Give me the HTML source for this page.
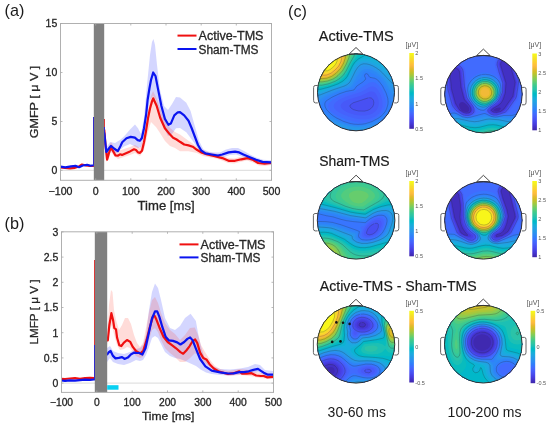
<!DOCTYPE html>
<html><head><meta charset="utf-8"><style>html,body{margin:0;padding:0;background:#fff;overflow:hidden;}svg{display:block;filter:blur(0.4px);}</style></head><body>
<svg width="550" height="426" viewBox="0 0 550 426" font-family="'Liberation Sans', sans-serif">
<rect width="550" height="426" fill="#ffffff"/>
<text x="4.5" y="15.7" font-size="16.2" text-anchor="start" fill="#1a1a1a" >(a)</text>
<polygon points="104.3,128.0 106.0,148.0 110.0,142.0 115.0,143.0 120.0,140.0 124.0,136.6 130.0,129.6 135.0,124.6 138.0,128.2 141.0,134.0 144.0,118.0 147.0,85.0 150.0,55.0 152.0,42.0 153.5,39.0 155.0,45.0 157.0,65.0 160.0,90.0 164.0,106.0 168.0,110.0 172.0,104.0 176.0,97.0 180.0,97.4 186.3,102.7 190.6,111.1 194.8,126.0 199.0,140.7 203.3,149.2 208.0,151.5 214.0,152.5 220.0,152.5 226.0,149.5 232.0,148.0 238.0,148.0 244.0,151.0 250.0,154.5 256.0,157.5 263.0,159.8 271.0,160.3 271.0,164.5 262.0,164.0 255.0,162.0 248.0,159.5 242.0,156.5 236.0,154.5 230.0,155.0 224.0,157.0 218.0,157.8 212.0,156.8 205.0,155.5 201.1,152.4 196.9,147.0 192.7,140.7 186.3,132.3 180.0,128.0 176.0,128.3 172.0,134.0 168.0,136.0 164.0,128.0 160.0,116.0 156.0,100.0 153.0,96.0 150.0,100.0 147.0,113.0 144.0,136.0 141.0,147.0 138.0,148.0 135.0,146.5 130.0,144.0 124.0,146.5 120.0,150.0 115.0,154.0 110.0,150.0 106.0,156.0 104.3,138.0" fill="#3c46ff" fill-opacity="0.22"/>
<polygon points="104.3,126.0 106.0,152.0 109.0,146.0 111.0,142.0 114.0,147.0 118.0,151.0 124.0,149.0 130.0,147.0 135.0,145.0 140.0,148.0 144.0,136.0 148.0,110.0 151.0,96.0 153.0,91.0 156.0,97.0 160.0,108.0 165.0,120.0 170.0,128.0 175.0,132.0 180.0,134.4 188.5,140.7 196.9,146.5 203.0,150.5 210.0,152.5 216.0,153.8 222.0,155.5 228.0,158.0 234.0,158.5 240.0,157.0 247.0,156.0 253.0,157.5 259.0,161.0 265.0,161.5 271.0,161.0 271.0,165.0 265.0,166.0 259.0,165.5 253.0,162.5 247.0,160.5 240.0,162.0 234.0,163.5 228.0,163.0 222.0,160.5 216.0,158.5 210.0,157.5 203.0,156.0 196.9,153.0 188.5,151.3 180.0,151.3 175.0,148.0 170.0,146.0 165.0,141.0 160.0,133.0 156.0,127.0 153.0,124.0 151.0,122.0 148.0,132.0 144.0,150.0 140.0,156.0 135.0,153.0 130.0,155.0 124.0,157.0 118.0,159.0 114.0,156.0 111.0,152.0 109.0,158.0 106.0,162.0 104.3,134.0" fill="#ff3020" fill-opacity="0.17"/>
<line x1="60.5" y1="170.3" x2="271.5" y2="170.3" stroke="#dadada" stroke-width="1"/>
<polyline points="60.5,167.5 65.0,168.0 70.0,168.3 75.0,167.8 79.0,166.5 82.0,164.5 86.0,165.5 90.0,166.0 93.4,166.0 94.2,166.0 94.2,117.0" fill="none" stroke="#f01010" stroke-width="2.2" stroke-linejoin="round"/>
<polyline points="103.8,119.0 103.8,130.0 104.3,130.0 105.5,145.0 107.1,159.6 109.0,153.0 110.9,147.4 113.0,151.0 115.5,155.5 118.0,155.6 120.0,154.3 122.0,154.9 126.0,153.2 130.0,151.4 134.0,149.3 136.0,150.0 138.0,152.4 140.0,152.8 142.0,150.7 144.0,142.3 146.0,131.0 148.0,118.3 150.0,108.5 152.0,101.4 153.2,98.3 156.7,106.0 160.2,117.7 164.9,128.3 169.6,134.1 173.1,137.7 176.6,139.5 180.0,141.8 184.2,144.5 188.5,145.4 192.7,146.7 196.9,149.8 201.1,152.4 207.5,154.5 213.8,156.0 222.3,158.1 228.6,160.8 235.0,160.8 241.3,159.3 247.7,158.1 252.9,159.8 258.2,163.0 264.6,163.6 271.0,162.9" fill="none" stroke="#f01010" stroke-width="2.2" stroke-linejoin="round"/>
<polyline points="60.5,166.6 65.3,167.4 71.1,166.3 75.5,165.9 79.1,167.2 82.7,165.5 87.1,164.8 90.7,165.8 93.4,165.2 94.2,165.2 94.2,117.0" fill="none" stroke="#0a14f0" stroke-width="2.2" stroke-linejoin="round"/>
<polyline points="103.8,127.0 103.8,133.0 104.3,133.0 106.3,152.0 108.5,149.0 110.9,145.9 114.0,148.5 117.8,151.2 120.5,146.0 122.2,142.3 126.5,138.3 130.7,136.9 134.9,137.7 137.7,140.1 139.8,140.8 141.9,138.0 144.0,128.2 146.2,114.1 147.6,100.0 149.5,88.0 151.0,80.0 153.2,72.5 155.5,76.0 157.9,88.4 161.4,106.0 164.9,118.9 168.4,124.8 170.8,123.6 174.3,115.4 177.8,112.3 180.0,112.2 184.2,115.4 188.5,120.7 191.6,128.0 194.8,136.5 198.0,145.0 201.1,150.3 205.4,153.4 211.7,154.5 218.0,155.5 222.3,154.5 228.6,152.4 235.0,151.7 239.2,152.4 243.4,154.5 249.8,157.2 256.1,159.8 262.5,161.9 271.0,162.3" fill="none" stroke="#0a14f0" stroke-width="2.2" stroke-linejoin="round"/>
<rect x="93.8" y="23.5" width="10.4" height="156.8" fill="#808080"/>

<rect x="60.5" y="23.5" width="211.0" height="156.8" fill="none" stroke="#b0b0b0" stroke-width="1"/>
<line x1="60.5" y1="180.3" x2="60.5" y2="178.3" stroke="#a8a8a8" stroke-width="0.8"/>
<line x1="60.5" y1="23.5" x2="60.5" y2="25.5" stroke="#a8a8a8" stroke-width="0.8"/>
<text x="60.5" y="195.0" font-size="10.6" text-anchor="middle" fill="#262626" stroke="#262626" stroke-width="0.30" >&#8722;100</text>
<line x1="95.7" y1="180.3" x2="95.7" y2="178.3" stroke="#a8a8a8" stroke-width="0.8"/>
<line x1="95.7" y1="23.5" x2="95.7" y2="25.5" stroke="#a8a8a8" stroke-width="0.8"/>
<text x="95.7" y="195.0" font-size="10.6" text-anchor="middle" fill="#262626" stroke="#262626" stroke-width="0.30" >0</text>
<line x1="130.8" y1="180.3" x2="130.8" y2="178.3" stroke="#a8a8a8" stroke-width="0.8"/>
<line x1="130.8" y1="23.5" x2="130.8" y2="25.5" stroke="#a8a8a8" stroke-width="0.8"/>
<text x="130.8" y="195.0" font-size="10.6" text-anchor="middle" fill="#262626" stroke="#262626" stroke-width="0.30" >100</text>
<line x1="166.0" y1="180.3" x2="166.0" y2="178.3" stroke="#a8a8a8" stroke-width="0.8"/>
<line x1="166.0" y1="23.5" x2="166.0" y2="25.5" stroke="#a8a8a8" stroke-width="0.8"/>
<text x="166.0" y="195.0" font-size="10.6" text-anchor="middle" fill="#262626" stroke="#262626" stroke-width="0.30" >200</text>
<line x1="201.2" y1="180.3" x2="201.2" y2="178.3" stroke="#a8a8a8" stroke-width="0.8"/>
<line x1="201.2" y1="23.5" x2="201.2" y2="25.5" stroke="#a8a8a8" stroke-width="0.8"/>
<text x="201.2" y="195.0" font-size="10.6" text-anchor="middle" fill="#262626" stroke="#262626" stroke-width="0.30" >300</text>
<line x1="236.3" y1="180.3" x2="236.3" y2="178.3" stroke="#a8a8a8" stroke-width="0.8"/>
<line x1="236.3" y1="23.5" x2="236.3" y2="25.5" stroke="#a8a8a8" stroke-width="0.8"/>
<text x="236.3" y="195.0" font-size="10.6" text-anchor="middle" fill="#262626" stroke="#262626" stroke-width="0.30" >400</text>
<line x1="271.5" y1="180.3" x2="271.5" y2="178.3" stroke="#a8a8a8" stroke-width="0.8"/>
<line x1="271.5" y1="23.5" x2="271.5" y2="25.5" stroke="#a8a8a8" stroke-width="0.8"/>
<text x="271.5" y="195.0" font-size="10.6" text-anchor="middle" fill="#262626" stroke="#262626" stroke-width="0.30" >500</text>
<line x1="60.5" y1="170.3" x2="62.5" y2="170.3" stroke="#a8a8a8" stroke-width="0.8"/>
<line x1="271.5" y1="170.3" x2="269.5" y2="170.3" stroke="#a8a8a8" stroke-width="0.8"/>
<text x="57.3" y="174.1" font-size="10.5" text-anchor="end" fill="#262626" stroke="#262626" stroke-width="0.30" >0</text>
<line x1="60.5" y1="121.5" x2="62.5" y2="121.5" stroke="#a8a8a8" stroke-width="0.8"/>
<line x1="271.5" y1="121.5" x2="269.5" y2="121.5" stroke="#a8a8a8" stroke-width="0.8"/>
<text x="57.3" y="125.3" font-size="10.5" text-anchor="end" fill="#262626" stroke="#262626" stroke-width="0.30" >5</text>
<line x1="60.5" y1="72.5" x2="62.5" y2="72.5" stroke="#a8a8a8" stroke-width="0.8"/>
<line x1="271.5" y1="72.5" x2="269.5" y2="72.5" stroke="#a8a8a8" stroke-width="0.8"/>
<text x="57.3" y="76.3" font-size="10.5" text-anchor="end" fill="#262626" stroke="#262626" stroke-width="0.30" >10</text>
<line x1="60.5" y1="23.5" x2="62.5" y2="23.5" stroke="#a8a8a8" stroke-width="0.8"/>
<line x1="271.5" y1="23.5" x2="269.5" y2="23.5" stroke="#a8a8a8" stroke-width="0.8"/>
<text x="57.3" y="27.3" font-size="10.5" text-anchor="end" fill="#262626" stroke="#262626" stroke-width="0.30" >15</text>
<text transform="translate(37.8,102.0) rotate(-90)" font-size="11.6" text-anchor="middle" fill="#262626" stroke="#262626" stroke-width="0.3" textLength="72.7" lengthAdjust="spacingAndGlyphs">GMFP [ &#956; V ]</text>
<text x="166.1" y="210.0" font-size="12.5" text-anchor="middle" fill="#262626" stroke="#262626" stroke-width="0.30" textLength="57.0" lengthAdjust="spacingAndGlyphs" >Time [ms]</text>
<line x1="177.5" y1="35.6" x2="196.5" y2="35.6" stroke="#f01010" stroke-width="2"/>
<line x1="177.5" y1="49.0" x2="196.5" y2="49.0" stroke="#0a14f0" stroke-width="2"/>
<text x="198.5" y="40.2" font-size="12.5" text-anchor="start" fill="#262626" stroke="#262626" stroke-width="0.30" textLength="65.0" lengthAdjust="spacingAndGlyphs" >Active-TMS</text>
<text x="198.5" y="53.6" font-size="12.5" text-anchor="start" fill="#262626" stroke="#262626" stroke-width="0.30" textLength="60.0" lengthAdjust="spacingAndGlyphs" >Sham-TMS</text>
<text x="4.5" y="228.6" font-size="16.2" text-anchor="start" fill="#1a1a1a" >(b)</text>
<polygon points="107.0,348.0 110.0,346.0 113.0,351.0 118.0,353.0 124.0,354.0 130.0,352.0 136.0,349.0 140.0,348.0 143.0,345.0 146.0,335.0 149.0,310.0 152.0,292.0 155.0,283.5 158.0,288.0 161.0,300.0 165.0,318.0 170.0,328.0 175.0,330.0 180.0,326.0 185.0,318.0 190.6,313.7 195.9,321.0 198.0,333.0 201.0,346.5 204.0,356.0 207.5,362.0 212.0,366.0 220.0,369.0 230.0,369.5 240.0,368.5 248.0,367.0 255.0,364.0 260.0,365.0 265.0,370.0 273.0,371.0 273.0,377.0 267.0,377.0 262.0,374.0 258.0,372.0 250.0,373.5 240.0,374.5 230.0,375.5 220.0,375.0 211.7,374.0 206.0,372.5 201.0,369.8 196.0,366.0 190.6,363.4 185.0,361.0 180.0,359.0 175.0,358.0 170.0,356.0 165.0,352.0 161.0,344.0 158.0,338.0 155.0,336.0 152.0,338.0 149.0,347.0 146.0,355.0 143.0,360.0 140.0,361.0 136.0,360.0 130.0,363.0 124.0,365.0 118.0,364.0 113.0,362.0 110.0,358.0 107.0,362.0" fill="#3c46ff" fill-opacity="0.22"/>
<polygon points="107.5,330.0 109.0,305.0 111.0,290.0 112.5,292.0 114.0,310.0 116.0,320.0 119.0,330.0 122.0,325.0 125.0,318.0 128.0,318.0 131.0,324.0 134.0,335.0 137.0,343.0 140.0,347.0 143.0,343.0 146.0,328.0 149.0,312.0 152.0,300.0 155.0,297.0 158.0,303.0 161.0,313.0 165.0,323.0 170.0,330.0 175.0,334.0 180.0,340.0 185.0,335.0 190.0,328.0 194.8,327.5 198.0,335.0 201.0,345.0 205.0,352.0 210.0,360.0 215.0,366.0 220.0,369.0 228.0,371.0 240.0,369.0 250.0,370.0 260.0,373.0 273.0,374.0 273.0,379.0 260.0,378.0 250.0,376.0 240.0,375.0 228.0,376.0 220.0,373.0 215.0,371.0 210.0,367.0 205.0,363.0 201.0,360.0 198.0,356.0 195.0,353.0 190.0,358.0 185.0,362.0 180.0,362.0 175.0,357.0 170.0,353.0 165.0,348.0 161.0,340.0 158.0,332.0 155.0,328.0 152.0,330.0 149.0,340.0 146.0,350.0 143.0,357.0 140.0,358.0 136.0,356.0 133.0,352.0 130.0,348.0 127.0,347.0 124.0,349.0 120.0,350.0 117.0,345.0 115.0,338.0 113.0,330.0 111.0,325.0 109.0,335.0 107.5,345.0" fill="#ff3020" fill-opacity="0.17"/>
<line x1="61.5" y1="383.1" x2="273.5" y2="383.1" stroke="#dadada" stroke-width="1"/>
<polyline points="61.5,378.9 65.0,379.0 70.0,378.5 75.0,378.2 80.0,378.8 85.0,378.0 90.0,377.8 93.9,378.2 95.2,378.2 95.2,260.0" fill="none" stroke="#f01010" stroke-width="2.2" stroke-linejoin="round"/>
<polyline points="106.8,340.0 106.8,340.3 107.8,340.3 109.4,324.7 111.4,313.2 113.0,319.7 114.3,328.0 116.0,329.3 117.1,337.8 119.3,345.2 121.3,346.1 123.7,342.8 127.0,340.0 130.3,341.9 132.8,346.9 136.0,351.0 140.3,353.6 143.4,350.4 146.6,339.9 149.8,327.2 152.9,316.6 154.4,315.6 156.1,318.8 159.3,327.2 163.5,336.7 167.7,342.0 171.9,345.1 176.1,348.3 180.4,352.1 183.2,353.7 186.3,350.5 189.5,346.3 192.7,341.0 195.2,339.5 197.3,343.1 200.1,352.6 203.2,357.9 206.4,359.4 209.6,364.2 213.8,368.5 219.1,371.6 228.0,374.0 233.6,373.2 239.3,371.3 242.1,373.6 246.8,373.6 251.5,373.2 256.2,375.5 260.9,376.0 263.7,376.0 267.4,377.4 273.1,376.9" fill="none" stroke="#f01010" stroke-width="2.2" stroke-linejoin="round"/>
<polyline points="61.5,380.5 65.0,380.8 70.0,380.3 75.0,380.7 80.0,380.2 85.0,379.6 90.0,379.8 93.9,379.5 95.2,379.5 95.2,345.0" fill="none" stroke="#0a14f0" stroke-width="2.2" stroke-linejoin="round"/>
<polyline points="106.8,354.0 106.8,354.3 107.3,354.3 108.5,352.5 110.6,351.0 113.0,355.9 115.5,358.4 118.8,357.9 122.1,357.2 124.5,358.9 127.8,357.6 131.1,354.3 134.4,352.6 137.0,353.0 139.2,352.9 142.4,354.6 145.5,348.3 148.7,333.5 151.9,318.8 155.0,311.4 157.2,311.4 159.3,316.6 162.4,327.2 165.6,336.7 168.8,340.3 173.0,340.9 177.2,342.4 180.4,344.5 184.2,342.0 187.4,338.9 190.1,337.4 192.7,340.4 195.8,348.4 200.1,359.0 205.4,366.3 211.7,370.6 220.1,372.3 228.0,373.5 233.6,373.4 239.3,372.2 244.0,372.2 248.7,371.3 253.4,369.9 258.0,368.9 260.9,370.8 263.7,372.7 267.4,374.6 273.1,374.6" fill="none" stroke="#0a14f0" stroke-width="2.2" stroke-linejoin="round"/>
<rect x="94.8" y="231.8" width="12.4" height="160.6" fill="#808080"/>
<rect x="107.2" y="385.2" width="11.3" height="4.5" fill="#08d0f2"/>
<rect x="61.5" y="231.8" width="212.0" height="160.6" fill="none" stroke="#b0b0b0" stroke-width="1"/>
<line x1="61.5" y1="392.4" x2="61.5" y2="390.4" stroke="#a8a8a8" stroke-width="0.8"/>
<line x1="61.5" y1="231.8" x2="61.5" y2="233.8" stroke="#a8a8a8" stroke-width="0.8"/>
<text x="61.5" y="406.3" font-size="10.3" text-anchor="middle" fill="#262626" stroke="#262626" stroke-width="0.30" >&#8722;100</text>
<line x1="96.8" y1="392.4" x2="96.8" y2="390.4" stroke="#a8a8a8" stroke-width="0.8"/>
<line x1="96.8" y1="231.8" x2="96.8" y2="233.8" stroke="#a8a8a8" stroke-width="0.8"/>
<text x="96.8" y="406.3" font-size="10.3" text-anchor="middle" fill="#262626" stroke="#262626" stroke-width="0.30" >0</text>
<line x1="132.2" y1="392.4" x2="132.2" y2="390.4" stroke="#a8a8a8" stroke-width="0.8"/>
<line x1="132.2" y1="231.8" x2="132.2" y2="233.8" stroke="#a8a8a8" stroke-width="0.8"/>
<text x="132.2" y="406.3" font-size="10.3" text-anchor="middle" fill="#262626" stroke="#262626" stroke-width="0.30" >100</text>
<line x1="167.5" y1="392.4" x2="167.5" y2="390.4" stroke="#a8a8a8" stroke-width="0.8"/>
<line x1="167.5" y1="231.8" x2="167.5" y2="233.8" stroke="#a8a8a8" stroke-width="0.8"/>
<text x="167.5" y="406.3" font-size="10.3" text-anchor="middle" fill="#262626" stroke="#262626" stroke-width="0.30" >200</text>
<line x1="202.8" y1="392.4" x2="202.8" y2="390.4" stroke="#a8a8a8" stroke-width="0.8"/>
<line x1="202.8" y1="231.8" x2="202.8" y2="233.8" stroke="#a8a8a8" stroke-width="0.8"/>
<text x="202.8" y="406.3" font-size="10.3" text-anchor="middle" fill="#262626" stroke="#262626" stroke-width="0.30" >300</text>
<line x1="238.2" y1="392.4" x2="238.2" y2="390.4" stroke="#a8a8a8" stroke-width="0.8"/>
<line x1="238.2" y1="231.8" x2="238.2" y2="233.8" stroke="#a8a8a8" stroke-width="0.8"/>
<text x="238.2" y="406.3" font-size="10.3" text-anchor="middle" fill="#262626" stroke="#262626" stroke-width="0.30" >400</text>
<line x1="273.5" y1="392.4" x2="273.5" y2="390.4" stroke="#a8a8a8" stroke-width="0.8"/>
<line x1="273.5" y1="231.8" x2="273.5" y2="233.8" stroke="#a8a8a8" stroke-width="0.8"/>
<text x="273.5" y="406.3" font-size="10.3" text-anchor="middle" fill="#262626" stroke="#262626" stroke-width="0.30" >500</text>
<line x1="61.5" y1="383.1" x2="63.5" y2="383.1" stroke="#a8a8a8" stroke-width="0.8"/>
<line x1="273.5" y1="383.1" x2="271.5" y2="383.1" stroke="#a8a8a8" stroke-width="0.8"/>
<text x="58.3" y="386.9" font-size="10.5" text-anchor="end" fill="#262626" stroke="#262626" stroke-width="0.30" >0</text>
<line x1="61.5" y1="357.9" x2="63.5" y2="357.9" stroke="#a8a8a8" stroke-width="0.8"/>
<line x1="273.5" y1="357.9" x2="271.5" y2="357.9" stroke="#a8a8a8" stroke-width="0.8"/>
<text x="58.3" y="361.7" font-size="10.5" text-anchor="end" fill="#262626" stroke="#262626" stroke-width="0.30" >0.5</text>
<line x1="61.5" y1="332.7" x2="63.5" y2="332.7" stroke="#a8a8a8" stroke-width="0.8"/>
<line x1="273.5" y1="332.7" x2="271.5" y2="332.7" stroke="#a8a8a8" stroke-width="0.8"/>
<text x="58.3" y="336.5" font-size="10.5" text-anchor="end" fill="#262626" stroke="#262626" stroke-width="0.30" >1</text>
<line x1="61.5" y1="307.5" x2="63.5" y2="307.5" stroke="#a8a8a8" stroke-width="0.8"/>
<line x1="273.5" y1="307.5" x2="271.5" y2="307.5" stroke="#a8a8a8" stroke-width="0.8"/>
<text x="58.3" y="311.3" font-size="10.5" text-anchor="end" fill="#262626" stroke="#262626" stroke-width="0.30" >1.5</text>
<line x1="61.5" y1="282.3" x2="63.5" y2="282.3" stroke="#a8a8a8" stroke-width="0.8"/>
<line x1="273.5" y1="282.3" x2="271.5" y2="282.3" stroke="#a8a8a8" stroke-width="0.8"/>
<text x="58.3" y="286.1" font-size="10.5" text-anchor="end" fill="#262626" stroke="#262626" stroke-width="0.30" >2</text>
<line x1="61.5" y1="257.1" x2="63.5" y2="257.1" stroke="#a8a8a8" stroke-width="0.8"/>
<line x1="273.5" y1="257.1" x2="271.5" y2="257.1" stroke="#a8a8a8" stroke-width="0.8"/>
<text x="58.3" y="260.9" font-size="10.5" text-anchor="end" fill="#262626" stroke="#262626" stroke-width="0.30" >2.5</text>
<line x1="61.5" y1="231.9" x2="63.5" y2="231.9" stroke="#a8a8a8" stroke-width="0.8"/>
<line x1="273.5" y1="231.9" x2="271.5" y2="231.9" stroke="#a8a8a8" stroke-width="0.8"/>
<text x="58.3" y="235.7" font-size="10.5" text-anchor="end" fill="#262626" stroke="#262626" stroke-width="0.30" >3</text>
<text transform="translate(38.3,312.0) rotate(-90)" font-size="11.6" text-anchor="middle" fill="#262626" stroke="#262626" stroke-width="0.3" textLength="65.2" lengthAdjust="spacingAndGlyphs">LMFP [ &#956; V ]</text>
<text x="168.2" y="420.4" font-size="11.8" text-anchor="middle" fill="#262626" stroke="#262626" stroke-width="0.30" textLength="52.5" lengthAdjust="spacingAndGlyphs" >Time [ms]</text>
<line x1="179.5" y1="244.4" x2="198.5" y2="244.4" stroke="#f01010" stroke-width="2"/>
<line x1="179.5" y1="257.4" x2="198.5" y2="257.4" stroke="#0a14f0" stroke-width="2"/>
<text x="200.5" y="249.0" font-size="12.5" text-anchor="start" fill="#262626" stroke="#262626" stroke-width="0.30" textLength="65.0" lengthAdjust="spacingAndGlyphs" >Active-TMS</text>
<text x="200.5" y="262.0" font-size="12.5" text-anchor="start" fill="#262626" stroke="#262626" stroke-width="0.30" textLength="60.0" lengthAdjust="spacingAndGlyphs" >Sham-TMS</text>
<text x="288.0" y="17.3" font-size="16.2" text-anchor="start" fill="#1a1a1a" >(c)</text>
<text x="318.8" y="41.0" font-size="15.5" text-anchor="start" fill="#1a1a1a" stroke="#1a1a1a" stroke-width="0.20" textLength="75.0" lengthAdjust="spacingAndGlyphs" >Active-TMS</text>
<text x="319.2" y="166.1" font-size="15.5" text-anchor="start" fill="#1a1a1a" stroke="#1a1a1a" stroke-width="0.20" textLength="70.4" lengthAdjust="spacingAndGlyphs" >Sham-TMS</text>
<text x="319.8" y="291.3" font-size="15.5" text-anchor="start" fill="#1a1a1a" stroke="#1a1a1a" stroke-width="0.20" textLength="157.0" lengthAdjust="spacingAndGlyphs" >Active-TMS - Sham-TMS</text>
<text x="327.6" y="416.8" font-size="14.0" text-anchor="start" fill="#1a1a1a" >30-60 ms</text>
<text x="447.6" y="416.8" font-size="14.0" text-anchor="start" fill="#1a1a1a" >100-200 ms</text>
<clipPath id="clip_m1"><circle cx="356.00" cy="92.30" r="38.50"/></clipPath>
<g clip-path="url(#clip_m1)">
<rect x="316.5" y="52.8" width="79.0" height="79.0" fill="#4850f3"/>
<path d="M349.1 52.1 362.9 52.1 363.6 52.8 365.7 52.8 366.4 53.5 368.5 53.5 369.2 54.2 370.6 54.2 371.2 54.9 371.9 54.9 372.6 55.6 373.3 55.6 375.4 57 376.1 57 376.8 57.6 377.5 57.6 378.9 59 379.6 59 382.3 61.8 383 61.8 386.5 65.3 386.5 66 389.3 68.7 389.3 69.4 390.6 70.8 390.6 71.5 391.3 72.2 391.3 72.9 392.7 75 392.7 75.7 394.1 77.7 394.1 79.1 394.8 79.8 394.8 81.9 395.5 82.6 395.5 84.7 396.2 85.4 396.2 99.2 395.5 99.9 395.5 102 394.8 102.7 394.8 104.8 394.1 105.5 394.1 106.9 392.7 108.9 392.7 109.6 391.3 111.7 391.3 112.4 390.6 113.1 390.6 113.8 389.3 115.2 389.3 115.9 386.5 118.6 386.5 119.3 383 122.8 382.3 122.8 379.6 125.6 378.9 125.6 377.5 127 376.8 127 376.1 127.6 375.4 127.6 374.7 128.3 374 128.3 373.3 129 372.6 129 371.9 129.7 371.2 129.7 370.6 130.4 369.2 130.4 368.5 131.1 366.4 131.1 365.7 131.8 363.6 131.8 362.9 132.5 349.1 132.5 348.4 131.8 346.3 131.8 345.6 131.1 343.5 131.1 342.8 130.4 341.4 130.4 340.8 129.7 340.1 129.7 339.4 129 338.7 129 338 128.3 337.3 128.3 336.6 127.6 335.9 127.6 335.2 127 334.5 127 333.1 125.6 332.4 125.6 329.7 122.8 329 122.8 325.5 119.3 325.5 118.6 322.7 115.9 322.7 115.2 321.4 113.8 321.4 113.1 320.7 112.4 320.7 111.7 319.3 109.6 319.3 108.9 317.9 106.9 317.9 105.5 317.2 104.8 317.2 102.7 316.5 102 316.5 99.9 315.8 99.2 315.8 85.4 316.5 84.7 316.5 82.6 317.2 81.9 317.2 79.8 317.9 79.1 317.9 77.7 319.3 75.7 319.3 75 320.7 72.9 320.7 72.2 321.4 71.5 321.4 70.8 322.7 69.4 322.7 68.7 325.5 66 325.5 65.3 329 61.8 329.7 61.8 332.4 59 333.1 59 334.5 57.6 335.2 57.6 337.3 56.3 338 56.3 338.7 55.6 339.4 55.6 340.1 54.9 340.8 54.9 341.4 54.2 342.8 54.2 343.5 53.5 345.6 53.5 346.3 52.8 348.4 52.8ZM368.3 97.8 353.2 102.8 350.4 104.8 350 105.5 350.1 106.9 351.2 108.2 353.2 109.5 355.6 110.3 358.8 111 364.3 111.1 367.1 110.5 369.2 109.7 371.2 108.3 372.6 106.7 373.5 104.8 373.8 102 373.2 99.9 371.9 98.4 370.6 97.8 368.5 97.8Z" fill="#4759f8"/>
<path d="M349.1 52.1 362.9 52.1 363.6 52.8 365.7 52.8 366.4 53.5 368.5 53.5 369.2 54.2 370.6 54.2 371.2 54.9 371.9 54.9 372.6 55.6 373.3 55.6 375.4 57 376.1 57 376.8 57.6 377.5 57.6 378.9 59 379.6 59 382.3 61.8 383 61.8 386.5 65.3 386.5 66 389.3 68.7 389.3 69.4 390.6 70.8 390.6 71.5 391.3 72.2 391.3 72.9 392.7 75 392.7 75.7 394.1 77.7 394.1 79.1 394.8 79.8 394.8 81.9 395.5 82.6 395.5 84.7 396.2 85.4 396.2 99.2 395.5 99.9 395.5 102 394.8 102.7 394.8 104.8 394.1 105.5 394.1 106.9 392.7 108.9 392.7 109.6 391.3 111.7 391.3 112.4 390.6 113.1 390.6 113.8 389.3 115.2 389.3 115.9 386.5 118.6 386.5 119.3 383 122.8 382.3 122.8 379.6 125.6 378.9 125.6 377.5 127 376.8 127 376.1 127.6 375.4 127.6 374.7 128.3 374 128.3 373.3 129 372.6 129 371.9 129.7 371.2 129.7 370.6 130.4 369.2 130.4 368.5 131.1 366.4 131.1 365.7 131.8 363.6 131.8 362.9 132.5 349.1 132.5 348.4 131.8 346.3 131.8 345.6 131.1 343.5 131.1 342.8 130.4 341.4 130.4 340.8 129.7 340.1 129.7 339.4 129 338.7 129 338 128.3 337.3 128.3 336.6 127.6 335.9 127.6 335.2 127 334.5 127 333.1 125.6 332.4 125.6 329.7 122.8 329 122.8 325.5 119.3 325.5 118.6 322.7 115.9 322.7 115.2 321.4 113.8 321.4 113.1 320.7 112.4 320.7 111.7 319.3 109.6 319.3 108.9 317.9 106.9 317.9 105.5 317.2 104.8 317.2 102.7 316.5 102 316.5 99.9 315.8 99.2 315.8 85.4 316.5 84.7 316.5 82.6 317.2 81.9 317.2 79.8 317.9 79.1 317.9 77.7 319.3 75.7 319.3 75 320.7 72.9 320.7 72.2 321.4 71.5 321.4 70.8 322.7 69.4 322.7 68.7 325.5 66 325.5 65.3 329 61.8 329.7 61.8 332.4 59 333.1 59 334.5 57.6 335.2 57.6 337.3 56.3 338 56.3 338.7 55.6 339.4 55.6 340.1 54.9 340.8 54.9 341.4 54.2 342.8 54.2 343.5 53.5 345.6 53.5 346.3 52.8 348.4 52.8ZM370.1 91.6 360.9 95.8 349.2 99.2 344.4 101.3 342.5 102.7 341.2 104.1 340.7 105.5 341 107.5 342.8 109.6 346.1 111.7 351.1 113.7 356 114.9 360.9 115.5 365 115.5 369.2 114.8 372.6 113.4 375.8 111 377.7 108.2 378.7 104.8 378.7 101.3 377.7 97.2 375.8 93.7 374.7 92.6 373.3 91.7 370.6 91.5Z" fill="#4562fc"/>
<path d="M349.1 52.1 362.9 52.1 363.6 52.8 365.7 52.8 366.4 53.5 368.5 53.5 369.2 54.2 370.6 54.2 371.2 54.9 371.9 54.9 372.6 55.6 373.3 55.6 375.4 57 376.1 57 376.8 57.6 377.5 57.6 378.9 59 379.6 59 382.3 61.8 383 61.8 386.5 65.3 386.5 66 389.3 68.7 389.3 69.4 390.6 70.8 390.6 71.5 391.3 72.2 391.3 72.9 392.7 75 392.7 75.7 394.1 77.7 394.1 79.1 394.8 79.8 394.8 81.9 395.5 82.6 395.5 84.7 396.2 85.4 396.2 99.2 395.5 99.9 395.5 102 394.8 102.7 394.8 104.8 394.1 105.5 394.1 106.9 392.7 108.9 392.7 109.6 391.3 111.7 391.3 112.4 390.6 113.1 390.6 113.8 389.3 115.2 389.3 115.9 386.5 118.6 386.5 119.3 383 122.8 382.3 122.8 379.6 125.6 378.9 125.6 377.5 127 376.8 127 376.1 127.6 375.4 127.6 374.7 128.3 374 128.3 373.3 129 372.6 129 371.9 129.7 371.2 129.7 370.6 130.4 369.2 130.4 368.5 131.1 366.4 131.1 365.7 131.8 363.6 131.8 362.9 132.5 349.1 132.5 348.4 131.8 346.3 131.8 345.6 131.1 343.5 131.1 342.8 130.4 341.4 130.4 340.8 129.7 340.1 129.7 339.4 129 338.7 129 338 128.3 337.3 128.3 336.6 127.6 335.9 127.6 335.2 127 334.5 127 333.1 125.6 332.4 125.6 329.7 122.8 329 122.8 325.5 119.3 325.5 118.6 322.7 115.9 322.7 115.2 321.4 113.8 321.4 113.1 320.7 112.4 320.7 111.7 319.3 109.6 319.3 108.9 317.9 106.9 317.9 105.5 317.2 104.8 317.2 102.7 316.5 102 316.5 99.9 315.8 99.2 315.8 85.4 316.5 84.7 316.5 82.6 317.2 81.9 317.2 79.8 317.9 79.1 317.9 77.7 319.3 75.7 319.3 75 320.7 72.9 320.7 72.2 321.4 71.5 321.4 70.8 322.7 69.4 322.7 68.7 325.5 66 325.5 65.3 329 61.8 329.7 61.8 332.4 59 333.1 59 334.5 57.6 335.2 57.6 337.3 56.3 338 56.3 338.7 55.6 339.4 55.6 340.1 54.9 340.8 54.9 341.4 54.2 342.8 54.2 343.5 53.5 345.6 53.5 346.3 52.8 348.4 52.8ZM370.6 86.8 368.5 87.6 362.9 90.9 359.5 92.6 345.6 96.8 338.8 99.9 336 102 334.3 104.1 333.8 106.2 334.3 108.2 336.8 111 341.5 113.8 348.4 116.5 355.3 118.4 360.9 119.2 366.4 119.2 371.2 118.3 375.1 116.6 378.9 113.5 381.5 109.6 382.5 106.2 382.4 101.3 380.9 95.6 378.2 90.2 376.8 88.6 374.7 87.1 373.3 86.6 371.2 86.6Z" fill="#416bfe"/>
<path d="M349.1 52.1 362.9 52.1 363.6 52.8 365.7 52.8 366.4 53.5 368.5 53.5 369.2 54.2 370.6 54.2 371.2 54.9 371.9 54.9 372.6 55.6 373.3 55.6 375.4 57 376.1 57 376.8 57.6 377.5 57.6 378.9 59 379.6 59 382.3 61.8 383 61.8 386.5 65.3 386.5 66 389.3 68.7 389.3 69.4 390.6 70.8 390.6 71.5 391.3 72.2 391.3 72.9 392.7 75 392.7 75.7 394.1 77.7 394.1 79.1 394.8 79.8 394.8 81.9 395.5 82.6 395.5 84.7 396.2 85.4 396.2 99.2 395.5 99.9 395.5 102 394.8 102.7 394.8 104.8 394.1 105.5 394.1 106.9 392.7 108.9 392.7 109.6 391.3 111.7 391.3 112.4 390.6 113.1 390.6 113.8 389.3 115.2 389.3 115.9 386.5 118.6 386.5 119.3 383 122.8 382.3 122.8 379.6 125.6 378.9 125.6 377.5 127 376.8 127 376.1 127.6 375.4 127.6 374.7 128.3 374 128.3 373.3 129 372.6 129 371.9 129.7 371.2 129.7 370.6 130.4 369.2 130.4 368.5 131.1 366.4 131.1 365.7 131.8 363.6 131.8 362.9 132.5 349.1 132.5 348.4 131.8 346.3 131.8 345.6 131.1 343.5 131.1 342.8 130.4 341.4 130.4 340.8 129.7 340.1 129.7 339.4 129 338.7 129 338 128.3 337.3 128.3 336.6 127.6 335.9 127.6 335.2 127 334.5 127 333.1 125.6 332.4 125.6 329.7 122.8 329 122.8 325.5 119.3 325.5 118.6 322.7 115.9 322.7 115.2 321.4 113.8 321.4 113.1 320.7 112.4 320.7 111.7 319.3 109.6 319.3 108.9 317.9 106.9 317.9 105.5 317.2 104.8 317.2 102.7 316.5 102 316.5 99.9 315.8 99.2 315.8 85.4 316.5 84.7 316.5 82.6 317.2 81.9 317.2 79.8 317.9 79.1 317.9 77.7 319.3 75.7 319.3 75 320.7 72.9 320.7 72.2 321.4 71.5 321.4 70.8 322.7 69.4 322.7 68.7 325.5 66 325.5 65.3 329 61.8 329.7 61.8 332.4 59 333.1 59 334.5 57.6 335.2 57.6 337.3 56.3 338 56.3 338.7 55.6 339.4 55.6 340.1 54.9 340.8 54.9 341.4 54.2 342.8 54.2 343.5 53.5 345.6 53.5 346.3 52.8 348.4 52.8ZM369.7 82.6 367.1 83.9 360.9 88 356.7 90 355.3 91.8 351 92.3 344.2 94.3 338.7 96.5 333.6 99.2 330.1 102 328.5 104.1 328 106.2 329 109 330.5 111 332.4 112.8 337.3 115.8 347 119.7 355.7 122.1 360.9 122.7 366.4 122.2 371.1 120.7 376.1 118.1 380.6 114.5 383.7 110.3 385 107.5 385.5 105.5 385.8 103.4 385.5 100.6 384.5 96.5 382.8 92.3 380.9 88.6 378.9 85.7 376.8 83.7 374.7 82.5 372.6 82.1 369.9 82.6Z" fill="#3875fe"/>
<path d="M349.1 52.1 362.9 52.1 363.6 52.8 365.7 52.8 366.4 53.5 368.5 53.5 369.2 54.2 370.6 54.2 371.2 54.9 371.9 54.9 372.6 55.6 373.3 55.6 375.4 57 376.1 57 376.8 57.6 377.5 57.6 378.9 59 379.6 59 382.3 61.8 383 61.8 386.5 65.3 386.5 66 389.3 68.7 389.3 69.4 390.6 70.8 390.6 71.5 391.3 72.2 391.3 72.9 392.7 75 392.7 75.7 394.1 77.7 394.1 79.1 394.8 79.8 394.8 81.9 395.5 82.6 395.5 84.7 396.2 85.4 396.2 99.2 395.5 99.9 395.5 102 394.8 102.7 394.8 104.8 394.1 105.5 394.1 106.9 392.7 108.9 392.7 109.6 391.3 111.7 391.3 112.4 390.6 113.1 390.6 113.8 389.3 115.2 389.3 115.9 386.5 118.6 386.5 119.3 383 122.8 382.3 122.8 379.6 125.6 378.9 125.6 377.5 127 376.8 127 376.1 127.6 375.4 127.6 374.7 128.3 374 128.3 373.3 129 372.6 129 371.9 129.7 371.2 129.7 370.6 130.4 369.2 130.4 368.5 131.1 366.4 131.1 365.7 131.8 363.6 131.8 362.9 132.5 349.1 132.5 348.4 131.8 346.3 131.8 345.6 131.1 343.5 131.1 342.8 130.4 341.4 130.4 340.8 129.7 340.1 129.7 339.4 129 338.7 129 338 128.3 337.3 128.3 336.6 127.6 335.9 127.6 335.2 127 334.5 127 333.1 125.6 332.4 125.6 329.7 122.8 329 122.8 325.5 119.3 325.5 118.6 322.7 115.9 322.7 115.2 321.4 113.8 321.4 113.1 320.7 112.4 320.7 111.7 319.3 109.6 319.3 108.9 317.9 106.9 317.9 105.5 317.2 104.8 317.2 102.7 316.5 102 316.5 99.9 315.8 99.2 315.8 85.4 316.5 84.7 316.5 82.6 317.2 81.9 317.2 79.8 317.9 79.1 317.9 77.7 319.3 75.7 319.3 75 320.7 72.9 320.7 72.2 321.4 71.5 321.4 70.8 322.7 69.4 322.7 68.7 325.5 66 325.5 65.3 329 61.8 329.7 61.8 332.4 59 333.1 59 334.5 57.6 335.2 57.6 337.3 56.3 338 56.3 338.7 55.6 339.4 55.6 340.1 54.9 340.8 54.9 341.4 54.2 342.8 54.2 343.5 53.5 345.6 53.5 346.3 52.8 348.4 52.8ZM366.2 73.6 365 74.2 364.6 75 364.7 76.4 365.6 78.4 365.2 79.8 362.9 81.9 356.7 86.2 353.9 90 346.3 91.4 339.5 93.7 332 97.2 326.2 100.9 325.4 102 324.9 103.4 324.8 104.8 325.2 106.9 326.6 109.6 329.8 113.1 333.1 115.8 336.4 117.9 343.5 121.4 350.1 123.5 354.2 124.2 358.1 124.4 362.2 124.2 365.7 123.6 371.9 121.6 378.2 118.3 381.4 115.9 383.5 113.8 385.6 111 386.6 108.9 388 104.1 388.1 101.3 387.8 98.5 386.1 93 382.6 86.1 378.9 81.2 376.8 79.4 374.7 78.3 369.9 77.3 369.2 76.6 367.9 74.3 366.4 73.6Z" fill="#307ffb"/>
<path d="M349.1 52.1 362.9 52.1 363.6 52.8 365.7 52.8 366.4 53.5 368.5 53.5 369.2 54.2 370.6 54.2 371.2 54.9 371.9 54.9 372.6 55.6 373.3 55.6 375.4 57 376.1 57 376.8 57.6 377.5 57.6 378.9 59 379.6 59 382.3 61.8 383 61.8 386.5 65.3 386.5 66 389.3 68.7 389.3 69.4 390.6 70.8 390.6 71.5 391.3 72.2 391.3 72.9 392.7 75 392.7 75.7 394.1 77.7 394.1 79.1 394.8 79.8 394.8 81.9 395.5 82.6 395.5 84.7 396.2 85.4 396.2 99.2 395.5 99.9 395.5 102 394.8 102.7 394.8 104.8 394.1 105.5 394.1 106.9 392.7 108.9 392.7 109.6 391.3 111.7 391.3 112.4 390.6 113.1 390.6 113.8 389.3 115.2 389.3 115.9 386.5 118.6 386.5 119.3 383 122.8 382.3 122.8 379.6 125.6 378.9 125.6 377.5 127 376.8 127 376.1 127.6 375.4 127.6 374.7 128.3 374 128.3 373.3 129 372.6 129 371.9 129.7 371.2 129.7 370.6 130.4 369.2 130.4 368.5 131.1 366.4 131.1 365.7 131.8 363.6 131.8 362.9 132.5 349.1 132.5 348.4 131.8 346.3 131.8 345.6 131.1 343.5 131.1 342.8 130.4 341.4 130.4 340.8 129.7 340.1 129.7 339.4 129 338.7 129 338 128.3 337.3 128.3 336.6 127.6 335.9 127.6 335.2 127 334.5 127 333.1 125.6 332.4 125.6 329.7 122.8 329 122.8 325.5 119.3 325.5 118.6 322.7 115.9 322.7 115.2 321.4 113.8 321.4 113.1 320.7 112.4 320.7 111.7 319.3 109.6 319.3 108.9 317.9 106.9 317.9 105.5 317.2 104.8 317.2 102.7 316.5 102 316.5 99.9 315.8 99.2 315.8 85.4 316.5 84.7 316.5 82.6 317.2 81.9 317.2 79.8 317.9 79.1 317.9 77.7 319.3 75.7 319.3 75 320.7 72.9 320.7 72.2 321.4 71.5 321.4 70.8 322.7 69.4 322.7 68.7 325.5 66 325.5 65.3 329 61.8 329.7 61.8 332.4 59 333.1 59 334.5 57.6 335.2 57.6 337.3 56.3 338 56.3 338.7 55.6 339.4 55.6 340.1 54.9 340.8 54.9 341.4 54.2 342.8 54.2 343.5 53.5 345.6 53.5 346.3 52.8 348.4 52.8ZM365.7 71.5 364.3 72 363.3 72.9 360.9 77.5 356.7 81.9 353.2 87.3 352.4 88.1 350.8 88.8 343.5 90.5 338.1 92.3 330.1 95.8 324.8 98.7 323.1 100.6 320.4 105.5 320.3 107.5 321.3 109.6 323.7 111.7 335 118.6 339.4 121 346.3 123.7 353.9 125.2 361.5 125.2 369.2 123.8 374.7 121.9 381.6 118.9 386.6 115.9 388.6 113.8 390 111.7 390.8 109.6 391.2 106.9 391.1 103.4 390.1 97.8 389 93.7 387.5 90.2 383 82.4 380.5 79.1 378.2 76.8 374.7 74.5 369.2 72.1 367.1 71.5 365.7 71.5Z" fill="#2d87f6"/>
<path d="M349.1 52.1 362.9 52.1 363.6 52.8 365.7 52.8 366.4 53.5 368.5 53.5 369.2 54.2 370.6 54.2 371.2 54.9 371.9 54.9 372.6 55.6 373.3 55.6 375.4 57 376.1 57 376.8 57.6 377.5 57.6 378.9 59 379.6 59 382.3 61.8 383 61.8 385.8 64.6 386.5 65.3 386.5 66 389.3 68.7 389.3 69.4 390.6 70.8 390.6 71.5 391.3 72.2 391.3 72.9 392.7 75 392.7 75.7 394.1 77.7 394.1 79.1 394.8 79.8 394.8 81.9 395.5 82.6 395.5 84.7 396.2 85.4 396.2 99.2 395.7 99.7 393.4 96.6 386.2 83.3 383.3 79.1 380.3 75.7 376.8 72.7 373.3 70.7 369.9 69.3 366.4 68.9 363.6 69.5 360.9 71.5 356.7 77.1 352 85.4 350.5 86.8 348.4 87.7 337.5 90.9 327.3 95.1 324.1 96.7 320.7 99.3 316.5 101.9 316.5 99.9 315.8 99.2 315.8 85.4 316.5 84.7 316.5 82.6 317.2 81.9 317.2 79.8 317.9 79.1 317.9 77.7 319.3 75.7 319.3 75 320.7 72.9 320.7 72.2 321.4 71.5 321.4 70.8 322.7 69.4 322.7 68.7 325.5 66 325.5 65.3 329 61.8 329.7 61.8 332.4 59 333.1 59 334.5 57.6 335.2 57.6 337.3 56.3 338 56.3 338.7 55.6 339.4 55.6 340.1 54.9 340.8 54.9 341.4 54.2 342.8 54.2 343.5 53.5 345.6 53.5 346.3 52.8 348.4 52.8ZM324.1 117.2 331.7 119 344.9 124.4 349.1 125.4 353.2 126.1 357.4 126.4 362.2 126.2 371.9 124.7 381.3 123.8 379.6 125.6 378.9 125.6 377.5 127 376.8 127 376.1 127.6 375.4 127.6 374.7 128.3 374 128.3 373.3 129 372.6 129 371.9 129.7 371.2 129.7 370.6 130.4 369.2 130.4 368.5 131.1 366.4 131.1 365.7 131.8 363.6 131.8 362.9 132.5 349.1 132.5 348.4 131.8 346.3 131.8 345.6 131.1 343.5 131.1 342.8 130.4 341.4 130.4 340.8 129.7 340.1 129.7 339.4 129 338.7 129 338 128.3 337.3 128.3 336.6 127.6 335.9 127.6 335.2 127 334.5 127 333.1 125.6 332.4 125.6 329.7 122.8 329 122.8 325.5 119.3 325.5 118.6 324.1 117.2Z" fill="#2c90f0"/>
<path d="M349.1 52.1 362.9 52.1 363.6 52.8 365.7 52.8 366.4 53.5 368.5 53.5 369.2 54.2 370.6 54.2 371.2 54.9 371.9 54.9 372.6 55.6 373.3 55.6 375.4 57 376.1 57 376.8 57.6 377.5 57.6 378.9 59 379.6 59 382.3 61.8 383 61.8 386.5 65.3 386.5 66 389.3 68.7 389.3 69.4 390.6 70.8 390.6 71.5 391.3 72.2 391.3 72.9 392.7 75 392.7 75.7 394.1 77.7 394.1 79.1 394.8 79.8 394.8 81.9 395.5 82.6 395.5 84.7 396.2 85.4 396.2 91.5 392.7 89 384.6 77.7 381.6 74.5 378.9 71.9 375.4 69.4 371.5 67.4 367.8 66.2 365 66 362.9 66.4 361.5 67 358.8 69.4 356 73.7 351.1 83.3 349 85.4 346.3 86.7 337.5 89.5 330.1 92.3 324.8 94.4 320 97 315.8 98.5 315.8 85.4 316.5 84.7 316.5 82.6 317.2 81.9 317.2 79.8 317.9 79.1 317.9 77.7 319.3 75.7 319.3 75 320.7 72.9 320.7 72.2 321.4 71.5 321.4 70.8 322.7 69.4 322.7 68.7 325.5 66 325.5 65.3 329 61.8 329.7 61.8 332.4 59 333.1 59 334.5 57.6 335.2 57.6 337.3 56.3 338 56.3 338.7 55.6 339.4 55.6 340.1 54.9 340.8 54.9 341.4 54.2 342.8 54.2 343.5 53.5 345.6 53.5 346.3 52.8 348.4 52.8ZM330.4 123.2 336.6 123.5 346.3 126 352.5 127.2 365 127.9 372.6 129.1 370.6 130.4 369.2 130.4 368.5 131.1 366.4 131.1 365.7 131.8 363.6 131.8 362.9 132.5 349.1 132.5 348.4 131.8 346.3 131.8 345.6 131.1 343.5 131.1 342.8 130.4 341.4 130.4 340.8 129.7 340.1 129.7 339.4 129 338.7 129 338 128.3 337.3 128.3 336.6 127.6 335.9 127.6 335.2 127 334.5 127 333.1 125.6 332.4 125.6 330.1 123.2Z" fill="#2798ea"/>
<path d="M349.1 52.1 362.9 52.1 363.6 52.8 365.7 52.8 366.4 53.5 368.5 53.5 369.2 54.2 370.6 54.2 371.2 54.9 371.9 54.9 372.6 55.6 373.3 55.6 375.4 57 376.1 57 376.8 57.6 377.5 57.6 378.9 59 379.6 59 382.3 61.8 383 61.8 386.5 65.3 386.5 66 389.3 68.7 389.3 69.4 390.6 70.8 390.6 71.5 391.3 72.2 391.3 72.9 392.7 75 392.7 75.7 394.1 77.7 394.1 79.1 394.8 79.8 394.8 81.9 395.5 82.6 395.5 84.4 392.7 83.6 391.3 82.5 382.5 72.9 379.4 70.1 376.1 67.8 372.6 65.8 369.2 64.5 366.4 63.9 363.6 63.8 361.5 64.4 360.2 65.1 357.7 67.4 355.3 71.2 350.4 81.2 349.1 83 347 84.7 344.1 86.1 332 90.2 320.7 94.7 315.8 96 315.8 85.4 316.5 84.7 316.5 82.6 317.2 81.9 317.2 79.8 317.9 79.1 317.9 77.7 318.6 77.1 318.6 76.4 319.3 75.7 319.3 75 320.7 72.9 320.7 72.2 321.4 71.5 321.4 70.8 322.7 69.4 322.7 68.7 325.5 66 325.5 65.3 329 61.8 329.7 61.8 332.4 59 333.1 59 334.5 57.6 335.2 57.6 337.3 56.3 338 56.3 338.7 55.6 339.4 55.6 340.1 54.9 340.8 54.9 341.4 54.2 342.8 54.2 343.5 53.5 345.6 53.5 346.3 52.8 348.4 52.8ZM341.4 129.8 345.6 129.8 350.5 130.3 360.4 132.5 349.1 132.5 348.4 131.8 346.3 131.8 345.6 131.1 343.5 131.1 342.8 130.4 341.4 130.4 340.8 129.8Z" fill="#249fe5"/>
<path d="M349.1 52.1 362.9 52.1 363.6 52.8 365.7 52.8 366.4 53.5 368.5 53.5 369.2 54.2 370.6 54.2 371.2 54.9 371.9 54.9 372.6 55.6 373.3 55.6 375.4 57 376.1 57 376.8 57.6 377.5 57.6 378.9 59 379.6 59 382.3 61.8 383 61.8 386.5 65.3 386.5 66 389.3 68.7 389.3 69.4 390.6 70.8 390.6 71.5 391.3 72.2 391.3 72.9 392 73.6 392 74.3 392.7 75 392.7 75.7 393.4 76.4 393.4 77.1 393.8 77.4 391.3 77.4 390 76.9 379.6 68.2 373.3 64.3 369.9 62.9 367.1 62.1 364.3 61.9 362.2 62.2 359.5 63.4 356.7 65.9 354.6 69.2 349.5 79.8 347.9 81.9 345.6 83.8 341.4 85.8 321.4 92.8 315.8 94 315.8 85.4 316.5 84.7 316.5 82.6 317.2 81.9 317.2 79.8 317.9 79.1 317.9 77.7 318.6 77.1 318.6 76.4 319.3 75.7 319.3 75 320.7 72.9 320.7 72.2 321.4 71.5 321.4 70.8 322.7 69.4 322.7 68.7 325.5 66 325.5 65.3 329 61.8 329.7 61.8 332.4 59 333.1 59 334.5 57.6 335.2 57.6 337.3 56.3 338 56.3 338.7 55.6 339.4 55.6 340.1 54.9 340.8 54.9 341.4 54.2 342.8 54.2 343.5 53.5 345.6 53.5 346.3 52.8 348.4 52.8Z" fill="#1ea7e1"/>
<path d="M349.1 52.1 362.9 52.1 363.6 52.8 365.7 52.8 366.4 53.5 368.5 53.5 369.2 54.2 370.6 54.2 371.2 54.9 371.9 54.9 372.6 55.6 373.3 55.6 375.4 57 376.1 57 376.8 57.6 377.5 57.6 378.9 59 379.6 59 382.3 61.8 383 61.8 386.5 65.3 386.5 66 389.3 68.7 389.3 69.4 389.8 70 387.9 70.4 386.5 70.3 376.8 64.2 370.6 61.3 365.7 60.2 361.5 60.7 358.8 62 356 64.6 353.8 68 348.8 78.4 347 80.8 344.2 83.1 340.1 85.1 328.3 89.3 320.7 91.7 315.8 92.3 315.8 85.4 316.5 84.7 316.5 82.6 317.2 81.9 317.2 79.8 317.9 79.1 317.9 77.7 319.3 75.7 319.3 75 320.7 72.9 320.7 72.2 321.4 71.5 321.4 70.8 322.7 69.4 322.7 68.7 325.5 66 325.5 65.3 329 61.8 329.7 61.8 332.4 59 333.1 59 334.5 57.6 335.2 57.6 337.3 56.3 338 56.3 338.7 55.6 339.4 55.6 340.1 54.9 340.8 54.9 341.4 54.2 342.8 54.2 343.5 53.5 345.6 53.5 346.3 52.8 348.4 52.8Z" fill="#18addb"/>
<path d="M349.1 52.1 362.9 52.1 363.6 52.8 365.7 52.8 366.4 53.5 368.5 53.5 369.2 54.2 370.6 54.2 371.2 54.9 371.9 54.9 372.6 55.6 373.3 55.6 375.4 57 376.1 57 376.8 57.6 377.5 57.6 378.9 59 379.6 59 381.2 60.7 379.6 61.5 378.2 61.5 371.9 59.3 367.1 58.4 363.6 58.5 360.2 59.6 357.4 61.3 355 63.9 353.2 66.7 347.8 77.7 346.1 79.8 343.5 82.1 338.7 84.6 329 88 320.7 90.4 315.8 90.8 315.8 85.4 316.5 84.7 316.5 82.6 317.2 81.9 317.2 79.8 317.9 79.1 317.9 77.7 319.3 75.7 319.3 75 320.7 72.9 320.7 72.2 321.4 71.5 321.4 70.8 322.7 69.4 322.7 68.7 325.5 66 325.5 65.3 329 61.8 329.7 61.8 332.4 59 333.1 59 334.5 57.6 335.2 57.6 337.3 56.3 338 56.3 338.7 55.6 339.4 55.6 340.1 54.9 340.8 54.9 341.4 54.2 342.8 54.2 343.5 53.5 345.6 53.5 346.3 52.8 348.4 52.8Z" fill="#0cb3d3"/>
<path d="M349.1 52.1 362.9 52.1 363.6 52.8 365.5 52.8 364.9 54.9 364.4 55.6 358.1 59.2 354.6 62.5 352.4 66 347.3 76.4 345.6 78.6 342.7 81.2 338 83.9 329 87.1 320.7 89.3 315.8 89.5 315.8 85.4 316.5 84.7 316.5 82.6 317.2 81.9 317.2 79.8 317.9 79.1 317.9 77.7 319.3 75.7 319.3 75 320.7 72.9 320.7 72.2 321.4 71.5 321.4 70.8 322.7 69.4 322.7 68.7 325.5 66 325.5 65.3 329 61.8 329.7 61.8 332.4 59 333.1 59 334.5 57.6 335.2 57.6 337.3 56.3 338 56.3 338.7 55.6 339.4 55.6 340.1 54.9 340.8 54.9 341.4 54.2 342.8 54.2 343.5 53.5 345.6 53.5 346.3 52.8 348.4 52.8Z" fill="#01b8c9"/>
<path d="M349.1 52.1 361 52.1 360.5 54.9 355.3 60.1 353.2 62.7 347.4 74.3 344.9 77.7 342.1 80.3 340.1 81.8 333.8 84.5 328.3 86.4 322 88 319.3 88.3 315.8 88.2 315.8 85.4 316.5 84.7 316.5 82.6 317.2 81.9 317.2 79.8 317.9 79.1 317.9 77.7 319.3 75.7 319.3 75 320.7 72.9 320.7 72.2 321.4 71.5 321.4 70.8 322.7 69.4 322.7 68.7 325.5 66 325.5 65.3 329 61.8 329.7 61.8 332.4 59 333.1 59 334.5 57.6 335.2 57.6 337.3 56.3 338 56.3 338.7 55.6 339.4 55.6 340.1 54.9 340.8 54.9 341.4 54.2 342.8 54.2 343.5 53.5 345.6 53.5 346.3 52.8 348.4 52.8Z" fill="#08bcbe"/>
<path d="M349.1 52.1 358.2 52.1 358.1 54.2 357 56.3 352.3 62.5 347 73 344.1 77.1 341.4 79.5 339.1 81.2 332.4 84.2 322 87 319.3 87.3 315.8 87.1 315.8 85.4 316.5 84.7 316.5 82.6 317.2 81.9 317.2 79.8 317.9 79.1 317.9 77.7 319.3 75.7 319.3 75 320.7 72.9 320.7 72.2 321.4 71.5 321.4 70.8 322.7 69.4 322.7 68.7 325.5 66 325.5 65.3 329 61.8 329.7 61.8 332.4 59 333.1 59 334.5 57.6 335.2 57.6 337.3 56.3 338 56.3 338.7 55.6 339.4 55.6 340.1 54.9 340.8 54.9 341.4 54.2 342.8 54.2 343.5 53.5 345.6 53.5 346.3 52.8 348.4 52.8Z" fill="#1cc0b4"/>
<path d="M349.1 52.1 356.1 52.1 355.9 54.9 351.1 62.7 346.3 72.5 343.4 76.4 338.5 80.5 331.7 83.6 326.9 85.1 322 86.1 319.3 86.3 315.8 85.9 315.8 85.4 316.5 84.7 316.5 82.6 317.2 81.9 317.2 79.8 317.9 79.1 317.9 77.7 319.3 75.7 319.3 75 320.7 72.9 320.7 72.2 321.4 71.5 321.4 70.8 322.7 69.4 322.7 68.7 325.5 66 325.5 65.3 329 61.8 329.7 61.8 332.4 59 333.1 59 334.5 57.6 335.2 57.6 337.3 56.3 338 56.3 338.7 55.6 339.4 55.6 340.1 54.9 340.8 54.9 341.4 54.2 342.8 54.2 343.5 53.5 345.6 53.5 346.3 52.8 348.4 52.8Z" fill="#2bc3a8"/>
<path d="M349.1 52.1 354.4 52.1 354.4 54.9 353.5 57 350.3 62.5 345.9 71.5 344.2 74 342.1 76.3 337.3 80.2 334 81.9 330.4 83.2 322 85.2 319.3 85.3 316.2 84.9 316.5 84.7 316.5 82.6 317.2 81.9 317.2 79.8 317.9 79.1 317.9 77.7 319.3 75.7 319.3 75 320.7 72.9 320.7 72.2 321.4 71.5 321.4 70.8 322.7 69.4 322.7 68.7 325.5 66 325.5 65.3 328.3 62.5 329 61.8 329.7 61.8 332.4 59 333.1 59 334.5 57.6 335.2 57.6 337.3 56.3 338 56.3 338.7 55.6 339.4 55.6 340.1 54.9 340.8 54.9 341.4 54.2 342.8 54.2 343.5 53.5 345.6 53.5 346.3 52.8 348.4 52.8Z" fill="#34c79c"/>
<path d="M349.1 52.1 352.9 52.1 352.8 55.6 345.6 70.3 343.5 73.5 341.6 75.7 336.6 79.7 330.4 82.5 326.2 83.6 322 84.4 319.3 84.4 316.5 83.9 316.5 82.6 317.2 81.9 317.2 79.8 317.9 79.1 317.9 77.7 319.3 75.7 319.3 75 320.7 72.9 320.7 72.2 321.4 71.5 321.4 70.8 322.7 69.4 322.7 68.7 325.5 66 325.5 65.3 329 61.8 329.7 61.8 332.4 59 333.1 59 334.5 57.6 335.2 57.6 337.3 56.3 338 56.3 338.7 55.6 339.4 55.6 340.1 54.9 340.8 54.9 341.4 54.2 342.8 54.2 343.5 53.5 345.6 53.5 346.3 52.8 348.4 52.8Z" fill="#3fca8e"/>
<path d="M349.1 52.1 351.5 52.1 351.7 54.9 351.2 57 344.9 69.9 342.9 72.9 340.8 75.3 335.9 79.2 329.7 81.9 325.5 83 322 83.5 319.3 83.5 316.5 82.9 317.2 81.9 317.2 79.8 317.9 79.1 317.9 77.7 319.3 75.7 319.3 75 320.7 72.9 320.7 72.2 321.4 71.5 321.4 70.8 322.7 69.4 322.7 68.7 325.5 66 325.5 65.3 329 61.8 329.7 61.8 332.4 59 333.1 59 334.5 57.6 335.2 57.6 337.3 56.3 338 56.3 338.7 55.6 339.4 55.6 340.1 54.9 340.8 54.9 341.4 54.2 342.8 54.2 343.5 53.5 345.6 53.5 346.3 52.8 348.4 52.8Z" fill="#52cc7e"/>
<path d="M349.1 52.1 350.2 52.1 350.6 54.9 350.2 57 349.4 59 343.9 70.1 341.9 72.9 339.1 75.7 334.5 79.1 328.3 81.6 322 82.7 320 82.7 317 82.1 317.2 79.8 317.9 79.1 317.9 77.7 319.3 75.7 319.3 75 320.7 72.9 320.7 72.2 321.4 71.5 321.4 70.8 322.7 69.4 322.7 68.7 325.5 66 325.5 65.3 329 61.8 329.7 61.8 332.4 59 333.1 59 334.5 57.6 335.2 57.6 337.3 56.3 338 56.3 338.7 55.6 339.4 55.6 340.1 54.9 340.8 54.9 341.4 54.2 342.8 54.2 343.5 53.5 345.6 53.5 346.3 52.8 348.4 52.8Z" fill="#66cd6d"/>
<path d="M349.1 52.5 349.4 54.9 349.2 57 345.7 65.3 342.1 71.3 338 75.6 335.9 77.3 333.1 79 327.6 81 322 81.9 320 81.8 317.2 81.1 317.2 79.8 317.9 79.1 317.9 77.7 319.3 75.7 319.3 75 320.7 72.9 320.7 72.2 321.4 71.5 321.4 70.8 322.7 69.4 322.7 68.7 325.5 66 325.5 65.3 329 61.8 329.7 61.8 332.4 59 333.1 59 334.5 57.6 335.2 57.6 337.3 56.3 338 56.3 338.7 55.6 339.4 55.6 340.1 54.9 340.8 54.9 341.4 54.2 342.8 54.2 343.5 53.5 345.6 53.5 346.3 52.8 348.4 52.8 349 52.2Z" fill="#7dcc5c"/>
<path d="M346.3 52.8 348 52.8 348.4 55.6 347.6 59 345.2 64.6 343 68.7 341 71.5 338.3 74.3 333.8 77.7 331.1 79.1 327.6 80.3 322 81.1 320 80.9 317.2 80.1 317.9 79.1 317.9 77.7 319.3 75.7 319.3 75 320.7 72.9 320.7 72.2 321.4 71.5 321.4 70.8 322.7 69.4 322.7 68.7 325.5 66 325.5 65.3 329 61.8 329.7 61.8 332.4 59 333.1 59 334.5 57.6 335.2 57.6 337.3 56.3 338 56.3 338.7 55.6 339.4 55.6 340.1 54.9 340.8 54.9 341.4 54.2 342.8 54.2 343.5 53.5 345.6 53.5Z" fill="#94ca4a"/>
<path d="M346.3 52.8 346.8 52.8 347.4 56.3 347 58.3 345.7 61.8 342.1 68.8 340.1 71.4 337.3 74.2 333.1 77.3 327.6 79.5 322 80.3 320 80 317.7 79.3 317.9 77.7 319.3 75.7 319.3 75 320.7 72.9 320.7 72.2 321.4 71.5 321.4 70.8 322.7 69.4 322.7 68.7 325.5 66 325.5 65.3 329 61.8 329.7 61.8 332.4 59 333.1 59 334.5 57.6 335.2 57.6 337.3 56.3 338 56.3 338.7 55.6 339.4 55.6 340.1 54.9 340.8 54.9 341.4 54.2 342.8 54.2 343.5 53.5 345.6 53.5Z" fill="#aac73a"/>
<path d="M345.9 53.5 346.4 55.6 346.3 57.6 344 63.9 340.8 69.4 336 74.3 331.7 77.2 326.9 79 322 79.5 317.9 78.4 317.9 77.7 318.6 77.1 318.6 76.4 319.3 75.7 319.3 75 320 74.3 320 73.6 320.7 72.9 320.7 72.2 321.4 71.5 321.4 70.8 322.7 69.4 322.7 68.7 325.5 66 325.5 65.3 329 61.8 329.7 61.8 332.4 59 333.1 59 334.5 57.6 335.2 57.6 337.3 56.3 338 56.3 338.7 55.6 339.4 55.6 340.1 54.9 340.8 54.9 341.4 54.2 342.8 54.2 343.5 53.5 345.6 53.5 345.8 53.3Z" fill="#bfc32e"/>
<path d="M343.5 53.5 344.8 53.5 345.4 55.6 345.4 57.6 344.7 60.4 341.4 67.2 339.4 70 337.3 72.1 332.4 76 327.6 78 322.7 78.7 320.7 78.4 318.1 77.5 318.6 77.1 318.6 76.4 319.3 75.7 319.3 75 320 74.3 320 73.6 320.7 72.9 320.7 72.2 321.4 71.5 321.4 70.8 322.7 69.4 322.7 68.7 325.5 66 325.5 65.3 329 61.8 329.7 61.8 332.4 59 333.1 59 334.5 57.6 335.2 57.6 337.3 56.3 338 56.3 338.7 55.6 339.4 55.6 340.1 54.9 340.8 54.9 341.4 54.2 342.8 54.2Z" fill="#d2bf27"/>
<path d="M343.5 53.5 344.5 57 344.3 59 343.4 61.8 341.7 65.3 340.1 67.9 335.9 72.4 331.7 75.5 326.9 77.4 322.7 77.9 320.7 77.5 318.6 76.6 319.3 75.7 319.3 75 320 74.3 320 73.6 320.7 72.9 320.7 72.2 321.4 71.5 321.4 70.8 322.7 69.4 322.7 68.7 325.5 66 325.5 65.3 329 61.8 329.7 61.8 332.4 59 333.1 59 334.5 57.6 335.2 57.6 337.3 56.3 338 56.3 338.7 55.6 339.4 55.6 340.1 54.9 340.8 54.9 341.4 54.2 342.8 54.2Z" fill="#e2bc2b"/>
<path d="M341.4 54.2 342.8 54.2 343.5 56.3 343.5 58.3 343.1 60.4 340.5 66 338.7 68.5 336.6 70.7 332.3 74.3 327.6 76.5 324.8 77 322.7 77 319.1 75.8 319.3 75 320 74.3 320 73.6 320.7 72.9 320.7 72.2 321.4 71.5 321.4 70.8 322.7 69.4 322.7 68.7 325.5 66 325.5 65.3 329 61.8 329.7 61.8 332.4 59 333.1 59 334.5 57.6 335.2 57.6 337.3 56.3 338 56.3 338.7 55.6 339.4 55.6 340.1 54.9 340.8 54.9Z" fill="#f1ba37"/>
<path d="M341.4 54.2 342.4 56.3 342.7 57.6 342 61.1 339.6 66 335.9 70.3 331.7 73.7 327.5 75.7 323.4 76.2 321.4 75.7 319.4 74.8 320 74.3 320 73.6 320.7 72.9 320.7 72.2 321.4 71.5 321.4 70.8 322.7 69.4 322.7 68.7 325.5 66 325.5 65.3 329 61.8 329.7 61.8 332.4 59 333.1 59 334.5 57.6 335.2 57.6 337.3 56.3 338 56.3 338.7 55.6 339.4 55.6 340.1 54.9 340.8 54.9Z" fill="#fcbd3d"/>
<path d="M340.1 54.9 340.7 54.9 341.5 57 341.7 58.3 341.4 60.4 339.2 65.3 335.7 69.4 331.6 72.9 327.6 74.8 325.5 75.3 323.4 75.3 322 75 320 73.9 320.7 72.9 320.7 72.2 321.4 71.5 321.4 70.8 322.7 69.4 322.7 68.7 325.5 66 325.5 65.3 329 61.8 329.7 61.8 332.4 59 333.1 59 334.5 57.6 335.2 57.6 337.3 56.3 338 56.3 338.7 55.6 339.4 55.6Z" fill="#fec537"/>
<path d="M339.7 55.6 340.7 58.3 340.1 61.8 337.8 66 334.5 69.5 330.4 72.7 326.9 74.1 323.4 74.3 320.6 73 320.7 72.2 321.4 71.5 321.4 70.8 322.7 69.4 322.7 68.7 325.5 66 325.5 65.3 329 61.8 329.7 61.8 332.4 59 333.1 59 334.5 57.6 335.2 57.6 335.9 57 336.6 57 337.3 56.3 338 56.3 338.7 55.6 339.6 55.3Z" fill="#fccf30"/>
<path d="M338.7 56.1 339.6 59 338.8 62.5 336.7 66 333.3 69.4 330.4 71.7 326.9 73.2 324.1 73.3 321 71.9 321.4 71.5 321.4 70.8 322.7 69.4 322.7 68.7 325.5 66 325.5 65.3 329 61.8 329.7 61.8 332.4 59 333.1 59 334.5 57.6 335.2 57.6 335.9 57 336.6 57 337.3 56.3 338 56.3 338.5 55.8Z" fill="#f8d92c"/>
<path d="M337.3 56.4 338.5 59 338.1 61.8 336.6 64.7 333.6 68 330 70.8 326.9 72.1 324.1 72.1 321.5 70.6 322.7 69.4 322.7 68.7 325.5 66 325.5 65.3 329 61.8 329.7 61.8 332.4 59 333.1 59 334.5 57.6 335.2 57.6 337.3 56.3Z" fill="#f5e327"/>
<path d="M335.9 57 337 59 337.1 61.1 335.9 63.9 333.7 66.7 330.4 69.4 327.6 70.8 324.8 70.9 322.6 69.6 322.7 68.7 325.5 66 325.5 65.3 329 61.8 329.7 61.8 332.4 59 333.1 59 334.5 57.6 335.2 57.6 335.9 57Z" fill="#f5ed22"/>
<path d="M334.5 58.2 335.7 60.4 335.6 61.8 334.6 63.9 332.4 66.3 329.7 68.4 327.2 69.4 325.5 69.3 323.6 67.9 325.5 66 325.5 65.3 329 61.8 329.7 61.8 332.4 59 333.1 59 334.3 57.9Z" fill="#f8f61a"/>
<path d="M368.5 97.8 353.2 102.8 350.4 104.8 350 105.5 350.1 106.9 351.2 108.2 353.2 109.5 355.6 110.3 358.8 111 364.3 111.1 367.1 110.5 369.2 109.7 371.2 108.3 372.5 106.9 373.5 104.8 373.8 102.7 373.5 100.6 372.6 99 371.2 98 369.2 97.7M366.4 73.6 365 74.2 364.6 75 364.7 76.4 365.6 78.4 365.2 79.8 362.9 81.9 356.7 86.2 353.9 90 346.3 91.4 339.5 93.7 332 97.2 326.2 100.9 325.4 102 324.9 103.4 324.8 104.8 325.2 106.9 326.6 109.6 329.8 113.1 333.1 115.8 336.4 117.9 343.5 121.4 350.1 123.5 354.2 124.2 358.1 124.4 362.2 124.2 365.7 123.6 371.9 121.6 378.2 118.3 381.4 115.9 383.5 113.8 385.6 111 386.6 108.9 388 104.1 388.1 101.3 387.8 98.5 386.1 93 382.6 86.1 378.9 81.2 376.8 79.4 374.7 78.3 369.9 77.3 369.2 76.6 367.9 74.3 366.5 73.6M395.5 84.4 392.7 83.6 391.3 82.5 382.5 72.9 379.4 70.1 376.1 67.8 372.6 65.8 369.2 64.5 366.4 63.9 363.6 63.8 361.5 64.4 360.2 65.1 357.7 67.4 355.3 71.2 350.4 81.2 349.1 83 347 84.7 344.1 86.1 332 90.2 320.7 94.7 315.8 96M340.8 129.8 344.9 129.8 349.8 130.2 360.4 132.5M365.5 52.8 364.9 54.9 364.4 55.6 358.1 59.2 354.6 62.5 352.4 66 347.3 76.4 345.6 78.6 342.7 81.2 338 83.9 329 87.1 320.7 89.3 315.8 89.5M354.4 52.1 354.5 54.2 353.9 56.3 350 63.2 346.2 70.8 343.5 74.9 340.1 78.3 335.2 81.3 328.3 83.9 321.4 85.3 316.2 84.9M349 52.2 349.4 54.9 349.2 57 346 64.6 342.5 70.8 338 75.6 335.9 77.3 333.1 79 327.6 81 322 81.9 320 81.8 317.2 81.1M344.8 53.5 345.4 55.6 345.4 57.6 343.6 63.2 340.4 68.7 335.9 73.4 331.7 76.4 326.9 78.2 322 78.7 318.1 77.5M340.7 54.9 341.5 57 341.7 58.3 340.9 61.8 338.7 66.1 335.2 69.9 331.1 73.2 326.9 75 323.4 75.3 322 75 320 73.9M335.9 57 337 59 337.1 61.1 335.9 63.9 333.7 66.7 330.4 69.4 327.6 70.8 324.8 70.9 322.6 69.6" fill="none" stroke="#2a2a2a" stroke-opacity="0.55" stroke-width="0.45"/>
</g>
<circle cx="356.00" cy="92.30" r="38.50" fill="none" stroke="#333" stroke-width="1"/>
<path d="M349.2 54.0 L356.0 47.5 L362.8 54.0 Z" fill="none" stroke="#333" stroke-width="0.9" stroke-linejoin="miter"/>
<path d="M317.8 85.5 L315.1 85.5 Q313.6 85.5 313.6 87.5 L313.6 100.4 Q313.6 102.9 315.4 102.9 L317.8 102.9" fill="none" stroke="#555" stroke-width="0.9"/>
<path d="M394.2 85.5 L396.9 85.5 Q398.4 85.5 398.4 87.5 L398.4 100.4 Q398.4 102.9 396.6 102.9 L394.2 102.9" fill="none" stroke="#555" stroke-width="0.9"/>
<clipPath id="clip_m2"><circle cx="483.45" cy="94.15" r="38.75"/></clipPath>
<g clip-path="url(#clip_m2)">
<rect x="443.7" y="54.4" width="79.5" height="79.5" fill="#3e26a9"/>
<path d="M476.5 53.7 490.4 53.7 491.1 54.4 493.2 54.4 493.9 55.1 496 55.1 496.7 55.8 498.1 55.8 500.2 57.2 500.9 57.2 501.6 57.9 502.3 57.9 503 58.6 503.7 58.6 504.4 59.3 505.1 59.3 506.5 60.7 507.2 60.7 510 63.5 510.7 63.5 514.1 66.9 514.1 67.6 516.9 70.4 516.9 71.1 518.3 72.5 518.3 73.2 519.7 75.3 519.7 76 521.1 78.1 521.1 78.8 521.8 79.5 521.8 80.9 522.5 81.6 522.5 83.7 523.2 84.4 523.2 86.5 523.9 87.2 523.9 101.1 523.2 101.8 523.2 103.9 522.5 104.6 522.5 106.7 521.8 107.4 521.8 108.8 521.1 109.5 521.1 110.2 520.4 110.9 520.4 111.6 519.7 112.3 519.7 113 518.3 115.1 518.3 115.8 516.9 117.2 516.9 117.9 514.1 120.7 514.1 121.4 510.7 124.8 510 124.8 507.2 127.6 506.5 127.6 505.1 129 504.4 129 503.7 129.7 503 129.7 502.3 130.4 501.6 130.4 500.9 131.1 500.2 131.1 499.5 131.8 498.8 131.8 498.1 132.5 496.7 132.5 496 133.2 493.9 133.2 493.2 133.9 491.1 133.9 490.4 134.6 476.5 134.6 475.8 133.9 473.7 133.9 473 133.2 470.9 133.2 470.2 132.5 468.8 132.5 468.1 131.8 467.4 131.8 466.7 131.1 466 131.1 463.9 129.7 463.2 129.7 462.5 129 461.8 129 460.4 127.6 459.7 127.6 456.9 124.8 456.2 124.8 452.8 121.4 452.8 120.7 450 117.9 450 117.2 448.6 115.8 448.6 115.1 447.9 114.4 447.9 113.7 447.2 113 447.2 112.3 446.5 111.6 446.5 110.9 445.8 110.2 445.8 109.5 445.1 108.8 445.1 107.4 444.4 106.7 444.4 104.6 443.7 103.9 443.7 101.8 443 101.1 443 87.2 443.7 86.5 443.7 84.4 444.4 83.7 444.4 81.6 445.1 80.9 445.1 79.5 446.5 77.4 446.5 76.7 447.2 76 447.2 75.3 448.6 73.2 448.6 72.5 450 71.1 450 70.4 452.8 67.6 452.8 66.9 456.2 63.5 456.9 63.5 459.7 60.7 460.4 60.7 461.8 59.3 462.5 59.3 464.6 57.9 465.3 57.9 466 57.2 466.7 57.2 468.8 55.8 470.2 55.8 470.9 55.1 473 55.1 473.7 54.4 475.8 54.4ZM460.5 102.5 459.1 103.9 459 105.3 459.6 107.4 461.1 110.2 463.2 111.5 465.3 112 467.4 112.1 468.5 111.6 469.2 110.2 469.3 108.8 468.9 107.4 467.9 106 466 104 463.9 102.5 462.5 102 461.1 102.2ZM496.4 108.1 493.9 109.4 493.2 110.2 495.3 111.2 498.1 111.2 499.2 110.9 500.7 108.8 500.7 108.1 499.5 107.5 496.7 108Z" fill="#4230c4"/>
<path d="M476.5 53.7 490.4 53.7 491.1 54.4 493.2 54.4 493.9 55.1 496 55.1 496.7 55.8 498.1 55.8 498.8 56.5 499.5 56.5 500.2 57.2 500.9 57.2 501.6 57.9 502.3 57.9 503 58.6 503.7 58.6 504.4 59.3 505.1 59.3 505.6 59.8 503.7 60 502.3 60.7 500.9 62.6 500.6 64.2 500.9 66.1 506 83 505.2 93.5 503.4 99 501.5 102.5 498.8 105.1 493.5 108.1 491.7 109.5 491.2 110.2 492.5 111.6 494.6 112.3 496.7 112.4 500.4 111.6 501.5 110.9 504.4 108.5 512.9 96.2 515.1 82.3 509.5 63 510 63.5 510.7 63.5 514.1 66.9 514.1 67.6 516.9 70.4 516.9 71.1 518.3 72.5 518.3 73.2 519.7 75.3 519.7 76 521.1 78.1 521.1 78.8 521.8 79.5 521.8 80.9 522.5 81.6 522.5 83.7 523.2 84.4 523.2 86.5 523.9 87.2 523.9 101.1 523.2 101.8 523.2 103.9 522.5 104.6 522.5 106.7 521.8 107.4 521.8 108.8 521.1 109.5 521.1 110.2 520.4 110.9 520.4 111.6 519.7 112.3 519.7 113 518.3 115.1 518.3 115.8 516.9 117.2 516.9 117.9 514.1 120.7 514.1 121.4 510.7 124.8 510 124.8 507.2 127.6 506.5 127.6 505.1 129 504.4 129 503.7 129.7 503 129.7 502.3 130.4 501.6 130.4 500.9 131.1 500.2 131.1 499.5 131.8 498.8 131.8 498.1 132.5 496.7 132.5 496 133.2 493.9 133.2 493.2 133.9 491.1 133.9 490.4 134.6 476.5 134.6 475.8 133.9 473.7 133.9 473 133.2 470.9 133.2 470.2 132.5 468.8 132.5 468.1 131.8 467.4 131.8 466.7 131.1 466 131.1 463.9 129.7 463.2 129.7 462.5 129 461.8 129 460.4 127.6 459.7 127.6 456.9 124.8 456.2 124.8 452.8 121.4 452.8 120.7 450 117.9 450 117.2 448.6 115.8 448.6 115.1 447.9 114.4 447.9 113.7 447.2 113 447.2 112.3 446.5 111.6 446.5 110.9 445.8 110.2 445.8 109.5 445.1 108.8 445.1 107.4 444.4 106.7 444.4 104.6 443.7 103.9 443.7 101.8 443 101.1 443 87.2 443.7 86.5 443.7 84.4 444.4 83.7 444.4 81.6 445.1 80.9 445.1 79.5 446.5 77.4 446.5 76.7 447.2 76 447.2 75.3 448.6 73.2 448.6 72.5 450 71.1 450 70.4 452.8 67.6 452.8 66.9 456.2 63.5 456.9 63.5 459.7 60.7 460.4 60.7 461.8 59.3 462.5 59.3 464.6 57.9 465.3 57.9 466 57.2 466.7 57.2 468.8 55.8 470.2 55.8 470.9 55.1 473 55.1 473.7 54.4 475.8 54.4ZM453 68.3 451.8 69 450.7 70.3 450 71.8 449.9 73.2 451.6 89.3 455.6 103.5 459.8 110.2 463.9 112.6 466.7 113.1 468.8 112.8 469.9 112.3 470.4 111.6 470.9 110.2 470.9 108.7 469.7 106 464.5 99.7 463.7 97.6 461 87.2 459.3 71.1 458.3 69.6 456.9 68.5 455.6 68.1 453.5 68.2Z" fill="#4536d5"/>
<path d="M476.5 53.7 490.4 53.7 491.1 54.4 493.2 54.4 493.9 55.1 496 55.1 496.7 55.8 498.1 55.8 498.8 56.5 499.5 56.5 500.2 57.2 500.9 57.2 501.6 57.9 502.3 57.9 503 58.6 503.9 58.8 502.3 59.4 500.7 60.7 499.9 62.1 499.4 64.2 500.2 67.8 504.9 83 504.2 92.8 501.8 99 499.7 102.5 497.5 104.6 491.9 108.1 490.4 109.5 490 110.2 490.3 110.9 491.6 112.3 493.9 113.1 496.7 113.2 501.6 111.8 504.1 110.2 505.8 108.4 513.4 97.7 514.1 96.2 516.2 83.4 516.2 81.6 511 63.8 514.1 66.9 514.1 67.6 516.9 70.4 516.9 71.1 518.3 72.5 518.3 73.2 519.7 75.3 519.7 76 521.1 78.1 521.1 78.8 521.8 79.5 521.8 80.9 522.5 81.6 522.5 83.7 523.2 84.4 523.2 86.5 523.9 87.2 523.9 101.1 523.2 101.8 523.2 103.9 522.5 104.6 522.5 106.7 521.8 107.4 521.8 108.8 521.1 109.5 521.1 110.2 520.4 110.9 520.4 111.6 519.7 112.3 519.7 113 518.3 115.1 518.3 115.8 516.9 117.2 516.9 117.9 514.1 120.7 514.1 121.4 510.7 124.8 510 124.8 507.2 127.6 506.5 127.6 505.1 129 504.4 129 503.7 129.7 503 129.7 502.3 130.4 501.6 130.4 500.9 131.1 500.2 131.1 499.5 131.8 498.8 131.8 498.1 132.5 496.7 132.5 496 133.2 493.9 133.2 493.2 133.9 491.1 133.9 490.4 134.6 476.5 134.6 475.8 133.9 473.7 133.9 473 133.2 470.9 133.2 470.2 132.5 468.8 132.5 468.1 131.8 467.4 131.8 466.7 131.1 466 131.1 463.9 129.7 463.2 129.7 462.5 129 461.8 129 460.4 127.6 459.7 127.6 456.9 124.8 456.2 124.8 452.8 121.4 452.8 120.7 450 117.9 450 117.2 448.6 115.8 448.6 115.1 447.9 114.4 447.9 113.7 447.2 113 447.2 112.3 446.5 111.6 446.5 110.9 445.8 110.2 445.8 109.5 445.1 108.8 445.1 107.4 444.4 106.7 444.4 104.6 443.7 103.9 443.7 101.8 443 101.1 443 87.2 443.7 86.5 443.7 84.4 444.4 83.7 444.4 81.6 445.1 80.9 445.1 79.5 445.8 78.8 445.8 78.1 446.5 77.4 446.5 76.7 447.2 76 447.2 75.3 447.9 74.6 447.9 73.9 448.6 73.2 448.7 72.4 450.3 89.3 454.9 104.8 458.8 110.2 462.9 113 465.3 113.7 467.4 113.8 470.2 113.1 471.2 112.3 471.9 110.2 471.5 107.4 470.7 106 465.3 99 464.3 95.5 462.2 87.2 460.8 72.5 460.3 70.4 459 68.5 457.6 67.5 455.6 66.8 452.8 66.9 456.2 63.5 456.9 63.5 459.7 60.7 460.4 60.7 461.8 59.3 462.5 59.3 464.6 57.9 465.3 57.9 466 57.2 466.7 57.2 468.8 55.8 470.2 55.8 470.9 55.1 473 55.1 473.7 54.4 475.8 54.4Z" fill="#473fe2"/>
<path d="M476.5 53.7 490.4 53.7 491.1 54.4 493.2 54.4 493.9 55.1 496 55.1 496.7 55.8 498.1 55.8 498.8 56.5 499.5 56.5 500.2 57.2 500.9 57.2 501.6 57.9 502.3 57.9 502.7 58.3 500.9 59.3 499.7 60.7 498.8 62.7 498.6 64.2 498.9 66.2 504.1 83 503.5 92.1 501.2 98.3 498.6 102.5 496 104.8 490.8 108.1 489.5 109.5 489.2 110.2 489.3 110.9 489.7 111.7 491.1 112.9 493.9 113.9 496.7 113.9 502.2 112.3 504.4 111 506 109.5 514.7 96.9 517.1 82.3 512.2 65 514.1 66.9 514.1 67.6 516.9 70.4 516.9 71.1 518.3 72.5 518.3 73.2 519.7 75.3 519.7 76 521.1 78.1 521.1 78.8 521.8 79.5 521.8 80.9 522.5 81.6 522.5 83.7 523.2 84.4 523.2 86.5 523.9 87.2 523.9 101.1 523.2 101.8 523.2 103.9 522.5 104.6 522.5 106.7 521.8 107.4 521.8 108.8 521.1 109.5 521.1 110.2 520.4 110.9 520.4 111.6 519.7 112.3 519.7 113 518.3 115.1 518.3 115.8 516.9 117.2 516.9 117.9 514.1 120.7 514.1 121.4 510.7 124.8 510 124.8 507.2 127.6 506.5 127.6 505.1 129 504.4 129 503.7 129.7 503 129.7 502.3 130.4 501.6 130.4 500.9 131.1 500.2 131.1 499.5 131.8 498.8 131.8 498.1 132.5 496.7 132.5 496 133.2 493.9 133.2 493.2 133.9 491.1 133.9 490.4 134.6 476.5 134.6 475.8 133.9 473.7 133.9 473 133.2 470.9 133.2 470.2 132.5 468.8 132.5 468.1 131.8 467.4 131.8 466.7 131.1 466 131.1 463.9 129.7 463.2 129.7 462.5 129 461.8 129 460.4 127.6 459.7 127.6 456.9 124.8 456.2 124.8 452.8 121.4 452.8 120.7 450 117.9 450 117.2 448.6 115.8 448.6 115.1 447.9 114.4 447.9 113.7 447.2 113 447.2 112.3 446.5 111.6 446.5 110.9 445.8 110.2 445.8 109.5 445.1 108.8 445.1 107.4 444.4 106.7 444.4 104.6 443.7 103.9 443.7 101.8 443 101.1 443 87.2 443.7 86.5 443.7 84.4 444.4 83.7 444.4 81.6 445.1 80.9 445.1 79.5 445.8 78.8 445.8 78.1 446.5 77.4 446.5 76.7 447.2 76 447.2 75.3 447.9 74.6 447.9 73.9 449.6 90 454.2 105.4 457.8 110.2 463 113.7 465.3 114.3 467.4 114.4 469.5 114 471.6 113 472.4 111.6 472.7 110.2 472.3 107.4 471.1 105.3 466.2 99 464.9 94.8 463.1 87.2 461.7 72.5 461.3 70.4 460.1 68.3 458.3 66.9 456.2 66.1 453.7 66 456.2 63.5 456.9 63.5 459.7 60.7 460.4 60.7 461.8 59.3 462.5 59.3 464.6 57.9 465.3 57.9 466 57.2 466.7 57.2 468.8 55.8 470.2 55.8 470.9 55.1 473 55.1 473.7 54.4 475.8 54.4Z" fill="#4747ec"/>
<path d="M476.5 53.7 490.4 53.7 491.1 54.4 493.2 54.4 493.9 55.1 496 55.1 496.7 55.8 498.1 55.8 498.8 56.5 499.5 56.5 500.2 57.2 500.9 57.2 501.7 57.9 500.2 59 498.8 60.7 498 62.8 497.9 64.9 500 72.5 503.4 83 503 92.1 500.5 98.3 498.4 101.8 496 104 490.4 107.7 488.8 109.5 488.5 110.9 489.3 112.3 490.4 113.2 493.1 114.4 496 114.6 503.7 112.3 506.5 110.1 515.2 97.6 515.9 95.5 517.9 82.3 517.5 80.2 513.3 66.1 514.1 66.9 514.1 67.6 516.9 70.4 516.9 71.1 518.3 72.5 518.3 73.2 519.7 75.3 519.7 76 521.1 78.1 521.1 78.8 521.8 79.5 521.8 80.9 522.5 81.6 522.5 83.7 523.2 84.4 523.2 86.5 523.9 87.2 523.9 101.1 523.2 101.8 523.2 103.9 522.5 104.6 522.5 106.7 521.8 107.4 521.8 108.8 521.1 109.5 521.1 110.2 520.4 110.9 520.4 111.6 519.7 112.3 519.7 113 518.3 115.1 518.3 115.8 516.9 117.2 516.9 117.9 514.1 120.7 514.1 121.4 510.7 124.8 510 124.8 507.2 127.6 506.5 127.6 505.1 129 504.4 129 503.7 129.7 503 129.7 502.3 130.4 501.6 130.4 500.9 131.1 500.2 131.1 499.5 131.8 498.8 131.8 498.1 132.5 496.7 132.5 496 133.2 493.9 133.2 493.2 133.9 491.1 133.9 490.4 134.6 476.5 134.6 475.8 133.9 473.7 133.9 473 133.2 470.9 133.2 470.2 132.5 468.8 132.5 468.1 131.8 467.4 131.8 466.7 131.1 466 131.1 463.9 129.7 463.2 129.7 462.5 129 461.8 129 460.4 127.6 459.7 127.6 456.9 124.8 456.2 124.8 452.8 121.4 452.8 120.7 450 117.9 450 117.2 448.6 115.8 448.6 115.1 447.9 114.4 447.9 113.7 447.2 113 447.2 112.3 446.5 111.6 446.5 110.9 445.8 110.2 445.8 109.5 445.1 108.8 445.1 107.4 444.4 106.7 444.4 104.6 443.7 103.9 443.7 101.8 443 101.1 443 87.2 443.7 86.5 443.7 84.4 444.4 83.7 444.4 81.6 445.1 80.9 445.1 79.5 445.8 78.8 445.8 78.1 446.5 77.4 446.5 76.7 447.2 76 447.3 75.2 448.8 90 452.7 103.9 453.6 106 457 110.2 461.1 113.3 463.2 114.4 466 115 468.1 114.9 470.2 114.4 472.6 113 473.4 110.2 472.9 107.4 471.8 105.3 466.7 98.6 465.6 94.8 463.9 87.2 462.1 70.4 461 68.3 459 66.4 456.9 65.4 454.6 65.1 456.2 63.5 456.9 63.5 459.7 60.7 460.4 60.7 461.8 59.3 462.5 59.3 464.6 57.9 465.3 57.9 466 57.2 466.7 57.2 468.8 55.8 470.2 55.8 470.9 55.1 473 55.1 473.7 54.4 475.8 54.4Z" fill="#4850f3"/>
<path d="M476.5 53.7 490.4 53.7 491.1 54.4 493.2 54.4 493.9 55.1 496 55.1 496.7 55.8 498.1 55.8 498.8 56.5 499.5 56.5 500.2 57.2 501.1 57.4 499.5 58.6 498 60.7 497.3 62.8 497.1 64.9 499.2 72.5 502.8 83 502.5 92.1 499.9 98.3 497.7 101.8 494.6 104.4 490 107.4 488.1 109.5 487.8 110.2 488.1 111.6 490.1 113.7 493.2 115 496 115.1 498.1 114.7 505 112.3 507.3 110.2 515.7 98.3 516.5 96.2 518.6 82.3 518.3 80.2 514.7 68.2 516.9 70.4 516.9 71.1 518.3 72.5 518.3 73.2 519.7 75.3 519.7 76 521.1 78.1 521.1 78.8 521.8 79.5 521.8 80.9 522.5 81.6 522.5 83.7 523.2 84.4 523.2 86.5 523.9 87.2 523.9 101.1 523.2 101.8 523.2 103.9 522.5 104.6 522.5 106.7 521.8 107.4 521.8 108.8 521.1 109.5 521.1 110.2 520.4 110.9 520.4 111.6 519.7 112.3 519.7 113 518.3 115.1 518.3 115.8 516.9 117.2 516.9 117.9 514.1 120.7 514.1 121.4 510.7 124.8 510 124.8 507.2 127.6 506.5 127.6 505.1 129 504.4 129 503.7 129.7 503 129.7 502.3 130.4 501.6 130.4 500.9 131.1 500.2 131.1 499.5 131.8 498.8 131.8 498.1 132.5 496.7 132.5 496 133.2 493.9 133.2 493.2 133.9 491.1 133.9 490.4 134.6 476.5 134.6 475.8 133.9 473.7 133.9 473 133.2 470.9 133.2 470.2 132.5 468.8 132.5 468.1 131.8 467.4 131.8 466.7 131.1 466 131.1 463.9 129.7 463.2 129.7 462.5 129 461.8 129 460.4 127.6 459.7 127.6 456.9 124.8 456.2 124.8 452.8 121.4 452.8 120.7 450 117.9 450 117.2 448.6 115.8 448.6 115.1 447.9 114.4 447.9 113.7 447.2 113 447.2 112.3 446.5 111.6 446.5 110.9 445.8 110.2 445.8 109.5 445.1 108.8 445.1 107.4 444.4 106.7 444.4 104.6 443.7 103.9 443.7 101.8 443 101.1 443 87.2 443.7 86.5 443.7 84.4 444.4 83.7 444.4 81.6 445.1 80.9 445.1 79.5 445.8 78.8 445.8 78.1 446.5 77.4 446.6 76.6 448 90 452.1 104.6 453.5 107.1 456 110.2 461.1 113.9 463.9 115.2 466.7 115.6 468.8 115.4 471.5 114.4 473.4 113 474.1 110.2 473.5 107.4 472.4 105.3 467.2 98.3 466.3 95.5 464.5 86.5 463.3 72.5 462.7 69.7 461.5 67.6 459.7 65.9 457.6 64.8 455.3 64.4 456.2 63.5 456.9 63.5 459.7 60.7 460.4 60.7 461.8 59.3 462.5 59.3 464.6 57.9 465.3 57.9 466 57.2 466.7 57.2 468.8 55.8 470.2 55.8 470.9 55.1 473 55.1 473.7 54.4 475.8 54.4Z" fill="#4759f8"/>
<path d="M476.5 53.7 490.4 53.7 491.1 54.4 493.2 54.4 493.9 55.1 496 55.1 496.7 55.8 498.1 55.8 498.8 56.5 499.5 56.5 500 57 498.4 58.6 497.1 60.7 496.4 62.8 496.3 64.9 498.4 72.5 502.1 83 502 92.1 499.8 97.6 497.4 101.5 494.6 103.9 489.3 107.4 487.5 109.5 487.1 110.9 487.3 111.6 489.1 113.7 492.5 115.3 496 115.6 498.1 115.2 505.8 112.7 507.8 110.9 516.3 99 517.4 96.2 519.5 82.3 519.1 80.2 515.9 69.4 516.9 70.4 516.9 71.1 518.3 72.5 518.3 73.2 519.7 75.3 519.7 76 521.1 78.1 521.1 78.8 521.8 79.5 521.8 80.9 522.5 81.6 522.5 83.7 523.2 84.4 523.2 86.5 523.9 87.2 523.9 101.1 523.2 101.8 523.2 103.9 522.5 104.6 522.5 106.7 521.8 107.4 521.8 108.8 521.1 109.5 521.1 110.2 520.4 110.9 520.4 111.6 519.7 112.3 519.7 113 518.3 115.1 518.3 115.8 516.9 117.2 516.9 117.9 514.1 120.7 514.1 121.4 510.7 124.8 510 124.8 507.2 127.6 506.5 127.6 505.1 129 504.4 129 503.7 129.7 503 129.7 502.3 130.4 501.6 130.4 500.9 131.1 500.2 131.1 499.5 131.8 498.8 131.8 498.1 132.5 496.7 132.5 496 133.2 493.9 133.2 493.2 133.9 491.1 133.9 490.4 134.6 476.5 134.6 475.8 133.9 473.7 133.9 473 133.2 470.9 133.2 470.2 132.5 468.8 132.5 468.1 131.8 467.4 131.8 466.7 131.1 466 131.1 463.9 129.7 463.2 129.7 462.5 129 461.8 129 460.4 127.6 459.7 127.6 456.9 124.8 456.2 124.8 452.8 121.4 452.8 120.7 450 117.9 450 117.2 448.6 115.8 448.6 115.1 447.9 114.4 447.9 113.7 447.2 113 447.2 112.3 446.5 111.6 446.5 110.9 445.8 110.2 445.8 109.5 445.1 108.8 445.1 107.4 444.4 106.7 444.4 104.6 443.7 103.9 443.7 101.8 443 101.1 443 87.2 443.7 86.5 443.7 84.4 444.4 83.7 444.4 81.6 445.1 80.9 445.1 79.5 445.8 78.8 445.9 78 447.4 91.4 451.4 105.3 452.6 107.4 454.8 110.2 461.1 114.5 463.2 115.4 465.3 116 468.1 116 470.2 115.5 472.6 114.4 474.4 113 474.9 110.2 474.1 107.4 472.9 105.3 467.8 98.3 466.9 95.5 465.2 86.5 464.8 78.8 464.1 71.8 463.7 69.7 462.6 67.6 460.7 65.6 459 64.5 456.2 63.5 456.9 63.5 459.7 60.7 460.4 60.7 461.8 59.3 462.5 59.3 464.6 57.9 465.3 57.9 466 57.2 466.7 57.2 468.8 55.8 470.2 55.8 470.9 55.1 473 55.1 473.7 54.4 475.8 54.4Z" fill="#4562fc"/>
<path d="M476.5 53.7 490.4 53.7 491.1 54.4 493.2 54.4 493.9 55.1 496 55.1 496.7 55.8 498.1 55.8 498.7 56.4 497.2 57.9 495.6 60.7 495 62.8 494.9 64.9 495.5 67.6 497 72.5 501.5 83 501.7 91.4 499.7 96.9 497.2 101.1 494.6 103.4 488.7 107.4 486.5 110.2 486.2 110.9 486.9 112.3 489 114.3 492.5 115.8 496.7 116 507.7 113 509.6 110.9 517.5 99.7 518.6 96.9 520.8 82.3 520.5 80.2 518.6 73.5 519 73.9 519 74.6 519.7 75.3 519.7 76 520.4 76.7 520.4 77.4 521.1 78.1 521.1 78.8 521.8 79.5 521.8 80.9 522.5 81.6 522.5 83.7 523.2 84.4 523.2 86.5 523.9 87.2 523.9 101.1 523.2 101.8 523.2 103.9 522.5 104.6 522.5 106.7 521.8 107.4 521.8 108.8 521.1 109.5 521.1 110.2 520.4 110.9 520.4 111.6 519.7 112.3 519.7 113 518.3 115.1 518.3 115.8 516.9 117.2 516.9 117.9 514.1 120.7 514.1 121.4 510.7 124.8 510 124.8 507.2 127.6 506.5 127.6 505.1 129 504.4 129 503.7 129.7 503 129.7 502.3 130.4 501.6 130.4 500.9 131.1 500.2 131.1 499.5 131.8 498.8 131.8 498.1 132.5 496.7 132.5 496 133.2 493.9 133.2 493.2 133.9 491.1 133.9 490.4 134.6 476.5 134.6 475.8 133.9 473.7 133.9 473 133.2 470.9 133.2 470.2 132.5 468.8 132.5 468.1 131.8 467.4 131.8 466.7 131.1 466 131.1 463.9 129.7 463.2 129.7 462.5 129 461.8 129 460.4 127.6 459.7 127.6 456.9 124.8 456.2 124.8 452.8 121.4 452.8 120.7 450 117.9 450 117.2 448.6 115.8 448.6 115.1 447.9 114.4 447.9 113.7 447.2 113 447.2 112.3 446.5 111.6 446.5 110.9 445.8 110.2 445.8 109.5 445.1 108.8 445.1 107.4 444.4 106.7 444.4 104.6 443.7 103.9 443.7 101.8 443 101.1 443 87.2 443.7 86.5 443.7 84.4 444.4 83.7 444.4 81.6 444.7 81.3 445.5 89.3 446.1 92.1 450.2 106 452.9 110.2 456.2 111.8 461.8 115.4 465.3 116.4 468.1 116.5 470.2 116.1 473 114.9 475.8 113 475.9 110.9 474.8 107.4 468.3 98.3 467.4 95.5 466 86.5 466.1 78.1 465.6 71.8 464.9 69 463.9 66.9 462.1 64.9 460.4 63.6 458 62.4 459.7 60.7 460.4 60.7 461.8 59.3 462.5 59.3 464.6 57.9 465.3 57.9 466 57.2 466.7 57.2 468.8 55.8 470.2 55.8 470.9 55.1 473 55.1 473.7 54.4 475.8 54.4ZM518.2 72.4 518.3 72.7 518.3 72.5Z" fill="#416bfe"/>
<path d="M483.4 72.5 486.2 72.4 489.7 73 493.2 74.2 496 75.8 498.1 78.1 500.2 81.7 500.9 83.4 501.3 87.2 501.1 92.1 499.6 96.2 497.8 99.7 496.8 101.1 495.2 102.5 489 106.7 487.4 108.1 485.1 110.9 485.1 111.6 485.7 112.3 488.1 114.4 490.4 115.6 492.5 116.3 495.3 116.6 498.1 116.2 505.1 114.5 513.4 113.7 520 112 519.7 113 519 113.7 519 114.4 518.3 115.1 518.3 115.8 516.9 117.2 516.9 117.9 514.1 120.7 514.1 121.4 510.7 124.8 510 124.8 507.2 127.6 506.5 127.6 505.1 129 504.4 129 503.7 129.7 503 129.7 502.3 130.4 501.6 130.4 500.9 131.1 500.2 131.1 499.5 131.8 498.8 131.8 498.1 132.5 496.7 132.5 496 133.2 493.9 133.2 493.2 133.9 491.1 133.9 490.4 134.6 476.5 134.6 475.8 133.9 473.7 133.9 473 133.2 470.9 133.2 470.2 132.5 468.8 132.5 468.1 131.8 467.4 131.8 466.7 131.1 466 131.1 465.3 130.4 464.6 130.4 463.9 129.7 463.2 129.7 462.5 129 461.8 129 460.4 127.6 459.7 127.6 456.9 124.8 456.2 124.8 452.8 121.4 452.8 120.7 450 117.9 450 117.2 448.6 115.8 448.6 115.1 447.9 114.4 447.9 113.7 447.2 113 451.4 111.8 454.2 111.8 456.2 112.6 462.5 116.2 464.6 116.8 467.4 117.1 471.6 116.2 481.3 112.3 478.6 111.3 477.2 110.1 468.5 97.6 467.3 92.1 467 86.5 467.4 84 468.3 81.6 469.7 79.5 471.8 77.4 476.5 74.3 480 73 482.9 72.5Z" fill="#3875fe"/>
<path d="M482.1 74.5 485.5 74.3 489.7 74.9 493.2 76.2 496 78 498.1 80.1 500 83 500.5 85.1 500.9 88.6 500.9 91.4 500.1 94.2 498.6 97.6 496.7 100.7 493.9 103.1 488.4 106.7 484.8 109.8 483.4 110.3 480.7 110 477.9 108.9 476.5 107.7 472.3 102.5 470.3 99.7 468.8 97 467.7 90.7 467.8 87.9 468.2 85.8 469.1 83.7 471 80.9 473 78.8 475.8 76.8 478.6 75.5 481.6 74.6ZM453.5 113 456.2 113.5 462.5 116.8 466.7 117.6 470.9 117.1 484.1 113.5 485.5 113.7 491.1 116.4 494.6 117 497.4 116.9 503.7 115.5 512 115.4 519 113.8 519 114.4 518.3 115.1 518.3 115.8 516.9 117.2 516.9 117.9 514.1 120.7 514.1 121.4 510.7 124.8 510 124.8 507.2 127.6 506.5 127.6 505.1 129 504.4 129 503.7 129.7 503 129.7 502.3 130.4 501.6 130.4 500.9 131.1 500.2 131.1 499.5 131.8 498.8 131.8 498.1 132.5 496.7 132.5 496 133.2 493.9 133.2 493.2 133.9 491.1 133.9 490.4 134.6 476.5 134.6 475.8 133.9 473.7 133.9 473 133.2 470.9 133.2 470.2 132.5 468.8 132.5 468.1 131.8 467.4 131.8 466.7 131.1 466 131.1 463.9 129.7 463.2 129.7 462.5 129 461.8 129 460.4 127.6 459.7 127.6 456.9 124.8 456.2 124.8 452.8 121.4 452.8 120.7 450 117.9 450 117.2 448.6 115.8 448.6 115.1 447.9 114.4 453.2 113Z" fill="#307ffb"/>
<path d="M480.7 75.9 484.1 75.4 487.6 75.6 491.1 76.5 493.9 77.9 496.7 80.1 499 83 500.1 85.8 500.5 88.6 500.5 91.4 499.7 94.2 498.2 97.6 496.5 100.4 493.9 102.7 485.5 108.5 483.4 109.3 479.3 108.4 477.2 107.3 475.8 105.9 472.3 101.8 470 98.3 469.1 96.2 468.5 92.8 468.4 90 468.9 87.2 470 84.4 471.3 82.3 473 80.3 475.1 78.6 477.9 76.9 480.4 76ZM454.2 114.3 456.9 114.8 463.2 117.5 467.4 118.2 477.9 116.8 484.8 115.1 486.2 115.2 491.8 117.1 495.3 117.6 503 116.6 508.6 117.1 511.4 117 518.3 115.5 518.3 115.8 516.9 117.2 516.9 117.9 514.1 120.7 514.1 121.4 510.7 124.8 510 124.8 507.2 127.6 506.5 127.6 505.1 129 504.4 129 503.7 129.7 503 129.7 502.3 130.4 501.6 130.4 500.9 131.1 500.2 131.1 499.5 131.8 498.8 131.8 498.1 132.5 496.7 132.5 496 133.2 493.9 133.2 493.2 133.9 491.1 133.9 490.4 134.6 476.5 134.6 475.8 133.9 473.7 133.9 473 133.2 470.9 133.2 470.2 132.5 468.8 132.5 468.1 131.8 467.4 131.8 466.7 131.1 466 131.1 463.9 129.7 463.2 129.7 462.5 129 461.8 129 460.4 127.6 459.7 127.6 456.9 124.8 456.2 124.8 452.8 121.4 452.8 120.7 450 117.9 450 117.2 448.6 115.8 453.7 114.4Z" fill="#2d87f6"/>
<path d="M481.4 76.6 484.1 76.2 487.6 76.4 490.4 77.1 493.9 78.9 496.7 81.2 498.6 83.7 499.7 86.5 500.1 89.3 500.1 91.4 499.1 94.8 497.9 97.6 496.1 100.4 493.2 102.9 486.2 107.4 484.8 108.2 483.4 108.4 481.4 108.2 478.6 107.2 477.2 106.4 475.1 104.5 472.3 101.1 470.5 98.3 469.6 96.2 469.1 92.8 469.1 90 469.5 87.9 470.6 85.1 471.8 83 473.6 80.9 475.8 79.1 478.6 77.5 481.1 76.7ZM454.9 115.7 456.9 115.9 463.9 118.3 468.1 118.8 477.2 118.5 486.2 116.5 494.6 118.1 501.6 117.7 510 118.6 513.4 118.2 516.9 117.4 516.9 117.9 514.1 120.7 514.1 121.4 512 123.4 510.7 124.8 510 124.8 507.2 127.6 506.5 127.6 505.1 129 504.4 129 503.7 129.7 503 129.7 502.3 130.4 501.6 130.4 500.9 131.1 500.2 131.1 499.5 131.8 498.8 131.8 498.1 132.5 496.7 132.5 496 133.2 493.9 133.2 493.2 133.9 491.1 133.9 490.4 134.6 476.5 134.6 475.8 133.9 473.7 133.9 473 133.2 470.9 133.2 470.2 132.5 468.8 132.5 468.1 131.8 467.4 131.8 466.7 131.1 466 131.1 463.9 129.7 463.2 129.7 462.5 129 461.8 129 460.4 127.6 459.7 127.6 456.9 124.8 456.2 124.8 452.8 121.4 452.8 120.7 450 117.9 450 117.2 449.6 116.8 454.4 115.8Z" fill="#2c90f0"/>
<path d="M481.4 77.3 484.1 76.9 487.6 77.1 490.4 77.9 493.2 79.3 496 81.5 497.8 83.7 499.1 86.5 499.7 89.3 499.7 91.4 499 94.2 497.5 97.6 496 100.1 492.2 103.2 486.2 106.9 484.1 107.7 482.1 107.6 480 107.1 477.9 106.1 475.8 104.5 473.3 101.8 471.4 99 470.2 96.2 469.7 93.5 469.6 90.7 470 88.6 471 85.8 472.3 83.6 473.9 81.6 475.8 80 478.6 78.3 481.1 77.4ZM455.6 117.2 458.3 117.4 466 119.4 473.7 120.1 478.6 119.8 487.6 117.8 494.6 118.7 500.9 118.8 508.6 120.1 512 120 515.5 119.3 514.1 120.7 514.1 121.4 511.4 124.1 510.7 124.8 510 124.8 507.2 127.6 506.5 127.6 505.1 129 504.4 129 503.7 129.7 503 129.7 502.3 130.4 501.6 130.4 500.9 131.1 500.2 131.1 499.5 131.8 498.8 131.8 498.1 132.5 496.7 132.5 496 133.2 493.9 133.2 493.2 133.9 491.1 133.9 490.4 134.6 476.5 134.6 475.8 133.9 473.7 133.9 473 133.2 470.9 133.2 470.2 132.5 468.8 132.5 468.1 131.8 467.4 131.8 466.7 131.1 466 131.1 463.9 129.7 463.2 129.7 462.5 129 461.8 129 460.4 127.6 459.7 127.6 456.9 124.8 456.2 124.8 452.8 121.4 452.8 120.7 450.3 118.2 455.4 117.2Z" fill="#2798ea"/>
<path d="M481.4 78 484.1 77.5 487.6 77.8 490.4 78.5 493.2 80 495.3 81.7 497.5 84.4 498.8 87.1 499.4 90 499.2 92.1 498.5 94.8 495.9 99.7 491.8 103.1 486.2 106.5 484.1 107.1 482.1 107 480 106.4 477.9 105.4 475.8 103.8 473.7 101.6 471.9 99 470.7 96.2 470.3 94.2 470.2 91.4 470.5 89.3 471.3 86.5 472.5 84.4 474.1 82.3 475.8 80.7 478.6 79 480.9 78.1ZM452.1 119.2 455.6 118.7 458.3 118.7 469.5 121.1 474.4 121.7 478.6 121.3 486.2 119.4 489 119 498.8 119.8 507.9 121.6 514.1 121.4 510.7 124.8 510 124.8 507.2 127.6 506.5 127.6 505.1 129 504.4 129 503.7 129.7 503 129.7 502.3 130.4 501.6 130.4 500.9 131.1 500.2 131.1 499.5 131.8 498.8 131.8 498.1 132.5 496.7 132.5 496 133.2 493.9 133.2 493.2 133.9 491.1 133.9 490.4 134.6 476.5 134.6 475.8 133.9 473.7 133.9 473 133.2 470.9 133.2 470.2 132.5 468.8 132.5 468.1 131.8 467.4 131.8 466.7 131.1 466 131.1 463.9 129.7 463.2 129.7 462.5 129 461.8 129 460.4 127.6 459.7 127.6 456.9 124.8 456.2 124.8 452.8 121.4 452.8 120.7 451.5 119.4 451.9 119.3Z" fill="#249fe5"/>
<path d="M484.1 78.1 486.9 78.2 489.7 78.9 491.8 79.8 494.4 81.6 496.4 83.7 497.7 85.8 498.5 87.9 499 90.7 498.7 92.8 497.9 95.5 495.3 100 492.2 102.5 486.9 105.7 484.8 106.5 483.4 106.6 481.4 106.3 478.6 105.2 476.5 103.8 474.4 101.8 472.9 99.7 471.5 96.9 470.9 94.8 470.7 92.1 471 89.3 471.9 86.5 473.1 84.4 474.8 82.3 477.2 80.4 479.3 79.3 481.4 78.5 484.1 78.1ZM452.8 120.6 456.2 120.1 459 120.2 470.9 122.8 475.1 123.2 479.3 122.7 488.3 120.5 491.8 120.3 497.4 120.8 507.2 123 512.5 123 510.7 124.8 510 124.8 507.2 127.6 506.5 127.6 505.1 129 504.4 129 503.7 129.7 503 129.7 502.3 130.4 501.6 130.4 500.9 131.1 500.2 131.1 499.5 131.8 498.8 131.8 498.1 132.5 496.7 132.5 496 133.2 493.9 133.2 493.2 133.9 491.1 133.9 490.4 134.6 476.5 134.6 475.8 133.9 473.7 133.9 473 133.2 470.9 133.2 470.2 132.5 468.8 132.5 468.1 131.8 467.4 131.8 466.7 131.1 466 131.1 463.9 129.7 463.2 129.7 462.5 129 461.8 129 460.4 127.6 459.7 127.6 456.9 124.8 456.2 124.8 452.8 121.4 452.7 120.6Z" fill="#1ea7e1"/>
<path d="M482.8 78.8 485.5 78.6 488.3 79 491.1 80 493.2 81.3 495.3 83.2 497.1 85.8 498.1 88.1 498.6 90.7 498.4 92.8 497.5 95.5 495.2 99.7 492.5 102 489 104.1 486.2 105.6 484.1 106.1 482.1 105.9 479.3 105 475.8 102.6 473.9 100.4 472.6 98.3 471.7 96.2 471.2 93.5 471.3 90.7 471.7 88.6 472.9 85.8 474.3 83.7 475.8 82.1 477.9 80.6 480 79.5 482.6 78.8ZM453.5 122 456.9 121.6 459.7 121.8 470.9 124.3 475.1 124.7 479.3 124.2 488.3 122 493.2 121.7 497.4 122.3 505.8 124.4 510.8 124.7 510 124.8 507.2 127.6 506.5 127.6 505.1 129 504.4 129 503.7 129.7 503 129.7 502.3 130.4 501.6 130.4 500.9 131.1 500.2 131.1 499.5 131.8 498.8 131.8 498.1 132.5 496.7 132.5 496 133.2 493.9 133.2 493.2 133.9 491.1 133.9 490.4 134.6 476.5 134.6 475.8 133.9 473.7 133.9 473 133.2 470.9 133.2 470.2 132.5 468.8 132.5 468.1 131.8 467.4 131.8 466.7 131.1 466 131.1 463.9 129.7 463.2 129.7 462.5 129 461.8 129 460.4 127.6 459.7 127.6 456.9 124.8 456.2 124.8 453.4 122Z" fill="#18addb"/>
<path d="M482.1 79.4 484.8 79.1 487.6 79.3 490.4 80.2 492.5 81.4 494.4 83 496.1 85.1 497.5 87.9 498.1 90.4 498 92.8 497.5 94.8 496.2 97.6 494.8 99.7 491.1 102.6 486.9 104.9 484.8 105.6 482.8 105.5 480.7 105 478.6 104.1 476.5 102.6 473.5 99 472.5 96.9 471.8 94.2 471.7 91.4 472 89.3 473.9 85.1 475.6 83 477.2 81.6 479.3 80.4 481.7 79.5ZM454.9 123.3 460.4 123.4 470.2 125.7 475.1 126.2 479.3 125.7 488.3 123.5 493.2 123.2 497.4 123.8 505.1 125.8 508.6 126.2 507.2 127.6 506.5 127.6 505.1 129 504.4 129 503.7 129.7 503 129.7 502.3 130.4 501.6 130.4 500.9 131.1 500.2 131.1 499.5 131.8 498.8 131.8 498.1 132.5 496.7 132.5 496 133.2 493.9 133.2 493.2 133.9 491.1 133.9 490.4 134.6 476.5 134.6 475.8 133.9 473.7 133.9 473 133.2 470.9 133.2 470.2 132.5 468.8 132.5 468.1 131.8 467.4 131.8 466.7 131.1 466 131.1 463.9 129.7 463.2 129.7 462.5 129 461.8 129 460.4 127.6 459.7 127.6 456.9 124.8 456.2 124.8 454.7 123.3Z" fill="#0cb3d3"/>
<path d="M481.4 80.1 484.1 79.6 486.9 79.7 489.7 80.4 491.8 81.5 493.9 83.1 495.6 85.1 496.8 87.2 497.6 90 497.7 92.1 497.3 94.2 496.3 96.9 495 99 493.2 100.8 490.7 102.5 486.9 104.6 484.8 105.2 482.8 105.1 480.7 104.5 478.6 103.5 476.5 102 475 100.4 473.6 98.3 472.3 94.2 472.4 90 474 85.8 475.5 83.7 477.1 82.3 481 80.2ZM456.2 124.7 461.1 125 470.2 127.3 475.1 127.7 479.3 127.3 488.3 125 493.2 124.7 496.7 125.1 507.2 127.6 506.5 127.6 505.1 129 504.4 129 503.7 129.7 503 129.7 502.3 130.4 501.6 130.4 500.9 131.1 500.2 131.1 499.5 131.8 498.8 131.8 498.1 132.5 496.7 132.5 496 133.2 493.9 133.2 493.2 133.9 491.1 133.9 490.4 134.6 476.5 134.6 475.8 133.9 473.7 133.9 473 133.2 470.9 133.2 470.2 132.5 468.8 132.5 468.1 131.8 467.4 131.8 466.7 131.1 466 131.1 463.9 129.7 463.2 129.7 462.5 129 461.8 129 460.4 127.6 459.7 127.6 456.9 124.8 456.1 124.7Z" fill="#01b8c9"/>
<path d="M483.4 80.1 486.2 80.1 488.3 80.5 491.1 81.6 493.1 83 494.6 84.6 496 86.7 497 89.3 497.3 91.4 496.7 95.1 494.6 99.1 490.4 102.4 486.9 104.2 484.8 104.7 482.8 104.6 480.7 104 478.6 103 476.5 101.4 475 99.7 473.8 97.6 472.6 93.5 473 89.3 473.7 87.2 475.1 85 476.5 83.4 478.6 81.8 480.7 80.8 482.8 80.2ZM458.3 126.2 461.8 126.7 469.5 128.6 473.7 129.2 478.6 128.9 487.6 126.7 491.8 126.2 496.7 126.7 505.3 128.8 504.4 129 503.7 129.7 503 129.7 502.3 130.4 501.6 130.4 500.9 131.1 500.2 131.1 499.5 131.8 498.8 131.8 498.1 132.5 496.7 132.5 496 133.2 493.9 133.2 493.2 133.9 491.1 133.9 490.4 134.6 476.5 134.6 475.8 133.9 473.7 133.9 473 133.2 470.9 133.2 470.2 132.5 468.8 132.5 468.1 131.8 467.4 131.8 466.7 131.1 466 131.1 463.9 129.7 463.2 129.7 462.5 129 461.8 129 460.4 127.6 459.7 127.6 458.3 126.2Z" fill="#08bcbe"/>
<path d="M482.1 80.8 484.1 80.5 486.9 80.6 489.7 81.4 491.8 82.6 493.9 84.4 495.3 86.3 496.3 88.6 496.8 90.7 496.8 92.8 496.4 94.8 495.6 96.9 494.2 99 490.4 102 487.6 103.5 485.5 104.2 483.4 104.3 481.4 103.8 477.6 101.8 476.1 100.4 474.6 98.3 473.7 96.2 473.2 94.2 473.3 90 473.9 87.9 475 85.8 477.9 82.8 481.7 80.9ZM461.1 128 469.5 130.1 473.7 130.8 478.6 130.4 487.6 128.2 491.8 127.7 496 128.1 502.9 129.8 502.3 130.4 501.6 130.4 500.9 131.1 500.2 131.1 499.5 131.8 498.8 131.8 498.1 132.5 496.7 132.5 496 133.2 493.9 133.2 493.2 133.9 491.1 133.9 490.4 134.6 476.5 134.6 475.8 133.9 473.7 133.9 473 133.2 470.9 133.2 470.2 132.5 468.8 132.5 468.1 131.8 467.4 131.8 466.7 131.1 466 131.1 463.9 129.7 463.2 129.7 462.5 129 461.8 129 460.8 128Z" fill="#1cc0b4"/>
<path d="M484.8 80.9 489 81.6 491.1 82.6 493.2 84.3 495.6 87.9 496.3 90 496.5 92.1 496.2 94.2 495.5 96.2 494.4 98.3 493.2 99.6 491.1 101.3 488.3 102.8 486.2 103.7 484.1 103.9 482.1 103.5 480 102.8 477.9 101.5 476.5 100.1 475.1 98.3 474.1 96.2 473.5 92.1 473.7 90 474.4 87.9 476.7 84.4 478.6 82.8 480.7 81.7 484.6 80.9ZM487.6 129.7 491.1 129.2 493.9 129.3 501.1 130.9 500.2 131.1 499.5 131.8 498.8 131.8 498.1 132.5 496.7 132.5 496 133.2 493.9 133.2 493.2 133.9 491.1 133.9 490.4 134.6 476.5 134.6 475.8 133.9 473.7 133.9 473 133.2 470.9 133.2 470.2 132.5 468.8 132.5 468.1 131.8 467.4 131.8 466.7 131.1 466 131.1 465.5 130.6 471.6 132.1 475.8 132.3 480 131.7 487.6 129.7ZM464.6 130.4 464.5 130.4Z" fill="#2bc3a8"/>
<path d="M482.8 81.6 486.9 81.5 489 82.1 491.1 83.2 492.6 84.4 494.4 86.5 495.4 88.6 495.9 90.7 495.8 94.2 495.1 96.2 494 98.3 490.4 101.3 487.6 102.8 485.5 103.4 482.1 103.1 480 102.3 478.2 101.1 475.6 98.3 474.6 96.2 474.1 94.2 474.2 90 475.8 86.3 478.6 83.4 480.7 82.2 482.6 81.6ZM488.3 131.1 493.2 130.8 499.1 131.8 498.1 132.5 496.7 132.5 496 133.2 493.9 133.2 493.2 133.9 491.1 133.9 490.4 134.6 476.5 134.6 475.8 133.9 473.6 133.8 478.6 133.5 488.2 131.1Z" fill="#34c79c"/>
<path d="M482.1 82.2 484.1 81.8 486.2 81.9 488.3 82.3 490.4 83.3 493.3 85.8 494.6 87.9 495.3 90 495.6 92.1 495.4 94.2 493.9 97.8 492.5 99.4 490.4 101 486.2 102.8 482.8 102.8 480.7 102.1 478.9 101.1 476.2 98.3 474.7 94.8 474.4 92.8 474.5 90.7 475.7 87.2 478 84.4 480 83 481.7 82.3ZM489 132.5 492.5 132.3 496.5 132.7 496 133.2 493.9 133.2 493.2 133.9 491.1 133.9 490.4 134.6 480.5 134.6 489 132.5Z" fill="#3fca8e"/>
<path d="M484.1 82.3 487.6 82.6 491.2 84.4 492.7 85.8 493.9 87.5 494.7 89.3 495.1 91.4 494.8 94.8 494 96.9 493 98.3 489.5 101.1 487.6 102 485.5 102.5 482.1 102.1 478.6 100.3 477.2 98.9 475.9 96.9 474.9 93.5 474.9 91.4 475.3 89.3 477.2 85.9 480 83.6 482.1 82.7 484 82.3ZM490.4 133.9 493.3 133.8 491.1 133.9 490.4 134.6 486.2 134.6 490 133.9Z" fill="#52cc7e"/>
<path d="M482.8 83 484.8 82.7 486.9 82.9 490.4 84.4 493.2 87.2 494.5 90.7 494.5 94.2 493 97.6 491.8 99 490 100.4 486.2 102 482.8 101.8 479.3 100.2 476.8 97.6 475.5 94.2 475.5 90.7 476.8 87.2 479.3 84.6 482.7 83Z" fill="#66cd6d"/>
<path d="M482.8 83.5 486.2 83.3 489.7 84.5 492.5 87.1 493.9 90.1 494.1 93.5 492.9 96.9 490.4 99.6 486.9 101.3 483.4 101.5 480.5 100.4 477.9 98.2 476.1 94.8 475.9 91.4 477 87.9 479.3 85.2 482.1 83.7Z" fill="#7dcc5c"/>
<path d="M482.1 84.3 485.5 83.8 489 84.7 491.8 87.1 493.2 89.7 493.7 92.8 492.7 96.2 490.4 99 487.6 100.6 484.8 101.1 481.4 100.3 478.7 98.3 476.9 95.5 476.3 92.1 477.2 88.7 479.3 85.9 481.7 84.4Z" fill="#94ca4a"/>
<path d="M484.1 84.4 486.9 84.6 489.7 85.8 491.8 88.1 493 91.4 492.9 94.2 491.7 96.9 489.5 99 486.2 100.4 483.4 100.3 480.4 99 478.8 97.6 477.9 96.2 477 93.5 477.2 90.4 478.6 87.5 480.7 85.6 483.9 84.4Z" fill="#aac73a"/>
<path d="M484.1 85 486.9 85.2 489.5 86.5 491.4 88.6 492.4 91.4 492.2 94.2 491.1 96.6 489 98.6 486.2 99.8 483.4 99.7 480.7 98.5 478.6 96.2 477.6 93.5 477.8 90.7 479.1 87.9 481.4 85.9 483.6 85.1Z" fill="#bfc32e"/>
<path d="M484.1 85.7 486.9 86 489 87 490.5 88.6 491.6 91.4 491.5 94.2 490.5 96.2 488.3 98.2 486.2 99 483.4 98.9 481.4 98 479.3 95.9 478.4 93.5 478.5 90.7 479.5 88.6 481.4 86.8 484 85.8Z" fill="#d2bf27"/>
<path d="M482.8 87.1 484.8 86.6 486.9 87 489 88.3 490.2 90 490.8 92.1 490.4 94.4 489.3 96.2 487.5 97.6 484.8 98.2 482.8 97.7 480.7 96.2 479.8 94.8 479.2 92.8 479.5 90.7 480.7 88.6 482.5 87.2Z" fill="#e2bc2b"/>
<path d="M483.4 88.3 484.8 88 486.9 88.4 488.1 89.3 489.1 90.7 489.4 92.8 489.1 94.2 488.1 95.5 486.9 96.4 485.5 96.8 484.1 96.7 482.8 96.2 481.3 94.8 480.7 93.3 480.7 91.4 481.4 89.9 482.8 88.6Z" fill="#f1ba37"/>
<path d="M505.6 59.8 503.7 60 502.3 60.7 500.9 62.6 500.6 64.2 500.9 66.1 506 83 505.3 92.8 503.4 99 501 103.2 498.8 105.1 492.5 108.8 491.2 110.2 492.5 111.6 493.9 112.2 496.7 112.4 500.4 111.6 503.7 109.2 512.9 96.2 515.1 82.3 509.5 63M453.5 68.2 451.8 69 450.7 70.3 450 71.8 449.9 73.2 451.6 89.3 455.6 103.5 459.8 110.2 463.9 112.6 466.7 113.1 468.8 112.8 469.9 112.3 470.4 111.6 470.9 110.2 470.9 108.7 469.7 106 464.5 99.7 463.7 97.6 461 87.2 459.3 71.1 458.3 69.6 456.9 68.5 455.6 68.1 454.2 68M501.1 57.4 499.5 58.6 498 60.7 497.3 62.8 497.1 64.9 499.2 72.5 502.8 83 502.5 92.1 499.9 98.3 497.7 101.8 494.6 104.4 490 107.4 488.1 109.5 487.8 110.2 488.1 111.6 489.2 113 491.1 114.3 493.9 115.1 496.7 115 505.1 112.3 507.3 110.2 515.7 98.3 516.5 96.2 518.6 82.3 518.3 80.2 514.7 68.2M446.6 76.6 448 90 452.1 104.6 453.2 106.7 456 110.2 461.1 113.9 463.2 114.9 465.3 115.4 468.1 115.5 470.2 115 472.6 113.7 473.4 113 474 111.6 474 108.8 472.8 106 468.6 100.4 466.9 97.6 464.6 87.2 463.2 71.8 462.7 69.7 461.5 67.6 459.7 65.9 457.6 64.8 455.3 64.4M447.9 114.2 452.8 113 454.9 113.1 456.9 113.8 462.5 116.8 465.3 117.4 467.4 117.6 470.9 117.1 484.1 113.5 485.5 113.7 491.1 116.4 495.3 117.1 497.4 116.9 503.7 115.5 512 115.4 519 113.8M482.1 74.5 485.5 74.3 489.7 74.9 493.2 76.2 496 78 498.1 80.1 500 83 500.5 85.1 500.9 88.6 500.9 91.4 500.1 94.2 498.6 97.6 496.7 100.7 493.9 103.1 488.4 106.7 484.8 109.8 483.4 110.3 480.7 110 477.9 108.9 476.5 107.7 472.3 102.5 470.3 99.7 468.8 97 467.7 90.7 467.8 87.9 468.2 85.8 469.1 83.7 471 80.9 473 78.8 475.8 76.8 478.6 75.5 481.6 74.6M451.5 119.4 455.6 118.7 458.3 118.7 469.5 121.1 474.4 121.7 478.6 121.3 486.2 119.4 489 119 498.8 119.8 507.9 121.6 510.7 121.6 514.1 121.2M481.4 78 484.1 77.5 487.6 77.8 490.4 78.5 493.2 80 495.3 81.7 497.5 84.4 498.8 87.1 499.4 90 499.2 92.1 498.5 94.8 495.9 99.7 491.8 103.1 486.2 106.5 484.1 107.1 482.1 107 480 106.4 477.9 105.4 475.8 103.8 473.7 101.6 471.9 99 470.7 96.2 470.3 94.2 470.2 91.4 470.5 89.3 471.3 86.5 472.5 84.4 474.1 82.3 475.8 80.7 478.6 79 480.9 78.1M456.1 124.7 460.4 124.9 470.2 127.3 475.1 127.7 479.3 127.3 488.3 125 493.2 124.7 496.7 125.1 507.2 127.6M481.4 80.1 484.1 79.6 486.9 79.7 489.7 80.4 491.8 81.5 493.9 83.1 495.6 85.1 496.8 87.2 497.6 90 497.7 92.1 497.3 94.2 496.3 96.9 495 99 493.2 100.8 490.7 102.5 486.9 104.6 484.8 105.2 482.8 105.1 480.7 104.5 478.6 103.5 476.5 102 475 100.4 473.6 98.3 472.3 94.2 472.4 90 474 85.8 475.5 83.7 477.1 82.3 481 80.2M473.6 133.8 478.6 133.5 486.9 131.4 490.4 130.8 494.6 130.9 499.1 131.8M482.8 81.6 486.9 81.5 489 82.1 491.1 83.2 492.6 84.4 494.4 86.5 495.4 88.6 495.9 90.7 495.8 94.2 495.1 96.2 494 98.3 490.4 101.3 487.6 102.8 485.5 103.4 482.1 103.1 480 102.3 478.2 101.1 475.6 98.3 474.6 96.2 474.1 94.2 474.2 90 475.8 86.3 478.6 83.4 480.7 82.2 482.6 81.6M482.8 83.5 486.2 83.3 489.7 84.5 492.5 87.1 493.9 90.1 494.1 93.5 492.9 96.9 490.4 99.6 486.9 101.3 483.4 101.5 480.5 100.4 477.9 98.2 476.1 94.8 475.9 91.4 477 87.9 479.3 85.2 482.1 83.7M484.1 85.7 486.9 86 489 87 490.5 88.6 491.6 91.4 491.5 94.2 490.5 96.2 488.3 98.2 486.2 99 483.4 98.9 481.4 98 479.3 95.9 478.4 93.5 478.5 90.7 479.5 88.6 481.4 86.8 484 85.8" fill="none" stroke="#2a2a2a" stroke-opacity="0.55" stroke-width="0.45"/>
</g>
<circle cx="483.45" cy="94.15" r="38.75" fill="none" stroke="#333" stroke-width="1"/>
<path d="M476.6 55.6 L483.4 49.1 L490.2 55.6 Z" fill="none" stroke="#333" stroke-width="0.9" stroke-linejoin="miter"/>
<path d="M445.0 87.4 L442.3 87.4 Q440.8 87.4 440.8 89.4 L440.8 102.2 Q440.8 104.8 442.6 104.8 L445.0 104.8" fill="none" stroke="#555" stroke-width="0.9"/>
<path d="M521.9 87.4 L524.6 87.4 Q526.1 87.4 526.1 89.4 L526.1 102.2 Q526.1 104.8 524.3 104.8 L521.9 104.8" fill="none" stroke="#555" stroke-width="0.9"/>
<clipPath id="clip_m3"><circle cx="356.10" cy="220.30" r="38.80"/></clipPath>
<g clip-path="url(#clip_m3)">
<rect x="316.3" y="180.5" width="79.6" height="79.6" fill="#484ef1"/>
<path d="M349.1 179.8 363.1 179.8 363.8 180.5 365.9 180.5 366.6 181.2 368.7 181.2 369.4 181.9 370.8 181.9 371.5 182.6 372.2 182.6 372.9 183.3 373.6 183.3 374.3 184 375 184 377.1 185.4 377.8 185.4 379.1 186.8 379.8 186.8 382.6 189.6 383.3 189.6 386.8 193.1 386.8 193.8 389.6 196.6 389.6 197.3 391 198.6 391 199.3 392.4 201.4 392.4 202.1 393.1 202.8 393.1 203.5 393.8 204.2 393.8 204.9 394.5 205.6 394.5 207 395.2 207.7 395.2 209.8 395.9 210.5 395.9 212.6 396.6 213.3 396.6 227.3 395.9 228 395.9 230.1 395.2 230.8 395.2 232.9 394.5 233.6 394.5 235 393.8 235.7 393.8 236.4 393.1 237.1 393.1 237.8 392.4 238.5 392.4 239.2 391 241.3 391 242 389.6 243.3 389.6 244 386.8 246.8 386.8 247.5 383.3 251 382.6 251 379.8 253.8 379.1 253.8 377.8 255.2 377.1 255.2 376.4 255.9 375.7 255.9 373.6 257.3 372.9 257.3 370.8 258.7 369.4 258.7 368.7 259.4 366.6 259.4 365.9 260.1 363.8 260.1 363.1 260.8 349.1 260.8 348.4 260.1 346.3 260.1 345.6 259.4 343.5 259.4 342.8 258.7 341.4 258.7 340.7 258 340 258 337.9 256.6 337.2 256.6 335.1 255.2 334.4 255.2 333.1 253.8 332.4 253.8 329.6 251 328.9 251 325.4 247.5 325.4 246.8 322.6 244 322.6 243.3 321.2 242 321.2 241.3 319.8 239.2 319.8 238.5 318.4 236.4 318.4 235.7 317.7 235 317.7 233.6 317 232.9 317 230.8 316.3 230.1 316.3 228 315.6 227.3 315.6 213.3 316.3 212.6 316.3 210.5 317 209.8 317 207.7 317.7 207 317.7 205.6 319.1 203.5 319.1 202.8 319.8 202.1 319.8 201.4 320.5 200.7 320.5 200 321.2 199.3 321.2 198.6 322.6 197.3 322.6 196.6 325.4 193.8 325.4 193.1 328.9 189.6 329.6 189.6 332.4 186.8 333.1 186.8 334.4 185.4 335.1 185.4 337.2 184 337.9 184 340 182.6 340.7 182.6 341.4 181.9 342.8 181.9 343.5 181.2 345.6 181.2 346.3 180.5 348.4 180.5ZM373.7 223.8 370.8 225.5 368 228.7 366.5 232.2 366.7 233.6 367.3 234.3 369.4 234.9 372.3 234.3 375 232.7 377.1 230.2 378.4 226.8 378.4 224.5 377.8 223.7 377.1 223.3 374.3 223.6Z" fill="#4759f8"/>
<path d="M349.1 179.8 363.1 179.8 363.8 180.5 365.9 180.5 366.6 181.2 368.7 181.2 369.4 181.9 370.8 181.9 371.5 182.6 372.2 182.6 372.9 183.3 373.6 183.3 374.3 184 375 184 377.1 185.4 377.8 185.4 379.1 186.8 379.8 186.8 382.6 189.6 383.3 189.6 386.8 193.1 386.8 193.8 389.6 196.6 389.6 197.3 391 198.6 391 199.3 392.4 201.4 392.4 202.1 393.1 202.8 393.1 203.5 393.8 204.2 393.8 204.9 394.5 205.6 394.5 207 395.2 207.7 395.2 209.8 395.9 210.5 395.9 212.6 396.6 213.3 396.6 227.3 395.9 228 395.9 230.1 395.2 230.8 395.2 232.9 394.5 233.6 394.5 235 393.8 235.7 393.8 236.4 393.1 237.1 393.1 237.8 392.4 238.5 392.4 239.2 391 241.3 391 242 389.6 243.3 389.6 244 386.8 246.8 386.8 247.5 383.3 251 382.6 251 379.8 253.8 379.1 253.8 377.8 255.2 377.1 255.2 376.4 255.9 375.7 255.9 373.6 257.3 372.9 257.3 370.8 258.7 369.4 258.7 368.7 259.4 366.6 259.4 365.9 260.1 363.8 260.1 363.1 260.8 349.1 260.8 348.4 260.1 346.3 260.1 345.6 259.4 343.5 259.4 342.8 258.7 341.4 258.7 340.7 258 340 258 337.9 256.6 337.2 256.6 335.1 255.2 334.4 255.2 333.1 253.8 332.4 253.8 329.6 251 328.9 251 325.4 247.5 325.4 246.8 322.6 244 322.6 243.3 321.2 242 321.2 241.3 319.8 239.2 319.8 238.5 318.4 236.4 318.4 235.7 317.7 235 317.7 233.6 317 232.9 317 230.8 316.3 230.1 316.3 228 315.6 227.3 315.6 213.3 316.3 212.6 316.3 210.5 317 209.8 317 207.7 317.7 207 317.7 205.6 319.1 203.5 319.1 202.8 319.8 202.1 319.8 201.4 320.5 200.7 320.5 200 321.2 199.3 321.2 198.6 322.6 197.3 322.6 196.6 325.4 193.8 325.4 193.1 328.9 189.6 329.6 189.6 332.4 186.8 333.1 186.8 334.4 185.4 335.1 185.4 337.2 184 337.9 184 340 182.6 340.7 182.6 341.4 181.9 342.8 181.9 343.5 181.2 345.6 181.2 346.3 180.5 348.4 180.5ZM375.5 220.3 372.9 221.4 370.3 223.1 368 225.2 366.4 227.3 364.8 230.1 363.9 232.9 364.2 235 365.2 236 366.6 236.5 368.7 236.7 372.9 235.8 376.4 233.8 379 230.8 381.3 225.9 381.7 223.8 381.5 222.4 380.8 221 379.8 220.3 377.8 219.9 375.7 220.3Z" fill="#4562fc"/>
<path d="M349.1 179.8 363.1 179.8 363.8 180.5 365.9 180.5 366.6 181.2 368.7 181.2 369.4 181.9 370.8 181.9 371.5 182.6 372.2 182.6 372.9 183.3 373.6 183.3 374.3 184 375 184 377.1 185.4 377.8 185.4 379.1 186.8 379.8 186.8 382.6 189.6 383.3 189.6 386.8 193.1 386.8 193.8 389.6 196.6 389.6 197.3 391 198.6 391 199.3 392.4 201.4 392.4 202.1 393.1 202.8 393.1 203.5 393.8 204.2 393.8 204.9 394.5 205.6 394.5 207 395.2 207.7 395.2 209.8 395.9 210.5 395.9 212.6 396.6 213.3 396.6 227.3 395.9 228 395.9 230.1 395.2 230.8 395.2 232.9 394.5 233.6 394.5 235 393.8 235.7 393.8 236.4 393.1 237.1 393.1 237.8 392.4 238.5 392.4 239.2 391 241.3 391 242 389.6 243.3 389.6 244 386.8 246.8 386.8 247.5 383.3 251 382.6 251 379.8 253.8 379.1 253.8 377.8 255.2 377.1 255.2 376.4 255.9 375.7 255.9 373.6 257.3 372.9 257.3 370.8 258.7 369.4 258.7 368.7 259.4 366.6 259.4 365.9 260.1 363.8 260.1 363.1 260.8 349.1 260.8 348.4 260.1 346.3 260.1 345.6 259.4 343.5 259.4 342.8 258.7 341.4 258.7 340.7 258 340 258 337.9 256.6 337.2 256.6 335.1 255.2 334.4 255.2 333.1 253.8 332.4 253.8 329.6 251 328.9 251 325.4 247.5 325.4 246.8 322.6 244 322.6 243.3 321.2 242 321.2 241.3 319.8 239.2 319.8 238.5 318.4 236.4 318.4 235.7 317.7 235 317.7 233.6 317 232.9 317 230.8 316.3 230.1 316.3 228 315.6 227.3 315.6 213.3 316.3 212.6 316.3 210.5 317 209.8 317 207.7 317.7 207 317.7 205.6 319.1 203.5 319.1 202.8 319.8 202.1 319.8 201.4 320.5 200.7 320.5 200 321.2 199.3 321.2 198.6 322.6 197.3 322.6 196.6 325.4 193.8 325.4 193.1 328.9 189.6 329.6 189.6 332.4 186.8 333.1 186.8 334.4 185.4 335.1 185.4 337.2 184 337.9 184 340 182.6 340.7 182.6 341.4 181.9 342.8 181.9 343.5 181.2 345.6 181.2 346.3 180.5 348.4 180.5ZM376.8 218.2 373.6 219.4 370.7 221 367.4 223.8 365.2 226.4 363 230.1 361.9 233.6 362.1 235.7 363.3 237.1 365.2 237.8 367.3 238.1 372.2 237.3 374.6 236.4 376.9 235 379.8 232.1 381.6 229.4 383.1 225.9 383.7 223.1 383.6 221 382.6 219.3 381.2 218.4 379.1 218 377.1 218.2Z" fill="#416bfe"/>
<path d="M349.1 179.8 363.1 179.8 363.8 180.5 365.9 180.5 366.6 181.2 368.7 181.2 369.4 181.9 370.8 181.9 371.5 182.6 372.2 182.6 372.9 183.3 373.6 183.3 374.3 184 375 184 377.1 185.4 377.8 185.4 379.1 186.8 379.8 186.8 382.6 189.6 383.3 189.6 386.8 193.1 386.8 193.8 389.6 196.6 389.6 197.3 391 198.6 391 199.3 392.4 201.4 392.4 202.1 393.1 202.8 393.1 203.5 393.8 204.2 393.8 204.9 394.5 205.6 394.5 207 395.2 207.7 395.2 209.8 395.9 210.5 395.9 212.6 396.6 213.3 396.6 227.3 395.9 228 395.9 230.1 395.2 230.8 395.2 232.9 394.5 233.6 394.5 235 393.8 235.7 393.8 236.4 393.1 237.1 393.1 237.8 392.4 238.5 392.4 239.2 391 241.3 391 242 389.6 243.3 389.6 244 386.8 246.8 386.8 247.5 383.3 251 382.6 251 379.8 253.8 379.1 253.8 377.8 255.2 377.1 255.2 376.4 255.9 375.7 255.9 373.6 257.3 372.9 257.3 370.8 258.7 369.4 258.7 368.7 259.4 366.6 259.4 365.9 260.1 363.8 260.1 363.1 260.8 349.1 260.8 348.4 260.1 346.3 260.1 345.6 259.4 343.5 259.4 342.8 258.7 341.4 258.7 340.7 258 340 258 337.9 256.6 337.2 256.6 335.1 255.2 334.4 255.2 333.1 253.8 332.4 253.8 329.6 251 328.9 251 325.4 247.5 325.4 246.8 322.6 244 322.6 243.3 321.2 242 321.2 241.3 319.8 239.2 319.8 238.5 318.4 236.4 318.4 235.7 317.7 235 317.7 233.6 317 232.9 317 230.8 316.3 230.1 316.3 228 315.6 227.3 315.6 213.3 316.3 212.6 316.3 210.5 317 209.8 317 207.7 317.7 207 317.7 205.6 319.1 203.5 319.1 202.8 319.8 202.1 319.8 201.4 320.5 200.7 320.5 200 321.2 199.3 321.2 198.6 322.6 197.3 322.6 196.6 325.4 193.8 325.4 193.1 328.9 189.6 329.6 189.6 332.4 186.8 333.1 186.8 334.4 185.4 335.1 185.4 337.2 184 337.9 184 340 182.6 340.7 182.6 341.4 181.9 342.8 181.9 343.5 181.2 345.6 181.2 346.3 180.5 348.4 180.5ZM376.9 216.8 373.6 218.1 370.8 219.6 367.1 222.4 363.8 226 361.5 226.6 360.4 227.3 360.6 228 361.8 229.4 360.4 232.9 360.1 235 360.4 236.4 361.5 237.8 363.1 238.6 365.9 239.2 368.7 239.1 371.5 238.6 374.3 237.6 377.1 236.2 379.6 234.3 381.2 232.4 383.3 228.8 384.8 225.2 385.5 222.4 385.4 220.3 384.4 218.2 382.6 216.9 379.8 216.4 377.1 216.8Z" fill="#3875fe"/>
<path d="M349.1 179.8 363.1 179.8 363.8 180.5 365.9 180.5 366.6 181.2 368.7 181.2 369.4 181.9 370.8 181.9 371.5 182.6 372.2 182.6 372.9 183.3 373.6 183.3 374.3 184 375 184 377.1 185.4 377.8 185.4 379.1 186.8 379.8 186.8 382.6 189.6 383.3 189.6 386.8 193.1 386.8 193.8 389.6 196.6 389.6 197.3 391 198.6 391 199.3 392.4 201.4 392.4 202.1 393.1 202.8 393.1 203.5 393.8 204.2 393.8 204.9 394.5 205.6 394.5 207 395.2 207.7 395.2 209.8 395.9 210.5 395.9 212.6 396.6 213.3 396.6 227.3 395.9 228 395.9 230.1 395.2 230.8 395.2 232.9 394.5 233.6 394.5 235 393.8 235.7 393.8 236.4 393.1 237.1 393.1 237.8 392.4 238.5 392.4 239.2 391 241.3 391 242 389.6 243.3 389.6 244 386.8 246.8 386.8 247.5 383.3 251 382.6 251 379.8 253.8 379.1 253.8 377.8 255.2 377.1 255.2 376.4 255.9 375.7 255.9 373.6 257.3 372.9 257.3 370.8 258.7 369.4 258.7 368.7 259.4 366.6 259.4 365.9 260.1 363.8 260.1 363.1 260.8 349.1 260.8 348.4 260.1 346.3 260.1 345.6 259.4 343.5 259.4 342.8 258.7 341.4 258.7 340.7 258 340 258 337.9 256.6 337.2 256.6 335.1 255.2 334.4 255.2 333.1 253.8 332.4 253.8 329.6 251 328.9 251 325.4 247.5 325.4 246.8 322.6 244 322.6 243.3 321.2 242 321.2 241.3 319.8 239.2 319.8 238.5 318.4 236.4 318.4 235.7 317.7 235 317.7 233.6 317 232.9 317 230.8 316.3 230.1 316.3 228 315.6 227.3 315.6 221.4 326.1 221.6 333.8 222.8 342.8 225.4 359.4 231.5 358.5 235 358.9 237.2 359.9 238.5 361 239.2 364.5 240.1 369.8 239.9 375 238.3 379.6 235.7 382.6 232.5 384.1 230.1 385.9 225.9 386.8 223.1 387.1 221 386.8 218.9 386.2 217.5 384.7 216.1 383.2 215.4 381.2 215.1 379.1 215.2 375 216.3 370.1 218.9 365.2 222.7 352.6 221.5 346.3 220.6 340.7 219.3 333.1 216.9 326.8 215.8 315.8 213.1 316.3 212.6 316.3 210.5 317 209.8 317 207.7 317.7 207 317.7 205.6 319.1 203.5 319.1 202.8 319.8 202.1 319.8 201.4 320.5 200.7 320.5 200 321.2 199.3 321.2 198.6 322.6 197.3 322.6 196.6 325.4 193.8 325.4 193.1 326.1 192.4 328.9 189.6 329.6 189.6 332.4 186.8 333.1 186.8 334.4 185.4 335.1 185.4 337.2 184 337.9 184 340 182.6 340.7 182.6 341.4 181.9 342.8 181.9 343.5 181.2 345.6 181.2 346.3 180.5 348.4 180.5Z" fill="#307ffb"/>
<path d="M349.1 179.8 363.1 179.8 363.8 180.5 365.9 180.5 366.6 181.2 368.7 181.2 369.4 181.9 370.8 181.9 371.5 182.6 372.2 182.6 372.9 183.3 373.6 183.3 374.3 184 375 184 377.1 185.4 377.8 185.4 379.1 186.8 379.8 186.8 382.6 189.6 383.3 189.6 386.8 193.1 386.8 193.8 389.6 196.6 389.6 197.3 391 198.6 391 199.3 392.4 201.4 392.4 202.1 393.1 202.8 393.1 203.5 393.8 204.2 393.8 204.9 394.5 205.6 394.5 207 395.2 207.7 395.2 209.8 395.9 210.5 395.9 212.6 396.6 213.3 396.6 227.3 395.9 228 395.9 230.1 395.2 230.8 395.2 232.9 394.5 233.6 394.5 235 393.8 235.7 393.8 236.4 393.1 237.1 393.1 237.8 392.4 238.5 392.4 239.2 391 241.3 391 242 389.6 243.3 389.6 244 386.8 246.8 386.8 247.5 383.3 251 382.6 251 379.8 253.8 379.1 253.8 377.8 255.2 377.1 255.2 376.4 255.9 375.7 255.9 373.6 257.3 372.9 257.3 370.8 258.7 369.4 258.7 368.7 259.4 366.6 259.4 365.9 260.1 363.8 260.1 363.1 260.8 349.1 260.8 348.4 260.1 346.3 260.1 345.6 259.4 343.5 259.4 342.8 258.7 341.4 258.7 340.7 258 340 258 337.9 256.6 337.2 256.6 335.1 255.2 334.4 255.2 333.1 253.8 332.4 253.8 329.6 251 328.9 251 325.4 247.5 325.4 246.8 322.6 244 322.6 243.3 321.2 242 321.2 241.3 319.8 239.2 319.8 238.5 318.4 236.4 318.4 235.7 317.7 235 317.7 233.6 317 232.9 317 230.8 316.3 230.1 316.3 228 315.6 227.3 315.6 223.2 328.2 223.9 331.7 224.4 335.8 225.5 357.5 232.8 356.9 236.4 357.8 238.5 358.9 239.4 360.3 240.1 364.5 240.9 370.1 240.6 375.2 239.2 380.3 236.4 382 235 383.8 232.9 385.4 230.1 387.2 225.9 388.2 223.1 388.6 220.3 388.3 218.2 387.7 216.8 386.6 215.4 384.7 214.4 382.6 213.9 380.5 213.9 376.4 214.7 371.8 216.8 365.9 221 365.2 221 349.1 218.8 333.8 214.8 316.3 211.5 316.3 210.5 317 209.8 317 207.7 317.7 207 317.7 205.6 319.1 203.5 319.1 202.8 319.8 202.1 319.8 201.4 320.5 200.7 320.5 200 321.2 199.3 321.2 198.6 322.6 197.3 322.6 196.6 325.4 193.8 325.4 193.1 328.9 189.6 329.6 189.6 332.4 186.8 333.1 186.8 334.4 185.4 335.1 185.4 337.2 184 337.9 184 340 182.6 340.7 182.6 341.4 181.9 342.8 181.9 343.5 181.2 345.6 181.2 346.3 180.5 348.4 180.5Z" fill="#2d87f6"/>
<path d="M349.1 179.8 363.1 179.8 363.8 180.5 365.9 180.5 366.6 181.2 368.7 181.2 369.4 181.9 370.8 181.9 371.5 182.6 372.2 182.6 372.9 183.3 373.6 183.3 374.3 184 375 184 377.1 185.4 377.8 185.4 379.1 186.8 379.8 186.8 382.6 189.6 383.3 189.6 386.8 193.1 386.8 193.8 389.6 196.6 389.6 197.3 391 198.6 391 199.3 392.4 201.4 392.4 202.1 393.1 202.8 393.1 203.5 393.8 204.2 393.8 204.9 394.5 205.6 394.5 207 395.2 207.7 395.2 209.8 395.9 210.5 395.9 212.6 396.6 213.3 396.6 227.3 395.9 228 395.9 230.1 395.2 230.8 395.2 232.9 394.5 233.6 394.5 235 393.8 235.7 393.8 236.4 393.1 237.1 393.1 237.8 392.4 238.5 392.4 239.2 391 241.3 391 242 389.6 243.3 389.6 244 386.8 246.8 386.8 247.5 383.3 251 382.6 251 379.8 253.8 379.1 253.8 377.8 255.2 377.1 255.2 376.4 255.9 375.7 255.9 373.6 257.3 372.9 257.3 370.8 258.7 369.4 258.7 368.7 259.4 366.6 259.4 365.9 260.1 363.8 260.1 363.1 260.8 349.1 260.8 348.4 260.1 346.3 260.1 345.6 259.4 343.5 259.4 342.8 258.7 341.4 258.7 340.7 258 340 258 337.9 256.6 337.2 256.6 335.1 255.2 334.4 255.2 333.1 253.8 332.4 253.8 329.6 251 328.9 251 325.4 247.5 325.4 246.8 322.6 244 322.6 243.3 321.2 242 321.2 241.3 319.8 239.2 319.8 238.5 318.4 236.4 318.4 235.7 317.7 235 317.7 233.6 317 232.9 317 230.8 316.3 230.1 316.3 228 315.6 227.3 315.6 224.5 328.2 225.4 331.7 225.9 335.8 227 355.4 233.8 355.7 234.3 355.4 237.1 355.9 238.5 356.8 239.5 359.6 240.9 363.8 241.8 369.4 241.5 375.7 239.9 381.1 237.1 382.9 235.7 384.8 233.6 386.4 230.8 388.5 225.9 389.5 223.1 390 220.3 389.9 218.2 389.2 216.1 388.2 214.7 386 213.3 381.9 212.7 377.1 213.5 371.5 216 365.9 219.8 350.5 217.7 344.2 216.3 333.8 213.3 316.6 210.2 317 209.8 317 207.7 317.7 207 317.7 205.6 319.1 203.5 319.1 202.8 319.8 202.1 319.8 201.4 320.5 200.7 320.5 200 321.2 199.3 321.2 198.6 322.6 197.3 322.6 196.6 325.4 193.8 325.4 193.1 328.9 189.6 329.6 189.6 332.4 186.8 333.1 186.8 334.4 185.4 335.1 185.4 337.2 184 337.9 184 340 182.6 340.7 182.6 341.4 181.9 342.8 181.9 343.5 181.2 345.6 181.2 346.3 180.5 348.4 180.5Z" fill="#2c90f0"/>
<path d="M349.1 179.8 363.1 179.8 363.8 180.5 365.9 180.5 366.6 181.2 368.7 181.2 369.4 181.9 370.8 181.9 371.5 182.6 372.2 182.6 372.9 183.3 373.6 183.3 374.3 184 375 184 377.1 185.4 377.8 185.4 379.1 186.8 379.8 186.8 382.6 189.6 383.3 189.6 386.8 193.1 386.8 193.8 389.6 196.6 389.6 197.3 391 198.6 391 199.3 392.4 201.4 392.4 202.1 393.1 202.8 393.1 203.5 393.8 204.2 393.8 204.9 394.5 205.6 394.5 207 395.2 207.7 395.2 209.8 395.9 210.5 395.9 212.6 396.6 213.3 396.6 227.3 395.9 228 395.9 230.1 395.2 230.8 395.2 232.9 394.5 233.6 394.5 235 393.8 235.7 393.8 236.4 393.1 237.1 393.1 237.8 392.4 238.5 392.4 239.2 391 241.3 391 242 389.6 243.3 389.6 244 386.8 246.8 386.8 247.5 383.3 251 382.6 251 379.8 253.8 379.1 253.8 377.8 255.2 377.1 255.2 376.4 255.9 375.7 255.9 373.6 257.3 372.9 257.3 370.8 258.7 369.4 258.7 368.7 259.4 366.6 259.4 365.9 260.1 363.8 260.1 363.1 260.8 349.1 260.8 348.4 260.1 346.3 260.1 345.6 259.4 343.5 259.4 342.8 258.7 341.4 258.7 340.7 258 340 258 337.9 256.6 337.2 256.6 335.1 255.2 334.4 255.2 333.1 253.8 332.4 253.8 329.6 251 328.9 251 325.4 247.5 325.4 246.8 322.6 244 322.6 243.3 321.2 242 321.2 241.3 319.8 239.2 319.8 238.5 318.4 236.4 318.4 235.7 317.7 235 317.7 233.6 317 232.9 317 230.8 316.3 230.1 316.3 228 315.6 227.3 315.6 225.7 321.9 226 331 227 336.5 228.6 354 235 353.9 237.8 355.2 239.9 358.9 241.8 363.1 242.6 366.6 242.6 370.1 242.2 377.8 239.9 382.9 237.1 384.7 235.5 386.4 233.6 387.9 230.8 390.3 224.5 391.1 221.7 391.4 218.9 391.2 216.8 390.3 214.7 388.9 213.2 386.8 212.1 382.6 211.6 379.8 211.9 377.1 212.6 371.5 215.1 365.9 218.8 349.8 216.4 333.8 212.2 317 209.1 317 207.7 317.7 207 317.7 205.6 319.1 203.5 319.1 202.8 319.8 202.1 319.8 201.4 320.5 200.7 320.5 200 321.2 199.3 321.2 198.6 322.6 197.3 322.6 196.6 325.4 193.8 325.4 193.1 328.9 189.6 329.6 189.6 332.4 186.8 333.1 186.8 334.4 185.4 335.1 185.4 337.2 184 337.9 184 340 182.6 340.7 182.6 341.4 181.9 342.8 181.9 343.5 181.2 345.6 181.2 346.3 180.5 348.4 180.5Z" fill="#2798ea"/>
<path d="M349.1 179.8 363.1 179.8 363.8 180.5 365.9 180.5 366.6 181.2 368.7 181.2 369.4 181.9 370.8 181.9 371.5 182.6 372.2 182.6 372.9 183.3 373.6 183.3 374.3 184 375 184 377.1 185.4 377.8 185.4 379.1 186.8 379.8 186.8 382.6 189.6 383.3 189.6 386.8 193.1 386.8 193.8 389.6 196.6 389.6 197.3 391 198.6 391 199.3 392.4 201.4 392.4 202.1 393.1 202.8 393.1 203.5 393.8 204.2 393.8 204.9 394.5 205.6 394.5 207 395.2 207.7 395.2 209.8 395.9 210.5 395.9 212.6 396.6 213.3 396.6 227.3 395.9 228 395.9 230.1 395.2 230.8 395.2 232.9 394.5 233.6 394.5 235 393.8 235.7 393.8 236.4 393.1 237.1 393.1 237.8 392.4 238.5 392.4 239.2 391 241.3 391 242 389.6 243.3 389.6 244 386.8 246.8 386.8 247.5 383.3 251 382.6 251 379.8 253.8 379.1 253.8 377.8 255.2 377.1 255.2 376.4 255.9 375.7 255.9 373.6 257.3 372.9 257.3 370.8 258.7 369.4 258.7 368.7 259.4 366.6 259.4 365.9 260.1 363.8 260.1 363.1 260.8 349.1 260.8 348.4 260.1 346.3 260.1 345.6 259.4 343.5 259.4 342.8 258.7 341.4 258.7 340.7 258 340 258 337.9 256.6 337.2 256.6 335.1 255.2 334.4 255.2 333.1 253.8 332.4 253.8 329.6 251 328.9 251 325.4 247.5 325.4 246.8 322.6 244 322.6 243.3 321.2 242 321.2 241.3 319.8 239.2 319.8 238.5 318.4 236.4 318.4 235.7 317.7 235 317.7 233.6 317 232.9 317 230.8 316.3 230.1 316.3 228 315.6 227.3 315.6 226.8 327.5 227.6 331.7 228.3 336.5 229.8 351.6 235.7 352.1 236.4 352.2 237.8 352.8 239.2 354.2 240.6 357.5 242.3 362.4 243.4 365.9 243.5 369.4 243.1 377.1 241 380.1 239.9 383.3 238.1 385.7 236.4 387.7 234.3 389.2 231.5 391.9 223.8 392.6 221 392.9 218.2 392.7 216.1 391.7 213.7 390.3 212.2 388.2 211 386.1 210.5 383.3 210.4 377.8 211.4 372.9 213.4 365.9 217.8 365.2 217.8 350.5 215.6 334.4 211.3 317 208 317.7 207 317.7 205.6 319.1 203.5 319.1 202.8 319.8 202.1 319.8 201.4 320.5 200.7 320.5 200 321.2 199.3 321.2 198.6 322.6 197.3 322.6 196.6 325.4 193.8 325.4 193.1 328.9 189.6 329.6 189.6 332.4 186.8 333.1 186.8 334.4 185.4 335.1 185.4 337.2 184 337.9 184 340 182.6 340.7 182.6 341.4 181.9 342.8 181.9 343.5 181.2 345.6 181.2 346.3 180.5 348.4 180.5Z" fill="#249fe5"/>
<path d="M349.1 179.8 363.1 179.8 363.8 180.5 365.9 180.5 366.6 181.2 368.7 181.2 369.4 181.9 370.8 181.9 371.5 182.6 372.2 182.6 372.9 183.3 373.6 183.3 374.3 184 375 184 377.1 185.4 377.8 185.4 379.1 186.8 379.8 186.8 382.6 189.6 383.3 189.6 386.8 193.1 386.8 193.8 389.6 196.6 389.6 197.3 391 198.6 391 199.3 392.4 201.4 392.4 202.1 393.1 202.8 393.1 203.5 393.8 204.2 393.8 204.9 394.5 205.6 394.5 207 395.2 207.7 395.2 209.8 395.9 210.5 395.9 212.6 396.6 213.3 396.6 227.3 395.9 228 395.9 230.1 395.2 230.8 395.2 232.9 394.5 233.6 394.5 235 393.8 235.7 393.8 236.4 393.1 237.1 393.1 237.8 392.4 238.5 392.4 239.2 391 241.3 391 242 389.6 243.3 389.6 244 386.8 246.8 386.8 247.5 383.3 251 382.6 251 379.8 253.8 379.1 253.8 377.8 255.2 377.1 255.2 376.4 255.9 375.7 255.9 373.6 257.3 372.9 257.3 370.8 258.7 369.4 258.7 368.7 259.4 366.6 259.4 365.9 260.1 363.8 260.1 363.1 260.8 349.1 260.8 348.4 260.1 346.3 260.1 345.6 259.4 343.5 259.4 342.8 258.7 341.4 258.7 340.7 258 340 258 337.9 256.6 337.2 256.6 335.1 255.2 334.4 255.2 333.1 253.8 332.4 253.8 329.6 251 328.9 251 325.4 247.5 325.4 246.8 322.6 244 322.6 243.3 321.2 242 321.2 241.3 319.8 239.2 319.8 238.5 318.4 236.4 318.4 235.7 317.7 235 317.7 233.6 317 232.9 317 230.8 316.3 230.1 316.3 228 325.4 228.5 331.7 229.4 337.5 231.5 349.8 236.6 350.3 237.1 350.6 238.5 351.4 239.9 355.5 242.6 358.9 243.8 363.1 244.4 366.6 244.3 370.8 243.7 379.8 240.9 382.4 239.9 386.1 237.8 388.2 236.2 389.9 234.3 390.9 232.2 393.8 222.4 394.5 217.5 394.1 214.7 393.2 212.6 391.7 211.1 389.6 209.9 387.5 209.4 384.7 209.2 378.4 210.3 373.6 212.2 365.9 216.8 365.2 216.9 350.5 214.7 334.4 210.3 317.7 207.1 317.7 205.6 319.1 203.5 319.1 202.8 319.8 202.1 319.8 201.4 320.5 200.7 320.5 200 321.2 199.3 321.2 198.6 322.6 197.3 322.6 196.6 325.4 193.8 325.4 193.1 328.9 189.6 329.6 189.6 332.4 186.8 333.1 186.8 334.4 185.4 335.1 185.4 337.2 184 337.9 184 340 182.6 340.7 182.6 341.4 181.9 342.8 181.9 343.5 181.2 345.6 181.2 346.3 180.5 348.4 180.5Z" fill="#1ea7e1"/>
<path d="M349.1 179.8 363.1 179.8 363.8 180.5 365.9 180.5 366.6 181.2 368.7 181.2 369.4 181.9 370.8 181.9 371.5 182.6 372.2 182.6 372.9 183.3 373.6 183.3 374.3 184 375 184 377.1 185.4 377.8 185.4 379.1 186.8 379.8 186.8 382.6 189.6 383.3 189.6 386.8 193.1 386.8 193.8 389.6 196.6 389.6 197.3 391 198.6 391 199.3 392.4 201.4 392.4 202.1 393.1 202.8 393.1 203.5 393.8 204.2 393.8 204.9 394.5 205.6 394.5 207 395.2 207.7 395.2 209.8 395.9 210.5 395.9 212.6 396.6 213.3 396.6 227.3 395.9 228 395.9 230.1 395.2 230.8 395.2 232.9 394.5 233.6 394.5 235 393.8 235.7 393.8 236.4 393.1 237.1 393.1 237.8 392.4 238.5 392.4 239.2 391 241.3 391 242 389.6 243.3 389.6 244 386.8 246.8 386.8 247.5 383.3 251 382.6 251 379.8 253.8 379.1 253.8 377.8 255.2 377.1 255.2 376.4 255.9 375.7 255.9 373.6 257.3 372.9 257.3 370.8 258.7 369.4 258.7 368.7 259.4 366.6 259.4 365.9 260.1 363.8 260.1 363.1 260.8 349.1 260.8 348.4 260.1 346.3 260.1 345.6 259.4 343.5 259.4 342.8 258.7 341.4 258.7 340.7 258 340 258 337.9 256.6 337.2 256.6 335.1 255.2 334.4 255.2 333.1 253.8 332.4 253.8 329.6 251 328.9 251 325.4 247.5 325.4 246.8 322.6 244 322.6 243.3 321.2 242 321.2 241.3 319.8 239.2 319.8 238.5 318.4 236.4 318.4 235.7 317.7 235 317.7 233.6 317 232.9 317 230.8 316.3 230.1 316.3 229.3 324 229.5 331 230.4 337.6 232.9 348.4 237.7 349 239.2 350.3 240.6 353.2 242.6 356.1 244.1 358.9 244.9 362.4 245.4 365.9 245.3 369.4 244.9 376.4 243.1 385.2 239.9 390.2 237.1 392.6 235 393.3 233.6 393.8 228 396.1 219.6 396.3 216.8 396.1 214.7 395.1 211.9 393.2 209.8 391 208.6 388.2 208 383.3 208.2 377.1 209.8 372.9 211.6 365.2 216 350.5 213.8 334.4 209.4 317.7 205.9 318.4 204.9 318.4 204.2 319.1 203.5 319.1 202.8 319.8 202.1 319.8 201.4 320.5 200.7 320.5 200 321.2 199.3 321.2 198.6 322.6 197.3 322.6 196.6 325.4 193.8 325.4 193.1 328.9 189.6 329.6 189.6 332.4 186.8 333.1 186.8 334.4 185.4 335.1 185.4 337.2 184 337.9 184 340 182.6 340.7 182.6 341.4 181.9 342.8 181.9 343.5 181.2 345.6 181.2 346.3 180.5 348.4 180.5Z" fill="#18addb"/>
<path d="M349.1 179.8 363.1 179.8 363.8 180.5 365.9 180.5 366.6 181.2 368.7 181.2 369.4 181.9 370.8 181.9 371.5 182.6 372.2 182.6 372.9 183.3 373.6 183.3 374.3 184 375 184 377.1 185.4 377.8 185.4 379.1 186.8 379.8 186.8 382.6 189.6 383.3 189.6 386.8 193.1 386.8 193.8 389.6 196.6 389.6 197.3 391 198.6 391 199.3 392.4 201.4 392.4 202.1 393.1 202.8 393.1 203.5 393.8 204.2 393.8 204.9 394.5 205.6 394.5 207 395.2 207.7 395.2 208.6 393.1 207.4 390.3 206.6 386.8 206.6 382.6 207.2 378.4 208.4 375 209.7 365.2 215.1 357.5 214.2 350.5 212.9 335.1 208.6 318.4 204.9 318.4 204.2 319.1 203.5 319.1 202.8 319.8 202.1 319.8 201.4 320.5 200.7 320.5 200 321.2 199.3 321.2 198.6 322.6 197.3 322.6 196.6 325.4 193.8 325.4 193.1 328.9 189.6 329.6 189.6 332.4 186.8 333.1 186.8 334.4 185.4 335.1 185.4 337.2 184 337.9 184 340 182.6 340.7 182.6 341.4 181.9 342.8 181.9 343.5 181.2 345.6 181.2 346.3 180.5 348.4 180.5ZM396.6 225.2 396.6 227.3 396.2 227.7 396.6 225.2ZM317 230.8 325.4 230.9 329.8 231.5 332.2 232.2 346.3 238.4 347.4 239.9 349.1 241.3 354 244.4 357.5 245.8 361 246.4 365.9 246.4 370.8 245.7 377.8 243.7 392.4 238.7 392.4 239.2 391 241.3 391 242 389.6 243.3 389.6 244 386.8 246.8 386.8 247.5 383.3 251 382.6 251 379.8 253.8 379.1 253.8 377.8 255.2 377.1 255.2 376.4 255.9 375.7 255.9 373.6 257.3 372.9 257.3 370.8 258.7 369.4 258.7 368.7 259.4 366.6 259.4 365.9 260.1 363.8 260.1 363.1 260.8 349.1 260.8 348.4 260.1 346.3 260.1 345.6 259.4 343.5 259.4 342.8 258.7 341.4 258.7 340.7 258 340 258 337.9 256.6 337.2 256.6 335.1 255.2 334.4 255.2 333.1 253.8 332.4 253.8 329.6 251 328.9 251 325.4 247.5 325.4 246.8 322.6 244 322.6 243.3 321.2 242 321.2 241.3 319.8 239.2 319.8 238.5 318.4 236.4 318.4 235.7 317.7 235 317.7 233.6 317 232.9 317 230.8Z" fill="#0cb3d3"/>
<path d="M349.1 179.8 363.1 179.8 363.8 180.5 365.9 180.5 366.6 181.2 368.7 181.2 369.4 181.9 370.8 181.9 371.5 182.6 372.2 182.6 372.9 183.3 373.6 183.3 374.3 184 375 184 377.1 185.4 377.8 185.4 379.1 186.8 379.8 186.8 382.6 189.6 383.3 189.6 386.8 193.1 386.8 193.8 389.6 196.6 389.6 197.3 391 198.6 391 199.3 391.7 200 391.7 200.7 392.4 201.4 392.4 202.1 393.1 202.8 393.1 203.5 393.8 204.2 393.8 204.9 394.2 205.3 391.7 204.8 388.2 204.9 380.5 206.7 373.6 209.4 365.2 214.2 357.5 213.3 350.5 212.1 335.1 207.6 319 203.6 319.1 202.8 319.8 202.1 319.8 201.4 320.5 200.7 320.5 200 321.2 199.3 321.2 198.6 322.6 197.3 322.6 196.6 325.4 193.8 325.4 193.1 326.1 192.4 328.9 189.6 329.6 189.6 332.4 186.8 333.1 186.8 334.4 185.4 335.1 185.4 337.2 184 337.9 184 340 182.6 340.7 182.6 341.4 181.9 342.8 181.9 343.5 181.2 345.6 181.2 346.3 180.5 348.4 180.5ZM319.8 232.1 326.8 232.4 330.3 233 332.4 233.7 344.4 239.2 349.9 243.3 354 245.8 356.8 246.9 360.3 247.6 365.2 247.7 370.1 247 391.1 241.1 391 242 389.6 243.3 389.6 244 386.8 246.8 386.8 247.5 383.3 251 382.6 251 379.8 253.8 379.1 253.8 377.8 255.2 377.1 255.2 376.4 255.9 375.7 255.9 373.6 257.3 372.9 257.3 370.8 258.7 369.4 258.7 368.7 259.4 366.6 259.4 365.9 260.1 363.8 260.1 363.1 260.8 349.1 260.8 348.4 260.1 346.3 260.1 345.6 259.4 343.5 259.4 342.8 258.7 341.4 258.7 340.7 258 340 258 337.9 256.6 337.2 256.6 335.1 255.2 334.4 255.2 333.1 253.8 332.4 253.8 329.6 251 328.9 251 325.4 247.5 325.4 246.8 322.6 244 322.6 243.3 321.2 242 321.2 241.3 319.8 239.2 319.8 238.5 318.4 236.4 318.4 235.7 317.7 235 317.7 233.6 317 232.9 317 232.4 319.4 232.2Z" fill="#01b8c9"/>
<path d="M349.1 179.8 363.1 179.8 363.8 180.5 365.9 180.5 366.6 181.2 368.7 181.2 369.4 181.9 370.8 181.9 371.5 182.6 372.2 182.6 372.9 183.3 373.6 183.3 374.3 184 375 184 377.1 185.4 377.8 185.4 379.1 186.8 379.8 186.8 382.6 189.6 383.3 189.6 386.8 193.1 386.8 193.8 389.6 196.6 389.6 197.3 391 198.6 391 199.3 391.7 200 391.7 200.7 392.4 201.4 392.7 202.4 386.8 203.5 377.8 206.5 373.6 208.3 365.2 213.2 364.5 213.3 356.8 212.3 349.8 211 319.8 202.1 319.8 201.4 320.5 200.7 320.5 200 321.2 199.3 321.2 198.6 322.6 197.3 322.6 196.6 325.4 193.8 325.4 193.1 328.9 189.6 329.6 189.6 332.4 186.8 333.1 186.8 334.4 185.4 335.1 185.4 337.2 184 337.9 184 340 182.6 340.7 182.6 341.4 181.9 342.8 181.9 343.5 181.2 345.6 181.2 346.3 180.5 348.4 180.5ZM318.4 234 325.4 233.7 329.6 234.3 332.4 235.2 343.5 240.4 349.8 244.9 353.3 247.1 356.1 248.2 359.6 249 363.8 249.2 368.7 248.7 374.3 247.4 386.6 244 389.6 243.5 389.6 244 386.8 246.8 386.8 247.5 384.7 249.6 383.3 251 382.6 251 379.8 253.8 379.1 253.8 377.8 255.2 377.1 255.2 376.4 255.9 375.7 255.9 373.6 257.3 372.9 257.3 370.8 258.7 369.4 258.7 368.7 259.4 366.6 259.4 365.9 260.1 363.8 260.1 363.1 260.8 349.1 260.8 348.4 260.1 346.3 260.1 345.6 259.4 343.5 259.4 342.8 258.7 341.4 258.7 340.7 258 340 258 337.9 256.6 337.2 256.6 335.1 255.2 334.4 255.2 333.1 253.8 332.4 253.8 329.6 251 328.9 251 325.4 247.5 325.4 246.8 322.6 244 322.6 243.3 321.2 242 321.2 241.3 319.8 239.2 319.8 238.5 318.4 236.4 318.4 235.7 317.7 235 317.7 234.1Z" fill="#08bcbe"/>
<path d="M349.1 179.8 363.1 179.8 363.8 180.5 365.9 180.5 366.6 181.2 368.7 181.2 369.4 181.9 370.8 181.9 371.5 182.6 372.2 182.6 372.9 183.3 373.6 183.3 374.3 184 375 184 377.1 185.4 377.8 185.4 379.1 186.8 379.8 186.8 382.6 189.6 383.3 189.6 386.8 193.1 386.8 193.8 389.6 196.6 389.6 197.3 391 198.6 391.2 199.6 375 206.5 364.5 212.3 355.5 211.2 347.7 209.5 328.9 203.5 320.7 199.8 321.2 199.3 321.2 198.6 322.6 197.3 322.6 196.6 325.4 193.8 325.4 193.1 328.9 189.6 329.6 189.6 332.4 186.8 333.1 186.8 334.4 185.4 335.1 185.4 337.2 184 337.9 184 340 182.6 340.7 182.6 341.4 181.9 342.8 181.9 343.5 181.2 345.6 181.2 346.3 180.5 348.4 180.5ZM318.4 235.6 321.9 235.2 325.4 235.2 329.6 235.8 332.4 236.7 342.1 241.1 352.6 248.5 355.4 249.8 358.9 250.6 363.1 250.9 368 250.5 387.1 246.5 386.8 246.8 386.8 247.5 384 250.3 383.3 251 382.6 251 379.8 253.8 379.1 253.8 377.8 255.2 377.1 255.2 376.4 255.9 375.7 255.9 373.6 257.3 372.9 257.3 370.8 258.7 369.4 258.7 368.7 259.4 366.6 259.4 365.9 260.1 363.8 260.1 363.1 260.8 349.1 260.8 348.4 260.1 346.3 260.1 345.6 259.4 343.5 259.4 342.8 258.7 341.4 258.7 340.7 258 340 258 337.9 256.6 337.2 256.6 335.1 255.2 334.4 255.2 333.1 253.8 332.4 253.8 329.6 251 328.9 251 325.4 247.5 325.4 246.8 322.6 244 322.6 243.3 321.2 242 321.2 241.3 320.5 240.6 320.5 239.9 319.8 239.2 319.8 238.5 319.1 237.8 319.1 237.1 318.4 236.4 318.4 235.6Z" fill="#1cc0b4"/>
<path d="M349.1 179.8 363.1 179.8 363.8 180.5 365.9 180.5 366.6 181.2 368.7 181.2 369.4 181.9 370.8 181.9 371.5 182.6 372.2 182.6 372.9 183.3 373.6 183.3 374.3 184 375 184 377.1 185.4 377.8 185.4 379.1 186.8 379.8 186.8 382.6 189.6 383.3 189.6 384 190.3 386.8 193.1 386.8 193.8 389 195.9 387.3 198 383.7 200.7 372.2 206.7 364.5 211.1 355.4 210.2 347 208.2 330.4 202.1 327.9 200.7 325.6 198.6 324.4 196.6 324.1 195 325.4 193.8 325.4 193.1 326.8 191.7 328.9 189.6 329.6 189.6 332.4 186.8 333.1 186.8 334.4 185.4 335.1 185.4 337.2 184 337.9 184 340 182.6 340.7 182.6 341.4 181.9 342.8 181.9 343.5 181.2 345.6 181.2 346.3 180.5 348.4 180.5ZM319.8 236.9 323.3 236.6 326.8 236.8 330.3 237.4 333.8 238.7 341 242 349.8 248.9 352.6 250.7 357.5 252.6 361 253 365.9 253 383.8 250.6 383.3 251 382.6 251 379.8 253.8 379.1 253.8 377.8 255.2 377.1 255.2 376.4 255.9 375.7 255.9 373.6 257.3 372.9 257.3 370.8 258.7 369.4 258.7 368.7 259.4 366.6 259.4 365.9 260.1 363.8 260.1 363.1 260.8 349.1 260.8 348.4 260.1 346.3 260.1 345.6 259.4 343.5 259.4 342.8 258.7 341.4 258.7 340.7 258 340 258 337.9 256.6 337.2 256.6 335.1 255.2 334.4 255.2 333.1 253.8 332.4 253.8 329.6 251 328.9 251 326.8 248.9 325.4 247.5 325.4 246.8 322.6 244 322.6 243.3 321.2 242 321.2 241.3 319.8 239.2 319.8 238.5 319.1 237.8 319.1 237.1Z" fill="#2bc3a8"/>
<path d="M349.1 180.2 351 179.8 363.1 179.8 363.8 180.5 365.9 180.5 366.6 181.2 368.7 181.2 369.4 181.9 370.8 181.9 371.5 182.6 372.2 182.6 372.9 183.3 373.6 183.3 374.3 184 375 184 377.1 185.4 377.8 185.4 379.1 186.8 379.8 186.8 382.1 189 383.4 191 384.1 193.1 384.1 195.2 383.7 196.6 381.6 199.3 378.9 201.4 363.8 209.9 356.1 209.2 349.5 207.7 337.2 202.8 334.2 201.4 332.1 200 330.6 198 330.3 195.2 331.1 192.4 333.5 188.9 336.4 186.1 340 183.6 344.2 181.6 348.6 180.3ZM319.8 238.4 324 238 328.2 238.4 331.7 239.3 337.9 241.7 342.6 244.7 350.5 252.1 353.3 253.9 356.1 255 359.6 255.7 363.1 256 376.9 255.4 376.4 255.9 375.7 255.9 375 256.6 374.3 256.6 373.6 257.3 372.9 257.3 372.2 258 371.5 258 370.8 258.7 369.4 258.7 368.7 259.4 366.6 259.4 365.9 260.1 363.8 260.1 363.1 260.8 349.1 260.8 348.4 260.1 346.3 260.1 345.6 259.4 343.5 259.4 342.8 258.7 341.4 258.7 340.7 258 340 258 337.9 256.6 337.2 256.6 335.1 255.2 334.4 255.2 333.1 253.8 332.4 253.8 329.6 251 328.9 251 325.4 247.5 325.4 246.8 322.6 244 322.6 243.3 321.2 242 321.2 241.3 320.5 240.6 320.5 239.9 319.8 239.2 319.7 238.4Z" fill="#34c79c"/>
<path d="M355.4 183.3 360.3 183.3 365.2 184 369.4 185.3 373.6 187.4 376.5 189.6 378.7 192.4 379.6 195.2 379.4 196.6 378.9 198 377.1 200 375.2 201.4 366.1 207 363.1 208.4 356.1 207.9 349.8 206.3 343.5 203.5 338.5 200.7 336.7 199.3 335.5 197.3 335.5 195.2 336.7 192.4 339.3 189.3 342.8 186.9 346.3 185.2 350.5 184 355.1 183.3ZM320.5 239.7 324 239.4 327.5 239.6 331.7 240.5 335.7 242 338.3 243.3 341.1 245.4 349.1 254.4 352.6 257.2 355.4 258.5 358.2 259.3 366 260 363.8 260.1 363.1 260.8 349.1 260.8 348.4 260.1 346.3 260.1 345.6 259.4 343.5 259.4 342.8 258.7 341.4 258.7 340.7 258 340 258 337.9 256.6 337.2 256.6 335.1 255.2 334.4 255.2 333.1 253.8 332.4 253.8 329.6 251 328.9 251 325.4 247.5 325.4 246.8 322.6 244 322.6 243.3 321.2 242 321.2 241.3 320.5 240.6 320.3 239.7Z" fill="#3fca8e"/>
<path d="M354.7 186.7 358.9 186.6 363.1 187.1 366.6 188 370 189.6 372.8 191.7 374.5 193.8 375.1 195.9 374.5 198 373.4 199.3 371.6 200.7 363.1 206.4 359.6 206.5 355.4 206 351.5 204.9 348.5 203.5 345.4 201.4 342.2 198.6 341.1 196.6 341.2 194.5 343.1 191.7 345.8 189.6 349.8 187.8 354.3 186.8ZM323.3 240.6 327.5 240.7 331 241.4 335.1 243 337.9 244.7 341.5 248.2 347.7 257.5 350.8 260.8 349.1 260.8 348.4 260.1 346.3 260.1 345.6 259.4 343.5 259.4 342.8 258.7 341.4 258.7 340.7 258 340 258 337.9 256.6 337.2 256.6 335.1 255.2 334.4 255.2 333.1 253.8 332.4 253.8 329.6 251 328.9 251 326.8 248.9 325.4 247.5 325.4 246.8 322.6 244 322.6 243.3 321.2 242 321.2 241.3 320.7 240.8 323.3 240.6Z" fill="#52cc7e"/>
<path d="M354 190.9 356.8 190.4 359.6 190.4 362.4 190.9 364.8 191.7 367.1 193.1 368.3 194.5 368.7 195.9 368.4 197.3 365.1 200.7 361.7 203.1 358.2 203.4 354 202.4 352.3 201.4 350.9 200 349.6 198 348.9 195.9 349 194.5 349.9 193.1 351.9 191.7 353.8 191ZM321.9 241.8 326.1 241.7 329.6 242.3 333.1 243.5 336.4 245.4 338.6 247.5 340.7 250.3 342.5 253.8 344.9 259.4 343.5 259.4 342.8 258.7 341.4 258.7 340.7 258 340 258 337.9 256.6 337.2 256.6 335.1 255.2 334.4 255.2 333.1 253.8 332.4 253.8 329.6 251 328.9 251 325.4 247.5 325.4 246.8 322.6 244 322.6 243.3 321.2 241.9Z" fill="#66cd6d"/>
<path d="M322.6 243 326.1 242.9 329.6 243.6 332.5 244.7 335.1 246.5 337.5 248.9 339.2 251.7 340.5 255.2 341.4 258.7 339.3 257.3 338.6 257.3 337.9 256.6 337.2 256.6 336.5 255.9 335.8 255.9 335.1 255.2 334.4 255.2 333.1 253.8 332.4 253.8 329.6 251 328.9 251 325.4 247.5 325.4 246.8 322.6 244 322.3 243.1Z" fill="#7dcc5c"/>
<path d="M323.3 244.4 326.1 244.3 328.9 244.9 331.7 246 333.8 247.5 335.6 249.6 336.9 251.7 337.9 254.5 338.4 257.1 337.9 256.6 337.2 256.6 336.5 255.9 335.8 255.9 335.1 255.2 334.4 255.2 333.1 253.8 332.4 253.8 329.6 251 328.9 251 325.4 247.5 325.4 246.8 322.9 244.4Z" fill="#94ca4a"/>
<path d="M324.7 245.9 328.2 246.4 331.7 248.2 333.1 249.6 334.4 251.7 335.6 255.7 335.1 255.2 334.4 255.2 333.1 253.8 332.4 253.8 329.6 251 328.9 251 325.4 247.5 325.4 246.8 324.4 245.9Z" fill="#aac73a"/>
<path d="M326.1 248.1 328.2 248.7 330.3 250 331.6 251.7 332.6 253.8 329.6 251 328.9 251 325.9 248Z" fill="#bfc32e"/>
<path d="M374.3 223.6 370.8 225.5 368 228.7 366.5 232.2 366.7 233.6 367.3 234.3 369.4 234.9 372.2 234.3 374.7 232.9 376.7 230.8 378.3 227.3 378.4 224.6 377.9 223.8 377.1 223.3 375 223.4M315.6 221.4 325.4 221.6 332.4 222.4 340.7 224.7 356.1 230.1 359.4 231.5 358.5 235.7 358.8 237.1 359.6 238.1 361 239.2 362.4 239.7 366.6 240.1 370.1 239.8 374.3 238.6 377.8 236.9 380.5 234.9 382.8 232.2 384.8 228.7 386.4 224.5 387.1 221 386.8 218.9 385.6 216.8 384 215.7 381.9 215.2 378.4 215.3 374.3 216.6 370 218.9 365.2 222.7 352.6 221.5 346.3 220.6 340.7 219.3 333.1 216.9 326.8 215.8 315.8 213.1M315.6 226.8 327.5 227.6 331 228.1 334.4 229.1 351.6 235.7 352.1 236.4 352.4 238.5 353.3 239.9 356.8 242.1 361.7 243.4 367.3 243.4 372.9 242.3 379.1 240.2 383.3 238.1 386.5 235.7 388.2 233.6 389.2 231.5 392.1 223.1 392.9 218.9 392.7 216.1 391.4 213.3 388.9 211.3 386.1 210.5 381.9 210.6 377.1 211.6 372.9 213.4 365.9 217.8 365.2 217.8 350.5 215.6 334.4 211.3 317 208M394.2 205.3 391.7 204.8 388.2 204.9 380.5 206.7 373.6 209.4 365.2 214.2 357.5 213.3 350.5 212.1 335.1 207.6 319 203.6M317 232.4 324.7 232.2 328.9 232.7 331.7 233.4 344.4 239.2 349.9 243.3 354 245.8 356.8 246.9 360.3 247.6 365.2 247.7 370.1 247 391.1 241.1M348.6 180.3 351 179.8M345.7 181.1 347.8 180.5M382.1 189 383.9 192.4 384.2 194.5 383.9 195.9 382.3 198.6 378.9 201.4 363.8 209.9 358.2 209.5 352.6 208.5 345.5 206.3 334.2 201.4 331.4 199.3 330.3 197.3 330.3 195.2 330.8 193.1 332.4 190.3 334.1 188.2 336.5 185.9 339.3 184 345.5 181.2M319.7 238.4 324 238 328.2 238.4 331.7 239.3 337.9 241.7 342.6 244.7 350.5 252.1 353.3 253.9 356.1 255 359.6 255.7 363.1 256 376.9 255.4M322.3 243.1 325.4 242.9 328.9 243.4 332.4 244.7 335.1 246.5 337.5 248.9 339.2 251.7 340.5 255.2 341.4 258.7" fill="none" stroke="#2a2a2a" stroke-opacity="0.55" stroke-width="0.45"/>
</g>
<circle cx="356.10" cy="220.30" r="38.80" fill="none" stroke="#333" stroke-width="1"/>
<path d="M349.3 181.7 L356.1 175.2 L362.9 181.7 Z" fill="none" stroke="#333" stroke-width="0.9" stroke-linejoin="miter"/>
<path d="M317.6 213.5 L314.9 213.5 Q313.4 213.5 313.4 215.5 L313.4 228.4 Q313.4 230.9 315.2 230.9 L317.6 230.9" fill="none" stroke="#555" stroke-width="0.9"/>
<path d="M394.6 213.5 L397.3 213.5 Q398.8 213.5 398.8 215.5 L398.8 228.4 Q398.8 230.9 397.0 230.9 L394.6 230.9" fill="none" stroke="#555" stroke-width="0.9"/>
<clipPath id="clip_m4"><circle cx="483.40" cy="220.35" r="38.75"/></clipPath>
<g clip-path="url(#clip_m4)">
<rect x="443.6" y="180.6" width="79.5" height="79.5" fill="#422ebe"/>
<path d="M476.4 179.9 490.4 179.9 491.1 180.6 493.2 180.6 493.9 181.3 496 181.3 496.7 182 498 182 500.1 183.4 500.8 183.4 501.5 184.1 502.2 184.1 502.9 184.8 503.6 184.8 504.3 185.5 505 185.5 506.4 186.9 507.1 186.9 509.9 189.7 510.6 189.7 514.1 193.1 514.1 193.8 516.9 196.6 516.9 197.3 518.3 198.7 518.3 199.4 519.7 201.5 519.7 202.2 520.4 202.9 520.4 203.6 521.1 204.3 521.1 205 521.8 205.7 521.8 207.1 522.5 207.8 522.5 209.9 523.2 210.6 523.2 212.7 523.9 213.4 523.9 227.3 523.2 228 523.2 230.1 522.5 230.8 522.5 232.9 521.8 233.6 521.8 235 521.1 235.7 521.1 236.4 520.4 237.1 520.4 237.8 519.7 238.5 519.7 239.2 519 239.9 519 240.6 518.3 241.3 518.3 242 516.9 243.4 516.9 244.1 514.1 246.9 514.1 247.6 510.6 251 509.9 251 507.1 253.8 506.4 253.8 505 255.2 504.3 255.2 503.6 255.9 502.9 255.9 502.2 256.6 501.5 256.6 500.8 257.3 500.1 257.3 498 258.7 496.7 258.7 496 259.4 493.9 259.4 493.2 260.1 491.1 260.1 490.4 260.8 476.4 260.8 475.7 260.1 473.6 260.1 472.9 259.4 470.8 259.4 470.1 258.7 468.8 258.7 466.7 257.3 466 257.3 465.3 256.6 464.6 256.6 463.9 255.9 463.2 255.9 462.5 255.2 461.8 255.2 460.4 253.8 459.7 253.8 456.9 251 456.2 251 452.7 247.6 452.7 246.9 449.9 244.1 449.9 243.4 448.5 242 448.5 241.3 447.8 240.6 447.8 239.9 446.4 237.8 446.4 237.1 445 235 445 233.6 444.3 232.9 444.3 230.8 443.6 230.1 443.6 228 442.9 227.3 442.9 213.4 443.6 212.7 443.6 210.6 444.3 209.9 444.3 207.8 445 207.1 445 205.7 446.4 203.6 446.4 202.9 447.1 202.2 447.1 201.5 448.5 199.4 448.5 198.7 449.9 197.3 449.9 196.6 450.5 196.1 454.6 217.6 460.4 232 461.1 232.9 464.3 235 466.7 235.5 467.4 235.5 467.8 235 465.3 232.3 463.3 229.4 461.6 225.9 460.7 223.1 459.9 217.6 460.5 209.2 460.4 205 458.8 195.2 458.2 193.8 456.9 192.7 455.5 192.2 453.6 192.3 456.2 189.7 456.9 189.7 459.7 186.9 460.4 186.9 461.8 185.5 462.5 185.5 463.2 184.8 463.9 184.8 464.6 184.1 465.3 184.1 466 183.4 466.7 183.4 467.4 182.7 468.1 182.7 468.8 182 470.1 182 470.8 181.3 472.9 181.3 473.6 180.6 475.7 180.6ZM503.7 187.6 502.5 188.3 501.5 189.5 501.2 191.8 502.9 198.4 506.8 209.2 508.3 216.2 506.7 223.8 504.7 228.7 502.9 231.4 501.4 232.9 500.1 233.6 496.7 234.6 496 235.7 496.2 236.4 496.7 236.6 501.5 235.7 502.9 235.1 508 231.5 514.8 218.4 515.2 216.9 514.8 214 508.7 189.7 507.8 188.4 506.5 187.6 504.3 187.4Z" fill="#4536d5"/>
<path d="M476.4 179.9 490.4 179.9 491.1 180.6 493.2 180.6 493.9 181.3 496 181.3 496.7 182 498 182 500.1 183.4 500.8 183.4 501.5 184.1 502.2 184.1 502.9 184.8 503.6 184.8 504.3 185.5 505 185.5 506 186.4 503.6 186.5 501.8 187.6 500.4 189.7 500.1 191.8 502.2 199.4 506 210.6 507.1 216.2 505.3 223.1 503.6 227.3 501.7 230.1 500.1 231.8 498.7 232.7 496 233.8 494.6 235 494.1 236.4 494.2 237.1 494.8 237.8 496 238.1 497.3 238.1 502.2 236.4 505.1 235 508.5 232.5 509.9 230.4 516.2 217.6 516.2 215.5 509.7 189.5 510.6 189.7 514.1 193.1 514.1 193.8 516.9 196.6 516.9 197.3 518.3 198.7 518.3 199.4 519.7 201.5 519.7 202.2 520.4 202.9 520.4 203.6 521.1 204.3 521.1 205 521.8 205.7 521.8 207.1 522.5 207.8 522.5 209.9 523.2 210.6 523.2 212.7 523.9 213.4 523.9 227.3 523.2 228 523.2 230.1 522.5 230.8 522.5 232.9 521.8 233.6 521.8 235 521.1 235.7 521.1 236.4 520.4 237.1 520.4 237.8 519.7 238.5 519.7 239.2 519 239.9 519 240.6 518.3 241.3 518.3 242 516.9 243.4 516.9 244.1 514.1 246.9 514.1 247.6 510.6 251 509.9 251 507.1 253.8 506.4 253.8 505 255.2 504.3 255.2 503.6 255.9 502.9 255.9 502.2 256.6 501.5 256.6 500.8 257.3 500.1 257.3 498 258.7 496.7 258.7 496 259.4 493.9 259.4 493.2 260.1 491.1 260.1 490.4 260.8 476.4 260.8 475.7 260.1 473.6 260.1 472.9 259.4 470.8 259.4 470.1 258.7 468.8 258.7 466.7 257.3 466 257.3 465.3 256.6 464.6 256.6 463.9 255.9 463.2 255.9 462.5 255.2 461.8 255.2 460.4 253.8 459.7 253.8 456.9 251 456.2 251 452.7 247.6 452.7 246.9 449.9 244.1 449.9 243.4 448.5 242 448.5 241.3 447.8 240.6 447.8 239.9 446.4 237.8 446.4 237.1 445 235 445 233.6 444.3 232.9 444.3 230.8 443.6 230.1 443.6 228 442.9 227.3 442.9 213.4 443.6 212.7 443.6 210.6 444.3 209.9 444.3 207.8 445 207.1 445 205.7 446.4 203.6 446.4 202.9 447.1 202.2 447.1 201.5 448.5 199.4 448.5 198.7 449.6 197.7 453.4 217.6 459.6 232.9 461.1 234.3 466.7 236.7 469.1 237.1 470.6 236.4 471 235.7 470.6 235 467.5 232.2 464.9 228.7 463.4 225.9 462.3 222.4 461.5 216.2 461.5 205 459.7 194.5 459 193.1 457.6 191.9 454.8 191 456.2 189.7 456.9 189.7 459.7 186.9 460.4 186.9 461.8 185.5 462.5 185.5 463.2 184.8 463.9 184.8 464.6 184.1 465.3 184.1 466 183.4 466.7 183.4 467.4 182.7 468.1 182.7 468.8 182 470.1 182 470.8 181.3 472.9 181.3 473.6 180.6 475.7 180.6Z" fill="#473fe2"/>
<path d="M476.4 179.9 490.4 179.9 491.1 180.6 493.2 180.6 493.9 181.3 496 181.3 496.7 182 498 182 498.7 182.7 499.4 182.7 500.1 183.4 500.8 183.4 501.5 184.1 502.2 184.1 502.9 184.8 503.6 184.8 504.3 185.5 505.2 185.6 502.9 186 500.8 187.5 499.7 189.7 499.4 191.8 500.8 197.2 505.2 210.6 506.3 216.2 504.6 222.4 502.5 227.3 499.4 231.1 497.9 232.2 495 233.6 493.6 235 493.2 236 493.1 237.1 494.2 238.5 496 239.1 498.7 238.5 505.2 235.7 509.1 232.9 510.1 231.5 516.7 218.3 516.9 215.5 510.5 189.7 514.1 193.1 514.1 193.8 516.9 196.6 516.9 197.3 518.3 198.7 518.3 199.4 519.7 201.5 519.7 202.2 520.4 202.9 520.4 203.6 521.1 204.3 521.1 205 521.8 205.7 521.8 207.1 522.5 207.8 522.5 209.9 523.2 210.6 523.2 212.7 523.9 213.4 523.9 227.3 523.2 228 523.2 230.1 522.5 230.8 522.5 232.9 521.8 233.6 521.8 235 521.1 235.7 521.1 236.4 520.4 237.1 520.4 237.8 519.7 238.5 519.7 239.2 519 239.9 519 240.6 518.3 241.3 518.3 242 516.9 243.4 516.9 244.1 514.1 246.9 514.1 247.6 510.6 251 509.9 251 507.1 253.8 506.4 253.8 505 255.2 504.3 255.2 503.6 255.9 502.9 255.9 502.2 256.6 501.5 256.6 500.8 257.3 500.1 257.3 498 258.7 496.7 258.7 496 259.4 493.9 259.4 493.2 260.1 491.1 260.1 490.4 260.8 476.4 260.8 475.7 260.1 473.6 260.1 472.9 259.4 470.8 259.4 470.1 258.7 468.8 258.7 466.7 257.3 466 257.3 465.3 256.6 464.6 256.6 463.9 255.9 463.2 255.9 462.5 255.2 461.8 255.2 460.4 253.8 459.7 253.8 456.9 251 456.2 251 452.7 247.6 452.7 246.9 449.9 244.1 449.9 243.4 448.5 242 448.5 241.3 447.8 240.6 447.8 239.9 446.4 237.8 446.4 237.1 445 235 445 233.6 444.3 232.9 444.3 230.8 443.6 230.1 443.6 228 442.9 227.3 442.9 213.4 443.6 212.7 443.6 210.6 444.3 209.9 444.3 207.8 445 207.1 445 205.7 445.7 205 445.7 204.3 446.4 203.6 446.4 202.9 447.1 202.2 447.1 201.5 447.8 200.8 447.8 200.1 448.5 199.4 448.5 198.7 448.9 198.3 452.8 218.3 458.7 232.9 459.2 233.6 461.1 234.9 468.1 238.1 470.8 238.4 472.2 237.8 472.8 237.1 472.9 235.7 472.6 235 469.4 232.6 467.1 230.1 465.7 228 464 224.5 462.6 218.3 462.1 204.3 460.5 194.5 459.9 193.1 458.7 191.8 457.6 191 455.5 190.3 456.2 189.7 456.9 189.7 459.7 186.9 460.4 186.9 461.8 185.5 462.5 185.5 463.2 184.8 463.9 184.8 464.6 184.1 465.3 184.1 466 183.4 466.7 183.4 467.4 182.7 468.1 182.7 468.8 182 470.1 182 470.8 181.3 472.9 181.3 473.6 180.6 475.7 180.6Z" fill="#4747ec"/>
<path d="M476.4 179.9 490.4 179.9 491.1 180.6 493.2 180.6 493.9 181.3 496 181.3 496.7 182 498 182 498.7 182.7 499.4 182.7 500.1 183.4 500.8 183.4 501.5 184.1 502.2 184.1 502.9 184.8 503.6 184.8 503.9 185.1 501.5 186.1 500 187.6 499 189.7 498.8 191.8 500.3 197.3 504.7 210.6 505.8 216.2 503.9 222.4 502.1 226.6 498.7 230.7 494 233.6 492.9 235 492.4 237.1 493.1 238.5 493.9 239.1 496 239.7 498.7 239.2 506.2 235.7 509.2 233.7 510.6 231.9 517.1 219 517.5 217.6 517.5 215.5 511.4 190.4 514.1 193.1 514.1 193.8 516.9 196.6 516.9 197.3 518.3 198.7 518.3 199.4 519.7 201.5 519.7 202.2 520.4 202.9 520.4 203.6 521.1 204.3 521.1 205 521.8 205.7 521.8 207.1 522.5 207.8 522.5 209.9 523.2 210.6 523.2 212.7 523.9 213.4 523.9 227.3 523.2 228 523.2 230.1 522.5 230.8 522.5 232.9 521.8 233.6 521.8 235 521.1 235.7 521.1 236.4 520.4 237.1 520.4 237.8 519.7 238.5 519.7 239.2 519 239.9 519 240.6 518.3 241.3 518.3 242 516.9 243.4 516.9 244.1 514.1 246.9 514.1 247.6 510.6 251 509.9 251 507.1 253.8 506.4 253.8 505 255.2 504.3 255.2 503.6 255.9 502.9 255.9 502.2 256.6 501.5 256.6 500.8 257.3 500.1 257.3 498 258.7 496.7 258.7 496 259.4 493.9 259.4 493.2 260.1 491.1 260.1 490.4 260.8 476.4 260.8 475.7 260.1 473.6 260.1 472.9 259.4 470.8 259.4 470.1 258.7 468.8 258.7 466.7 257.3 466 257.3 465.3 256.6 464.6 256.6 463.9 255.9 463.2 255.9 462.5 255.2 461.8 255.2 460.4 253.8 459.7 253.8 456.9 251 456.2 251 452.7 247.6 452.7 246.9 449.9 244.1 449.9 243.4 448.5 242 448.5 241.3 447.8 240.6 447.8 239.9 446.4 237.8 446.4 237.1 445 235 445 233.6 444.3 232.9 444.3 230.8 443.6 230.1 443.6 228 442.9 227.3 442.9 213.4 443.6 212.7 443.6 210.6 444.3 209.9 444.3 207.8 445 207.1 445 205.7 445.7 205 445.7 204.3 446.4 203.6 446.4 202.9 447.1 202.2 447.1 201.5 448.5 199.5 452.1 218.3 458 232.9 460.4 235 468.8 239.2 470.8 239.6 472.2 239.3 473.6 238.6 474.3 237.8 474.5 236.4 474 235 470.8 232.7 468.2 230.1 466.5 228 464.8 224.5 463.6 220.3 463 216.2 462.8 204.3 461.2 194.5 459.7 191.8 457.8 190.4 456.1 189.7 456.9 189.7 459.7 186.9 460.4 186.9 461.8 185.5 462.5 185.5 463.2 184.8 463.9 184.8 464.6 184.1 465.3 184.1 466 183.4 466.7 183.4 467.4 182.7 468.1 182.7 468.8 182 470.1 182 470.8 181.3 472.9 181.3 473.6 180.6 475.7 180.6Z" fill="#4850f3"/>
<path d="M476.4 179.9 490.4 179.9 491.1 180.6 493.2 180.6 493.9 181.3 496 181.3 496.7 182 498 182 498.7 182.7 499.4 182.7 500.1 183.4 500.8 183.4 502.9 184.7 500.8 185.8 499.3 187.6 498.4 189.7 498.2 191.8 499.9 198 504 209.9 505.3 216.2 503.4 222.4 501.5 226.5 498.5 230.1 493.3 233.6 492.3 235 491.8 237.1 492.3 238.5 493.2 239.3 495.3 240.2 498 240 505 236.8 509.4 234.3 511.2 232.2 517.8 219 518.2 216.9 518 214.8 512.2 191.3 514.1 193.1 514.1 193.8 516.9 196.6 516.9 197.3 518.3 198.7 518.3 199.4 519.7 201.5 519.7 202.2 520.4 202.9 520.4 203.6 521.1 204.3 521.1 205 521.8 205.7 521.8 207.1 522.5 207.8 522.5 209.9 523.2 210.6 523.2 212.7 523.9 213.4 523.9 227.3 523.2 228 523.2 230.1 522.5 230.8 522.5 232.9 521.8 233.6 521.8 235 521.1 235.7 521.1 236.4 520.4 237.1 520.4 237.8 519.7 238.5 519.7 239.2 519 239.9 519 240.6 518.3 241.3 518.3 242 516.9 243.4 516.9 244.1 514.1 246.9 514.1 247.6 510.6 251 509.9 251 507.1 253.8 506.4 253.8 505 255.2 504.3 255.2 503.6 255.9 502.9 255.9 502.2 256.6 501.5 256.6 500.8 257.3 500.1 257.3 498 258.7 496.7 258.7 496 259.4 493.9 259.4 493.2 260.1 491.1 260.1 490.4 260.8 476.4 260.8 475.7 260.1 473.6 260.1 472.9 259.4 470.8 259.4 470.1 258.7 468.8 258.7 466.7 257.3 466 257.3 465.3 256.6 464.6 256.6 463.9 255.9 463.2 255.9 462.5 255.2 461.8 255.2 460.4 253.8 459.7 253.8 456.9 251 456.2 251 452.7 247.6 452.7 246.9 449.9 244.1 449.9 243.4 448.5 242 448.5 241.3 447.8 240.6 447.8 239.9 446.4 237.8 446.4 237.1 445 235 445 233.6 444.3 232.9 444.3 230.8 443.6 230.1 443.6 228 442.9 227.3 442.9 213.4 443.6 212.7 443.6 210.6 444.3 209.9 444.3 207.8 445 207.1 445 205.7 445.7 205 445.7 204.3 446.4 203.6 446.4 202.9 447.1 202.2 447.1 201.5 447.8 200.8 447.9 200 451.4 218.3 457.2 232.9 459.7 235.1 465.7 238.5 469.4 240.1 471.5 240.3 472.9 240.1 474.3 239.3 475.1 238.5 475.6 237.1 475 235 470.8 231.9 468.1 229 466.4 226.6 465 223.1 464.1 219.7 463.4 215.5 463.3 203.6 461.9 194.5 460.4 191.6 459 190.3 457.2 189.4 459.7 186.9 460.4 186.9 461.8 185.5 462.5 185.5 463.2 184.8 463.9 184.8 464.6 184.1 465.3 184.1 466 183.4 466.7 183.4 467.4 182.7 468.1 182.7 468.8 182 470.1 182 470.8 181.3 472.9 181.3 473.6 180.6 475.7 180.6Z" fill="#4759f8"/>
<path d="M476.4 179.9 490.4 179.9 491.1 180.6 493.2 180.6 493.9 181.3 496 181.3 496.7 182 498 182 498.7 182.7 499.4 182.7 500.1 183.4 500.8 183.4 501.5 184.1 502.4 184.2 500.1 185.6 498.5 187.6 497.7 189.7 497.5 191.8 499.1 197.3 503.4 209.2 504.7 214.1 504.9 216.2 503.2 221.7 501.4 225.9 498 229.8 493.2 233.2 491.7 235 491.3 236.4 491.4 237.8 492.2 239.2 493.1 239.9 495.3 240.7 498 240.5 505 237.3 510.4 234.3 511.9 232.2 518.2 219.7 518.8 217.6 518.7 214.8 513.1 192.2 514.1 193.1 514.1 193.8 516.9 196.6 516.9 197.3 518.3 198.7 518.3 199.4 519.7 201.5 519.7 202.2 520.4 202.9 520.4 203.6 521.1 204.3 521.1 205 521.8 205.7 521.8 207.1 522.5 207.8 522.5 209.9 523.2 210.6 523.2 212.7 523.9 213.4 523.9 227.3 523.2 228 523.2 230.1 522.5 230.8 522.5 232.9 521.8 233.6 521.8 235 521.1 235.7 521.1 236.4 520.4 237.1 520.4 237.8 519.7 238.5 519.7 239.2 519 239.9 519 240.6 518.3 241.3 518.3 242 516.9 243.4 516.9 244.1 514.1 246.9 514.1 247.6 510.6 251 509.9 251 507.1 253.8 506.4 253.8 505 255.2 504.3 255.2 503.6 255.9 502.9 255.9 502.2 256.6 501.5 256.6 500.8 257.3 500.1 257.3 498 258.7 496.7 258.7 496 259.4 493.9 259.4 493.2 260.1 491.1 260.1 490.4 260.8 476.4 260.8 475.7 260.1 473.6 260.1 472.9 259.4 470.8 259.4 470.1 258.7 468.8 258.7 466.7 257.3 466 257.3 465.3 256.6 464.6 256.6 463.9 255.9 463.2 255.9 462.5 255.2 461.8 255.2 460.4 253.8 459.7 253.8 456.9 251 456.2 251 452.7 247.6 452.7 246.9 449.9 244.1 449.9 243.4 448.5 242 448.5 241.3 447.8 240.6 447.8 239.9 446.4 237.8 446.4 237.1 445 235 445 233.6 444.3 232.9 444.3 230.8 443.6 230.1 443.6 228 442.9 227.3 442.9 213.4 443.6 212.7 443.6 210.6 444.3 209.9 444.3 207.8 445 207.1 445 205.7 445.7 205 445.7 204.3 446.4 203.6 446.4 202.9 447.1 202.2 447.4 201.2 450.9 219 456.5 232.9 459.7 235.7 468.9 240.6 470.8 241 472.9 240.8 474.8 239.9 475.7 238.9 476.4 237.1 475.8 235 471.3 231.5 468.5 228.7 467 226.6 465.5 223.1 464.4 219 463.8 214.8 463.8 202.9 462.6 194.5 462.2 193.1 460.9 191.1 459.7 189.9 457.7 188.8 459.7 186.9 460.4 186.9 461.8 185.5 462.5 185.5 463.2 184.8 463.9 184.8 464.6 184.1 465.3 184.1 466 183.4 466.7 183.4 467.4 182.7 468.1 182.7 468.8 182 470.1 182 470.8 181.3 472.9 181.3 473.6 180.6 475.7 180.6Z" fill="#4562fc"/>
<path d="M476.4 179.9 490.4 179.9 491.1 180.6 493.2 180.6 493.9 181.3 496 181.3 496.7 182 498 182 498.7 182.7 499.4 182.7 500.1 183.4 500.8 183.4 501.2 183.7 499.4 185 497.8 186.9 496.9 189 496.7 191.8 497.8 195.9 503 209.2 504.1 213.4 504.5 216.2 502.6 222.4 500.9 225.9 497.9 229.4 492.5 233.3 491.3 235 490.8 236.4 490.9 237.8 491.6 239.2 492.5 240 495.3 241.1 496.7 241.2 498.7 240.8 511.5 234.3 512.6 232.9 518.5 221 519.6 218.3 519.7 215.5 514.6 194.3 516.9 196.6 516.9 197.3 518.3 198.7 518.3 199.4 519.7 201.5 519.7 202.2 520.4 202.9 520.4 203.6 521.1 204.3 521.1 205 521.8 205.7 521.8 207.1 522.5 207.8 522.5 209.9 523.2 210.6 523.2 212.7 523.9 213.4 523.9 227.3 523.2 228 523.2 230.1 522.5 230.8 522.5 232.9 521.8 233.6 521.8 235 521.1 235.7 521.1 236.4 520.4 237.1 520.4 237.8 519.7 238.5 519.7 239.2 519 239.9 519 240.6 518.3 241.3 518.3 242 516.9 243.4 516.9 244.1 514.1 246.9 514.1 247.6 510.6 251 509.9 251 507.1 253.8 506.4 253.8 505 255.2 504.3 255.2 503.6 255.9 502.9 255.9 502.2 256.6 501.5 256.6 500.8 257.3 500.1 257.3 498 258.7 496.7 258.7 496 259.4 493.9 259.4 493.2 260.1 491.1 260.1 490.4 260.8 476.4 260.8 475.7 260.1 473.6 260.1 472.9 259.4 470.8 259.4 470.1 258.7 468.8 258.7 466.7 257.3 466 257.3 465.3 256.6 464.6 256.6 463.9 255.9 463.2 255.9 462.5 255.2 461.8 255.2 460.4 253.8 459.7 253.8 456.9 251 456.2 251 452.7 247.6 452.7 246.9 449.9 244.1 449.9 243.4 448.5 242 448.5 241.3 447.8 240.6 447.8 239.9 446.4 237.8 446.4 237.1 445 235 445 233.6 444.3 232.9 444.3 230.8 443.6 230.1 443.6 228 442.9 227.3 442.9 213.4 443.6 212.7 443.6 210.6 444.3 209.9 444.3 207.8 445 207.1 445 205.7 445.7 205 445.7 204.3 446.4 203.6 446.7 202.7 450.1 219.7 455.6 232.9 459 235.8 466 239.7 469.4 241.3 471.5 241.5 473.2 241.3 475 240.4 476.3 239.2 477 237.1 476.4 235 475.9 234.3 471.5 231.1 468.5 228 467.1 225.9 465.7 222.4 464.2 214.8 464.4 201.5 463.6 194.5 462.9 192.4 462.1 191.1 460.4 189.3 458.5 188.1 459.7 186.9 460.4 186.9 461.8 185.5 462.5 185.5 463.2 184.8 463.9 184.8 464.6 184.1 465.3 184.1 466 183.4 466.7 183.4 467.4 182.7 468.1 182.7 468.8 182 470.1 182 470.8 181.3 472.9 181.3 473.6 180.6 475.7 180.6Z" fill="#416bfe"/>
<path d="M482 191 485.5 191 489 191.5 493.2 192.7 495.3 194.1 498 198.5 500.8 204.4 502.6 209.2 504.1 214.8 504.1 216.2 503.4 219 501 225.2 497.3 229.4 492.4 232.9 490.8 235 490.4 236.4 490.4 237.8 491.7 239.9 493.2 240.9 494.6 241.4 498 241.4 515.5 233.4 519 232.7 522.5 232.6 521.8 233.6 521.8 235 521.1 235.7 521.1 236.4 520.4 237.1 520.4 237.8 519.7 238.5 519.7 239.2 519 239.9 519 240.6 518.3 241.3 518.3 242 516.9 243.4 516.9 244.1 514.1 246.9 514.1 247.6 510.6 251 509.9 251 507.1 253.8 506.4 253.8 505 255.2 504.3 255.2 503.6 255.9 502.9 255.9 502.2 256.6 501.5 256.6 500.8 257.3 500.1 257.3 498 258.7 496.7 258.7 496 259.4 493.9 259.4 493.2 260.1 491.1 260.1 490.4 260.8 476.4 260.8 475.7 260.1 473.6 260.1 472.9 259.4 470.8 259.4 470.1 258.7 468.8 258.7 466.7 257.3 466 257.3 465.3 256.6 464.6 256.6 463.9 255.9 463.2 255.9 462.5 255.2 461.8 255.2 460.4 253.8 459.7 253.8 456.9 251 456.2 251 452.7 247.6 452.7 246.9 449.9 244.1 449.9 243.4 448.5 242 448.5 241.3 447.8 240.6 447.8 239.9 446.4 237.8 446.4 237.1 445 235 445 233.7 445.7 233.4 449.9 232.6 452.7 232.6 454.8 233.3 459 236.3 468.8 241.6 470.8 242 472.9 241.8 475 241 476.5 239.9 477.5 237.8 477.5 236.4 477 235 476.4 234.2 471.5 230.6 468.8 227.7 467.6 225.9 466.1 222.4 464.6 214.8 465.1 204.3 466 199 466.7 197.5 468.1 196.2 470.8 194.4 474.3 192.7 478.5 191.5 481.7 191.1Z" fill="#3875fe"/>
<path d="M480.6 194.5 484.8 194.2 489 194.8 493.2 196.2 496 197.8 498 200.1 500.1 203.9 502 208.5 503.4 213.4 503.7 216.2 502.4 221 500.6 225.2 496.8 229.4 491.9 232.9 490.4 235 490 236.4 490 237.8 491.1 239.9 492.5 241 493.9 241.6 496 242 498 241.8 513.4 235.4 517.6 234.4 521.8 234 521.8 235 521.1 235.7 521.1 236.4 520.4 237.1 520.4 237.8 519.7 238.5 519.7 239.2 519 239.9 519 240.6 518.3 241.3 518.3 242 516.9 243.4 516.9 244.1 514.1 246.9 514.1 247.6 510.6 251 509.9 251 507.1 253.8 506.4 253.8 505 255.2 504.3 255.2 503.6 255.9 502.9 255.9 502.2 256.6 501.5 256.6 500.8 257.3 500.1 257.3 498 258.7 496.7 258.7 496 259.4 493.9 259.4 493.2 260.1 491.1 260.1 490.4 260.8 476.4 260.8 475.7 260.1 473.6 260.1 472.9 259.4 470.8 259.4 470.1 258.7 468.8 258.7 466.7 257.3 466 257.3 465.3 256.6 464.6 256.6 463.9 255.9 463.2 255.9 462.5 255.2 461.8 255.2 460.4 253.8 459.7 253.8 456.9 251 456.2 251 452.7 247.6 452.7 246.9 449.9 244.1 449.9 243.4 448.5 242 448.5 241.3 447.8 240.6 447.8 239.9 447.1 239.2 447.1 238.5 446.4 237.8 446.4 237.1 445.1 235 449.9 234.1 454.1 234.3 467.4 241.5 470.1 242.4 472.2 242.4 474.1 242 475.7 241.2 477.1 239.9 477.9 238.5 478.1 237.1 477.1 234.3 470.1 228.7 468.3 226.6 467 223.8 465.7 219.7 465.1 216.2 465 210.6 466 203.8 466.7 202.1 467.7 200.8 470.1 198.7 472.9 196.9 476.4 195.4 480.1 194.5Z" fill="#307ffb"/>
<path d="M480.6 195.9 484.8 195.6 489 196.3 493.2 197.8 496 199.4 498 201.4 499.4 203.6 501.5 208.2 502.9 212.8 503.4 216.2 502.3 220.3 500.6 224.5 497.3 228.5 491.5 232.9 490 235 489.6 236.4 489.6 237.8 490 239.2 491.1 240.4 492.5 241.4 494.6 242.2 498 242.2 512.7 237 517.6 235.8 521.3 235.4 521.1 236.4 520.4 237.1 520.4 237.8 519.7 238.5 519.7 239.2 519 239.9 519 240.6 518.3 241.3 518.3 242 516.9 243.4 516.9 244.1 514.1 246.9 514.1 247.6 510.6 251 509.9 251 507.1 253.8 506.4 253.8 505 255.2 504.3 255.2 503.6 255.9 502.9 255.9 502.2 256.6 501.5 256.6 500.8 257.3 500.1 257.3 498 258.7 496.7 258.7 496 259.4 493.9 259.4 493.2 260.1 491.1 260.1 490.4 260.8 476.4 260.8 475.7 260.1 473.6 260.1 472.9 259.4 470.8 259.4 470.1 258.7 468.8 258.7 466.7 257.3 466 257.3 465.3 256.6 464.6 256.6 463.9 255.9 463.2 255.9 462.5 255.2 461.8 255.2 460.4 253.8 459.7 253.8 456.9 251 456.2 251 452.7 247.6 452.7 246.9 449.9 244.1 449.9 243.4 448.5 242 448.5 241.3 447.8 240.6 447.8 239.9 446.4 237.8 446.4 237.1 445.7 236.4 450.6 235.5 454.8 235.8 467.4 242 470.1 242.8 472.2 242.9 474.3 242.4 477.2 240.6 478.4 238.5 478.6 237.1 478.2 235.7 477.1 233.9 471.5 229.6 468.3 225.9 466.8 222.4 465.7 218.3 465.2 214.8 465.3 211.3 466.2 205.7 467.1 203.6 468.3 202.2 470.8 199.9 473.6 198.2 476.4 196.9 480.2 195.9Z" fill="#2d87f6"/>
<path d="M483.4 196.6 487.6 197 491.1 197.9 494.6 199.6 497.3 201.8 499.4 204.6 500.8 207.4 502.2 211.5 503.1 215.5 502 220.3 500.1 224.8 496 229.3 491.1 232.9 489.6 235 489.2 236.4 489.1 237.8 489.5 239.2 490.4 240.4 493.2 242.2 495.3 242.7 497.3 242.8 514.8 237.8 520.6 236.9 520.4 237.8 519.7 238.5 519.7 239.2 519 239.9 519 240.6 518.3 241.3 518.3 242 516.9 243.4 516.9 244.1 514.1 246.9 514.1 247.6 513.4 248.2 510.6 251 509.9 251 507.1 253.8 506.4 253.8 505 255.2 504.3 255.2 503.6 255.9 502.9 255.9 502.2 256.6 501.5 256.6 500.8 257.3 500.1 257.3 498 258.7 496.7 258.7 496 259.4 493.9 259.4 493.2 260.1 491.1 260.1 490.4 260.8 476.4 260.8 475.7 260.1 473.6 260.1 472.9 259.4 470.8 259.4 470.1 258.7 468.8 258.7 466.7 257.3 466 257.3 465.3 256.6 464.6 256.6 463.9 255.9 463.2 255.9 462.5 255.2 461.8 255.2 460.4 253.8 459.7 253.8 456.9 251 456.2 251 452.7 247.6 452.7 246.9 449.9 244.1 449.9 243.4 448.5 242 448.5 241.3 447.8 240.6 447.8 239.9 446.4 237.8 446.4 237.5 447.1 237.4 450.6 236.9 455.5 237.2 459 238.5 467.4 242.5 470.1 243.3 472.2 243.3 474.3 242.9 476.4 241.8 477.9 240.6 478.8 239.2 479.1 237.8 478.9 236.4 478 234.3 470.4 228 468.8 226.1 467.7 223.8 466.5 220.3 465.8 216.9 465.5 214.1 465.7 210.6 466.4 207.1 467.3 205 468.8 203.1 470.8 201.2 473.6 199.3 477.1 197.7 479.9 197 482.9 196.6Z" fill="#2c90f0"/>
<path d="M479.2 197.9 482.7 197.4 486.9 197.6 490.4 198.5 494.6 200.6 497.3 202.8 499.1 205 500.8 208.5 502.2 212.7 502.8 215.5 502.5 216.9 501.4 221 500 224.5 496.3 228.7 490.7 232.9 489.2 235 488.6 237.8 489 239.2 489.9 240.6 491.1 241.5 493.2 242.6 495.3 243.1 497.3 243.2 509.2 240.7 516.2 238.9 519.9 238.3 519.7 239.2 519 239.9 519 240.6 518.3 241.3 518.3 242 516.9 243.4 516.9 244.1 514.1 246.9 514.1 247.6 510.6 251 509.9 251 507.1 253.8 506.4 253.8 505 255.2 504.3 255.2 503.6 255.9 502.9 255.9 502.2 256.6 501.5 256.6 500.8 257.3 500.1 257.3 498 258.7 496.7 258.7 496 259.4 493.9 259.4 493.2 260.1 491.1 260.1 490.4 260.8 476.4 260.8 475.7 260.1 473.6 260.1 472.9 259.4 470.8 259.4 470.1 258.7 468.8 258.7 466.7 257.3 466 257.3 465.3 256.6 464.6 256.6 463.9 255.9 463.2 255.9 462.5 255.2 461.8 255.2 460.4 253.8 459.7 253.8 456.9 251 456.2 251 452.7 247.6 452.7 246.9 449.9 244.1 449.9 243.4 448.5 242 448.5 241.3 447.8 240.6 447.8 239.9 447.1 239.2 447.1 238.8 450.6 238.3 455.5 238.6 459.9 239.9 467.4 243.1 470.8 243.8 472.9 243.7 475 243.1 477.1 242 478.6 240.6 479.4 239.2 479.7 237.8 478.8 235 477.8 233.6 471.5 228.8 469 225.9 466.8 220.3 465.8 214.1 466.1 210.6 466.7 207.9 467.4 206.3 468.7 204.3 472.9 200.6 475.7 199.1 478.8 198Z" fill="#2798ea"/>
<path d="M479.2 198.6 482.7 198.1 486.9 198.3 491.1 199.5 494.6 201.4 497.3 203.7 499.4 206.4 500.8 209.5 502 213.4 502.4 215.5 502.2 216.9 501.4 220.3 500 223.8 496.6 228 491.1 232.2 489.2 234.3 488.5 235.7 488 237.8 488.3 239.2 489.2 240.6 491.1 242.1 493.2 243.1 497.3 243.7 507.8 242.4 519.1 239.8 519 240.6 518.3 241.3 518.3 242 516.9 243.4 516.9 244.1 514.1 246.9 514.1 247.6 510.6 251 509.9 251 507.1 253.8 506.4 253.8 505 255.2 504.3 255.2 503.6 255.9 502.9 255.9 502.2 256.6 501.5 256.6 500.8 257.3 500.1 257.3 498 258.7 496.7 258.7 496 259.4 493.9 259.4 493.2 260.1 491.1 260.1 490.4 260.8 476.4 260.8 475.7 260.1 473.6 260.1 472.9 259.4 470.8 259.4 470.1 258.7 468.8 258.7 466.7 257.3 466 257.3 465.3 256.6 464.6 256.6 463.9 255.9 463.2 255.9 462.5 255.2 461.8 255.2 460.4 253.8 459.7 253.8 456.9 251 456.2 251 452.7 247.6 452.7 246.9 449.9 244.1 449.9 243.4 448.5 242 448.5 241.3 447.8 240.6 447.8 240 449.9 239.7 455.5 240 460.4 241.2 467.4 243.8 470.8 244.4 472.9 244.2 475.7 243.4 477.8 242.2 479.6 240.6 480.3 239.2 480.4 237.8 478.8 234.3 477.4 232.9 472.2 229 469.3 225.9 467.1 220.3 466.1 214.1 466.8 209.2 467.6 207.1 469 205 471 202.9 473.6 201 475.7 199.8 478.8 198.7Z" fill="#249fe5"/>
<path d="M482.7 198.7 486.2 198.8 489.7 199.6 493.2 201.2 496 203.2 498 205.4 499.9 208.5 501.2 212 502 215.5 501.1 220.3 499.3 224.5 495.5 228.7 489.9 232.9 488 235.7 487.1 238.5 487.1 239.2 488 240.6 491.8 243.1 494.6 244 497.3 244.3 507.1 243.9 518.3 241.3 518.3 242 516.9 243.4 516.9 244.1 514.1 246.9 514.1 247.6 510.6 251 509.9 251 507.1 253.8 506.4 253.8 505 255.2 504.3 255.2 503.6 255.9 502.9 255.9 502.2 256.6 501.5 256.6 500.8 257.3 500.1 257.3 498 258.7 496.7 258.7 496 259.4 493.9 259.4 493.2 260.1 491.1 260.1 490.4 260.8 476.4 260.8 475.7 260.1 473.6 260.1 472.9 259.4 470.8 259.4 470.1 258.7 468.8 258.7 466.7 257.3 466 257.3 465.3 256.6 464.6 256.6 463.9 255.9 463.2 255.9 462.5 255.2 461.8 255.2 460.4 253.8 459.7 253.8 456.9 251 456.2 251 452.7 247.6 452.7 246.9 449.9 244.1 449.9 243.4 448.5 242 448.5 241.3 449.2 241.2 454.8 241.3 467.4 244.6 471.5 245 474.3 244.6 476.4 243.8 479.6 242 481.1 240.6 481.6 239.9 481.6 238.5 479.3 234.3 477.9 232.9 472.3 228.7 469.4 225.7 467.2 219.7 466.4 214.1 466.7 211.3 467.5 208.5 468.8 206.3 470.8 203.9 472.9 202.2 475.7 200.5 479.2 199.2 482.3 198.7Z" fill="#1ea7e1"/>
<path d="M481.3 199.4 484.8 199.2 489 200 492.5 201.4 495.3 203.3 497.6 205.7 499.4 208.5 500.8 212 501.6 215.5 500.7 220.3 499 224.5 495.3 228.6 489.5 232.9 486.2 237.1 484.8 237.6 483.4 237.4 482 236.8 479.2 233.6 472.9 228.9 469.9 225.9 467.9 221 466.9 216.2 466.8 213.4 467.4 210.2 468.4 207.8 469.9 205.7 472.2 203.4 475 201.5 477.8 200.2 481 199.4ZM484.1 241.8 486.9 241.8 494.6 244.6 503.6 245.5 508.5 245 517.4 242.8 516.9 243.4 516.9 244.1 514.1 246.9 514.1 247.6 510.6 251 509.9 251 507.1 253.8 506.4 253.8 505 255.2 504.3 255.2 503.6 255.9 502.9 255.9 502.2 256.6 501.5 256.6 500.8 257.3 500.1 257.3 498 258.7 496.7 258.7 496 259.4 493.9 259.4 493.2 260.1 491.1 260.1 490.4 260.8 476.4 260.8 475.7 260.1 473.6 260.1 472.9 259.4 470.8 259.4 470.1 258.7 468.8 258.7 466.7 257.3 466 257.3 465.3 256.6 464.6 256.6 463.9 255.9 463.2 255.9 462.5 255.2 461.8 255.2 460.4 253.8 459.7 253.8 456.9 251 456.2 251 452.7 247.6 452.7 246.9 449.9 244.1 449.9 243.4 449.2 242.6 454.8 242.7 466 245.3 470.8 245.8 475 245.2 483.5 242Z" fill="#18addb"/>
<path d="M480.6 200 484.8 199.7 488.3 200.3 491.8 201.6 494.6 203.4 497 205.7 498.9 208.5 500.4 212 501.1 215.5 500.9 218.3 500.2 221 499.1 223.8 498.1 225.2 495.5 228 489.9 232.2 486.9 235.3 484.8 236.2 482.7 236 481.3 235.2 479.7 233.6 473.6 229.2 470.8 226.5 469.8 225.2 468.6 222.4 467.2 216.9 467.1 214.1 467.5 211.3 468.6 208.5 470 206.4 472 204.3 474.3 202.5 477.1 201 480 200.1ZM450.6 243.9 455.5 244.2 464.6 246.4 469.4 247 473.6 246.6 482 244.2 485.5 243.6 488.3 243.8 496 245.8 503.6 246.9 508.5 246.4 516.6 244.4 514.1 246.9 514.1 247.6 510.6 251 509.9 251 507.1 253.8 506.4 253.8 505 255.2 504.3 255.2 503.6 255.9 502.9 255.9 502.2 256.6 501.5 256.6 500.8 257.3 500.1 257.3 498 258.7 496.7 258.7 496 259.4 493.9 259.4 493.2 260.1 491.1 260.1 490.4 260.8 476.4 260.8 475.7 260.1 473.6 260.1 472.9 259.4 470.8 259.4 470.1 258.7 468.8 258.7 466.7 257.3 466 257.3 465.3 256.6 464.6 256.6 463.9 255.9 463.2 255.9 462.5 255.2 461.8 255.2 460.4 253.8 459.7 253.8 456.9 251 456.2 251 452.7 247.6 452.7 246.9 449.9 243.9Z" fill="#0cb3d3"/>
<path d="M479.2 200.8 482.7 200.2 486.2 200.4 489.7 201.2 492.5 202.6 495.3 204.6 497.5 207.1 499.4 210.6 500.5 214.1 500.7 216.2 500.4 219 499.4 222.4 498.3 224.5 494.3 228.7 489.5 232.2 486.9 234.5 485.5 235.2 483.4 235.2 481.3 234.4 472.2 227.6 469.7 224.5 468.6 221.7 467.7 218.3 467.4 215.5 467.6 212.7 468.4 209.9 469.6 207.8 471.5 205.4 473.6 203.5 476.4 201.9 479.2 200.8ZM451.3 245.2 455.5 245.6 464.6 247.8 468.8 248.3 472.9 248 482 245.7 485.5 245.2 489.7 245.4 498.7 247.7 502.9 248.3 507.8 248 514.7 246.2 514.1 246.9 514.1 247.6 513.4 248.2 510.6 251 509.9 251 507.1 253.8 506.4 253.8 505 255.2 504.3 255.2 503.6 255.9 502.9 255.9 502.2 256.6 501.5 256.6 500.8 257.3 500.1 257.3 498 258.7 496.7 258.7 496 259.4 493.9 259.4 493.2 260.1 491.1 260.1 490.4 260.8 476.4 260.8 475.7 260.1 473.6 260.1 472.9 259.4 470.8 259.4 470.1 258.7 468.8 258.7 466.7 257.3 466 257.3 465.3 256.6 464.6 256.6 463.9 255.9 463.2 255.9 462.5 255.2 461.8 255.2 460.4 253.8 459.7 253.8 456.9 251 456.2 251 452.7 247.6 452.7 246.9 451.1 245.3Z" fill="#01b8c9"/>
<path d="M482 200.7 484.8 200.7 488.3 201.3 491.8 202.7 494.2 204.3 496.4 206.4 498.3 209.2 499.5 212 500.3 215.5 500.2 218.3 499.6 221 498.7 223.3 497.4 225.2 493 229.4 486.9 233.9 484.8 234.5 482.7 234.3 481.3 233.8 475 229.6 471.6 226.6 470.4 225.2 469.4 223.1 468.5 220.3 467.8 216.9 467.7 214.1 468.3 211.3 469.4 208.9 471.2 206.4 473.4 204.3 475.7 202.7 478.5 201.5 481.4 200.8ZM452.7 246.7 456.9 247.3 465.3 249.4 468.8 249.7 472.9 249.4 482 247.1 485.5 246.6 490.4 247 498.7 249.1 502.9 249.7 507.8 249.4 513.8 247.9 510.6 251 509.9 251 507.1 253.8 506.4 253.8 505 255.2 504.3 255.2 503.6 255.9 502.9 255.9 502.2 256.6 501.5 256.6 500.8 257.3 500.1 257.3 498 258.7 496.7 258.7 496 259.4 493.9 259.4 493.2 260.1 491.1 260.1 490.4 260.8 476.4 260.8 475.7 260.1 473.6 260.1 472.9 259.4 470.8 259.4 470.1 258.7 468.8 258.7 466.7 257.3 466 257.3 465.3 256.6 464.6 256.6 463.9 255.9 463.2 255.9 462.5 255.2 461.8 255.2 460.4 253.8 459.7 253.8 456.9 251 456.2 251 452.7 247.6 452.5 246.7Z" fill="#08bcbe"/>
<path d="M480.6 201.4 483.4 201.1 486.9 201.4 490.4 202.5 493.2 204.1 495.3 205.8 497.4 208.5 498.8 211.3 499.8 214.8 499.9 216.9 499.6 219.7 498.7 222.5 497.6 224.5 495.8 226.6 493.2 229 486.9 233.2 485.5 233.7 482.7 233.7 480.6 232.9 473.4 228 470.3 224.5 469.2 221.7 468.3 218.3 468 215.5 468.4 212.7 469.4 209.9 470.7 207.8 472.5 205.7 475 203.7 477.1 202.5 480.1 201.5ZM453.4 248.1 456.9 248.7 464.6 250.6 468.8 251.1 472.9 250.8 482 248.5 486.2 248 490.4 248.4 498.7 250.5 502.2 251.1 506.4 251 511.8 249.8 510.6 251 509.9 251 507.1 253.8 506.4 253.8 505 255.2 504.3 255.2 503.6 255.9 502.9 255.9 502.2 256.6 501.5 256.6 500.8 257.3 500.1 257.3 498 258.7 496.7 258.7 496 259.4 493.9 259.4 493.2 260.1 491.1 260.1 490.4 260.8 476.4 260.8 475.7 260.1 473.6 260.1 472.9 259.4 470.8 259.4 470.1 258.7 468.8 258.7 466.7 257.3 466 257.3 465.3 256.6 464.6 256.6 463.9 255.9 463.2 255.9 462.5 255.2 461.8 255.2 460.4 253.8 459.7 253.8 456.9 251 456.2 251 453.2 248.1Z" fill="#1cc0b4"/>
<path d="M483.4 201.5 486.9 201.8 489.7 202.6 492.5 204.1 494.5 205.7 496.4 207.8 498.1 210.6 499 213.4 499.5 216.2 499.4 219 498.7 221.7 497.7 223.8 496.1 225.9 493.2 228.7 489 231.5 486.9 232.7 484.8 233.2 482.7 233 479.9 232.1 475 229 472.3 226.6 470.8 224.9 469.7 222.4 468.7 219 468.4 216.2 468.6 213.4 469.5 210.6 471.2 207.8 472.9 205.8 475 204.2 477.8 202.7 480.6 201.8 483.2 201.5ZM484.1 249.6 489.7 249.7 498.7 251.9 502.2 252.5 505.7 252.5 509 251.9 507.1 253.8 506.4 253.8 505 255.2 504.3 255.2 503.6 255.9 502.9 255.9 502.2 256.6 501.5 256.6 500.8 257.3 500.1 257.3 498 258.7 496.7 258.7 496 259.4 493.9 259.4 493.2 260.1 491.1 260.1 490.4 260.8 476.4 260.8 475.7 260.1 473.6 260.1 472.9 259.4 470.8 259.4 470.1 258.7 468.8 258.7 466.7 257.3 466 257.3 465.3 256.6 464.6 256.6 463.9 255.9 463.2 255.9 462.5 255.2 461.8 255.2 460.4 253.8 459.7 253.8 456.9 251 456.2 251 454.8 249.7 464.6 252 469.4 252.5 473.6 252.1 483.6 249.6Z" fill="#2bc3a8"/>
<path d="M481.3 202.1 484.8 201.9 487.6 202.4 490.4 203.4 493 205 495.3 207.1 497.2 209.9 498.4 212.7 499 215.5 499.1 218.3 498.5 221 497.7 223.1 496.4 225.2 494.4 227.3 491.8 229.4 488.3 231.6 485.5 232.6 482.7 232.6 480.6 232.1 477.8 230.6 474.2 228 470.9 224.5 469.5 221 468.9 218.3 468.7 215.5 469 213.4 470 210.6 471.5 208 473.6 205.8 475.7 204.2 478.4 202.9 480.8 202.2ZM484.1 251 489.7 251.1 501.5 253.8 504.3 253.9 507.3 253.7 506.4 253.8 505 255.2 504.3 255.2 503.6 255.9 502.9 255.9 502.2 256.6 501.5 256.6 500.8 257.3 500.1 257.3 498 258.7 496.7 258.7 496 259.4 493.9 259.4 493.2 260.1 491.1 260.1 490.4 260.8 476.4 260.8 475.7 260.1 473.6 260.1 472.9 259.4 470.8 259.4 470.1 258.7 468.8 258.7 466.7 257.3 466 257.3 465.3 256.6 464.6 256.6 463.9 255.9 463.2 255.9 462.5 255.2 461.8 255.2 460.4 253.8 459.7 253.8 457.4 251.6 464.6 253.4 469.4 253.9 473.6 253.5 483.7 251Z" fill="#34c79c"/>
<path d="M479.9 202.8 482.7 202.4 486.2 202.5 489 203.3 491.8 204.6 494 206.4 496 208.6 497.5 211.3 498.4 214.1 498.7 216.9 498.5 219.7 497.7 222.4 496.5 224.5 494.7 226.6 492.3 228.7 488.3 231.2 486.2 232 483.4 232.2 481.3 231.9 479.2 231.1 475.5 228.7 473.1 226.6 471.3 224.5 469.4 219.7 469.1 216.9 469.2 214.1 470.1 211.3 471.2 209.2 472.9 207 475 205.2 477.1 203.9 479.7 202.9ZM484.1 252.4 489.7 252.5 499.4 254.8 504.2 255.3 503.6 255.9 502.9 255.9 502.2 256.6 501.5 256.6 500.8 257.3 500.1 257.3 499.4 258 498.7 258 498 258.7 496.7 258.7 496 259.4 493.9 259.4 493.2 260.1 491.1 260.1 490.4 260.8 476.4 260.8 475.7 260.1 473.6 260.1 472.9 259.4 470.8 259.4 470.1 258.7 468.8 258.7 466.7 257.3 466 257.3 465.3 256.6 464.6 256.6 463.9 255.9 463.2 255.9 462.5 255.2 461.8 255.2 460.4 253.8 459.7 253.8 459.3 253.5 465.3 255 470.1 255.3 473.6 254.9 483.7 252.4Z" fill="#3fca8e"/>
<path d="M482 202.8 484.8 202.8 487.6 203.2 490.4 204.3 492.6 205.7 494.6 207.5 496.3 209.9 497.6 212.7 498.2 215.5 498.3 218.3 497.8 221 497 223.1 495.6 225.2 493.6 227.3 490.8 229.4 488.3 230.9 485.5 231.7 482.7 231.7 480.6 231.3 477.1 229.5 474.3 227.4 472.2 225.3 471.2 223.8 470.1 221 469.5 218.3 469.4 215.5 469.8 213.4 470.8 210.7 472.2 208.4 474.1 206.4 476.4 204.7 478.8 203.6 481.5 202.9ZM484.1 253.8 489.7 253.9 501.9 256.6 500.8 257.3 500.1 257.3 499.4 258 498.7 258 498 258.7 496.7 258.7 496 259.4 493.9 259.4 493.2 260.1 491.1 260.1 490.4 260.8 476.4 260.8 475.7 260.1 473.6 260.1 472.9 259.4 470.8 259.4 470.1 258.7 468.8 258.7 468.1 258 467.4 258 466.7 257.3 466 257.3 465.3 256.6 464.6 256.6 464.1 256.1 468.1 256.7 471.5 256.6 483.8 253.8ZM463.2 255.9 463.2 255.9Z" fill="#52cc7e"/>
<path d="M480.6 203.5 483.4 203.1 486.2 203.3 489 204.1 491.1 205.2 493.2 206.7 495.3 209 496.6 211.3 497.5 214.1 497.9 216.2 497.8 219 497.1 221.7 496.2 223.8 494.6 225.9 492.3 228 489 230.1 486.9 231 484.1 231.4 481.3 231.1 479.2 230.3 476.5 228.7 473.9 226.6 472 224.5 470.9 222.4 470.1 220 469.8 217.6 469.9 214.8 470.7 212 471.7 209.9 473.6 207.4 475.7 205.7 477.8 204.5 480.1 203.6ZM484.1 255.2 489.7 255.3 499.8 257.7 499.4 258 498.7 258 498 258.7 496.7 258.7 496 259.4 493.9 259.4 493.2 260.1 491.1 260.1 490.4 260.8 476.4 260.8 475.7 260.1 473.6 260.1 472.9 259.4 470.8 259.4 470.1 258.7 468.8 258.7 468.1 258.1 472.9 257.8 483.8 255.2Z" fill="#66cd6d"/>
<path d="M482.7 203.6 485.5 203.6 487.6 204.1 490.4 205.2 492.5 206.6 494.3 208.5 496 210.9 496.9 213.4 497.5 216.2 497.4 219 497 221 496.1 223.1 494.6 225.5 492.5 227.5 489.7 229.4 487.6 230.4 484.8 230.9 482 230.8 479.9 230.3 475 227.3 472 223.8 470.8 221 470.2 218.3 470.1 216.1 470.6 213.4 471.8 210.6 473.2 208.5 475 206.7 477.1 205.3 479.9 204.1 482.3 203.6ZM484.1 256.6 489.7 256.7 498 258.7 496.7 258.7 496 259.4 493.9 259.4 493.2 260.1 491.1 260.1 490.4 260.8 476.4 260.8 475.7 260.1 473.6 260.1 472.9 259.4 471.3 259.4 483.8 256.6Z" fill="#7dcc5c"/>
<path d="M481.3 204.2 483.4 203.9 486.2 204.2 489 205 491.1 206.1 493.2 207.8 494.9 209.9 496 212 496.9 214.8 497.1 217.6 496.9 219.7 496 222.4 494.8 224.5 493 226.6 491.1 228.2 488.3 229.7 486.2 230.3 483.4 230.6 481.3 230.3 479.2 229.6 476.5 228 474 225.9 472.3 223.8 470.8 219.7 470.5 216.9 470.7 214.8 471.5 212 472.7 209.9 474.3 207.9 476.1 206.4 478.5 205 480.7 204.3ZM484.1 258 489 258 495.4 259.4 493.9 259.4 493.2 260.1 491.1 260.1 490.4 260.8 476.4 260.8 475.7 260.1 475.2 260.1 483.8 258Z" fill="#94ca4a"/>
<path d="M479.9 204.9 482 204.5 484.8 204.4 487.6 204.9 489.7 205.8 491.8 207.1 493.9 209.2 495.2 211.3 496.1 213.4 496.6 215.5 496.7 218.3 496.1 221 495.3 223.1 492.5 226.6 490.4 228.2 487.6 229.6 485.5 230 482.7 230.1 480.6 229.7 478.5 228.9 476.1 227.3 473.8 225.2 472.4 223.1 471.5 221 471 218.3 470.9 216.2 471.5 213.4 472.3 211.3 473.7 209.2 475.7 207.2 479.7 205ZM484.1 259.4 488.3 259.3 492.8 260.1 491.1 260.1 490.4 260.8 477.8 260.8 483.9 259.4Z" fill="#aac73a"/>
<path d="M481.3 205 483.4 204.8 486.2 205 489 205.9 491.1 207.1 492.7 208.5 494.4 210.6 495.4 212.7 496 214.8 496.3 216.9 496 219.7 495.4 221.7 494.4 223.8 492.7 225.9 491 227.3 488.6 228.7 486.2 229.5 483.4 229.7 481.3 229.5 479.2 228.8 477.1 227.6 475 225.9 473.2 223.8 472.2 221.9 471.6 219.7 471.3 216.9 471.5 214.8 472.2 212.7 473.2 210.6 474.9 208.5 476.5 207.1 479 205.7 481.3 205ZM484.1 260.8 489.2 260.8 483.9 260.8Z" fill="#bfc32e"/>
<path d="M480.6 205.6 482.7 205.2 485.5 205.3 487.6 205.8 489.7 206.7 491.8 208.2 493.4 209.9 494.6 212 495.4 214.1 495.8 216.2 495.7 219 495.2 221 494.3 223.1 492.8 225.2 491.3 226.6 489 228.1 486.9 228.9 484.8 229.3 482 229.2 479.9 228.7 477.8 227.6 475.7 226.1 474.2 224.5 472.9 222.5 472.1 220.3 471.7 217.6 471.9 215.5 472.4 213.4 473.3 211.3 474.8 209.2 476.3 207.8 478.5 206.4 480.3 205.7Z" fill="#d2bf27"/>
<path d="M482.7 205.7 486.9 206 489 206.8 491.1 208.2 492.8 209.9 494.2 212 495 214.1 495.4 216.2 495 220.3 494.2 222.4 492.8 224.5 489.6 227.3 487.6 228.2 485.5 228.8 481.3 228.6 479.2 227.9 477 226.6 475.4 225.2 473.8 223.1 472.8 221 472.3 219 472.4 214.8 473.1 212.7 474.3 210.5 475.7 208.9 477.8 207.3 479.9 206.3 482.4 205.7Z" fill="#e2bc2b"/>
<path d="M481.3 206.3 485.5 206.2 487.6 206.7 489.7 207.7 492.8 210.6 494 212.7 494.7 214.8 494.8 219 494.3 221 493.3 223.1 491.8 225.1 490.4 226.3 488.3 227.5 486.2 228.2 482 228.3 479.9 227.7 477.8 226.7 474.8 223.8 473.5 221.7 472.9 219.7 472.7 215.5 473.3 213.4 474.3 211.3 477.1 208.3 479.1 207.1 481.1 206.4Z" fill="#f1ba37"/>
<path d="M480.6 207 482.7 206.6 484.8 206.6 486.9 207 488.8 207.8 490.9 209.2 492.2 210.6 494 214.1 494.5 216.2 494.5 218.3 493.5 221.7 492.5 223.5 491.1 225.1 489 226.6 487.4 227.3 483.4 228 481.3 227.7 479.2 226.9 477.5 225.9 475.7 224.3 474.4 222.4 473.6 220.7 473.1 216.9 473.4 214.8 474.1 212.7 475.4 210.6 476.7 209.2 478.5 207.9 480.3 207.1Z" fill="#fcbd3d"/>
<path d="M482.7 207.1 484.8 207.1 486.9 207.5 490.1 209.2 492.6 212 493.5 214.1 494 216.2 494 218.3 493.5 220.3 491.8 223.6 489 226.1 486.9 227 484.8 227.4 482.7 227.4 480.6 227 477.4 225.2 475 222.4 474 220.3 473.6 218.3 473.6 216.2 474.1 214.1 475.7 211 478.5 208.5 480.6 207.5 482.5 207.1Z" fill="#fec537"/>
<path d="M482 207.7 485.5 207.7 489 209 491.8 211.7 493.2 214.8 493.5 216.9 493.3 219 492 222.4 489.7 225 486.2 226.7 484.1 227 482 226.8 478.5 225.4 475.7 222.7 474.4 219.7 474.1 217.6 474.2 215.5 475.6 212 478.4 209.2 481.6 207.8Z" fill="#fccf30"/>
<path d="M481.3 208.4 484.8 208.1 488.3 209.3 491.1 211.7 492.6 214.8 492.9 218.3 491.8 221.7 489.7 224.3 486.7 225.9 484.8 226.4 482.7 226.3 479.3 225.2 476.8 223.1 475 219.9 474.7 216.2 475.7 212.9 477.8 210.3 481.1 208.5Z" fill="#f8d92c"/>
<path d="M481.3 209.1 484.8 208.8 487.6 209.6 489.9 211.3 491.8 214.1 492.3 217.6 491.8 220.4 491.1 221.8 489.7 223.5 486.9 225.2 483.4 225.8 480.6 225.2 477.8 223.4 475.8 220.3 475.2 216.9 475.8 214.1 477.8 211.1 480.9 209.2Z" fill="#f5e327"/>
<path d="M481.3 209.8 484.1 209.4 486.9 210 489.7 212 491.1 214.2 491.7 217.6 491.1 220.3 489.1 223.1 486.9 224.5 484.1 225.1 480.7 224.5 478.5 223.1 476.5 220.3 475.9 216.9 476.6 214.1 478.5 211.4 480.9 209.9Z" fill="#f5ed22"/>
<path d="M481.3 210.5 484.1 210.1 486.9 210.8 489 212.3 490.5 214.8 490.9 217.6 490.2 220.3 488.7 222.4 486.2 224 483.4 224.4 480.6 223.7 478.5 222.1 477 219.7 476.7 216.9 477.4 214.1 479 212 481.2 210.6Z" fill="#f8f61a"/>
<path d="M450.5 196.1 454.6 217.6 460.4 232 461.1 232.9 464.3 235 467.4 235.5 467.8 235 465.2 232.2 462.9 228.7 461.6 225.9 460.5 222.4 459.9 216.9 460.5 209.2 460.4 205 458.8 195.2 458.2 193.8 456.9 192.7 455.5 192.2 453.6 192.3M504.3 187.4 502.9 188 501.9 189 501.3 190.4 501.2 191.8 502.9 198.4 506.8 209.2 508.3 216.2 506.7 223.8 504.7 228.7 502.9 231.4 501.4 232.9 500.1 233.6 496.7 234.6 496 235.7 496.2 236.4 496.7 236.6 501.5 235.7 502.9 235.1 508 231.5 514.8 218.4 515.2 216.9 514.8 214 508.7 189.7 507.8 188.4 506.5 187.6 504.3 187.4M502.9 184.7 500.8 185.8 499.3 187.6 498.4 189.7 498.2 191.8 499.9 198 504 209.9 505.3 216.2 503.4 222.4 501.5 226.5 498.5 230.1 493.3 233.6 492.3 235 491.8 236.4 491.9 237.8 493 239.2 494.1 239.9 496.7 240.3 498.7 239.8 506.4 236.1 509.9 233.8 511.2 232.2 517.8 219 518.2 216.9 518 214.8 512.2 191.3M447.9 200 451.4 218.3 457.2 232.9 459.7 235.1 468.8 239.9 471.5 240.3 472.9 240.1 474.3 239.3 475.1 238.5 475.6 237.1 475 235 470.8 231.9 468.1 229 466.4 226.6 465 223.1 464.1 219.7 463.4 215.5 463.3 203.6 461.9 194.5 460.4 191.6 459 190.3 457.2 189.4M445.1 235 449.9 234.1 454.1 234.3 467.4 241.5 470.1 242.4 473.6 242.1 476.5 240.6 477.6 239.2 478 237.8 478 236.4 477.5 235 476.4 233.7 472.2 230.7 468.9 227.3 467.9 225.9 466.5 222.4 465.6 219 464.9 214.8 465.3 207.1 466 203.8 466.7 202.1 468.1 200.5 470.8 198.2 472.9 196.9 476.4 195.4 479.2 194.7 483.4 194.2 486.9 194.4 491.1 195.4 494.6 196.9 496.7 198.4 498.7 201.2 500.8 205.4 502.7 210.6 503.8 215.5 502.6 220.3 500.6 225.2 496.8 229.4 491.9 232.9 490.4 235 490 236.4 490 237.8 491.1 239.9 492.5 241 493.9 241.6 496 242 498 241.8 513.4 235.4 517.6 234.4 521.8 234M447.8 240 452 239.6 456.2 240.1 460.5 241.3 467.4 243.8 470.8 244.4 472.9 244.2 475.7 243.4 477.8 242.2 479.6 240.6 480.3 239.2 480.4 237.8 478.8 234.3 477.4 232.9 471.9 228.7 469.4 226.2 468.9 225.2 466.8 219 466.2 215.5 466.2 212.7 466.7 209.5 467.6 207.1 469 205 471.5 202.5 474.3 200.6 477.1 199.3 479.9 198.5 483.4 198.1 486.9 198.3 490.4 199.2 493.9 200.9 496.7 203 498.7 205.4 500.1 207.9 501.5 211.6 502.4 215.5 501.6 219.7 499.7 224.5 495.8 228.7 490.3 232.9 488.8 235 488 237.8 488.3 239.2 489.2 240.6 491.1 242.1 493.2 243.1 497.3 243.7 507.8 242.4 519.1 239.8M451.1 245.3 455.5 245.6 464.6 247.8 468.8 248.3 472.9 248 482 245.7 485.5 245.2 489.7 245.4 498.7 247.7 502.9 248.3 507.8 248 514.7 246.2M479.2 200.8 482.7 200.2 486.2 200.4 489.7 201.2 492.5 202.6 495.3 204.6 497.5 207.1 499.4 210.6 500.5 214.1 500.7 216.2 500.4 219 499.4 222.4 498.3 224.5 494.3 228.7 489.5 232.2 486.9 234.5 485.5 235.2 483.4 235.2 481.3 234.4 472.2 227.6 469.7 224.5 468.6 221.7 467.7 218.3 467.4 215.5 467.6 212.7 468.4 209.9 469.6 207.8 471.5 205.4 473.6 203.5 476.4 201.9 479.2 200.8M457.4 251.6 464.6 253.4 469.4 253.9 473.6 253.5 482.7 251.2 487.6 250.9 491.1 251.3 500.8 253.7 504.3 253.9 507.3 253.7M481.3 202.1 484.8 201.9 487.6 202.4 490.4 203.4 493 205 495.3 207.1 497.2 209.9 498.4 212.7 499 215.5 499.1 218.3 498.5 221 497.7 223.1 496.4 225.2 494.4 227.3 491.8 229.4 488.3 231.6 485.5 232.6 482.7 232.6 480.6 232.1 477.8 230.6 474.2 228 470.9 224.5 469.5 221 468.9 218.3 468.7 215.5 469 213.4 470 210.6 471.5 208 473.6 205.8 475.7 204.2 478.4 202.9 480.8 202.2M471.3 259.4 482 256.9 486.2 256.4 491.1 256.9 498 258.7M482.7 203.6 485.5 203.6 487.6 204.1 490.4 205.2 492.5 206.6 494.3 208.5 496 210.9 496.9 213.4 497.5 216.2 497.4 219 497 221 496.1 223.1 494.6 225.5 492.5 227.5 489.7 229.4 487.6 230.4 484.8 230.9 482 230.8 479.9 230.3 475 227.3 472 223.8 470.8 221 470.2 218.3 470.1 216.1 470.6 213.4 471.8 210.6 473.2 208.5 475 206.7 477.1 205.3 479.9 204.1 482.3 203.6M480.6 205.6 482.7 205.2 485.5 205.3 487.6 205.8 489.7 206.7 491.8 208.2 493.4 209.9 494.6 212 495.4 214.1 495.8 216.2 495.7 219 495.2 221 494.3 223.1 492.8 225.2 491.3 226.6 489 228.1 486.9 228.9 484.8 229.3 482 229.2 479.9 228.7 477.8 227.6 475.7 226.1 474.2 224.5 472.9 222.5 472.1 220.3 471.7 217.6 471.9 215.5 472.4 213.4 473.3 211.3 474.8 209.2 476.3 207.8 478.5 206.4 480.3 205.7M482.7 207.1 484.8 207.1 486.9 207.5 490.1 209.2 492.6 212 493.5 214.1 494 216.2 494 218.3 493.5 220.3 491.8 223.6 489 226.1 486.9 227 484.8 227.4 482.7 227.4 480.6 227 477.4 225.2 475 222.4 474 220.3 473.6 218.3 473.6 216.2 474.1 214.1 475.7 211 478.5 208.5 480.6 207.5 482.5 207.1M481.3 209.8 484.1 209.4 486.9 210 489.7 212 491.1 214.2 491.7 217.6 491.1 220.3 489.1 223.1 486.9 224.5 484.1 225.1 480.7 224.5 478.5 223.1 476.5 220.3 475.9 216.9 476.6 214.1 478.5 211.4 480.9 209.9" fill="none" stroke="#2a2a2a" stroke-opacity="0.55" stroke-width="0.45"/>
</g>
<circle cx="483.40" cy="220.35" r="38.75" fill="none" stroke="#333" stroke-width="1"/>
<path d="M476.6 181.8 L483.4 175.3 L490.2 181.8 Z" fill="none" stroke="#333" stroke-width="0.9" stroke-linejoin="miter"/>
<path d="M444.9 213.5 L442.2 213.5 Q440.8 213.5 440.8 215.5 L440.8 228.4 Q440.8 230.9 442.6 230.9 L444.9 230.9" fill="none" stroke="#555" stroke-width="0.9"/>
<path d="M521.9 213.5 L524.5 213.5 Q526.0 213.5 526.0 215.5 L526.0 228.4 Q526.0 230.9 524.2 230.9 L521.9 230.9" fill="none" stroke="#555" stroke-width="0.9"/>
<clipPath id="clip_m5"><circle cx="356.00" cy="344.35" r="38.75"/></clipPath>
<g clip-path="url(#clip_m5)">
<rect x="316.2" y="304.6" width="79.5" height="79.5" fill="#3f29b1"/>
<path d="M349 303.9 363 303.9 363.7 304.6 365.8 304.6 366.5 305.3 368.6 305.3 369.3 306 370.6 306 372.7 307.4 373.4 307.4 374.1 308.1 374.8 308.1 375.5 308.8 376.2 308.8 376.9 309.5 377.6 309.5 379 310.9 379.7 310.9 382.5 313.7 383.2 313.7 386.7 317.1 386.7 317.8 389.5 320.6 389.5 321.3 390.9 322.7 390.9 323.4 391.6 324.1 391.6 324.8 392.3 325.5 392.3 326.2 393 326.9 393 327.6 394.4 329.7 394.4 331.1 395.1 331.8 395.1 333.9 395.8 334.6 395.8 336.7 396.5 337.4 396.5 351.3 395.8 352 395.8 354.1 395.1 354.8 395.1 356.9 394.4 357.6 394.4 359 393 361.1 393 361.8 392.3 362.5 392.3 363.2 391.6 363.9 391.6 364.6 390.9 365.3 390.9 366 389.5 367.4 389.5 368.1 386.7 370.9 386.7 371.6 383.2 375 382.5 375 379.7 377.8 379 377.8 377.6 379.2 376.9 379.2 376.2 379.9 375.5 379.9 374.8 380.6 374.1 380.6 373.4 381.3 372.7 381.3 370.6 382.7 369.3 382.7 368.6 383.4 366.5 383.4 365.8 384.1 363.7 384.1 363 384.8 349 384.8 348.3 384.1 346.2 384.1 345.5 383.4 343.4 383.4 342.7 382.7 341.4 382.7 339.3 381.3 338.6 381.3 337.9 380.6 337.2 380.6 336.5 379.9 335.8 379.9 335.1 379.2 334.4 379.2 333 377.8 332.3 377.8 329.5 375 328.6 374.8 330.2 375 331.6 374.7 333.7 373.3 334.4 372.3 334.7 370.9 334.1 368.8 333 367.6 331.6 367 328.8 366.9 326.4 368.1 325.4 369.5 325.1 370.6 322.5 368.1 322.5 367.4 321.1 366 321.1 365.3 320.4 364.6 320.4 363.9 319.7 363.2 319.7 362.5 319 361.8 319 361.1 317.6 359 317.6 357.6 316.9 356.9 316.9 354.8 316.2 354.1 316.2 352 315.5 351.3 315.5 337.4 316.2 336.7 316.2 334.6 316.9 333.9 316.9 331.8 317.6 331.1 317.6 329.7 319 327.6 319 326.9 319.7 326.2 319.7 325.5 320.4 324.8 320.4 324.1 321.1 323.4 321.1 322.7 322.5 321.3 322.5 320.6 325.3 317.8 325.3 317.1 328.8 313.7 329.5 313.7 332.3 310.9 333 310.9 334.4 309.5 335.1 309.5 335.8 308.8 336.5 308.8 337.2 308.1 337.9 308.1 338.6 307.4 339.3 307.4 341.4 306 342.7 306 343.4 305.3 345.5 305.3 346.2 304.6 348.3 304.6Z" fill="#4230c4"/>
<path d="M349 303.9 363 303.9 363.7 304.6 365.8 304.6 366.5 305.3 368.6 305.3 369.3 306 370.6 306 372.7 307.4 373.4 307.4 374.1 308.1 374.8 308.1 375.5 308.8 376.2 308.8 376.9 309.5 377.6 309.5 379 310.9 379.7 310.9 382.5 313.7 383.2 313.7 386.7 317.1 386.7 317.8 389.5 320.6 389.5 321.3 390.9 322.7 390.9 323.4 391.6 324.1 391.6 324.8 392.3 325.5 392.3 326.2 393 326.9 393 327.6 394.4 329.7 394.4 331.1 395.1 331.8 395.1 333.9 395.8 334.6 395.8 336.7 396.5 337.4 396.5 351.3 395.8 352 395.8 354.1 395.1 354.8 395.1 356.9 394.4 357.6 394.4 359 393 361.1 393 361.8 392.3 362.5 392.3 363.2 391.6 363.9 391.6 364.6 390.9 365.3 390.9 366 389.5 367.4 389.5 368.1 386.7 370.9 386.7 371.6 383.2 375 382.5 375 379.7 377.8 379 377.8 377.6 379.2 376.9 379.2 376.2 379.9 375.5 379.9 374.8 380.6 374.1 380.6 373.4 381.3 372.7 381.3 370.6 382.7 369.3 382.7 368.6 383.4 366.5 383.4 365.8 384.1 363.7 384.1 363 384.8 349 384.8 348.3 384.1 346.2 384.1 345.5 383.4 343.4 383.4 342.7 382.7 341.4 382.7 339.3 381.3 338.6 381.3 337.9 380.6 337.2 380.6 336.5 379.9 335.8 379.9 335.1 379.2 334.4 379.2 333 377.8 332.3 377.8 331.7 377.2 333.7 376.5 335.1 375.7 336.4 374.3 337.2 372.9 337.7 370.2 336.6 367.4 335.2 366 333.7 365 331.6 364.4 329.5 364.3 327.4 364.7 325.3 365.7 323.9 366.9 322.8 368.4 322.5 368.1 322.5 367.4 321.1 366 321.1 365.3 320.4 364.6 320.4 363.9 319.7 363.2 319.7 362.5 319 361.8 319 361.1 317.6 359 317.6 357.6 316.9 356.9 316.9 354.8 316.2 354.1 316.2 352 315.5 351.3 315.5 337.4 316.2 336.7 316.2 334.6 316.9 333.9 316.9 331.8 317.6 331.1 317.6 329.7 319 327.6 319 326.9 319.7 326.2 319.7 325.5 320.4 324.8 320.4 324.1 321.1 323.4 321.1 322.7 322.5 321.3 322.5 320.6 325.3 317.8 325.3 317.1 328.8 313.7 329.5 313.7 332.3 310.9 333 310.9 334.4 309.5 335.1 309.5 335.8 308.8 336.5 308.8 337.2 308.1 337.9 308.1 338.6 307.4 339.3 307.4 341.4 306 342.7 306 343.4 305.3 345.5 305.3 346.2 304.6 348.3 304.6ZM360.5 322.7 359.2 324.1 359.2 325.5 359.7 326.2 360.9 326.9 362.3 327.1 363.7 326.9 365.1 326 365.6 324.8 365 323.4 363 322.4 360.9 322.6Z" fill="#4536d5"/>
<path d="M349 303.9 363 303.9 363.7 304.6 365.8 304.6 366.5 305.3 368.6 305.3 369.3 306 370.6 306 372.7 307.4 373.4 307.4 374.1 308.1 374.8 308.1 375.5 308.8 376.2 308.8 376.9 309.5 377.6 309.5 379 310.9 379.7 310.9 382.5 313.7 383.2 313.7 386.7 317.1 386.7 317.8 389.5 320.6 389.5 321.3 390.9 322.7 390.9 323.4 391.6 324.1 391.6 324.8 392.3 325.5 392.3 326.2 393 326.9 393 327.6 394.4 329.7 394.4 331.1 395.1 331.8 395.1 333.9 395.8 334.6 395.8 336.7 396.5 337.4 396.5 351.3 395.8 352 395.8 354.1 395.1 354.8 395.1 356.9 394.4 357.6 394.4 359 393 361.1 393 361.8 392.3 362.5 392.3 363.2 391.6 363.9 391.6 364.6 390.9 365.3 390.9 366 389.5 367.4 389.5 368.1 386.7 370.9 386.7 371.6 383.2 375 382.5 375 379.7 377.8 379 377.8 377.6 379.2 376.9 379.2 376.2 379.9 375.5 379.9 374.8 380.6 374.1 380.6 373.4 381.3 372.7 381.3 370.6 382.7 369.3 382.7 368.6 383.4 366.5 383.4 365.8 384.1 363.7 384.1 363 384.8 349 384.8 348.3 384.1 346.2 384.1 345.5 383.4 343.4 383.4 342.7 382.7 341.4 382.7 339.3 381.3 338.6 381.3 337.9 380.6 337.2 380.6 336.5 379.9 335.8 379.9 335.1 379.2 334.4 379.2 333.6 378.5 335.8 377.4 337.2 376.3 338.6 374.7 339.4 372.9 339.8 370.9 339.7 369.5 338.4 366.7 337.2 365.2 335.1 363.7 333 362.9 330.2 362.6 327.4 363 325.3 363.8 323.2 365.1 321.7 366.6 321.1 366 321.1 365.3 320.4 364.6 320.4 363.9 319.7 363.2 319.7 362.5 319 361.8 319 361.1 318.3 360.4 318.3 359.7 317.6 359 317.6 357.6 316.9 356.9 316.9 354.8 316.2 354.1 316.2 352 315.5 351.3 315.5 337.4 316.2 336.7 316.2 334.6 316.9 333.9 316.9 331.8 317.6 331.1 317.6 329.7 319 327.6 319 326.9 319.7 326.2 319.7 325.5 320.4 324.8 320.4 324.1 321.1 323.4 321.1 322.7 322.5 321.3 322.5 320.6 325.3 317.8 325.3 317.1 328.8 313.7 329.5 313.7 332.3 310.9 333 310.9 334.4 309.5 335.1 309.5 335.8 308.8 336.5 308.8 337.2 308.1 337.9 308.1 338.6 307.4 339.3 307.4 341.4 306 342.7 306 343.4 305.3 345.5 305.3 346.2 304.6 348.3 304.6ZM360.6 320.6 358.1 321.8 356.9 323.4 356.6 325.5 357.4 327.2 359.5 328.5 362.3 329 365.1 328.5 367.2 327.4 368 326.2 368.3 324.8 367.4 322.7 365.8 321.4 364.4 320.8 360.9 320.6Z" fill="#473fe2"/>
<path d="M349 303.9 363 303.9 363.7 304.6 365.8 304.6 366.5 305.3 368.6 305.3 369.3 306 370.6 306 372.7 307.4 373.4 307.4 374.1 308.1 374.8 308.1 375.5 308.8 376.2 308.8 376.9 309.5 377.6 309.5 379 310.9 379.7 310.9 382.5 313.7 383.2 313.7 386.7 317.1 386.7 317.8 389.5 320.6 389.5 321.3 390.9 322.7 390.9 323.4 391.6 324.1 391.6 324.8 392.3 325.5 392.3 326.2 393 326.9 393 327.6 394.4 329.7 394.4 331.1 395.1 331.8 395.1 333.9 395.8 334.6 395.8 336.7 396.5 337.4 396.5 351.3 395.8 352 395.8 354.1 395.1 354.8 395.1 356.9 394.4 357.6 394.4 359 393 361.1 393 361.8 392.3 362.5 392.3 363.2 391.6 363.9 391.6 364.6 390.9 365.3 390.9 366 389.5 367.4 389.5 368.1 386.7 370.9 386.7 371.6 383.2 375 382.5 375 379.7 377.8 379 377.8 377.6 379.2 376.9 379.2 376.2 379.9 375.5 379.9 374.8 380.6 374.1 380.6 373.4 381.3 372.7 381.3 370.6 382.7 369.3 382.7 368.6 383.4 366.5 383.4 365.8 384.1 363.7 384.1 363 384.8 349 384.8 348.3 384.1 346.2 384.1 345.5 383.4 343.4 383.4 342.7 382.7 341.4 382.7 339.3 381.3 338.6 381.3 337.9 380.6 337.2 380.6 336.5 379.9 335.8 379.9 335.2 379.4 337.2 378.3 339.3 376.4 340.3 375 341.3 372.9 341.6 370.9 341.5 369.5 340 366 338 363.9 335.9 362.5 333.7 361.6 330.9 361.2 328.1 361.4 325.3 362.2 323.2 363.3 321 365.2 320.4 364.6 320.4 363.9 319.7 363.2 319.7 362.5 319 361.8 319 361.1 318.3 360.4 318.3 359.7 317.6 359 317.6 357.6 316.9 356.9 316.9 354.8 316.2 354.1 316.2 352 315.5 351.3 315.5 337.4 316.2 336.7 316.2 334.6 316.9 333.9 316.9 331.8 317.6 331.1 317.6 329.7 319 327.6 319 326.9 319.7 326.2 319.7 325.5 320.4 324.8 320.4 324.1 321.1 323.4 321.1 322.7 322.5 321.3 322.5 320.6 325.3 317.8 325.3 317.1 328.8 313.7 329.5 313.7 332.3 310.9 333 310.9 334.4 309.5 335.1 309.5 335.8 308.8 336.5 308.8 337.2 308.1 337.9 308.1 338.6 307.4 339.3 307.4 341.4 306 342.7 306 343.4 305.3 345.5 305.3 346.2 304.6 348.3 304.6ZM361.6 319.2 358.7 319.9 357.4 320.7 356 322.1 355.3 323.4 355 324.8 355.2 326.2 355.8 327.6 358.1 329.4 360.9 330.1 364.4 330.1 367.9 328.8 369.2 327.6 370 326.2 370 324.1 369.4 322.7 367.9 321.1 365.8 319.9 363.7 319.4 361.6 319.2Z" fill="#4747ec"/>
<path d="M349 303.9 363 303.9 363.7 304.6 365.8 304.6 366.5 305.3 368.6 305.3 369.3 306 370.6 306 372.7 307.4 373.4 307.4 374.1 308.1 374.8 308.1 375.5 308.8 376.2 308.8 376.9 309.5 377.6 309.5 379 310.9 379.7 310.9 382.5 313.7 383.2 313.7 386.7 317.1 386.7 317.8 389.5 320.6 389.5 321.3 390.9 322.7 390.9 323.4 391.6 324.1 391.6 324.8 392.3 325.5 392.3 326.2 393 326.9 393 327.6 394.4 329.7 394.4 331.1 395.1 331.8 395.1 333.9 395.8 334.6 395.8 336.7 396.5 337.4 396.5 351.3 395.8 352 395.8 354.1 395.1 354.8 395.1 356.9 394.4 357.6 394.4 359 393 361.1 393 361.8 392.3 362.5 392.3 363.2 391.6 363.9 391.6 364.6 390.9 365.3 390.9 366 389.5 367.4 389.5 368.1 386.7 370.9 386.7 371.6 383.2 375 382.5 375 379.7 377.8 379 377.8 377.6 379.2 376.9 379.2 376.2 379.9 375.5 379.9 374.8 380.6 374.1 380.6 373.4 381.3 372.7 381.3 370.6 382.7 369.3 382.7 368.6 383.4 366.5 383.4 365.8 384.1 363.7 384.1 363 384.8 349 384.8 348.3 384.1 346.2 384.1 345.5 383.4 343.4 383.4 342.7 382.7 341.4 382.7 339.3 381.3 338.6 381.3 337.9 380.6 337.2 380.6 336.7 380.2 338.6 379 340.6 377.1 342.1 375 343 372.9 343.4 370.9 343.2 369.5 342.6 367.4 341.3 365.3 339.3 363.2 337.2 361.7 334.4 360.5 331.6 360 328.1 360.2 325.3 361 322.5 362.3 320.4 363.9 319 361.8 319 361.1 318.3 360.4 318.3 359.7 317.6 359 317.6 357.6 316.9 356.9 316.9 354.8 316.2 354.1 316.2 352 315.5 351.3 315.5 337.4 316.2 336.7 316.2 334.6 316.9 333.9 316.9 331.8 317.6 331.1 317.6 329.7 319 327.6 319 326.9 319.7 326.2 319.7 325.5 320.4 324.8 320.4 324.1 321.1 323.4 321.1 322.7 322.5 321.3 322.5 320.6 325.3 317.8 325.3 317.1 328.8 313.7 329.5 313.7 332.3 310.9 333 310.9 334.4 309.5 335.1 309.5 335.8 308.8 336.5 308.8 337.2 308.1 337.9 308.1 338.6 307.4 339.3 307.4 341.4 306 342.7 306 343.4 305.3 345.5 305.3 346.2 304.6 348.3 304.6ZM359.5 318.5 356.6 319.9 355.2 321.3 354.3 322.7 353.9 324.1 353.9 326.2 354.4 327.6 355.5 329 356.7 329.9 358.8 330.8 363 331.2 367.2 330.4 368.6 329.7 370.4 328.3 371.3 326.9 371.6 324.8 371 322.7 369.9 321.3 367.9 319.7 365.1 318.6 362.3 318.2 360.2 318.4Z" fill="#4850f3"/>
<path d="M349 303.9 363 303.9 363.7 304.6 365.8 304.6 366.5 305.3 368.6 305.3 369.3 306 370.6 306 372.7 307.4 373.4 307.4 374.1 308.1 374.8 308.1 375.5 308.8 376.2 308.8 376.9 309.5 377.6 309.5 379 310.9 379.7 310.9 382.5 313.7 383.2 313.7 386.7 317.1 386.7 317.8 389.5 320.6 389.5 321.3 390.9 322.7 390.9 323.4 391.6 324.1 391.6 324.8 392.3 325.5 392.3 326.2 393 326.9 393 327.6 394.4 329.7 394.4 331.1 395.1 331.8 395.1 333.9 395.8 334.6 395.8 336.7 396.5 337.4 396.5 351.3 395.8 352 395.8 354.1 395.1 354.8 395.1 356.9 394.4 357.6 394.4 359 393 361.1 393 361.8 392.3 362.5 392.3 363.2 391.6 363.9 391.6 364.6 390.9 365.3 390.9 366 389.5 367.4 389.5 368.1 386.7 370.9 386.7 371.6 383.2 375 382.5 375 379.7 377.8 379 377.8 377.6 379.2 376.9 379.2 376.2 379.9 375.5 379.9 374.8 380.6 374.1 380.6 373.4 381.3 372.7 381.3 370.6 382.7 369.3 382.7 368.6 383.4 366.5 383.4 365.8 384.1 363.7 384.1 363 384.8 349 384.8 348.3 384.1 346.2 384.1 345.5 383.4 343.4 383.4 342.7 382.7 341.4 382.7 339.3 381.3 338.6 381.3 338.1 380.8 340.7 378.9 342.9 376.4 344.2 374.3 345 372.3 345.1 370.9 344.8 368.8 342.7 364.9 340.5 362.5 337.9 360.6 335.1 359.4 332.3 358.9 328.8 358.9 325.6 359.7 322.4 361.1 319.7 362.9 319.7 362.5 319 361.8 319 361.1 318.3 360.4 318.3 359.7 317.6 359 317.6 357.6 316.9 356.9 316.9 354.8 316.2 354.1 316.2 352 315.5 351.3 315.5 337.4 316.2 336.7 316.2 334.6 316.9 333.9 316.9 331.8 317.6 331.1 317.6 329.7 319 327.6 319 326.9 319.7 326.2 319.7 325.5 320.4 324.8 320.4 324.1 321.1 323.4 321.1 322.7 322.5 321.3 322.5 320.6 325.3 317.8 325.3 317.1 328.8 313.7 329.5 313.7 332.3 310.9 333 310.9 334.4 309.5 335.1 309.5 335.8 308.8 336.5 308.8 337.2 308.1 337.9 308.1 338.6 307.4 339.3 307.4 341.4 306 342.7 306 343.4 305.3 345.5 305.3 346.2 304.6 348.3 304.6ZM358.7 317.8 356.7 318.8 355.2 319.9 353.9 321.5 353 323.4 352.8 325.5 353 326.9 353.9 328.7 355.3 330.1 357 331.1 359.2 331.8 361.6 332.1 364.4 332 367.2 331.4 369.3 330.5 371.9 328.3 372.9 326.2 372.9 324.1 371.9 322 370 319.9 367.2 318.3 364.4 317.5 361.6 317.3 358.8 317.8ZM366 369.5 364.9 370.2 364.6 370.9 364.8 371.6 365.8 372.3 368.6 372.8 370.4 372.3 371.1 371.6 371.2 370.9 370.9 370.2 369.8 369.5 367.9 369.2 366.5 369.3Z" fill="#4759f8"/>
<path d="M349 303.9 363 303.9 363.7 304.6 365.8 304.6 366.5 305.3 368.6 305.3 369.3 306 370.6 306 372.7 307.4 373.4 307.4 374.1 308.1 374.8 308.1 375.5 308.8 376.2 308.8 376.9 309.5 377.6 309.5 379 310.9 379.7 310.9 382.5 313.7 383.2 313.7 386.7 317.1 386.7 317.8 389.5 320.6 389.5 321.3 390.9 322.7 390.9 323.4 391.6 324.1 391.6 324.8 392.3 325.5 392.3 326.2 393 326.9 393 327.6 394.4 329.7 394.4 331.1 395.1 331.8 395.1 333.9 395.8 334.6 395.8 336.7 396.5 337.4 396.5 351.3 395.8 352 395.8 354.1 395.1 354.8 395.1 356.9 394.4 357.6 394.4 359 393 361.1 393 361.8 392.3 362.5 392.3 363.2 391.6 363.9 391.6 364.6 390.9 365.3 390.9 366 389.5 367.4 389.5 368.1 386.7 370.9 386.7 371.6 383.2 375 382.5 375 379.7 377.8 379 377.8 377.6 379.2 376.9 379.2 376.2 379.9 375.5 379.9 374.8 380.6 374.1 380.6 373.4 381.3 372.7 381.3 370.6 382.7 369.3 382.7 368.6 383.4 366.5 383.4 365.8 384.1 363.7 384.1 363 384.8 349 384.8 348.3 384.1 346.2 384.1 345.5 383.4 343.4 383.4 342.7 382.7 341.4 382.7 340.7 382 340 382 339.4 381.4 342.1 379.4 344.1 377.1 346 374.3 346.9 372.3 347.1 370.9 346.7 368.8 344.2 364.6 341.5 361.8 338.6 359.7 335.8 358.4 333 357.8 329.5 357.8 326 358.5 322.5 359.9 319.2 362 319 361.1 318.3 360.4 318.3 359.7 317.6 359 317.6 357.6 316.9 356.9 316.9 354.8 316.2 354.1 316.2 352 315.5 351.3 315.5 337.4 316.2 336.7 316.2 334.6 316.9 333.9 316.9 331.8 317.6 331.1 317.6 329.7 319 327.6 319 326.9 319.7 326.2 319.7 325.5 320.4 324.8 320.4 324.1 321.1 323.4 321.1 322.7 322.5 321.3 322.5 320.6 325.3 317.8 325.3 317.1 328.8 313.7 329.5 313.7 332.3 310.9 333 310.9 334.4 309.5 335.1 309.5 335.8 308.8 336.5 308.8 337.2 308.1 337.9 308.1 338.6 307.4 339.3 307.4 341.4 306 342.7 306 343.4 305.3 345.5 305.3 346.2 304.6 348.3 304.6ZM362.2 316.5 359.5 316.8 356.6 317.8 354 319.9 352.5 322.3 352 324.1 351.9 326.2 352.5 328.3 354 330.4 353.5 331.8 353.4 333.2 353.9 334.2 354.6 334.8 355.3 334.9 356.3 334.6 357.7 332.5 358.1 332.4 360.9 332.8 363.7 332.9 368.6 331.8 372 329.8 373.7 327.6 374.2 325.5 373.9 323.4 372.8 321.3 371.5 319.9 369.7 318.5 367.2 317.3 365.1 316.7 362.3 316.4ZM365.7 367.4 362.3 368.7 360.9 370.2 360.9 371.5 361.3 372.3 363.2 373.6 366.5 374.6 369.9 374.7 372.7 373.8 374.5 372.3 374.8 371 374.7 370.2 373.7 368.8 372.7 368.1 369.3 367.2 365.8 367.4Z" fill="#4562fc"/>
<path d="M349 303.9 363 303.9 363.7 304.6 365.8 304.6 366.5 305.3 368.6 305.3 369.3 306 370.6 306 372.7 307.4 373.4 307.4 374.1 308.1 374.8 308.1 375.5 308.8 376.2 308.8 376.9 309.5 377.6 309.5 379 310.9 379.7 310.9 382.5 313.7 383.2 313.7 386.7 317.1 386.7 317.8 389.5 320.6 389.5 321.3 390.9 322.7 390.9 323.4 391.6 324.1 391.6 324.8 392.3 325.5 392.3 326.2 393 326.9 393 327.6 394.4 329.7 394.4 331.1 395.1 331.8 395.1 333.9 395.8 334.6 395.8 336.7 396.5 337.4 396.5 351.3 395.8 352 395.8 354.1 395.1 354.8 395.1 356.9 394.4 357.6 394.4 359 393 361.1 393 361.8 392.3 362.5 392.3 363.2 391.6 363.9 391.6 364.6 390.9 365.3 390.9 366 389.5 367.4 389.5 368.1 386.7 370.9 386.7 371.6 383.2 375 382.5 375 379.7 377.8 379 377.8 377.6 379.2 376.9 379.2 376.2 379.9 375.5 379.9 374.8 380.6 374.1 380.6 373.4 381.3 372.7 381.3 370.6 382.7 369.3 382.7 368.6 383.4 366.5 383.4 365.8 384.1 363.7 384.1 363 384.8 349 384.8 348.3 384.1 346.2 384.1 345.5 383.4 343.4 383.4 342.7 382.7 341.4 382.7 340.7 382 343.3 379.9 345.9 377.1 348.5 373.6 349.5 371.6 349.3 369.5 346.5 365.3 343.3 361.8 340.7 359.6 337.2 357.7 334.1 356.9 330.2 356.7 326.7 357.3 322.5 358.8 318.9 360.9 318.3 360.4 318.3 359.7 317.6 359 317.6 357.6 316.9 356.9 316.9 354.8 316.2 354.1 316.2 352 315.5 351.3 315.5 337.4 316.2 336.7 316.2 334.6 316.9 333.9 316.9 331.8 317.6 331.1 317.6 329.7 319 327.6 319 326.9 319.7 326.2 319.7 325.5 320.4 324.8 320.4 324.1 321.1 323.4 321.1 322.7 322.5 321.3 322.5 320.6 325.3 317.8 325.3 317.1 328.8 313.7 329.5 313.7 332.3 310.9 333 310.9 334.4 309.5 335.1 309.5 335.8 308.8 336.5 308.8 337.2 308.1 337.9 308.1 338.6 307.4 339.3 307.4 341.4 306 342.7 306 343.4 305.3 345.5 305.3 346.2 304.6 348.3 304.6ZM360.6 315.8 357.4 316.6 354.6 318.3 352.5 320.6 351.3 323.4 351.2 326.9 352.5 330.4 352 332.5 352.1 333.9 353.2 336 354.6 336.7 356.7 336.3 357.9 335.3 358.8 333.7 359.5 333.5 365.1 333.5 367.9 332.9 370.6 331.9 373.7 329.7 375.3 326.9 375.4 324.8 374.8 322.7 373.5 320.6 371.3 318.6 368.9 317.1 366.5 316.2 363.7 315.7 360.9 315.7ZM366.7 366 362.3 367 358.8 368.8 357.6 370.2 357.6 371.6 358 372.3 359.7 373.6 362.3 374.9 365.1 375.7 367.9 376 370.6 375.9 372.7 375.4 374.8 374.3 376.2 372.9 376.8 371.6 376.8 370.2 375.5 368.1 374.1 367.2 372 366.4 369.9 366 367.2 365.9Z" fill="#416bfe"/>
<path d="M349 303.9 363 303.9 363.7 304.6 365.8 304.6 366.5 305.3 368.6 305.3 369.3 306 370.6 306 372.7 307.4 373.4 307.4 374.1 308.1 374.8 308.1 375.5 308.8 376.2 308.8 376.9 309.5 377.6 309.5 379 310.9 379.7 310.9 382.5 313.7 383.2 313.7 386.7 317.1 386.7 317.8 389.5 320.6 389.5 321.3 390.9 322.7 390.9 323.4 391.6 324.1 391.6 324.8 392.3 325.5 392.3 326.2 393 326.9 393 327.6 394.4 329.7 394.4 331.1 395.1 331.8 395.1 333.9 395.8 334.6 395.8 336.7 396.5 337.4 396.5 351.3 395.8 352 395.8 354.1 395.1 354.8 395.1 356.9 394.4 357.6 394.4 359 393 361.1 393 361.8 392.3 362.5 392.3 363.2 391.6 363.9 391.6 364.6 390.9 365.3 390.9 366 389.5 367.4 389.5 368.1 386.7 370.9 386.7 371.6 383.2 375 382.5 375 379.7 377.8 379 377.8 377.6 379.2 376.9 379.2 376.2 379.9 375.5 379.9 374.8 380.6 374.1 380.6 373.4 381.3 372.7 381.3 370.6 382.7 369.3 382.7 368.6 383.4 366.5 383.4 365.8 384.1 363.7 384.1 363 384.8 349 384.8 348.3 384.1 346.2 384.1 345.5 383.4 343.4 383.4 342.7 382.7 341.8 382.7 344.4 380.6 350.4 374.7 351.8 373.8 353.2 373.4 354.6 373.5 361.6 376 365.8 376.9 369.9 377 374.1 376 376.9 374.3 378.3 372.3 378.5 370.9 378.3 369.5 376.7 367.4 374.8 366.2 372.7 365.4 367.9 364.9 362.3 365.7 354.6 368.3 352.5 368.2 349.7 366.4 344.3 361.1 341.4 358.7 337.9 356.8 333.7 355.8 330.2 355.7 326 356.5 321.8 358.1 318.3 360.1 318.3 359.7 317.6 359 317.6 357.6 316.9 356.9 316.9 354.8 316.2 354.1 316.2 352 315.5 351.3 315.5 337.4 316.2 336.7 316.2 334.6 316.9 333.9 316.9 331.8 317.6 331.1 317.6 329.7 319 327.6 319 326.9 319.7 326.2 319.7 325.5 320.4 324.8 320.4 324.1 321.1 323.4 321.1 322.7 322.5 321.3 322.5 320.6 325.3 317.8 325.3 317.1 328.8 313.7 329.5 313.7 332.3 310.9 333 310.9 334.4 309.5 335.1 309.5 335.8 308.8 336.5 308.8 337.2 308.1 337.9 308.1 338.6 307.4 339.3 307.4 341.4 306 342.7 306 343.4 305.3 345.5 305.3 346.2 304.6 348.3 304.6ZM360.1 315.1 356.7 316.1 353.9 317.9 351.8 320.4 350.5 323.4 350.3 326.9 351.5 330.4 351 332.5 351.2 334.6 352.2 336.7 353.9 337.9 355.3 338 356.7 337.6 358.1 336.6 359.5 334.6 360.2 334.3 363 334.4 366.5 334 371.4 332.5 373.4 331.2 374.8 330 376 328.3 376.5 326.9 376.6 324.8 375.6 322 374.1 319.9 371.8 317.8 369.3 316.4 366.5 315.4 363 314.9 360.2 315Z" fill="#3875fe"/>
<path d="M349 303.9 363 303.9 363.7 304.6 365.8 304.6 366.5 305.3 368.6 305.3 369.3 306 370.6 306 372.7 307.4 373.4 307.4 374.1 308.1 374.8 308.1 375.5 308.8 376.2 308.8 376.9 309.5 377.6 309.5 379 310.9 379.7 310.9 382.5 313.7 383.2 313.7 386.7 317.1 386.7 317.8 389.5 320.6 389.5 321.3 390.9 322.7 390.9 323.4 391.6 324.1 391.6 324.8 392.3 325.5 392.3 326.2 393 326.9 393 327.6 394.4 329.7 394.4 331.1 395.1 331.8 395.1 333.9 395.8 334.6 395.8 336.7 396.5 337.4 396.5 351.3 395.8 352 395.8 354.1 395.1 354.8 395.1 356.9 394.4 357.6 394.4 359 393 361.1 393 361.8 392.3 362.5 392.3 363.2 391.6 363.9 391.6 364.6 390.9 365.3 390.9 366 389.5 367.4 389.5 368.1 386.7 370.9 386.7 371.6 383.2 375 382.5 375 379.7 377.8 379 377.8 377.6 379.2 376.9 379.2 376.2 379.9 375.5 379.9 374.8 380.6 374.1 380.6 373.4 381.3 372.7 381.3 370.6 382.7 369.3 382.7 368.6 383.4 366.5 383.4 365.8 384.1 363.7 384.1 363 384.8 349 384.8 348.3 384.1 346.2 384.1 345.5 383.4 343.2 383.2 349.7 377.6 351.8 376.3 353.2 375.8 356 375.8 363.7 377.6 367.9 378.1 372 377.7 375.5 376.6 378.6 374.3 379.6 372.9 380 371.6 380 370.2 379.5 368.8 377.7 366.7 374.1 364.9 369.3 364 363.7 364.4 355.3 366.1 352.5 365.8 349.7 364.3 344.1 359.4 341.4 357.3 337.9 355.6 334.4 354.8 330.2 354.8 326.4 355.5 321.8 357.1 317.9 359.2 317.6 357.6 316.9 356.9 316.9 354.8 316.2 354.1 316.2 352 315.5 351.3 315.5 337.4 316.2 336.7 316.2 334.6 316.9 333.9 316.9 331.8 317.6 331.1 317.6 329.7 319 327.6 319 326.9 319.7 326.2 319.7 325.5 320.4 324.8 320.4 324.1 321.1 323.4 321.1 322.7 322.5 321.3 322.5 320.6 325.3 317.8 325.3 317.1 328.8 313.7 329.5 313.7 332.3 310.9 333 310.9 334.4 309.5 335.1 309.5 335.8 308.8 336.5 308.8 337.2 308.1 337.9 308.1 338.6 307.4 339.3 307.4 341.4 306 342.7 306 343.4 305.3 345.5 305.3 346.2 304.6 348.3 304.6ZM359.6 314.4 356 315.6 353.2 317.7 351.1 320.3 349.8 323.4 349.6 326.9 350.6 330.4 350.2 333.2 350.4 335.3 351.8 337.7 353.9 339 356 339 357.4 338.4 358.8 337.2 360.2 335.2 367.2 334.6 372 333.1 375.5 330.7 376.9 329 377.5 327.6 377.8 325.5 377 322.7 375.2 319.9 372.7 317.5 369.9 315.7 366.5 314.5 363 314.1 360.2 314.3Z" fill="#307ffb"/>
<path d="M349 303.9 363 303.9 363.7 304.6 365.8 304.6 366.5 305.3 368.6 305.3 369.3 306 370.6 306 372.7 307.4 373.4 307.4 374.1 308.1 374.8 308.1 375.5 308.8 376.2 308.8 376.9 309.5 377.6 309.5 379 310.9 379.7 310.9 382.5 313.7 383.2 313.7 386.7 317.1 386.7 317.8 389.5 320.6 389.5 321.3 390.9 322.7 390.9 323.4 391.6 324.1 391.6 324.8 392.3 325.5 392.3 326.2 393 326.9 393 327.6 394.4 329.7 394.4 331.1 395.1 331.8 395.1 333.9 395.8 334.6 395.8 336.7 396.5 337.4 396.5 351.3 395.8 352 395.8 354.1 395.1 354.8 395.1 356.9 394.4 357.6 394.4 359 393 361.1 393 361.8 392.3 362.5 392.3 363.2 391.6 363.9 391.6 364.6 390.9 365.3 390.9 366 389.5 367.4 389.5 368.1 386.7 370.9 386.7 371.6 383.2 375 382.5 375 379.7 377.8 379 377.8 377.6 379.2 376.9 379.2 376.2 379.9 375.5 379.9 374.8 380.6 374.1 380.6 373.4 381.3 372.7 381.3 370.6 382.7 369.3 382.7 368.6 383.4 366.5 383.4 365.8 384.1 363.7 384.1 363 384.8 349 384.8 348.3 384.1 346.2 384.1 345.5 383.4 345 383.4 350.4 379 353.9 377.5 356.7 377.4 364.4 378.7 368.6 379 372.7 378.5 376.8 377.1 379.6 375 380.7 373.6 381.3 372.3 381.2 369.5 380.6 368.1 379.4 366.7 377.6 365.3 375.5 364.4 370.6 363.3 365.1 363.4 356 364.6 353.2 364.3 349.7 362.5 344.1 357.8 341.4 355.9 338.6 354.6 335.1 353.8 330.9 353.7 326.7 354.5 321.8 356.2 317.6 358.3 317.6 357.6 316.9 356.9 316.9 354.8 316.2 354.1 316.2 352 315.5 351.3 315.5 337.4 316.2 336.7 316.2 334.6 316.9 333.9 316.9 331.8 317.6 331.1 317.6 329.7 319 327.6 319 326.9 319.7 326.2 319.7 325.5 320.4 324.8 320.4 324.1 321.1 323.4 321.1 322.7 322.5 321.3 322.5 320.6 325.3 317.8 325.3 317.1 328.8 313.7 329.5 313.7 332.3 310.9 333 310.9 334.4 309.5 335.1 309.5 335.8 308.8 336.5 308.8 337.2 308.1 337.9 308.1 338.6 307.4 339.3 307.4 341.4 306 342.7 306 343.4 305.3 345.5 305.3 346.2 304.6 348.3 304.6ZM359.3 313.7 355.6 315.1 352.5 317.4 350.2 320.6 349 324.1 348.9 327.6 349.9 330.4 349.5 333.2 349.8 336 350.4 337.4 351.5 338.8 353.9 340 355.3 340.1 357.4 339.4 359.1 338.1 360.9 335.8 364.4 335.7 367.9 335.2 373.4 333.4 376.9 330.8 378.2 329 378.7 327.6 378.6 324.8 377.5 322 375.5 319.1 372.7 316.4 369.9 314.8 366.5 313.7 363 313.3 359.5 313.6Z" fill="#2d87f6"/>
<path d="M349 303.9 363 303.9 363.7 304.6 365.8 304.6 366.5 305.3 368.6 305.3 369.3 306 370.6 306 372.7 307.4 373.4 307.4 374.1 308.1 374.8 308.1 375.5 308.8 376.2 308.8 376.9 309.5 377.6 309.5 379 310.9 379.7 310.9 382.5 313.7 383.2 313.7 386.7 317.1 386.7 317.8 389.5 320.6 389.5 321.3 390.9 322.7 390.9 323.4 391.6 324.1 391.6 324.8 392.3 325.5 392.3 326.2 393 326.9 393 327.6 394.4 329.7 394.4 331.1 395.1 331.8 395.1 333.9 395.8 334.6 395.8 336.7 396.5 337.4 396.5 351.3 395.8 352 395.8 354.1 395.1 354.8 395.1 356.9 394.4 357.6 394.4 359 393 361.1 393 361.8 392.3 362.5 392.3 363.2 391.6 363.9 391.6 364.6 390.9 365.3 390.9 366 389.5 367.4 389.5 368.1 386.7 370.9 386.7 371.6 383.2 375 382.5 375 379.7 377.8 379 377.8 377.6 379.2 376.9 379.2 376.2 379.9 375.5 379.9 374.8 380.6 374.1 380.6 373.4 381.3 372.7 381.3 370.6 382.7 369.3 382.7 368.6 383.4 366.5 383.4 365.8 384.1 363.7 384.1 363 384.8 349 384.8 348.3 384.1 346.4 384.1 351.1 380.4 354.6 379 357.4 378.9 365.1 379.8 369.3 379.9 373.4 379.3 377.7 377.8 379.7 376.5 381.1 375.2 382.7 372.3 382.8 370.2 382.4 368.8 380.4 366 376.8 363.9 371.3 362.6 366.5 362.4 356.7 363.3 353.2 362.8 350.4 361.4 342.1 354.9 339.3 353.6 335.8 352.7 331.6 352.7 327.4 353.4 322.5 355 317.4 357.3 316.9 356.9 316.9 354.8 316.2 354.1 316.2 352 315.5 351.3 315.5 337.4 316.2 336.7 316.2 334.6 316.9 333.9 316.9 331.8 317.6 331.1 317.6 329.7 319 327.6 319 326.9 319.7 326.2 319.7 325.5 320.4 324.8 320.4 324.1 321.1 323.4 321.1 322.7 322.5 321.3 322.5 320.6 325.3 317.8 325.3 317.1 328.8 313.7 329.5 313.7 332.3 310.9 333 310.9 334.4 309.5 335.1 309.5 335.8 308.8 336.5 308.8 337.2 308.1 337.9 308.1 338.6 307.4 339.3 307.4 341.4 306 342.7 306 343.4 305.3 345.5 305.3 346.2 304.6 348.3 304.6ZM358.9 313 355.3 314.4 351.9 317.1 349.5 320.6 348.3 324.1 348.1 326.9 349 330.4 348.8 333.9 349.2 336.7 349.8 338.1 351.1 339.7 352.5 340.5 353.9 340.9 356 340.9 357.4 340.3 359.5 338.8 361.6 336.5 368.6 335.8 374.1 334 376.6 332.5 378.2 331.1 379.2 329.7 379.8 328.3 379.6 325.5 378.2 322 376.2 318.7 373.4 315.8 369.9 313.8 366.5 312.8 363 312.4 359.5 312.8Z" fill="#2c90f0"/>
<path d="M349 303.9 363 303.9 363.7 304.6 365.8 304.6 366.5 305.3 368.6 305.3 369.3 306 370.6 306 372.7 307.4 373.4 307.4 374.1 308.1 374.8 308.1 375.5 308.8 376.2 308.8 376.9 309.5 377.6 309.5 379 310.9 379.7 310.9 382.5 313.7 383.2 313.7 386.7 317.1 386.7 317.8 389.5 320.6 389.5 321.3 390.9 322.7 390.9 323.4 391.6 324.1 391.6 324.8 392.3 325.5 392.3 326.2 393 326.9 393 327.6 394.4 329.7 394.4 331.1 395.1 331.8 395.1 333.9 395.8 334.6 395.8 336.7 396.5 337.4 396.5 351.3 395.8 352 395.8 354.1 395.1 354.8 395.1 356.9 394.4 357.6 394.4 359 393 361.1 393 361.8 392.3 362.5 392.3 363.2 391.6 363.9 391.6 364.6 390.9 365.3 390.9 366 389.5 367.4 389.5 368.1 386.7 370.9 386.7 371.6 383.2 375 382.9 375 383.7 373.6 384.2 371.6 383.9 368.8 382 366 379.1 363.9 375.5 362.5 371.3 361.8 366.5 361.6 357.4 362.1 353.9 361.6 350.4 359.7 343.4 354.3 341.4 353.1 338.6 352.1 334.4 351.5 329.5 352 323.2 353.8 316.9 356.5 316.9 354.8 316.2 354.1 316.2 352 315.5 351.3 315.5 337.4 316.2 336.7 316.2 334.6 316.9 333.9 316.9 331.8 317.6 331.1 317.6 329.7 319 327.6 319 326.9 319.7 326.2 319.7 325.5 320.4 324.8 320.4 324.1 321.1 323.4 321.1 322.7 322.5 321.3 322.5 320.6 325.3 317.8 325.3 317.1 328.8 313.7 329.5 313.7 332.3 310.9 333 310.9 334.4 309.5 335.1 309.5 335.8 308.8 336.5 308.8 337.2 308.1 337.9 308.1 338.6 307.4 339.3 307.4 341.4 306 342.7 306 343.4 305.3 345.5 305.3 346.2 304.6 348.3 304.6ZM362.8 311.6 358.1 312.4 353.9 314.5 350.5 317.8 348.2 322 347.6 324.4 347.5 326.9 347.7 329 348.4 331.1 348.1 333.9 348.3 336.2 349.7 339.5 351.1 340.9 352.5 341.6 355.3 341.9 357.4 341.3 359.5 339.8 361.6 337.3 368.6 336.6 374.1 335 378.3 332.5 379.7 331.1 380.5 329.7 380.7 327.6 379.7 324 377.6 319.5 375.4 316.5 372.7 314.2 369.9 312.8 366.5 311.8 363 311.6ZM377.6 379 378 378.8 377.1 379.2ZM375.5 379.8 376.8 379.4 376.2 379.9 375.5 379.9 374.8 380.6 374.1 380.6 373.4 381.3 372.7 381.3 372 382 371.3 382 370.6 382.7 369.3 382.7 368.6 383.4 366.5 383.4 365.8 384.1 363.7 384.1 363 384.8 349 384.8 348.5 384.3 352.5 381.4 355.3 380.4 358.8 380.2 368.6 380.8 372 380.6 375.1 379.9Z" fill="#2798ea"/>
<path d="M349 303.9 363 303.9 363.7 304.6 365.8 304.6 366.5 305.3 368.6 305.3 369.3 306 370.6 306 372.7 307.4 373.4 307.4 374.1 308.1 374.8 308.1 375.5 308.8 376.2 308.8 376.9 309.5 377.6 309.5 379 310.9 379.7 310.9 382.5 313.7 383.2 313.7 386.7 317.1 386.7 317.8 389.5 320.6 389.5 321.3 390.9 322.7 390.9 323.4 391.6 324.1 391.6 324.8 392.3 325.5 392.3 326.2 393 326.9 393 327.6 394.4 329.7 394.4 331.1 395.1 331.8 395.1 333.9 395.8 334.6 395.8 336.7 396.5 337.4 396.5 351.3 395.8 352 395.8 354.1 395.1 354.8 395.1 356.9 394.4 357.6 394.4 359 393 361.1 393 361.8 392.3 362.5 392.3 363.2 391.6 363.9 391.6 364.6 390.9 365.3 390.9 366 389.5 367.4 389.5 368.1 386.7 370.9 386.7 371.6 385.6 372.7 385.8 370.2 384.8 367.4 382.5 364.8 379.7 363 376.2 361.8 372 361 367.2 360.8 358.8 361.1 354.6 360.4 351.1 358.5 344.1 353.1 341.4 351.6 339.3 350.9 335.1 350.4 330.2 351 323.9 352.7 316.9 355.5 316.9 354.8 316.2 354.1 316.2 352 315.5 351.3 315.5 337.4 316.2 336.7 316.2 334.6 316.9 333.9 316.9 331.8 317.6 331.1 317.6 329.7 319 327.6 319 326.9 319.7 326.2 319.7 325.5 320.4 324.8 320.4 324.1 321.1 323.4 321.1 322.7 322.5 321.3 322.5 320.6 325.3 317.8 325.3 317.1 328.8 313.7 329.5 313.7 332.3 310.9 333 310.9 334.4 309.5 335.1 309.5 335.8 308.8 336.5 308.8 337.2 308.1 337.9 308.1 338.6 307.4 339.3 307.4 341.4 306 342.7 306 343.4 305.3 345.5 305.3 346.2 304.6 348.3 304.6ZM360.7 310.9 356 312.4 352.2 315.1 349 319 347.2 323.4 346.8 327.6 347.7 331.8 347.4 334.6 347.8 337.4 348.6 339.5 349.7 341 351.1 342.2 352.5 342.7 355.3 342.8 357.4 342.2 359.5 340.8 362.3 338 369.3 337.2 375.5 335.4 379.7 332.9 380.8 331.8 381.5 330.4 381.2 326.9 379.7 322.5 377.6 317.9 375.5 315.1 372 312.6 368.6 311.2 364.4 310.6 360.9 310.8ZM356 381.9 358.8 381.6 367.9 381.9 372.5 381.5 372 382 371.3 382 370.6 382.7 369.3 382.7 368.6 383.4 366.5 383.4 365.8 384.1 363.7 384.1 363 384.8 350.5 384.8 353.2 383 355.6 382Z" fill="#249fe5"/>
<path d="M349 303.9 363 303.9 363.7 304.6 365.8 304.6 366.5 305.3 368.6 305.3 369.3 306 370.6 306 372.7 307.4 373.4 307.4 374.1 308.1 374.8 308.1 375.5 308.8 376.2 308.8 376.9 309.5 377.6 309.5 379 310.9 379.7 310.9 382.5 313.7 383.2 313.7 386.7 317.1 386.7 317.8 389.5 320.6 389.5 321.3 390.9 322.7 390.9 323.4 391.6 324.1 391.6 324.8 392.3 325.5 392.3 326.2 393 326.9 393 327.6 394.4 329.7 394.4 331.1 395.1 331.8 395.1 333.9 395.8 334.6 395.8 336.7 396.5 337.4 396.5 351.3 395.8 352 395.8 354.1 395.1 354.8 395.1 356.9 394.4 357.6 394.4 359 393 361.1 393 361.8 392.3 362.5 392.3 363.2 391.6 363.9 391.6 364.6 390.9 365.3 390.9 366 389.5 367.4 389.5 368.1 387.5 370.1 386.6 367.4 385.1 365.3 383.2 363.7 380.4 362.2 376.9 361 372.7 360.3 359.5 360 356 359.4 352.3 357.6 344.8 351.6 342.7 350.5 340 349.6 335.8 349.2 331.6 349.7 324.6 351.6 316.7 354.6 316.2 354.1 316.2 352 315.5 351.3 315.5 337.4 316.2 336.7 316.2 334.6 316.9 333.9 316.9 331.8 317.6 331.1 317.6 329.7 319 327.6 319 326.9 319.7 326.2 319.7 325.5 320.4 324.8 320.4 324.1 321.1 323.4 321.1 322.7 322.5 321.3 322.5 320.6 325.3 317.8 325.3 317.1 328.8 313.7 329.5 313.7 332.3 310.9 333 310.9 334.4 309.5 335.1 309.5 335.8 308.8 336.5 308.8 337.2 308.1 337.9 308.1 338.6 307.4 339.3 307.4 341.4 306 342.7 306 343.4 305.3 345.5 305.3 346.2 304.6 348.3 304.6ZM359.5 310.2 355.3 311.9 351.1 315.3 348.2 319.2 346.5 324.1 346.2 328.3 346.9 331.8 346.8 336 347.3 338.8 348.2 340.9 349.3 342.3 350.4 343.2 352.5 344 354.6 344 357.4 343.2 360.2 341.2 362.3 338.8 369.9 337.9 376.6 336 380.5 333.9 381.8 332.7 382.2 331.8 382.3 330.4 381.9 327.6 379.7 320.9 377.9 316.5 375.7 313.7 372.7 311.5 368.6 310 364.4 309.5 360.2 310ZM357.4 383.4 360.9 383 368.9 383.1 368.6 383.4 366.5 383.4 365.8 384.1 363.7 384.1 363 384.8 353.9 384.8 357.4 383.4Z" fill="#1ea7e1"/>
<path d="M349 303.9 363 303.9 363.7 304.6 365.8 304.6 366.5 305.3 368.6 305.3 369.3 306 370.6 306 372.7 307.4 373.4 307.4 374.1 308.1 374.8 308.1 375.5 308.8 376.2 308.8 376.9 309.5 377.6 309.5 379 310.9 379.7 310.9 382.5 313.7 383.2 313.7 386.7 317.1 386.7 317.8 389.5 320.6 389.5 321.3 390.9 322.7 390.9 323.4 391.6 324.1 391.6 324.8 392.3 325.5 392.3 326.2 393 326.9 393 327.6 394.4 329.7 394.4 331.1 395.1 331.8 395.1 333.9 395.8 334.6 395.8 336.7 396.5 337.4 396.5 351.3 395.8 352 395.8 354.1 395.1 354.8 395.1 356.9 394.4 357.6 394.4 359 393 361.1 393 361.8 392.3 362.5 392.3 363.2 391.6 363.9 391.6 364.6 390.9 365.3 390.9 366 389.5 367.4 389.2 368.3 388.4 366.7 386.8 364.6 384.6 362.9 381.8 361.4 378.3 360.3 374.1 359.5 360.9 358.9 356.7 358.2 353 356.2 345.5 349.6 343.4 348.6 341.4 348.1 337.2 347.9 331.6 348.7 324.6 350.7 316.2 353.8 316.2 352 315.5 351.3 315.5 337.4 316.2 336.7 316.2 334.6 316.9 333.9 316.9 331.8 317.6 331.1 317.6 329.7 319 327.6 319 326.9 319.7 326.2 319.7 325.5 320.4 324.8 320.4 324.1 321.1 323.4 321.1 322.7 322.5 321.3 322.5 320.6 325.3 317.8 325.3 317.1 328.8 313.7 329.5 313.7 332.3 310.9 333 310.9 334.4 309.5 335.1 309.5 335.8 308.8 336.5 308.8 337.2 308.1 337.9 308.1 338.6 307.4 339.3 307.4 341.4 306 342.7 306 343.4 305.3 345.5 305.3 346.2 304.6 348.3 304.6ZM360.7 308.8 358.1 309.6 355.3 311 351.1 314.4 348 318.5 346 323.4 345.5 328.3 346.2 332.5 346.1 336.7 346.5 339.5 347.2 341.6 348.3 343.6 349.7 344.8 351.1 345.4 353.9 345.4 357.4 344.2 360.2 342.3 363 339.6 371.3 338.5 377.9 336.7 381.8 334.7 382.9 333.2 383 331.1 382.5 328.3 379.6 317.8 378.5 315.1 376.9 312.9 374.1 310.6 369.9 308.8 365.8 308.2 360.9 308.7ZM361.6 384.8 363.1 384.7 361.4 384.8Z" fill="#18addb"/>
<path d="M349 303.9 363 303.9 363.7 304.6 365.8 304.6 366.5 305.3 368.6 305.3 369.3 306 370.6 306 372.7 307.4 373.4 307.4 374.1 308.1 374.8 308.1 375.5 308.8 376.2 308.8 376.9 309.5 377.6 309.5 379 310.9 379.7 310.9 382.5 313.7 383.2 313.7 385.3 315.8 386.7 317.1 386.7 317.8 389.5 320.6 389.5 321.3 390.9 322.7 390.9 323.4 391.6 324.1 391.6 324.8 392.3 325.5 392.3 326.2 393 326.9 393 327.6 394.4 329.7 394.4 331.1 395.1 331.8 395.1 333.9 395.8 334.6 395.8 336.7 396.5 337.4 396.5 351.3 395.8 352 395.8 354.1 395.1 354.8 395.1 356.9 394.4 357.6 394.4 359 393.7 359.7 393.7 360.4 393 361.1 393 361.8 392.3 362.5 392.3 363.2 391.6 363.9 391.6 364.6 390.9 365.3 390.9 365.7 389.3 363.9 386.7 362 383.9 360.6 381.1 359.7 374.1 358.5 361.6 357.8 357.7 356.9 355.3 355.7 353.4 354.1 351.6 352 350.6 349.9 350.5 349.2 351.1 348.3 358.1 345 360.9 342.9 363 340.6 369.9 339.7 376.2 338.4 381.5 336.7 382.8 336 383.4 335.3 383.8 333.2 383.4 330.4 381.3 322 380.3 316.5 379.4 313.7 377.6 310.9 375.5 309 372.7 307.5 369.9 306.8 367.2 306.5 364.4 306.6 361.6 307.2 358.1 308.5 355.3 310 352.5 312.1 350.4 314.2 348.3 316.9 346.1 321.3 344.9 326.2 344.8 329 345.4 333.2 345.3 337.4 345.7 343 345.5 344.4 344.8 345.4 343.4 345.9 337.2 346.5 333 347.3 316.2 352.8 316.2 352 315.5 351.3 315.5 337.4 316.2 336.7 316.2 334.6 316.9 333.9 316.9 331.8 317.6 331.1 317.6 329.7 319 327.6 319 326.9 319.7 326.2 319.7 325.5 320.4 324.8 320.4 324.1 321.1 323.4 321.1 322.7 322.5 321.3 322.5 320.6 325.3 317.8 325.3 317.1 328.8 313.7 329.5 313.7 332.3 310.9 333 310.9 334.4 309.5 335.1 309.5 335.8 308.8 336.5 308.8 337.2 308.1 337.9 308.1 338.6 307.4 339.3 307.4 341.4 306 342.7 306 343.4 305.3 345.5 305.3 346.2 304.6 348.3 304.6Z" fill="#0cb3d3"/>
<path d="M349 303.9 363 303.9 363.6 304.5 358.1 307.1 353.9 309.9 349.7 314 346.9 318.2 345.3 322 344.3 326.2 344.1 330.4 344.5 335.3 344.1 340.2 343.4 342.3 342.1 343.6 340.7 344.2 332.3 346.5 316.1 351.9 315.5 351.3 315.5 337.4 316.2 336.7 316.2 334.6 316.9 333.9 316.9 331.8 317.6 331.1 317.6 329.7 319 327.6 319 326.9 319.7 326.2 319.7 325.5 320.4 324.8 320.4 324.1 321.1 323.4 321.1 322.7 322.5 321.3 322.5 320.6 325.3 317.8 325.3 317.1 328.8 313.7 329.5 313.7 332.3 310.9 333 310.9 334.4 309.5 335.1 309.5 335.8 308.8 336.5 308.8 337.2 308.1 337.9 308.1 338.6 307.4 339.3 307.4 341.4 306 342.7 306 343.4 305.3 345.5 305.3 346.2 304.6 348.3 304.6ZM380.8 311.9 382.5 313.7 383.2 313.7 386.7 317.1 386.7 317.8 389.5 320.6 389.5 321.3 390.9 322.7 390.9 323.4 391.6 324.1 391.6 324.8 392.3 325.5 392.3 326.2 393 326.9 393 327.6 394.4 329.7 394.4 331.1 395.1 331.8 395.1 333.9 395.8 334.6 395.8 336.7 396.5 337.4 396.5 351.3 395.8 352 395.8 354.1 395.1 354.8 395.1 356.9 394.4 357.6 394.4 359 393.7 359.7 393.7 360.4 393 361.1 392.9 361.9 387.6 359.7 382.5 358.3 375.5 357.5 364.4 356.8 360.7 356.2 358.7 355.5 356.5 354.1 355.3 352.7 354.6 351.3 354.6 349.9 355.6 348.5 360.2 344.9 363.7 341.5 376.2 339.7 382.5 338.3 383.9 337.5 384.4 336 384.4 333.2 382 322.7 381.6 315.8 380.9 312.3Z" fill="#01b8c9"/>
<path d="M349 303.9 359.5 303.9 351.1 311.4 348.3 314.9 345.8 319.2 344.5 322.7 343.7 326.2 343.3 330.4 343.5 336 343 338.8 342.1 340.8 340.7 342.1 338.8 343 324.6 348.2 315.5 351.1 315.5 337.4 316.2 336.7 316.2 334.6 316.9 333.9 316.9 331.8 317.6 331.1 317.6 329.7 319 327.6 319 326.9 319.7 326.2 319.7 325.5 320.4 324.8 320.4 324.1 321.1 323.4 321.1 322.7 322.5 321.3 322.5 320.6 325.3 317.8 325.3 317.1 328.8 313.7 329.5 313.7 332.3 310.9 333 310.9 334.4 309.5 335.1 309.5 335.8 308.8 336.5 308.8 337.2 308.1 337.9 308.1 338.6 307.4 339.3 307.4 341.4 306 342.7 306 343.4 305.3 345.5 305.3 346.2 304.6 348.3 304.6ZM383.2 313.7 386.7 317.1 386.7 317.8 389.5 320.6 389.5 321.3 390.9 322.7 390.9 323.4 391.6 324.1 391.6 324.8 392.3 325.5 392.3 326.2 393 326.9 393 327.6 394.4 329.7 394.4 331.1 395.1 331.8 395.1 333.9 395.8 334.6 395.8 336.7 396.5 337.4 396.5 351.3 395.8 352 395.8 354.1 395.1 354.8 395.1 356.4 389.5 356.4 384.6 355.8 377.6 356.1 367.9 355.8 363.7 355.2 360.4 354.1 359.4 353.4 358.2 352 357.9 349.9 359.1 347.8 363.7 342.8 376.2 341.2 383.2 340.6 384.6 340.1 385.2 338.1 385.1 335.3 382.5 322 383.1 313.7Z" fill="#08bcbe"/>
<path d="M349 303.9 356.5 303.9 349 312.9 346.9 316 345.3 319.2 343.2 325.5 342 336.7 341.6 338.1 340.8 339.5 338.2 341.6 332.3 344.4 323.2 347.8 315.5 350.1 315.5 337.4 316.2 336.7 316.2 334.6 316.9 333.9 316.9 331.8 317.6 331.1 317.6 329.7 319 327.6 319 326.9 319.7 326.2 319.7 325.5 320.4 324.8 320.4 324.1 321.1 323.4 321.1 322.7 322.5 321.3 322.5 320.6 325.3 317.8 325.3 317.1 328.8 313.7 329.5 313.7 332.3 310.9 333 310.9 334.4 309.5 335.1 309.5 335.8 308.8 336.5 308.8 337.2 308.1 337.9 308.1 338.6 307.4 339.3 307.4 341.4 306 342.7 306 343.4 305.3 345.5 305.3 346.2 304.6 348.3 304.6ZM384.6 315.4 384.7 315.1 386.7 317.1 386.7 317.8 389.5 320.6 389.5 321.3 390.9 322.7 390.9 323.4 391.6 324.1 391.6 324.8 392.3 325.5 392.3 326.2 393 326.9 393 327.6 394.4 329.7 394.4 331.1 395.1 331.8 395.1 333.9 395.8 334.6 395.8 336.7 396.5 337.4 396.5 351.3 395.8 352 395.8 352.6 390.9 352.8 388.8 352.4 387.4 351.3 385.3 348.7 382.4 352 380.4 353.1 377.6 353.9 373.4 354.3 368.6 354.2 365.1 353.6 362.8 352.7 361.4 351.3 361.1 349.2 362.1 347.1 364.4 344.3 372 343.2 378.3 343.1 381.8 343.9 383.6 345 384.6 346.1 385.3 346.3 386 343.3 386 338.5 385.3 333.9 383.2 323.4 383.4 320.6 384.5 315.8Z" fill="#1cc0b4"/>
<path d="M349 303.9 354.3 303.9 352.7 306.7 347.3 314.4 344.7 319.2 342.8 324.8 340.9 335.3 339.8 338.1 338.6 339.5 336.8 340.9 331.5 343.7 323.2 347 315.5 349.1 315.5 337.4 316.2 336.7 316.2 334.6 316.9 333.9 316.9 331.8 317.6 331.1 317.6 329.7 319 327.6 319 326.9 319.7 326.2 319.7 325.5 320.4 324.8 320.4 324.1 321.1 323.4 321.1 322.7 322.5 321.3 322.5 320.6 325.3 317.8 325.3 317.1 328.8 313.7 329.5 313.7 332.3 310.9 333 310.9 334.4 309.5 335.1 309.5 335.8 308.8 336.5 308.8 337.2 308.1 337.9 308.1 338.6 307.4 339.3 307.4 341.4 306 342.7 306 343.4 305.3 345.5 305.3 346.2 304.6 348.3 304.6ZM385.9 316.3 386.7 317.1 386.7 317.8 389.5 320.6 389.5 321.3 390.9 322.7 390.9 323.4 391.6 324.1 391.6 324.8 392.3 325.5 392.3 326.2 393 326.9 393 327.6 394.4 329.7 394.4 331.1 395.1 331.8 395.1 333.9 395.8 334.6 395.8 336.7 396.5 337.4 396.5 350 392.3 350.2 390.2 349.9 388.8 348.8 388 347.1 386 335.3 383.8 324.8 383.9 322 385.8 316.5ZM369.3 345.7 373.4 345.6 376.2 346.3 377.3 347.1 377.7 347.8 377.5 349.2 375.5 350.8 372 351.7 367.9 351.4 365.1 350.2 364.5 348.5 365.1 347.1 366.5 346.4 369 345.7Z" fill="#2bc3a8"/>
<path d="M349 303.9 352.4 303.9 350.9 307.4 346.2 315 343.8 319.9 342.2 324.8 339.9 334.6 338.6 337.5 337.2 339 335.1 340.6 329.5 343.6 322.5 346.4 315.5 348.1 315.5 337.4 316.2 336.7 316.2 334.6 316.9 333.9 316.9 331.8 317.6 331.1 317.6 329.7 318.3 329 318.3 328.3 319 327.6 319 326.9 319.7 326.2 319.7 325.5 320.4 324.8 320.4 324.1 321.1 323.4 321.1 322.7 322.5 321.3 322.5 320.6 325.3 317.8 325.3 317.1 328.8 313.7 329.5 313.7 332.3 310.9 333 310.9 334.4 309.5 335.1 309.5 335.8 308.8 336.5 308.8 337.2 308.1 337.9 308.1 338.6 307.4 339.3 307.4 341.4 306 342.7 306 343.4 305.3 345.5 305.3 346.2 304.6 348.3 304.6ZM386.7 317.8 389.5 320.6 389.5 321.3 390.9 322.7 390.9 323.4 391.6 324.1 391.6 324.8 392.3 325.5 392.3 326.2 393 326.9 393 327.6 394.4 329.7 394.4 331.1 395.1 331.8 395.1 333.9 395.8 334.6 395.8 336.7 396.5 337.4 396.5 348 392.3 348.2 390.9 348 389.5 347 388.5 345 384.3 325.5 384.6 322.5 386.7 317.8Z" fill="#34c79c"/>
<path d="M349 303.9 350.8 303.9 350.2 306 343.4 319.5 341.8 324.1 339.3 333.4 337.7 336.7 334.4 339.8 328.8 343 321.8 345.7 315.5 347.1 315.5 337.4 316.2 336.7 316.2 334.6 316.9 333.9 316.9 331.8 317.6 331.1 317.6 329.7 318.3 329 318.3 328.3 319 327.6 319 326.9 319.7 326.2 319.7 325.5 320.4 324.8 320.4 324.1 321.1 323.4 321.1 322.7 322.5 321.3 322.5 320.6 325.3 317.8 325.3 317.1 328.8 313.7 329.5 313.7 332.3 310.9 333 310.9 334.4 309.5 335.1 309.5 335.8 308.8 336.5 308.8 337.2 308.1 337.9 308.1 338.6 307.4 339.3 307.4 341.4 306 342.7 306 343.4 305.3 345.5 305.3 346.2 304.6 348.3 304.6ZM387.4 319 387.6 318.7 389.5 320.6 389.5 321.3 390.9 322.7 390.9 323.4 391.6 324.1 391.6 324.8 392.3 325.5 392.3 326.2 393 326.9 393 327.6 394.4 329.7 394.4 331.1 395.1 331.8 395.1 333.9 395.8 334.6 395.8 336.7 396.5 337.4 396.5 346.3 392.3 346.6 390.9 346.2 389.5 344.9 388.6 343 385.4 329.7 384.8 326.2 385.3 322.9 387.3 319.2Z" fill="#3fca8e"/>
<path d="M349 303.9 349.3 303.9 349.2 304.6 348.3 308.1 343 319.2 338.6 332.6 336.5 336.5 333 339.6 327.4 342.8 321.1 345.1 315.5 346.2 315.5 337.4 316.2 336.7 316.2 334.6 316.9 333.9 316.9 331.8 317.6 331.1 317.6 329.7 318.3 329 318.3 328.3 319 327.6 319 326.9 319.7 326.2 319.7 325.5 320.4 324.8 320.4 324.1 321.1 323.4 321.1 322.7 322.5 321.3 322.5 320.6 325.3 317.8 325.3 317.1 328.8 313.7 329.5 313.7 332.3 310.9 333 310.9 334.4 309.5 335.1 309.5 335.8 308.8 336.5 308.8 337.2 308.1 337.9 308.1 338.6 307.4 339.3 307.4 341.4 306 342.7 306 343.4 305.3 345.5 305.3 346.2 304.6 348.3 304.6ZM388.4 319.6 389.5 320.6 389.5 321.3 390.9 322.7 390.9 323.4 391.6 324.1 391.6 324.8 392.3 325.5 392.3 326.2 393 326.9 393 327.6 394.4 329.7 394.4 331.1 395.1 331.8 395.1 333.9 395.8 334.6 395.8 336.7 396.5 337.4 396.5 344.7 392.3 345.1 390.9 344.7 389.5 343.2 388.8 341.6 386 331.1 385.3 326.9 385.7 324.1 388.2 319.9Z" fill="#52cc7e"/>
<path d="M346.2 304.6 347.9 304.6 347 308.8 342.1 319.9 337.9 332.1 335.8 335.8 332.3 339 326.7 342.2 321.1 344.2 315.5 345.2 315.5 337.4 316.2 336.7 316.2 334.6 316.9 333.9 316.9 331.8 317.6 331.1 317.6 329.7 318.3 329 318.3 328.3 319 327.6 319 326.9 319.7 326.2 319.7 325.5 320.4 324.8 320.4 324.1 321.1 323.4 321.1 322.7 322.5 321.3 322.5 320.6 325.3 317.8 325.3 317.1 326.7 315.8 328.8 313.7 329.5 313.7 332.3 310.9 333 310.9 334.4 309.5 335.1 309.5 335.8 308.8 336.5 308.8 337.2 308.1 337.9 308.1 338.6 307.4 339.3 307.4 341.4 306 342.7 306 343.4 305.3 345.5 305.3ZM389.2 320.4 389.5 321.3 390.9 322.7 390.9 323.4 391.6 324.1 391.6 324.8 392.3 325.5 392.3 326.2 393 326.9 393 327.6 394.4 329.7 394.4 331.1 395.1 331.8 395.1 333.9 395.8 334.6 395.8 336.7 396.5 337.4 396.5 343.3 392.3 343.8 390.9 343.3 389.5 341.6 388.6 339.5 386.5 331.8 385.8 326.9 386.6 324.1 389.1 320.6Z" fill="#66cd6d"/>
<path d="M346.2 304.6 346.6 304.6 346.5 306.7 345.6 310.2 341.6 319.9 337.4 331.1 335.1 335.2 331.6 338.5 326.2 341.6 321.1 343.4 315.5 344.2 315.5 337.4 316.2 336.7 316.2 334.6 316.9 333.9 316.9 331.8 317.6 331.1 317.6 329.7 318.3 329 318.3 328.3 319 327.6 319 326.9 319.7 326.2 319.7 325.5 320.4 324.8 320.4 324.1 321.1 323.4 321.1 322.7 322.5 321.3 322.5 320.6 325.3 317.8 325.3 317.1 326.7 315.8 328.8 313.7 329.5 313.7 332.3 310.9 333 310.9 334.4 309.5 335.1 309.5 335.8 308.8 336.5 308.8 337.2 308.1 337.9 308.1 338.6 307.4 339.3 307.4 341.4 306 342.7 306 343.4 305.3 345.5 305.3ZM389.5 321.9 389.7 321.6 390.9 322.7 390.9 323.4 391.6 324.1 391.6 324.8 392.3 325.5 392.3 326.2 393 326.9 393 327.6 394.4 329.7 394.4 331.1 395.1 331.8 395.1 333.9 395.8 334.6 395.8 336.7 396.5 337.4 396.5 342 393 342.5 391.6 342.4 390.2 341.4 388.8 338.6 386.7 331.1 386.3 327.6 386.8 325.5 389.3 322Z" fill="#7dcc5c"/>
<path d="M343.4 305.3 345.4 305.3 345.2 308.1 344.8 310.2 337.9 328.2 335 333.9 331.7 337.4 326.7 340.5 321.1 342.5 315.5 343.2 315.5 337.4 316.2 336.7 316.2 334.6 316.9 333.9 316.9 331.8 317.6 331.1 317.6 329.7 318.3 329 318.3 328.3 319 327.6 319 326.9 319.7 326.2 319.7 325.5 320.4 324.8 320.4 324.1 321.1 323.4 321.1 322.7 322.5 321.3 322.5 320.6 325.3 317.8 325.3 317.1 326.7 315.8 328.8 313.7 329.5 313.7 332.3 310.9 333 310.9 334.4 309.5 335.1 309.5 335.8 308.8 336.5 308.8 337.2 308.1 337.9 308.1 338.6 307.4 339.3 307.4 341.4 306 342.7 306ZM390.5 322.4 390.9 322.7 390.9 323.4 391.6 324.1 391.6 324.8 392.3 325.5 392.3 326.2 393 326.9 393 327.6 393.7 328.3 393.7 329 394.4 329.7 394.4 331.1 395.1 331.8 395.1 333.9 395.8 334.6 395.8 336.7 396.5 337.4 396.5 340.7 393 341.2 391.6 341.1 390.2 340.1 388.8 337.3 387.4 332.5 386.8 328.3 387.4 326.1 390.2 322.7Z" fill="#94ca4a"/>
<path d="M343.4 305.3 344.2 305.3 344.3 307.4 343.3 312.3 337.7 326.9 335.8 331.1 334 333.9 330.4 337.4 325.3 340.3 320.4 341.8 315.5 342.2 315.5 337.4 316.2 336.7 316.2 334.6 316.9 333.9 316.9 331.8 317.6 331.1 317.6 329.7 318.3 329 318.3 328.3 319 327.6 319 326.9 319.7 326.2 319.7 325.5 320.4 324.8 320.4 324.1 321.1 323.4 321.1 322.7 322.5 321.3 322.5 320.6 325.3 317.8 325.3 317.1 326.7 315.8 328.8 313.7 329.5 313.7 332.3 310.9 333 310.9 334.4 309.5 335.1 309.5 335.8 308.8 336.5 308.8 337.2 308.1 337.9 308.1 338.6 307.4 339.3 307.4 341.4 306 342.7 306ZM390.9 323.7 391 323.6 391.6 324.1 391.6 324.8 392.3 325.5 392.3 326.2 393 326.9 393 327.6 394.4 329.7 394.4 331.1 395.1 331.8 395.1 333.9 395.8 334.6 395.8 336.7 396.5 337.4 396.5 339.3 393 340 391.6 339.9 390.2 338.8 388.8 336 387.5 331.1 387.5 328.3 388.1 326.8 390.5 324.1Z" fill="#aac73a"/>
<path d="M343.1 306 343.1 310.2 341.7 315.1 337.2 326.5 335.1 330.8 333.5 333.2 330 336.7 325.3 339.4 320.4 341 315.5 341.2 315.5 337.4 316.2 336.7 316.2 334.6 316.9 333.9 316.9 331.8 317.6 331.1 317.6 329.7 319 327.6 319 326.9 319.7 326.2 319.7 325.5 320.4 324.8 320.4 324.1 321.1 323.4 321.1 322.7 322.5 321.3 322.5 320.6 325.3 317.8 325.3 317.1 326.7 315.8 328.8 313.7 329.5 313.7 332.3 310.9 333 310.9 334.4 309.5 335.1 309.5 335.8 308.8 336.5 308.8 337.2 308.1 337.9 308.1 338.6 307.4 339.3 307.4 341.4 306 342.7 306 343.1 305.6ZM391.6 324.8 393 326.9 393 327.6 393.7 328.3 393.7 329 394.4 329.7 394.4 331.1 395.1 331.8 395.1 333.9 395.8 334.6 395.8 336.7 396.5 337.4 396.5 337.9 393 338.6 391.6 338.6 390.2 337.5 388.8 334.6 388.1 331.4 388.1 329 388.8 327.6 391.6 324.8Z" fill="#bfc32e"/>
<path d="M341.4 306 342 306 342.3 308.8 342 311.6 341.2 314.4 337.2 325 334.9 329.7 333.1 332.5 329.5 336.1 324.8 338.8 320.4 340.1 315.5 340.2 315.5 337.4 316.2 336.7 316.2 334.6 316.9 333.9 316.9 331.8 317.6 331.1 317.6 329.7 319 327.6 319 326.9 319.7 326.2 319.7 325.5 320.4 324.8 320.4 324.1 321.1 323.4 321.1 322.7 322.5 321.3 322.5 320.6 325.3 317.8 325.3 317.1 326.7 315.8 328.8 313.7 329.5 313.7 332.3 310.9 333 310.9 334.4 309.5 335.1 309.5 335.8 308.8 336.5 308.8 338.6 307.4 339.3 307.4 340 306.7 340.7 306.7ZM392.3 326.1 393 326.9 393 327.6 393.7 328.3 393.7 329 394.4 329.7 394.4 331.1 395.1 331.8 395.1 333.9 395.8 334.6 395.8 336.4 392.3 337.2 390.9 336.7 390.2 335.9 389.3 333.9 388.8 331.1 389 329.7 389.5 328.7 392.2 326.2Z" fill="#d2bf27"/>
<path d="M341 306.7 341.3 310.9 339.9 316.5 336.5 325 334 329.7 332.3 332.3 328.8 335.6 324.6 338 320.4 339.2 315.5 339.1 315.5 337.4 316.2 336.7 316.2 334.6 316.9 333.9 316.9 331.8 317.6 331.1 317.6 329.7 319 327.6 319 326.9 319.7 326.2 319.7 325.5 320.4 324.8 320.4 324.1 321.1 323.4 321.1 322.7 322.5 321.3 322.5 320.6 325.3 317.8 325.3 317.1 326.7 315.8 328.8 313.7 329.5 313.7 332.3 310.9 333 310.9 334.4 309.5 335.1 309.5 335.8 308.8 336.5 308.8 337.2 308.1 337.9 308.1 338.6 307.4 339.3 307.4 340 306.7 340.7 306.7 341 306.4ZM393 327.9 393.2 327.8 393.7 328.3 393.7 329 394.4 329.7 394.4 331.1 395.1 331.8 395.1 333.9 395.6 334.4 391.6 335.1 390.9 334.7 390.2 333.5 389.9 331.8 390.2 330.7 392.5 328.3Z" fill="#e2bc2b"/>
<path d="M340 307 340.4 310.9 339.2 316.5 335.8 325 333.6 329 331.7 331.8 328.1 335.2 323.9 337.4 319.7 338.4 315.5 338.1 315.5 337.4 316.2 336.7 316.2 334.6 316.9 333.9 316.9 331.8 317.6 331.1 317.6 329.7 319 327.6 319 326.9 319.7 326.2 319.7 325.5 320.4 324.8 320.4 324.1 321.1 323.4 321.1 322.7 322.5 321.3 322.5 320.6 325.3 317.8 325.3 317.1 326.7 315.8 328.8 313.7 329.5 313.7 332.3 310.9 333 310.9 334.4 309.5 335.1 309.5 335.8 308.8 336.5 308.8 337.2 308.1 337.9 308.1 339.9 306.7Z" fill="#f1ba37"/>
<path d="M338.6 307.4 338.9 307.4 339.5 310.9 339.3 313.7 338.6 316.5 335.8 323.6 331.6 330.7 328.1 334.2 323.9 336.5 319.7 337.4 315.9 337.1 316.2 336.7 316.2 334.6 316.9 333.9 316.9 331.8 317.6 331.1 317.6 329.7 319 327.6 319 326.9 319.7 326.2 319.7 325.5 320.4 324.8 320.4 324.1 321.1 323.4 321.1 322.7 322.5 321.3 322.5 320.6 325.3 317.8 325.3 317.1 328.8 313.7 329.5 313.7 332.3 310.9 333 310.9 334.4 309.5 335.1 309.5 335.8 308.8 336.5 308.8 337.2 308.1 337.9 308.1Z" fill="#fcbd3d"/>
<path d="M338 308.1 338.5 310.2 338.6 312.3 337.6 317.1 335.1 323.5 330.9 330.4 327.4 333.7 323.9 335.6 320.4 336.4 316.2 336 316.2 334.6 316.9 333.9 316.9 331.8 317.6 331.1 317.6 329.7 319 327.6 319 326.9 319.7 326.2 319.7 325.5 320.4 324.8 320.4 324.1 321.1 323.4 321.1 322.7 322.5 321.3 322.5 320.6 325.3 317.8 325.3 317.1 328.8 313.7 329.5 313.7 332.3 310.9 333 310.9 334.4 309.5 335.1 309.5 335.8 308.8 336.5 308.8 337.2 308.1 337.9 308Z" fill="#fec537"/>
<path d="M337 308.8 337.6 310.9 337.7 313 336.7 317.8 334.4 323.4 330.5 329.7 327.4 332.7 323.9 334.7 320.4 335.5 316.2 334.8 316.9 333.9 316.9 331.8 317.6 331.1 317.6 329.7 319 327.6 319 326.9 319.7 326.2 319.7 325.5 320.4 324.8 320.4 324.1 321.1 323.4 321.1 322.7 322.5 321.3 322.5 320.6 325.3 317.8 325.3 317.1 328.8 313.7 329.5 313.7 332.3 310.9 333 310.9 334.4 309.5 335.1 309.5 335.8 308.8 336.5 308.8 336.9 308.4Z" fill="#fccf30"/>
<path d="M335.8 308.9 336.8 313 336.2 317.1 333.9 322.7 330.2 328.8 327.4 331.6 323.9 333.7 320.4 334.4 316.9 333.8 316.9 331.8 317.6 331.1 317.6 329.7 319 327.6 319 326.9 319.7 326.2 319.7 325.5 320.4 324.8 320.4 324.1 321.1 323.4 321.1 322.7 322.5 321.3 322.5 320.6 325.3 317.8 325.3 317.1 328.8 313.7 329.5 313.7 332.3 310.9 333 310.9 334.4 309.5 335.1 309.5 335.7 308.8Z" fill="#f8d92c"/>
<path d="M334.4 309.5 334.7 309.5 334.9 310.2 335.8 312.9 335.5 316.5 333.7 321.6 330.1 327.6 327.4 330.5 323.9 332.7 320.4 333.3 316.9 332.5 316.9 331.8 317.6 331.1 317.6 329.7 319 327.6 319 326.9 319.7 326.2 319.7 325.5 320.4 324.8 320.4 324.1 321.1 323.4 321.1 322.7 322.5 321.3 322.5 320.6 325.3 317.8 325.3 317.1 328.8 313.7 329.5 313.7 332.3 310.9 333 310.9 333.7 310.2Z" fill="#f5e327"/>
<path d="M333.7 310.5 334.7 313.7 334.4 317.5 332.6 322 329.5 327 326.7 329.9 323.3 331.8 320.4 332.1 317.4 331.3 317.6 329.7 319 327.6 319 326.9 319.7 326.2 319.7 325.5 320.4 324.8 320.4 324.1 321.1 323.4 321.1 322.7 322.5 321.3 322.5 320.6 325.3 317.8 325.3 317.1 328.8 313.7 329.5 313.7 332.3 310.9 333 310.9 333.6 310.3Z" fill="#f5ed22"/>
<path d="M332.3 311 333.6 314.4 333.5 317.1 332 321.3 328.8 326.4 326 329.2 323.2 330.6 320.4 330.8 317.6 329.8 318.3 329 318.3 328.3 319 327.6 319 326.9 319.7 326.2 319.7 325.5 320.4 324.8 320.4 324.1 321.1 323.4 321.1 322.7 322.5 321.3 322.5 320.6 325.3 317.8 325.3 317.1 326.7 315.8 328.8 313.7 329.5 313.7 332.3 310.9Z" fill="#f8f61a"/>
<path d="M331.7 377.2 333.7 376.5 335.1 375.7 336.4 374.3 337.2 372.9 337.7 370.9 337.5 369.5 337 368.1 336 366.7 334.4 365.4 332.5 364.6 328.8 364.4 325.3 365.7 323.9 366.9 322.8 368.4M360.9 322.6 359.6 323.4 359.2 324.1 359.2 325.5 359.7 326.2 360.9 326.9 362.3 327.1 363.7 326.9 364.9 326.2 365.6 324.8 365 323.4 363.7 322.6 361.6 322.4M338.1 380.8 340.3 379.2 342.4 377.1 344.2 374.3 345 372.3 345.1 370.2 344.6 368.1 343 365.3 341.2 363.2 338.6 361.1 336.5 359.9 333.7 359.1 330.9 358.8 328.1 359.1 325.3 359.8 322.4 361.1 319.7 362.9M358.8 317.8 356.7 318.8 355.2 319.9 353.9 321.5 353 323.4 352.8 325.5 353 326.9 353.9 328.7 355.3 330.1 357 331.1 359.2 331.8 361.6 332.1 364.4 332 367.2 331.4 369.3 330.5 371.9 328.3 372.9 326.2 372.9 324.1 371.9 322 370 319.9 367.2 318.3 364.4 317.5 361.6 317.3 358.8 317.8M366.5 369.3 365.1 370 364.6 370.9 364.8 371.6 365.6 372.3 368.6 372.8 370.4 372.3 371.1 371.6 371.2 370.9 370.9 370.2 369.9 369.5 367.2 369.2M343.2 383.2 349.7 377.6 351.8 376.3 353.2 375.8 356 375.8 363 377.5 367.2 378 370.6 377.9 374.2 377.1 377 375.7 379.2 373.6 380 371.6 379.8 369.5 378.5 367.4 376.7 366 374.1 364.9 371.3 364.2 365.8 364.1 356 366 353.9 366.1 352.5 365.8 349.7 364.3 344.1 359.4 341.4 357.3 338.6 355.9 335.1 354.9 330.9 354.7 326.7 355.4 321.8 357.1 317.9 359.2M360.2 314.3 356.7 315.3 353.8 317.1 351.3 319.9 349.8 323.4 349.6 326.9 350.6 330.4 350.2 333.2 350.4 335.3 351.8 337.7 353.9 339 356 339 357.4 338.4 358.8 337.2 360.2 335.2 367.2 334.6 372 333.1 375.5 330.7 376.9 329 377.5 327.6 377.8 325.5 377 322.7 375.2 319.9 372.7 317.5 369.9 315.7 367.2 314.7 363.7 314.1 360.9 314.2M385.6 372.7 385.8 370.2 384.8 367.4 382.5 364.8 379.7 363 376.2 361.8 372 361 367.2 360.8 358.8 361.1 354.6 360.4 351.1 358.5 344.1 353.1 341.4 351.6 339.3 350.9 335.1 350.4 330.2 351 323.9 352.7 316.9 355.5M350.5 384.8 353.7 382.7 356.7 381.8 359.5 381.6 367.9 381.9 372.5 381.5M360.9 310.8 356 312.4 352.2 315.1 349 319 347.2 323.4 346.8 327.6 347.7 331.8 347.4 334.6 347.8 337.4 348.6 339.5 349.7 341 351.1 342.2 352.5 342.7 355.3 342.8 357.4 342.2 359.5 340.8 362.3 338 369.3 337.2 375.5 335.4 379.7 332.9 380.8 331.8 381.5 330.4 381.2 326.9 379.7 322.5 377.6 317.9 375.5 315.1 372 312.6 368.6 311.2 364.4 310.6 360.9 310.8M363.6 304.5 358.1 307.1 353.9 309.9 349.7 314 346.9 318.2 345.3 322 344.4 325.5 344.1 329.7 344.5 335.3 343.9 340.9 342.8 343 340.7 344.2 332.3 346.5 316.1 351.9M392.9 361.9 387.6 359.7 382.5 358.3 375.5 357.5 364.4 356.8 360.7 356.2 358.7 355.5 356.5 354.1 355.3 352.7 354.6 351.3 354.6 349.9 355.6 348.5 360.2 344.9 363.7 341.5 376.2 339.7 382.5 338.3 383.9 337.5 384.4 336 384.4 333.2 382 322.7 381.6 315.8 380.8 311.9M352.4 303.9 350.9 307.4 346.2 315 344.1 319.2 342.2 324.8 339.9 334.6 339.1 336.7 338.1 338.1 334.7 340.9 328.8 343.9 321.8 346.6 315.5 348.1M396.5 348 392.3 348.2 390.9 348 389.5 347 388.5 345 384.3 325.5 384.6 322.5 386.7 317.8M346.6 304.6 346.2 308.1 345.4 310.9 341.9 319.2 337.4 331.1 335.1 335.2 331.6 338.5 326.2 341.6 321.1 343.4 315.5 344.2M396.5 342 392.3 342.5 390.9 342 389.5 340.3 388.6 338.1 386.7 331.1 386.3 327.6 386.5 326.2 387.2 324.8 389.7 321.6M342 306 342.2 310.2 340.8 315.8 336.9 325.5 334.9 329.7 333 332.6 329.5 336.1 324.6 338.9 320.4 340.1 315.5 340.2M395.8 336.4 393 337.1 391.6 337.1 390.2 335.9 389.5 334.6 388.8 331.8 389 329.7 389.8 328.3 392.3 326.1M337.9 308 338.5 310.2 338.6 312.3 337.6 317.1 335.1 323.5 330.9 330.4 327.4 333.7 323.9 335.6 320.4 336.4 316.2 336M333.6 310.3 334.7 313.7 334.5 317.1 332.9 321.3 329.5 327 326.7 329.9 323.3 331.8 320.4 332.1 317.4 331.3" fill="none" stroke="#2a2a2a" stroke-opacity="0.55" stroke-width="0.45"/>
</g>
<circle cx="356.00" cy="344.35" r="38.75" fill="none" stroke="#333" stroke-width="1"/>
<path d="M349.2 305.8 L356.0 299.3 L362.8 305.8 Z" fill="none" stroke="#333" stroke-width="0.9" stroke-linejoin="miter"/>
<path d="M317.6 337.6 L314.9 337.6 Q313.4 337.6 313.4 339.6 L313.4 352.5 Q313.4 355.0 315.2 355.0 L317.6 355.0" fill="none" stroke="#555" stroke-width="0.9"/>
<path d="M394.4 337.6 L397.1 337.6 Q398.6 337.6 398.6 339.6 L398.6 352.5 Q398.6 355.0 396.8 355.0 L394.4 355.0" fill="none" stroke="#555" stroke-width="0.9"/>
<clipPath id="clip_m6"><circle cx="483.30" cy="344.20" r="38.80"/></clipPath>
<g clip-path="url(#clip_m6)">
<rect x="443.5" y="304.4" width="79.6" height="79.6" fill="#3f29b0"/>
<path d="M476.3 303.7 490.3 303.7 491 304.4 493.1 304.4 493.8 305.1 495.9 305.1 496.6 305.8 498 305.8 500.1 307.2 500.8 307.2 501.5 307.9 502.2 307.9 504.3 309.3 505 309.3 506.3 310.7 507 310.7 509.8 313.5 510.5 313.5 514 317 514 317.7 516.8 320.5 516.8 321.2 518.2 322.5 518.2 323.2 519.6 325.3 519.6 326 520.3 326.7 520.3 327.4 521.7 329.5 521.7 330.9 522.4 331.6 522.4 333.7 523.1 334.4 523.1 336.5 523.8 337.2 523.8 351.2 523.1 351.9 523.1 354 522.4 354.7 522.4 356.8 521.7 357.5 521.7 358.9 520.3 361 520.3 361.7 519.6 362.4 519.6 363.1 518.2 365.2 518.2 365.9 516.8 367.2 516.8 367.9 514 370.7 514 371.4 510.5 374.9 509.8 374.9 507 377.7 506.3 377.7 505 379.1 504.3 379.1 503.6 379.8 502.9 379.8 500.8 381.2 500.1 381.2 498 382.6 496.6 382.6 495.9 383.3 493.8 383.3 493.1 384 491 384 490.3 384.7 476.3 384.7 475.6 384 473.5 384 472.8 383.3 470.7 383.3 470 382.6 468.6 382.6 467.9 381.9 467.2 381.9 465.1 380.5 464.4 380.5 462.3 379.1 461.6 379.1 460.3 377.7 459.6 377.7 456.8 374.9 456.1 374.9 452.6 371.4 452.6 370.7 449.8 367.9 449.8 367.2 448.4 365.9 448.4 365.2 447.7 364.5 447.7 363.8 446.3 361.7 446.3 361 444.9 358.9 444.9 357.5 444.2 356.8 444.2 354.7 443.5 354 443.5 351.9 442.8 351.2 442.8 337.2 443.5 336.5 443.5 334.4 444.2 333.7 444.2 331.6 444.9 330.9 444.9 329.5 445.6 328.8 445.6 328.1 447 326 447 325.3 448.4 323.2 448.4 322.5 449.8 321.2 449.8 320.5 452.6 317.7 452.6 317 456.1 313.5 456.8 313.5 459.6 310.7 460.3 310.7 461.6 309.3 462.3 309.3 464.4 307.9 465.1 307.9 465.8 307.2 466.5 307.2 468.6 305.8 470 305.8 470.7 305.1 472.8 305.1 473.5 304.4 475.6 304.4ZM480.6 334.4 477.1 335.8 474.8 337.9 473.5 340.7 473.5 343.9 474.8 347 477 349.2 479.9 350.5 481.9 350.7 484 350.6 487.5 349.1 489.6 347 490.8 344.2 491 341.4 490.4 339.3 489.7 337.9 487.5 335.8 484 334.4 481.2 334.3Z" fill="#4230c4"/>
<path d="M476.3 303.7 490.3 303.7 491 304.4 493.1 304.4 493.8 305.1 495.9 305.1 496.6 305.8 498 305.8 500.1 307.2 500.8 307.2 501.5 307.9 502.2 307.9 504.3 309.3 505 309.3 506.3 310.7 507 310.7 509.8 313.5 510.5 313.5 514 317 514 317.7 516.8 320.5 516.8 321.2 518.2 322.5 518.2 323.2 519.6 325.3 519.6 326 520.3 326.7 520.3 327.4 521.7 329.5 521.7 330.9 522.4 331.6 522.4 333.7 523.1 334.4 523.1 336.5 523.8 337.2 523.8 351.2 523.1 351.9 523.1 354 522.4 354.7 522.4 356.8 521.7 357.5 521.7 358.9 520.3 361 520.3 361.7 519.6 362.4 519.6 363.1 518.2 365.2 518.2 365.9 516.8 367.2 516.8 367.9 514 370.7 514 371.4 510.5 374.9 509.8 374.9 507 377.7 506.3 377.7 505 379.1 504.3 379.1 503.6 379.8 502.9 379.8 500.8 381.2 500.1 381.2 498 382.6 496.6 382.6 495.9 383.3 493.8 383.3 493.1 384 491 384 490.3 384.7 476.3 384.7 475.6 384 473.5 384 472.8 383.3 470.7 383.3 470 382.6 468.6 382.6 467.9 381.9 467.2 381.9 465.1 380.5 464.4 380.5 462.3 379.1 461.6 379.1 460.3 377.7 459.6 377.7 456.8 374.9 456.1 374.9 452.6 371.4 452.6 370.7 449.8 367.9 449.8 367.2 448.4 365.9 448.4 365.2 447.7 364.5 447.7 363.8 446.3 361.7 446.3 361 444.9 358.9 444.9 357.5 444.2 356.8 444.2 354.7 443.5 354 443.5 351.9 442.8 351.2 442.8 337.2 443.5 336.5 443.5 334.4 444.2 333.7 444.2 331.6 444.9 330.9 444.9 329.5 445.6 328.8 445.6 328.1 447 326 447 325.3 448.4 323.2 448.4 322.5 449.8 321.2 449.8 320.5 452.6 317.7 452.6 317 456.1 313.5 456.8 313.5 459.6 310.7 460.3 310.7 461.6 309.3 462.3 309.3 464.4 307.9 465.1 307.9 465.8 307.2 466.5 307.2 468.6 305.8 470 305.8 470.7 305.1 472.8 305.1 473.5 304.4 475.6 304.4ZM479.9 332.3 476.3 333.7 474.3 335.1 472.8 336.9 471.9 338.6 471.3 340.7 471.5 344.9 473.1 348.4 474.3 349.8 476.3 351.3 478.4 352.3 480.5 352.8 482.6 352.9 485.2 352.6 487.2 351.9 488.9 350.9 490.3 349.7 491.7 347.9 493.1 344.2 493.3 342.1 493 340 491.4 336.5 490.2 335.1 488.3 333.7 484.7 332.3 480.5 332.2Z" fill="#4536d5"/>
<path d="M476.3 303.7 490.3 303.7 491 304.4 493.1 304.4 493.8 305.1 495.9 305.1 496.6 305.8 498 305.8 500.1 307.2 500.8 307.2 501.5 307.9 502.2 307.9 504.3 309.3 505 309.3 506.3 310.7 507 310.7 509.8 313.5 510.5 313.5 514 317 514 317.7 516.8 320.5 516.8 321.2 518.2 322.5 518.2 323.2 519.6 325.3 519.6 326 520.3 326.7 520.3 327.4 521.7 329.5 521.7 330.9 522.4 331.6 522.4 333.7 523.1 334.4 523.1 336.5 523.8 337.2 523.8 351.2 523.1 351.9 523.1 354 522.4 354.7 522.4 356.8 521.7 357.5 521.7 358.9 520.3 361 520.3 361.7 519.6 362.4 519.6 363.1 518.2 365.2 518.2 365.9 516.8 367.2 516.8 367.9 514 370.7 514 371.4 510.5 374.9 509.8 374.9 507 377.7 506.3 377.7 505 379.1 504.3 379.1 503.6 379.8 502.9 379.8 500.8 381.2 500.1 381.2 498 382.6 496.6 382.6 495.9 383.3 493.8 383.3 493.1 384 491 384 490.3 384.7 476.3 384.7 475.6 384 473.5 384 472.8 383.3 470.7 383.3 470 382.6 468.6 382.6 467.9 381.9 467.2 381.9 465.1 380.5 464.4 380.5 462.3 379.1 461.6 379.1 460.3 377.7 459.6 377.7 456.8 374.9 456.1 374.9 452.6 371.4 452.6 370.7 449.8 367.9 449.8 367.2 448.4 365.9 448.4 365.2 447.7 364.5 447.7 363.8 446.3 361.7 446.3 361 444.9 358.9 444.9 357.5 444.2 356.8 444.2 354.7 443.5 354 443.5 351.9 442.8 351.2 442.8 337.2 443.5 336.5 443.5 334.4 444.2 333.7 444.2 331.6 444.9 330.9 444.9 329.5 445.6 328.8 445.6 328.1 447 326 447 325.3 448.4 323.2 448.4 322.5 449.8 321.2 449.8 320.5 452.6 317.7 452.6 317 456.1 313.5 456.8 313.5 459.6 310.7 460.3 310.7 461.6 309.3 462.3 309.3 464.4 307.9 465.1 307.9 465.8 307.2 466.5 307.2 468.6 305.8 470 305.8 470.7 305.1 472.8 305.1 473.5 304.4 475.6 304.4ZM480.4 330.9 477.7 331.6 475.6 332.6 473.5 334.1 472 335.8 470.8 337.9 470.2 340 470 342.8 470.2 344.9 470.9 347 472.1 349.3 473.9 351.2 475.6 352.4 479.8 354 482.6 354.2 485 354 488.9 352.5 491 350.9 492.5 349.1 493.8 346.7 494.5 344.2 494.4 340 493.7 337.9 492.6 335.8 489.6 333 485.4 331.2 483.3 330.8 480.5 330.9Z" fill="#473fe2"/>
<path d="M476.3 303.7 490.3 303.7 491 304.4 493.1 304.4 493.8 305.1 495.9 305.1 496.6 305.8 498 305.8 500.1 307.2 500.8 307.2 501.5 307.9 502.2 307.9 504.3 309.3 505 309.3 506.3 310.7 507 310.7 509.8 313.5 510.5 313.5 514 317 514 317.7 516.8 320.5 516.8 321.2 518.2 322.5 518.2 323.2 519.6 325.3 519.6 326 520.3 326.7 520.3 327.4 521.7 329.5 521.7 330.9 522.4 331.6 522.4 333.7 523.1 334.4 523.1 336.5 523.8 337.2 523.8 351.2 523.1 351.9 523.1 354 522.4 354.7 522.4 356.8 521.7 357.5 521.7 358.9 520.3 361 520.3 361.7 519.6 362.4 519.6 363.1 518.2 365.2 518.2 365.9 516.8 367.2 516.8 367.9 514 370.7 514 371.4 510.5 374.9 509.8 374.9 507 377.7 506.3 377.7 505 379.1 504.3 379.1 503.6 379.8 502.9 379.8 500.8 381.2 500.1 381.2 498 382.6 496.6 382.6 495.9 383.3 493.8 383.3 493.1 384 491 384 490.3 384.7 476.3 384.7 475.6 384 473.5 384 472.8 383.3 470.7 383.3 470 382.6 468.6 382.6 467.9 381.9 467.2 381.9 465.1 380.5 464.4 380.5 462.3 379.1 461.6 379.1 460.3 377.7 459.6 377.7 456.8 374.9 456.1 374.9 452.6 371.4 452.6 370.7 449.8 367.9 449.8 367.2 448.4 365.9 448.4 365.2 447.7 364.5 447.7 363.8 446.3 361.7 446.3 361 444.9 358.9 444.9 357.5 444.2 356.8 444.2 354.7 443.5 354 443.5 351.9 442.8 351.2 442.8 337.2 443.5 336.5 443.5 334.4 444.2 333.7 444.2 331.6 444.9 330.9 444.9 329.5 445.6 328.8 445.6 328.1 447 326 447 325.3 448.4 323.2 448.4 322.5 449.8 321.2 449.8 320.5 452.6 317.7 452.6 317 456.1 313.5 456.8 313.5 459.6 310.7 460.3 310.7 461.6 309.3 462.3 309.3 464.4 307.9 465.1 307.9 465.8 307.2 466.5 307.2 468.6 305.8 470 305.8 470.7 305.1 472.8 305.1 473.5 304.4 475.6 304.4ZM478.9 330.2 476.8 330.9 474.2 332.3 472.1 334.1 470.7 335.8 469.7 337.9 469.1 340.7 469.1 343.5 469.6 346.3 470.7 348.9 472.1 350.9 474 352.6 476.3 353.9 478.4 354.7 481.2 355.2 484 355.1 486.8 354.6 488.9 353.8 491 352.4 492.8 350.5 494.1 348.4 495.2 345.8 495.6 343.5 495.5 340.7 495.1 338.6 494.2 336.5 492.8 334.4 489.3 331.6 486.8 330.6 484 329.9 481.9 329.8 479.1 330.2Z" fill="#4747ec"/>
<path d="M476.3 303.7 490.3 303.7 491 304.4 493.1 304.4 493.8 305.1 495.9 305.1 496.6 305.8 498 305.8 500.1 307.2 500.8 307.2 501.5 307.9 502.2 307.9 504.3 309.3 505 309.3 506.3 310.7 507 310.7 509.8 313.5 510.5 313.5 514 317 514 317.7 516.8 320.5 516.8 321.2 518.2 322.5 518.2 323.2 519.6 325.3 519.6 326 520.3 326.7 520.3 327.4 521.7 329.5 521.7 330.9 522.4 331.6 522.4 333.7 523.1 334.4 523.1 336.5 523.8 337.2 523.8 351.2 523.1 351.9 523.1 354 522.4 354.7 522.4 356.8 521.7 357.5 521.7 358.9 520.3 361 520.3 361.7 519.6 362.4 519.6 363.1 518.2 365.2 518.2 365.9 516.8 367.2 516.8 367.9 514 370.7 514 371.4 510.5 374.9 509.8 374.9 507 377.7 506.3 377.7 505 379.1 504.3 379.1 503.6 379.8 502.9 379.8 500.8 381.2 500.1 381.2 498 382.6 496.6 382.6 495.9 383.3 493.8 383.3 493.1 384 491 384 490.3 384.7 476.3 384.7 475.6 384 473.5 384 472.8 383.3 470.7 383.3 470 382.6 468.6 382.6 467.9 381.9 467.2 381.9 465.1 380.5 464.4 380.5 462.3 379.1 461.6 379.1 460.3 377.7 459.6 377.7 456.8 374.9 456.1 374.9 452.6 371.4 452.6 370.7 449.8 367.9 449.8 367.2 448.4 365.9 448.4 365.2 447.7 364.5 447.7 363.8 446.3 361.7 446.3 361 444.9 358.9 444.9 357.5 444.2 356.8 444.2 354.7 443.5 354 443.5 351.9 442.8 351.2 442.8 337.2 443.5 336.5 443.5 334.4 444.2 333.7 444.2 331.6 444.9 330.9 444.9 329.5 445.6 328.8 445.6 328.1 447 326 447 325.3 448.4 323.2 448.4 322.5 449.8 321.2 449.8 320.5 452.6 317.7 452.6 317 456.1 313.5 456.8 313.5 459.6 310.7 460.3 310.7 461.6 309.3 462.3 309.3 464.4 307.9 465.1 307.9 465.8 307.2 466.5 307.2 468.6 305.8 470 305.8 470.7 305.1 472.8 305.1 473.5 304.4 475.6 304.4ZM478.4 329.5 475.6 330.6 472.8 332.3 470.7 334.4 469.4 336.5 468.5 339.3 468.2 342.1 468.4 344.9 469.2 347.7 470.7 350.5 472.1 352.1 474.7 354 477 355.1 479.8 355.8 482.6 356.1 485.4 355.8 488.2 355.1 490.3 354 492.1 352.6 493.8 350.7 495.2 348.3 496.1 345.6 496.5 342.8 496.3 340 495.7 337.9 494.5 335.3 493.1 333.5 491 331.7 488.9 330.5 486.2 329.5 484 329.1 481.2 329.1 478.4 329.5Z" fill="#4850f3"/>
<path d="M476.3 303.7 490.3 303.7 491 304.4 493.1 304.4 493.8 305.1 495.9 305.1 496.6 305.8 498 305.8 500.1 307.2 500.8 307.2 501.5 307.9 502.2 307.9 504.3 309.3 505 309.3 506.3 310.7 507 310.7 509.8 313.5 510.5 313.5 514 317 514 317.7 516.8 320.5 516.8 321.2 518.2 322.5 518.2 323.2 519.6 325.3 519.6 326 520.3 326.7 520.3 327.4 521.7 329.5 521.7 330.9 522.4 331.6 522.4 333.7 523.1 334.4 523.1 336.5 523.8 337.2 523.8 351.2 523.1 351.9 523.1 354 522.4 354.7 522.4 356.8 521.7 357.5 521.7 358.9 520.3 361 520.3 361.7 519.6 362.4 519.6 363.1 518.2 365.2 518.2 365.9 516.8 367.2 516.8 367.9 514 370.7 514 371.4 510.5 374.9 509.8 374.9 507 377.7 506.3 377.7 505 379.1 504.3 379.1 503.6 379.8 502.9 379.8 500.8 381.2 500.1 381.2 498 382.6 496.6 382.6 495.9 383.3 493.8 383.3 493.1 384 491 384 490.3 384.7 476.3 384.7 475.6 384 473.5 384 472.8 383.3 470.7 383.3 470 382.6 468.6 382.6 467.9 381.9 467.2 381.9 465.1 380.5 464.4 380.5 462.3 379.1 461.6 379.1 460.3 377.7 459.6 377.7 456.8 374.9 456.1 374.9 452.6 371.4 452.6 370.7 449.8 367.9 449.8 367.2 448.4 365.9 448.4 365.2 447.7 364.5 447.7 363.8 446.3 361.7 446.3 361 444.9 358.9 444.9 357.5 444.2 356.8 444.2 354.7 443.5 354 443.5 351.9 442.8 351.2 442.8 337.2 443.5 336.5 443.5 334.4 444.2 333.7 444.2 331.6 444.9 330.9 444.9 329.5 445.6 328.8 445.6 328.1 447 326 447 325.3 448.4 323.2 448.4 322.5 449.8 321.2 449.8 320.5 452.6 317.7 452.6 317 456.1 313.5 456.8 313.5 459.6 310.7 460.3 310.7 461.6 309.3 462.3 309.3 464.4 307.9 465.1 307.9 465.8 307.2 466.5 307.2 468.6 305.8 470 305.8 470.7 305.1 472.8 305.1 473.5 304.4 475.6 304.4ZM478.3 328.8 474.9 330.1 472.6 331.6 470.4 333.7 469 335.8 467.9 338.6 467.6 341.4 467.8 344.9 468.6 348.1 469.9 350.5 471.6 352.6 473.5 354.1 476.3 355.6 479.1 356.4 482.6 356.8 486.1 356.5 488.9 355.7 491 354.6 493.1 352.8 494.9 350.5 496.2 347.7 497 344.9 497.3 342.1 496.9 339.3 496.3 337.2 495.2 335 493.6 333 491.7 331.3 489.6 330 486.8 329 484 328.4 481.2 328.4 478.4 328.8Z" fill="#4759f8"/>
<path d="M476.3 303.7 490.3 303.7 491 304.4 493.1 304.4 493.8 305.1 495.9 305.1 496.6 305.8 498 305.8 500.1 307.2 500.8 307.2 501.5 307.9 502.2 307.9 504.3 309.3 505 309.3 506.3 310.7 507 310.7 509.8 313.5 510.5 313.5 514 317 514 317.7 516.8 320.5 516.8 321.2 518.2 322.5 518.2 323.2 519.6 325.3 519.6 326 520.3 326.7 520.3 327.4 521.7 329.5 521.7 330.9 522.4 331.6 522.4 333.7 523.1 334.4 523.1 336.5 523.8 337.2 523.8 351.2 523.1 351.9 523.1 354 522.4 354.7 522.4 356.8 521.7 357.5 521.7 358.9 520.3 361 520.3 361.7 519.6 362.4 519.6 363.1 518.2 365.2 518.2 365.9 516.8 367.2 516.8 367.9 514 370.7 514 371.4 510.5 374.9 509.8 374.9 507 377.7 506.3 377.7 505 379.1 504.3 379.1 503.6 379.8 502.9 379.8 500.8 381.2 500.1 381.2 498 382.6 496.6 382.6 495.9 383.3 493.8 383.3 493.1 384 491 384 490.3 384.7 476.3 384.7 475.6 384 473.5 384 472.8 383.3 470.7 383.3 470 382.6 468.6 382.6 467.9 381.9 467.2 381.9 465.1 380.5 464.4 380.5 462.3 379.1 461.6 379.1 460.3 377.7 459.6 377.7 456.8 374.9 456.1 374.9 452.6 371.4 452.6 370.7 449.8 367.9 449.8 367.2 448.4 365.9 448.4 365.2 447.7 364.5 447.7 363.8 446.3 361.7 446.3 361 444.9 358.9 444.9 357.5 444.2 356.8 444.2 354.7 443.5 354 443.5 351.9 442.8 351.2 442.8 337.2 443.5 336.5 443.5 334.4 444.2 333.7 444.2 331.6 444.9 330.9 444.9 329.5 445.6 328.8 445.6 328.1 447 326 447 325.3 448.4 323.2 448.4 322.5 449.8 321.2 449.8 320.5 452.6 317.7 452.6 317 456.1 313.5 456.8 313.5 459.6 310.7 460.3 310.7 461.6 309.3 462.3 309.3 464.4 307.9 465.1 307.9 465.8 307.2 466.5 307.2 468.6 305.8 470 305.8 470.7 305.1 472.8 305.1 473.5 304.4 475.6 304.4ZM478.5 328.1 474.9 329.4 472.4 330.9 470.1 333 468.6 335.1 467.5 337.9 467 341.4 467.1 344.9 467.9 348 469.1 350.5 470.7 352.6 473.1 354.7 475.7 356.1 478.4 357 481.9 357.5 485.4 357.3 488.9 356.6 491 355.6 493.1 353.9 495.2 351.4 496.6 348.8 497.4 346.3 497.9 343.5 497.9 340.7 497.3 337.9 496 335.1 494.5 333 492.4 331 490.3 329.7 487.5 328.5 484.7 327.9 481.9 327.7 479.1 328Z" fill="#4562fc"/>
<path d="M476.3 303.7 490.3 303.7 491 304.4 493.1 304.4 493.8 305.1 495.9 305.1 496.6 305.8 498 305.8 500.1 307.2 500.8 307.2 501.5 307.9 502.2 307.9 504.3 309.3 505 309.3 506.3 310.7 507 310.7 509.8 313.5 510.5 313.5 514 317 514 317.7 516.8 320.5 516.8 321.2 518.2 322.5 518.2 323.2 519.6 325.3 519.6 326 520.3 326.7 520.3 327.4 521.7 329.5 521.7 330.9 522.4 331.6 522.4 333.7 523.1 334.4 523.1 336.5 523.8 337.2 523.8 351.2 523.1 351.9 523.1 354 522.4 354.7 522.4 356.8 521.7 357.5 521.7 358.9 520.3 361 520.3 361.7 519.6 362.4 519.6 363.1 518.2 365.2 518.2 365.9 516.8 367.2 516.8 367.9 514 370.7 514 371.4 510.5 374.9 509.8 374.9 507 377.7 506.3 377.7 505 379.1 504.3 379.1 503.6 379.8 502.9 379.8 500.8 381.2 500.1 381.2 498 382.6 496.6 382.6 495.9 383.3 493.8 383.3 493.1 384 491 384 490.3 384.7 476.3 384.7 475.6 384 473.5 384 472.8 383.3 470.7 383.3 470 382.6 468.6 382.6 467.9 381.9 467.2 381.9 465.1 380.5 464.4 380.5 462.3 379.1 461.6 379.1 460.3 377.7 459.6 377.7 456.8 374.9 456.1 374.9 452.6 371.4 452.6 370.7 449.8 367.9 449.8 367.2 448.4 365.9 448.4 365.2 447.7 364.5 447.7 363.8 446.3 361.7 446.3 361 444.9 358.9 444.9 357.5 444.2 356.8 444.2 354.7 443.5 354 443.5 351.9 442.8 351.2 442.8 337.2 443.5 336.5 443.5 334.4 444.2 333.7 444.2 331.6 444.9 330.9 444.9 329.5 445.6 328.8 445.6 328.1 447 326 447 325.3 448.4 323.2 448.4 322.5 449.8 321.2 449.8 320.5 452.6 317.7 452.6 317 456.1 313.5 456.8 313.5 459.6 310.7 460.3 310.7 461.6 309.3 462.3 309.3 464.4 307.9 465.1 307.9 465.8 307.2 466.5 307.2 468.6 305.8 470 305.8 470.7 305.1 472.8 305.1 473.5 304.4 475.6 304.4ZM479 327.4 475.6 328.5 472.4 330.2 469.9 332.3 467.9 335.1 466.9 337.9 466.4 341.4 466.6 344.9 467.4 348.4 468.8 351.2 470.7 353.5 473 355.4 475.7 356.8 479.1 357.8 482.6 358.1 486.1 357.9 489.6 357.2 491.7 356.2 493.8 354.3 495.7 351.9 497.3 348.8 498.3 345.6 498.6 342.8 498.4 340 497.7 337.2 496.4 334.4 494.8 332.3 492.4 330.2 490.3 329 487.5 327.9 484.7 327.3 481.9 327.1 479.1 327.4Z" fill="#416bfe"/>
<path d="M476.3 303.7 490.3 303.7 491 304.4 493.1 304.4 493.8 305.1 495.9 305.1 496.6 305.8 498 305.8 500.1 307.2 500.8 307.2 501.5 307.9 502.2 307.9 504.3 309.3 505 309.3 506.3 310.7 507 310.7 509.8 313.5 510.5 313.5 514 317 514 317.7 516.8 320.5 516.8 321.2 518.2 322.5 518.2 323.2 519.6 325.3 519.6 326 520.3 326.7 520.3 327.4 521.7 329.5 521.7 330.9 522.4 331.6 522.4 333.7 523.1 334.4 523.1 336.5 523.8 337.2 523.8 351.2 523.1 351.9 523.1 354 522.4 354.7 522.4 356.8 521.7 357.5 521.7 358.9 520.3 361 520.3 361.7 519.6 362.4 519.6 363.1 518.2 365.2 518.2 365.9 516.8 367.2 516.8 367.9 514.6 370.2 514.4 367.9 513.2 365.9 511.2 364.3 508.4 363.3 505 363.3 501.5 364.5 499.4 366.5 498.6 368.6 498.7 370.7 499.8 372.8 501.5 374.3 504.3 375.4 507 375.7 509.5 375.3 507 377.7 506.3 377.7 505 379.1 504.3 379.1 503.6 379.8 502.9 379.8 500.8 381.2 500.1 381.2 498 382.6 496.6 382.6 495.9 383.3 493.8 383.3 493.1 384 491 384 490.3 384.7 476.3 384.7 475.6 384 473.5 384 472.8 383.3 470.7 383.3 470 382.6 468.6 382.6 467.9 381.9 467.2 381.9 465.1 380.5 464.4 380.5 462.3 379.1 461.6 379.1 460.3 377.7 459.6 377.7 456.8 374.9 456.1 374.9 452.6 371.4 452.6 370.7 449.8 367.9 449.8 367.2 448.4 365.9 448.4 365.2 447.7 364.5 447.7 363.8 446.3 361.7 446.3 361 444.9 358.9 444.9 357.5 444.2 356.8 444.2 354.7 443.5 354 443.5 351.9 442.8 351.2 442.8 337.2 443.5 336.5 443.5 334.4 444.2 333.7 444.2 331.6 444.9 330.9 444.9 329.5 445.6 328.8 445.6 328.1 447 326 447 325.3 448.4 323.2 448.4 322.5 449.8 321.2 449.8 320.5 452.6 317.7 452.6 317 456.1 313.5 456.8 313.5 459.6 310.7 460.3 310.7 461.6 309.3 462.3 309.3 464.4 307.9 465.1 307.9 465.8 307.2 466.5 307.2 468.6 305.8 470 305.8 470.7 305.1 472.8 305.1 473.5 304.4 475.6 304.4ZM479.9 326.7 476.3 327.6 472.8 329.3 470 331.4 467.9 334 466.5 337.2 465.9 340.7 466.1 344.9 466.9 348.4 468.1 351.2 470 353.7 472.8 356 475.6 357.4 478.4 358.2 481.9 358.7 485.4 358.6 490.3 358 491.7 357.4 494.5 354.8 496.5 351.9 497.9 349.1 498.8 346.3 499.2 343.5 499.1 340.7 498.6 337.9 497.5 335.1 496.1 333 494.5 331.2 492.4 329.5 489.6 328.1 486.8 327.1 484 326.6 480.5 326.7ZM510.5 374.9 510.5 374.9Z" fill="#3875fe"/>
<path d="M476.3 303.7 490.3 303.7 491 304.4 493.1 304.4 493.8 305.1 495.9 305.1 496.6 305.8 498 305.8 500.1 307.2 500.8 307.2 501.5 307.9 502.2 307.9 504.3 309.3 505 309.3 506.3 310.7 507 310.7 509.8 313.5 510.5 313.5 514 317 514 317.7 516.8 320.5 516.8 321.2 518.2 322.5 518.2 323.2 519.6 325.3 519.6 326 520.3 326.7 520.3 327.4 521.7 329.5 521.7 330.9 522.4 331.6 522.4 333.7 523.1 334.4 523.1 336.5 523.8 337.2 523.8 351.2 523.1 351.9 523.1 354 522.4 354.7 522.4 356.8 521.7 357.5 521.7 358.9 520.3 361 520.3 361.7 519.6 362.4 519.6 363.1 518.2 365.2 518.2 365.9 516.8 367.2 516.8 367.9 515.9 365.9 514 363.8 511.9 362.5 509.8 361.8 507.7 361.4 505 361.5 502.2 362.1 500 363.1 498 364.7 496.6 367.2 496.2 370 496.8 372.1 498.7 374.6 501.2 376.3 504.3 377.3 507.3 377.5 506.3 377.7 505 379.1 504.3 379.1 503.6 379.8 502.9 379.8 500.8 381.2 500.1 381.2 498 382.6 496.6 382.6 495.9 383.3 493.8 383.3 493.1 384 491 384 490.3 384.7 476.3 384.7 475.6 384 473.5 384 472.8 383.3 470.7 383.3 470 382.6 468.6 382.6 467.9 381.9 467.2 381.9 465.1 380.5 464.4 380.5 462.3 379.1 461.6 379.1 460.3 377.7 459.6 377.7 456.8 374.9 456.1 374.9 452.6 371.4 452.6 370.7 449.8 367.9 449.8 367.2 448.4 365.9 448.4 365.2 447.7 364.5 447.7 363.8 446.3 361.7 446.3 361 444.9 358.9 444.9 357.5 444.2 356.8 444.2 354.7 443.5 354 443.5 351.9 442.8 351.2 442.8 337.2 443.5 336.5 443.5 334.4 444.2 333.7 444.2 331.6 444.9 330.9 444.9 329.5 445.6 328.8 445.6 328.1 447 326 447 325.3 448.4 323.2 448.4 322.5 449.8 321.2 449.8 320.5 452.6 317.7 452.6 317 456.1 313.5 456.8 313.5 459.6 310.7 460.3 310.7 461.6 309.3 462.3 309.3 464.4 307.9 465.1 307.9 465.8 307.2 466.5 307.2 468.6 305.8 470 305.8 470.7 305.1 472.8 305.1 473.5 304.4 475.6 304.4ZM477.3 326.7 473.8 328.1 470.7 330.1 468.5 332.3 466.7 335.1 465.7 338.6 465.4 342.1 465.8 346.3 466.8 349.8 468.4 352.6 470.2 354.7 472.8 356.6 475.6 358 481.2 359.2 491.7 359.3 492.4 358.8 496.5 353.3 499 347.7 499.7 344.2 499.8 341.4 499.4 338.6 498.4 335.8 496.9 333 495.2 331.1 493.1 329.3 490.3 327.8 487.4 326.7 484 326.1 481.2 326.1 477.7 326.6Z" fill="#307ffb"/>
<path d="M476.3 303.7 490.3 303.7 491 304.4 493.1 304.4 493.8 305.1 495.9 305.1 496.6 305.8 498 305.8 500.1 307.2 500.8 307.2 501.5 307.9 502.2 307.9 504.3 309.3 505 309.3 506.3 310.7 507 310.7 509.8 313.5 510.5 313.5 514 317 514 317.7 516.8 320.5 516.8 321.2 518.2 322.5 518.2 323.2 519.6 325.3 519.6 326 520.3 326.7 520.3 327.4 521.7 329.5 521.7 330.9 522.4 331.6 522.4 333.7 523.1 334.4 523.1 336.5 523.8 337.2 523.8 351.2 523.1 351.9 523.1 354 522.4 354.7 522.4 356.8 521.7 357.5 521.7 358.9 520.3 361 520.3 361.7 519.6 362.4 519.6 363.1 518.2 365.2 518.2 365.9 517.9 366.2 516.2 363.8 514 362 511.2 360.7 508.4 360.1 505.6 360 502.2 360.6 499.4 361.5 496.6 363.1 495.5 364.5 494.6 367.9 494.6 370.7 495.3 372.8 496.8 374.9 499.4 377 502.2 378.2 505.3 378.8 505 379.1 504.3 379.1 503.6 379.8 502.9 379.8 502.2 380.5 501.5 380.5 500.8 381.2 500.1 381.2 499.4 381.9 498.7 381.9 498 382.6 496.6 382.6 495.9 383.3 493.8 383.3 493.1 384 491 384 490.3 384.7 476.3 384.7 475.6 384 473.5 384 472.8 383.3 470.7 383.3 470 382.6 468.6 382.6 467.9 381.9 467.2 381.9 465.1 380.5 464.4 380.5 462.3 379.1 461.6 379.1 460.3 377.7 459.6 377.7 456.8 374.9 456.1 374.9 452.6 371.4 452.6 370.7 449.8 367.9 449.8 367.2 448.4 365.9 448.4 365.2 447.7 364.5 447.7 363.8 446.3 361.7 446.3 361 444.9 358.9 444.9 357.5 444.2 356.8 444.2 354.7 443.5 354 443.5 351.9 442.8 351.2 442.8 337.2 443.5 336.5 443.5 334.4 444.2 333.7 444.2 331.6 444.9 330.9 444.9 329.5 445.6 328.8 445.6 328.1 447 326 447 325.3 448.4 323.2 448.4 322.5 449.8 321.2 449.8 320.5 452.6 317.7 452.6 317 456.1 313.5 456.8 313.5 459.6 310.7 460.3 310.7 461.6 309.3 462.3 309.3 464.4 307.9 465.1 307.9 465.8 307.2 466.5 307.2 468.6 305.8 470 305.8 470.7 305.1 472.8 305.1 473.5 304.4 475.6 304.4ZM478 326 474.2 327.4 470.7 329.4 468.3 331.6 466.5 334.4 465.3 337.9 464.9 342.1 465.3 346.3 466.5 350.4 467.9 352.9 470 355.3 472.1 356.9 474.9 358.4 480.5 359.8 488.9 360.1 492.4 362.1 493.8 362.1 494.2 361.7 494.5 358.2 498 352.1 500 346.3 500.4 343.5 500.3 340.7 499.1 335.8 497.6 333 495.9 330.9 493.8 329.1 491 327.5 488.2 326.4 484.7 325.7 481.2 325.6 478.4 326Z" fill="#2d87f6"/>
<path d="M476.3 303.7 490.3 303.7 491 304.4 493.1 304.4 493.8 305.1 495.9 305.1 496.6 305.8 498 305.8 500.1 307.2 500.8 307.2 501.5 307.9 502.2 307.9 504.3 309.3 505 309.3 506.3 310.7 507 310.7 509.8 313.5 510.5 313.5 514 317 514 317.7 516.8 320.5 516.8 321.2 518.2 322.5 518.2 323.2 519.6 325.3 519.6 326 520.3 326.7 520.3 327.4 521.7 329.5 521.7 330.9 522.4 331.6 522.4 333.7 523.1 334.4 523.1 336.5 523.8 337.2 523.8 351.2 523.1 351.9 523.1 354 522.4 354.7 522.4 356.8 521.7 357.5 521.7 358.9 521 359.6 521 360.3 520.3 361 520.3 361.7 519.6 362.4 519.6 363.1 518.9 363.8 518.7 364.7 517.5 363.1 515.4 361.4 513.3 360.2 510.5 359.3 505.6 358.8 498 359.9 497.3 359.9 496.6 359.3 496.5 357.5 499.2 351.2 500.5 347 501 343.5 500.9 340.7 500 336.5 498.3 333 496 330.2 493.3 328.1 489.6 326.4 486.1 325.4 482.6 325.1 479.1 325.3 475.6 326.2 472.1 327.9 469.3 329.9 467.1 332.3 465.8 334.7 465 337.2 464.5 342.8 464.8 346.3 465.5 349.1 466.5 351.6 468 354 471.4 357.2 475.6 359.3 480.5 360.4 487.5 360.7 489.6 361.5 492.1 363.8 493.1 365.2 493.1 370.7 493.7 372.8 495 374.9 496.6 376.6 498.7 378 501.1 379.1 503.6 379.8 502.9 379.8 502.2 380.5 501.5 380.5 500.8 381.2 500.1 381.2 499.4 381.9 498.7 381.9 498 382.6 496.6 382.6 495.9 383.3 493.8 383.3 493.1 384 491 384 490.3 384.7 476.3 384.7 475.6 384 473.5 384 472.8 383.3 470.7 383.3 470 382.6 468.6 382.6 467.9 381.9 467.2 381.9 465.1 380.5 464.4 380.5 462.3 379.1 461.6 379.1 460.3 377.7 459.6 377.7 456.8 374.9 456.1 374.9 452.6 371.4 452.6 370.7 449.8 367.9 449.8 367.2 448.4 365.9 448.4 365.2 447.7 364.5 447.7 363.8 446.3 361.7 446.3 361 444.9 358.9 444.9 357.5 444.2 356.8 444.2 354.7 443.5 354 443.5 351.9 442.8 351.2 442.8 337.2 443.5 336.5 443.5 334.4 444.2 333.7 444.2 331.6 444.9 330.9 444.9 329.5 445.6 328.8 445.6 328.1 447 326 447 325.3 448.4 323.2 448.4 322.5 449.8 321.2 449.8 320.5 452.6 317.7 452.6 317 456.1 313.5 456.8 313.5 459.6 310.7 460.3 310.7 461.6 309.3 462.3 309.3 464.4 307.9 465.1 307.9 465.8 307.2 466.5 307.2 468.6 305.8 470 305.8 470.7 305.1 472.8 305.1 473.5 304.4 475.6 304.4Z" fill="#2c90f0"/>
<path d="M476.3 303.7 490.3 303.7 491 304.4 493.1 304.4 493.8 305.1 495.9 305.1 496.6 305.8 498 305.8 500.1 307.2 500.8 307.2 501.5 307.9 502.2 307.9 504.3 309.3 505 309.3 506.3 310.7 507 310.7 509.8 313.5 510.5 313.5 514 317 514 317.7 516.8 320.5 516.8 321.2 518.2 322.5 518.2 323.2 519.6 325.3 519.6 326 520.3 326.7 520.3 327.4 521.7 329.5 521.7 330.9 522.4 331.6 522.4 333.7 523.1 334.4 523.1 336.5 523.8 337.2 523.8 351.2 523.1 351.9 523.1 354 522.4 354.7 522.4 356.8 521.7 357.5 521.7 358.9 521 359.6 521 360.3 520.3 361 520.3 361.7 519.6 362.4 519.4 363.3 516.1 360.4 511.9 358.5 507.7 357.8 500.8 357.9 499.3 357.5 498.8 356.8 498.8 355.4 501 347.7 501.6 344.2 501.6 341.4 501.2 338.6 500.1 335.1 498.5 332.3 496.1 329.5 493.2 327.4 489.6 325.8 486.1 324.9 482.6 324.6 479.1 324.8 475.6 325.7 471.9 327.4 469 329.5 466.5 332.3 465.4 334.4 464.5 337.2 464 342.8 464.4 346.3 465 349.1 466.1 351.9 467.3 354 470.7 357.4 474.9 359.6 479.8 360.9 486.8 361.5 489 362.4 490.5 363.8 491.4 365.2 491.8 371.4 493.3 374.9 495.2 377 497 378.4 499.4 379.7 501.9 380.5 501.5 380.5 500.8 381.2 500.1 381.2 499.4 381.9 498.7 381.9 498 382.6 496.6 382.6 495.9 383.3 493.8 383.3 493.1 384 491 384 490.3 384.7 476.3 384.7 475.6 384 473.5 384 472.8 383.3 470.7 383.3 470 382.6 468.6 382.6 467.9 381.9 467.2 381.9 465.1 380.5 464.4 380.5 462.3 379.1 461.6 379.1 460.3 377.7 459.6 377.7 456.8 374.9 456.1 374.9 452.6 371.4 452.6 370.7 449.8 367.9 449.8 367.2 448.4 365.9 448.4 365.2 447.7 364.5 447.7 363.8 446.3 361.7 446.3 361 444.9 358.9 444.9 357.5 444.2 356.8 444.2 354.7 443.5 354 443.5 351.9 442.8 351.2 442.8 337.2 443.5 336.5 443.5 334.4 444.2 333.7 444.2 331.6 444.9 330.9 444.9 329.5 445.6 328.8 445.6 328.1 447 326 447 325.3 448.4 323.2 448.4 322.5 449.8 321.2 449.8 320.5 452.6 317.7 452.6 317 456.1 313.5 456.8 313.5 459.6 310.7 460.3 310.7 461.6 309.3 462.3 309.3 464.4 307.9 465.1 307.9 465.8 307.2 466.5 307.2 468.6 305.8 470 305.8 470.7 305.1 472.8 305.1 473.5 304.4 475.6 304.4Z" fill="#2798ea"/>
<path d="M476.3 303.7 490.3 303.7 491 304.4 493.1 304.4 493.8 305.1 495.9 305.1 496.6 305.8 498 305.8 500.1 307.2 500.8 307.2 501.5 307.9 502.2 307.9 504.3 309.3 505 309.3 506.3 310.7 507 310.7 509.8 313.5 510.5 313.5 514 317 514 317.7 516.8 320.5 516.8 321.2 518.2 322.5 518.2 323.2 519.6 325.3 519.6 326 520.3 326.7 520.3 327.4 521.7 329.5 521.7 330.9 522.4 331.6 522.4 333.7 523.1 334.4 523.1 336.5 523.8 337.2 523.8 351.2 523.1 351.9 523.1 354 522.4 354.7 522.4 356.8 521.7 357.5 521.7 358.9 521 359.6 521 360.3 520.3 361 520.3 361.7 520 362 517 359.6 513.3 357.8 509.1 356.8 502.2 356.4 500.8 355.7 500.3 354.7 500.4 353.3 501.8 347 502.3 343.5 501.7 337.9 500.4 334.4 498.8 331.6 496.6 329.2 493.8 327.2 490.3 325.5 486.8 324.5 482.6 324.1 479.1 324.3 474.9 325.5 471.4 327.1 468.6 329.1 466.4 331.6 465.1 333.8 464.2 336.5 463.7 339.3 463.6 342.8 463.9 346.3 464.7 349.8 465.8 352.6 467.1 354.7 470 357.7 474.2 360.1 478.4 361.3 486.1 362.3 488.2 363.1 489.9 365.2 490.4 371.4 491 373.5 492.2 375.6 493.8 377.4 495.9 379.1 500.3 381.2 499.4 381.9 498.7 381.9 498 382.6 496.6 382.6 495.9 383.3 493.8 383.3 493.1 384 491 384 490.3 384.7 476.3 384.7 475.6 384 473.5 384 472.8 383.3 470.7 383.3 470 382.6 468.6 382.6 467.9 381.9 467.2 381.9 465.1 380.5 464.4 380.5 462.3 379.1 461.6 379.1 460.3 377.7 459.6 377.7 456.8 374.9 456.1 374.9 452.6 371.4 452.6 370.7 449.8 367.9 449.8 367.2 448.4 365.9 448.4 365.2 447.7 364.5 447.7 363.8 446.3 361.7 446.3 361 444.9 358.9 444.9 357.5 444.2 356.8 444.2 354.7 443.5 354 443.5 351.9 442.8 351.2 442.8 337.2 443.5 336.5 443.5 334.4 444.2 333.7 444.2 331.6 444.9 330.9 444.9 329.5 445.6 328.8 445.6 328.1 447 326 447 325.3 448.4 323.2 448.4 322.5 449.8 321.2 449.8 320.5 452.6 317.7 452.6 317 456.1 313.5 456.8 313.5 459.6 310.7 460.3 310.7 461.6 309.3 462.3 309.3 464.4 307.9 465.1 307.9 465.8 307.2 466.5 307.2 468.6 305.8 470 305.8 470.7 305.1 472.8 305.1 473.5 304.4 475.6 304.4Z" fill="#249fe5"/>
<path d="M476.3 303.7 490.3 303.7 491 304.4 493.1 304.4 493.8 305.1 495.9 305.1 496.6 305.8 498 305.8 500.1 307.2 500.8 307.2 501.5 307.9 502.2 307.9 504.3 309.3 505 309.3 506.3 310.7 507 310.7 509.8 313.5 510.5 313.5 514 317 514 317.7 516.8 320.5 516.8 321.2 518.2 322.5 518.2 323.2 519.6 325.3 519.6 326 520.3 326.7 520.3 327.4 521.7 329.5 521.7 330.9 522.4 331.6 522.4 333.7 523.1 334.4 523.1 336.5 523.8 337.2 523.8 351.2 523.1 351.9 523.1 354 522.4 354.7 522.4 356.8 521.7 357.5 521.7 358.9 521 359.6 521 360.3 520.5 360.8 517.5 358.5 514 356.8 509.8 355.8 503.6 355.2 502.2 354.4 501.7 353.3 501.7 351.9 502.7 346.3 503 342.8 502.6 339.3 502 336.5 500.8 333.7 499.1 330.9 496.6 328.4 493.8 326.5 490.3 324.9 486.8 324 482.6 323.6 479.1 323.8 474.9 324.9 471.4 326.5 468.2 328.8 465.8 331.5 464.6 333.7 463.9 335.8 463.2 340.7 463.6 347 465.2 352.6 467.9 356.7 470 358.5 472.1 359.9 477.7 361.9 485.4 363.1 486.8 363.6 487.8 364.5 488.7 366.5 489.1 372.1 490.6 375.6 493.8 379.1 495.9 380.5 498.8 381.9 498 382.6 496.6 382.6 495.9 383.3 493.8 383.3 493.1 384 491 384 490.3 384.7 476.3 384.7 475.6 384 473.5 384 472.8 383.3 470.7 383.3 470 382.6 468.6 382.6 467.9 381.9 467.2 381.9 465.1 380.5 464.4 380.5 462.3 379.1 461.6 379.1 460.3 377.7 459.6 377.7 456.8 374.9 456.1 374.9 452.6 371.4 452.6 370.7 449.8 367.9 449.8 367.2 448.4 365.9 448.4 365.2 447.7 364.5 447.7 363.8 446.3 361.7 446.3 361 444.9 358.9 444.9 357.5 444.2 356.8 444.2 354.7 443.5 354 443.5 351.9 442.8 351.2 442.8 337.2 443.5 336.5 443.5 334.4 444.2 333.7 444.2 331.6 444.9 330.9 444.9 329.5 445.6 328.8 445.6 328.1 447 326 447 325.3 448.4 323.2 448.4 322.5 449.8 321.2 449.8 320.5 452.6 317.7 452.6 317 456.1 313.5 456.8 313.5 459.6 310.7 460.3 310.7 461.6 309.3 462.3 309.3 464.4 307.9 465.1 307.9 465.8 307.2 466.5 307.2 468.6 305.8 470 305.8 470.7 305.1 472.8 305.1 473.5 304.4 475.6 304.4Z" fill="#1ea7e1"/>
<path d="M476.3 303.7 490.3 303.7 491 304.4 493.1 304.4 493.8 305.1 495.9 305.1 496.6 305.8 498 305.8 500.1 307.2 500.8 307.2 501.5 307.9 502.2 307.9 504.3 309.3 505 309.3 506.3 310.7 507 310.7 509.8 313.5 510.5 313.5 514 317 514 317.7 516.8 320.5 516.8 321.2 518.2 322.5 518.2 323.2 519.6 325.3 519.6 326 520.3 326.7 520.3 327.4 521.7 329.5 521.7 330.9 522.4 331.6 522.4 333.7 523.1 334.4 523.1 336.5 523.8 337.2 523.8 351.2 523.1 351.9 523.1 354 522.4 354.7 522.4 356.8 521.7 357.5 521.7 358.9 521.2 359.4 518.2 357.3 514.7 355.8 511.2 354.8 505.2 354 503.6 353.2 502.9 351.2 503.7 344.9 503.7 342.1 503.2 338.6 502.5 335.8 501.3 333 499.4 330.1 496.6 327.5 493.8 325.8 490.3 324.4 486.1 323.4 481.9 323.1 478.4 323.4 474.2 324.7 470.7 326.3 467.9 328.3 465.5 330.9 463.6 335.1 462.7 340.7 463.3 347.7 464.9 353.3 466.1 355.4 467.7 357.5 471.4 360.4 475.6 362.2 484 364 486.2 365.2 486.9 366.5 487.6 372.8 489.3 376.3 492.5 379.8 497.1 382.6 496.6 382.6 495.9 383.3 493.8 383.3 493.1 384 491 384 490.3 384.7 476.3 384.7 475.6 384 473.5 384 472.8 383.3 470.7 383.3 470 382.6 468.6 382.6 467.9 381.9 467.2 381.9 465.1 380.5 464.4 380.5 462.3 379.1 461.6 379.1 460.3 377.7 459.6 377.7 456.8 374.9 456.1 374.9 452.6 371.4 452.6 370.7 449.8 367.9 449.8 367.2 448.4 365.9 448.4 365.2 447.7 364.5 447.7 363.8 446.3 361.7 446.3 361 444.9 358.9 444.9 357.5 444.2 356.8 444.2 354.7 443.5 354 443.5 351.9 442.8 351.2 442.8 337.2 443.5 336.5 443.5 334.4 444.2 333.7 444.2 331.6 444.9 330.9 444.9 329.5 445.6 328.8 445.6 328.1 447 326 447 325.3 448.4 323.2 448.4 322.5 449.8 321.2 449.8 320.5 452.6 317.7 452.6 317 456.1 313.5 456.8 313.5 459.6 310.7 460.3 310.7 461.6 309.3 462.3 309.3 464.4 307.9 465.1 307.9 465.8 307.2 466.5 307.2 468.6 305.8 470 305.8 470.7 305.1 472.8 305.1 473.5 304.4 475.6 304.4Z" fill="#18addb"/>
<path d="M476.3 303.7 490.3 303.7 491 304.4 493.1 304.4 493.8 305.1 495.9 305.1 496.6 305.8 498 305.8 500.1 307.2 500.8 307.2 501.5 307.9 502.2 307.9 504.3 309.3 505 309.3 506.3 310.7 507 310.7 509.8 313.5 510.5 313.5 514 317 514 317.7 516.8 320.5 516.8 321.2 518.2 322.5 518.2 323.2 519.6 325.3 519.6 326 520.3 326.7 520.3 327.4 521.7 329.5 521.7 330.9 522.4 331.6 522.4 333.7 523.1 334.4 523.1 336.5 523.8 337.2 523.8 351.2 523.1 351.9 523.1 354 522.4 354.7 522.4 356.8 521.7 357.7 518.9 355.9 515.4 354.4 511.9 353.5 506.5 352.6 505 351.7 504.3 349.8 504.6 344.2 504.4 340.7 503.8 337.2 502.6 333.7 501 330.9 499.3 328.8 496.7 326.7 493.8 325.1 490.3 323.8 486.1 322.8 481.9 322.6 478.4 322.9 474.2 324.1 470.7 325.7 467.3 328.1 465.1 330.5 464 332.3 463 335.1 462.3 341.4 462.9 348.4 463.8 351.9 464.9 354.7 467.2 358.3 470.7 361.1 475.6 363.3 481.9 364.8 484 365.9 484.8 367.2 485.7 372.8 487.1 376.3 490.3 380.2 494.8 383.3 493.8 383.3 493.1 384 491 384 490.3 384.7 476.3 384.7 475.6 384 473.5 384 472.8 383.3 470.7 383.3 470 382.6 468.6 382.6 467.9 381.9 467.2 381.9 465.1 380.5 464.4 380.5 462.3 379.1 461.6 379.1 460.3 377.7 459.6 377.7 456.8 374.9 456.1 374.9 452.6 371.4 452.6 370.7 449.8 367.9 449.8 367.2 448.4 365.9 448.4 365.2 447.7 364.5 447.7 363.8 446.3 361.7 446.3 361 444.9 358.9 444.9 357.5 444.2 356.8 444.2 354.7 443.5 354 443.5 351.9 442.8 351.2 442.8 337.2 443.5 336.5 443.5 334.4 444.2 333.7 444.2 331.6 444.9 330.9 444.9 329.5 445.6 328.8 445.6 328.1 447 326 447 325.3 448.4 323.2 448.4 322.5 449.8 321.2 449.8 320.5 452.6 317.7 452.6 317 456.1 313.5 456.8 313.5 459.6 310.7 460.3 310.7 461.6 309.3 462.3 309.3 464.4 307.9 465.1 307.9 465.8 307.2 466.5 307.2 468.6 305.8 470 305.8 470.7 305.1 472.8 305.1 473.5 304.4 475.6 304.4ZM475 368.6 474.9 370 475.6 370.5 476.3 370.6 477 370.2 477.3 369.3 477.1 368.6 476.3 368.1 475.6 368.1Z" fill="#0cb3d3"/>
<path d="M476.3 303.7 490.3 303.7 491 304.4 493.1 304.4 493.8 305.1 495.9 305.1 496.6 305.8 498 305.8 500.1 307.2 500.8 307.2 501.5 307.9 502.2 307.9 504.3 309.3 505 309.3 506.3 310.7 507 310.7 509.8 313.5 510.5 313.5 514 317 514 317.7 516.8 320.5 516.8 321.2 518.2 322.5 518.2 323.2 519.6 325.3 519.6 326 520.3 326.7 520.3 327.4 521.7 329.5 521.7 330.9 522.4 331.6 522.4 333.7 523.1 334.4 523.1 336.5 523.8 337.2 523.8 351.2 523.1 351.9 523.1 354 522.4 354.7 522.4 355.4 517.5 353.1 508.4 350.8 506.6 349.8 506 347.7 505.2 339.3 504.4 335.8 503 332.3 501.3 329.5 499.4 327.6 496.6 325.7 493.8 324.3 489.6 322.9 485.4 322.1 481.2 322 477.7 322.5 473.5 323.8 470 325.4 467.1 327.4 464.5 330.2 463.4 332.3 462.5 335.1 461.8 341.4 462.5 349.1 463.4 352.6 464.7 356.1 466.3 358.9 467.9 360.7 470 362.4 473.6 364.5 474.3 365.2 474.3 365.9 473 367.9 472.7 369.3 473 370.7 474.2 372.1 476.3 372.7 478.1 372.1 479.6 370.7 480.5 367.7 481.2 367.9 481.9 369.3 483.2 374.2 484.4 377 487.5 381 491.3 384 490.3 384.7 476.3 384.7 475.6 384 473.5 384 472.8 383.3 470.7 383.3 470 382.6 468.6 382.6 467.9 381.9 467.2 381.9 465.1 380.5 464.4 380.5 462.3 379.1 461.6 379.1 460.3 377.7 459.6 377.7 456.8 374.9 456.1 374.9 452.6 371.4 452.6 370.7 449.8 367.9 449.8 367.2 448.4 365.9 448.4 365.2 447.7 364.5 447.7 363.8 446.3 361.7 446.3 361 444.9 358.9 444.9 357.5 444.2 356.8 444.2 354.7 443.5 354 443.5 351.9 442.8 351.2 442.8 337.2 443.5 336.5 443.5 334.4 444.2 333.7 444.2 331.6 444.9 330.9 444.9 329.5 445.6 328.8 445.6 328.1 447 326 447 325.3 448.4 323.2 448.4 322.5 449.8 321.2 449.8 320.5 452.6 317.7 452.6 317 456.1 313.5 456.8 313.5 459.6 310.7 460.3 310.7 461.6 309.3 462.3 309.3 464.4 307.9 465.1 307.9 465.8 307.2 466.5 307.2 468.6 305.8 470 305.8 470.7 305.1 472.8 305.1 473.5 304.4 475.6 304.4Z" fill="#01b8c9"/>
<path d="M476.3 303.7 490.3 303.7 491 304.4 493.1 304.4 493.8 305.1 495.9 305.1 496.6 305.8 498 305.8 500.1 307.2 500.8 307.2 501.5 307.9 502.2 307.9 504.3 309.3 505 309.3 506.3 310.7 507 310.7 509.8 313.5 510.5 313.5 514 317 514 317.7 516.8 320.5 516.8 321.2 518.2 322.5 518.2 323.2 519.6 325.3 519.6 326 520.3 326.7 520.3 327.4 521.7 329.5 521.7 330.9 522.4 331.6 522.4 333.7 523.1 334.4 523.1 336.5 523.8 337.2 523.8 349.9 520.3 349.9 515.3 349.1 511.2 348.1 509.1 347 508.4 346 507.8 344.2 505.5 335.1 503.9 330.9 502 328.1 498.7 325.7 492.4 323 485.4 321.5 479.8 321.6 474.2 322.9 470 324.7 466.5 327 464.2 329.5 462.4 333 461.7 335.8 461.4 339.3 461.8 347.7 462.9 353.3 466 362.4 466.4 365.2 466.1 366.5 465.1 368.6 462.3 372.2 459.6 374.1 458.2 374.5 456.1 374.4 455.4 374.2 452.6 371.4 452.6 370.7 449.8 367.9 449.8 367.2 448.4 365.9 448.4 365.2 447 363.1 446.1 360.3 444.6 352.6 443.5 342.1 442.8 339.7 442.8 337.2 443.5 336.5 443.5 334.4 444.2 333.7 444.2 331.6 444.9 330.9 444.9 329.5 445.6 328.8 445.6 328.1 447 326 447 325.3 448.4 323.2 448.4 322.5 449.8 321.2 449.8 320.5 452.6 317.7 452.6 317 456.1 313.5 456.8 313.5 459.6 310.7 460.3 310.7 461.6 309.3 462.3 309.3 464.4 307.9 465.1 307.9 465.8 307.2 466.5 307.2 468.6 305.8 470 305.8 470.7 305.1 472.8 305.1 473.5 304.4 475.6 304.4Z" fill="#08bcbe"/>
<path d="M476.3 303.7 490.3 303.7 491 304.4 493.1 304.4 493.8 305.1 495.9 305.1 496.6 305.8 498 305.8 500.1 307.2 500.8 307.2 501.5 307.9 502.2 307.9 504.3 309.3 505 309.3 506.3 310.7 507 310.7 509.8 313.5 510.5 313.5 514 317 514 317.7 516.8 320.5 516.8 321.2 518.2 322.5 518.2 323.2 519.6 325.3 519.6 326 520.3 326.7 520.3 327.4 521.7 329.5 521.7 330.9 522.4 331.6 522.4 333.7 523.1 334.4 523.1 336.5 523.8 337.2 523.8 342.5 521 344 517.5 344.6 514 344 511.2 342.5 509.8 341 508.4 338.2 505.9 328.1 505 326.7 502.9 325.5 492.4 322.2 486.1 320.9 479.8 320.9 474.2 322.2 470 324 466.5 326.1 463.7 328.8 462.2 331.6 461.1 335.8 460.8 341.4 461.2 347.7 462.7 357.5 462.6 360.3 461.7 362.4 460.3 363.9 458.2 365 456.1 364.9 454 363.6 452.6 362 451.2 359.6 450.1 356.8 448.5 349.1 447.8 334.4 446.9 331.6 445.1 329.3 445.6 328.8 445.6 328.1 446.3 327.4 446.3 326.7 447 326 447 325.3 447.7 324.6 447.7 323.9 448.4 323.2 448.4 322.5 449.8 321.2 449.8 320.5 452.6 317.7 452.6 317 456.1 313.5 456.8 313.5 459.6 310.7 460.3 310.7 461.6 309.3 462.3 309.3 464.4 307.9 465.1 307.9 465.8 307.2 466.5 307.2 468.6 305.8 470 305.8 470.7 305.1 472.8 305.1 473.5 304.4 475.6 304.4Z" fill="#1cc0b4"/>
<path d="M476.3 303.7 490.3 303.7 491 304.4 493.1 304.4 493.8 305.1 495.9 305.1 496.6 305.8 498 305.8 500.1 307.2 500.8 307.2 501.5 307.9 502.2 307.9 504.3 309.3 505 309.3 506.3 310.7 507 310.7 509.8 313.5 510.5 313.5 513.2 316.1 511.2 318.6 509.8 319.8 507.7 320.8 505 321.6 501.5 322.2 498.7 322.2 486.1 320.2 479.8 320.2 476.3 320.9 472.1 322.2 467.9 324.2 465.1 326 463.6 327.4 462.1 329.5 461.2 331.6 460.5 335.1 460.2 341.4 461.2 354 461 357.5 460.3 359 458.9 360.3 457.5 360.7 456.1 360.4 454.7 359.5 453.3 357.8 452 355.4 451.1 352.6 450.2 345.6 450.5 334.4 450.3 331.6 449.1 328.3 447 325.3 448.4 323.2 448.4 322.5 449.8 321.2 449.8 320.5 452.6 317.7 452.6 317 456.1 313.5 456.8 313.5 459.6 310.7 460.3 310.7 461.6 309.3 462.3 309.3 464.4 307.9 465.1 307.9 465.8 307.2 466.5 307.2 468.6 305.8 470 305.8 470.7 305.1 472.8 305.1 473.5 304.4 475.6 304.4ZM514.7 325.8 516.8 325.7 519.6 326.5 520.3 326.8 520.3 327.4 521 328.1 521 328.8 521.7 329.5 521.7 330.9 522.4 331.6 522.4 333.7 523.1 334.4 523.1 336.5 523.4 336.8 521.7 338.9 519.6 340.1 516.8 340.4 514.7 339.9 512.6 338.4 511 335.8 510.5 333 510.9 330.2 512.3 327.4 514.2 326Z" fill="#2bc3a8"/>
<path d="M476.3 303.7 490.3 303.7 491 304.4 493.1 304.4 493.8 305.1 495.9 305.1 496.6 305.8 498 305.8 500.1 307.2 500.8 307.2 501.5 307.9 502.2 307.9 504.3 309.3 505 309.3 506.3 310.7 507 310.7 509.8 313.5 510.6 313.5 507 317.2 504.3 318.7 501.5 319.7 498.7 320.2 495.9 320.4 484.7 319.3 479.1 319.5 475.6 320.3 470.7 321.9 466.5 323.9 463.7 325.7 461.1 328.8 459.8 333 459.5 339.3 460.1 351.9 459.8 354.7 459.2 356.1 458.2 357 457.5 357.2 456.1 356.9 454.7 355.7 453.3 353.3 451.9 347.7 451.6 342.8 452.6 333 452.5 329.5 451.2 326.3 448.4 322.5 449.8 321.2 449.8 320.5 452.6 317.7 452.6 317 456.1 313.5 456.8 313.5 459.6 310.7 460.3 310.7 461.6 309.3 462.3 309.3 464.4 307.9 465.1 307.9 465.8 307.2 466.5 307.2 468.6 305.8 470 305.8 470.7 305.1 472.8 305.1 473.5 304.4 475.6 304.4ZM516.8 332.3 517.5 332.2 518.2 332.6 518.5 333.7 518.2 334.4 517.5 334.7 516.7 334.4 516.2 333.7 516.3 333 516.8 332.3Z" fill="#34c79c"/>
<path d="M476.3 303.7 490.3 303.7 491 304.4 493.1 304.4 493.8 305.1 495.9 305.1 496.6 305.8 498 305.8 500.1 307.2 500.8 307.2 501.5 307.9 502.2 307.9 504.3 309.3 505 309.3 506.3 310.7 507 310.7 508.3 311.9 506.5 314.2 505 315.6 502.9 316.8 500.1 317.9 494.5 318.8 483.3 318.3 477.7 318.9 472.8 320.2 467.2 322.3 463.9 323.9 460.8 326 458.8 328.1 457.7 330.2 458.9 343.1 459 349.8 458.9 351.3 458.2 353.1 457.5 353.7 456.8 353.8 455.4 352.9 454.4 351.2 453.5 348.4 453.1 344.9 453.6 338.6 454.7 334.6 455.8 331.6 456 329.5 454.2 326 449.9 320.4 452.6 317.7 452.6 317 456.1 313.5 456.8 313.5 459.6 310.7 460.3 310.7 461.6 309.3 462.3 309.3 464.4 307.9 465.1 307.9 465.8 307.2 466.5 307.2 468.6 305.8 470 305.8 470.7 305.1 472.8 305.1 473.5 304.4 475.6 304.4Z" fill="#3fca8e"/>
<path d="M476.3 303.7 490.3 303.7 491 304.4 493.1 304.4 493.8 305.1 495.9 305.1 496.6 305.8 498 305.8 500.1 307.2 500.8 307.2 501.5 307.9 502.2 307.9 504.3 309.3 505 309.3 506.2 310.5 504.6 312.8 503.2 314.2 500.8 315.6 498 316.6 493.1 317.4 482.6 317.3 477.7 317.8 471.4 319.5 458.9 323.9 456.8 323.7 455.4 322.9 451.6 318.6 452.6 317.7 452.6 317 456.1 313.5 456.8 313.5 459.6 310.7 460.3 310.7 461.6 309.3 462.3 309.3 464.4 307.9 465.1 307.9 465.8 307.2 466.5 307.2 468.6 305.8 470 305.8 470.7 305.1 472.8 305.1 473.5 304.4 475.6 304.4ZM456.1 339.4 456.9 340 457.6 343.5 457.6 347.7 456.8 349.3 456.1 349 455.4 347.9 454.9 345.6 454.9 342.8 455.6 340Z" fill="#52cc7e"/>
<path d="M476.3 303.7 490.3 303.7 491 304.4 493.1 304.4 493.8 305.1 495.9 305.1 496.6 305.8 498 305.8 498.7 306.5 499.4 306.5 500.1 307.2 500.8 307.2 501.5 307.9 502.2 307.9 502.9 308.6 503.6 308.6 504.2 309.2 502.9 311.4 501.5 312.9 499.4 314.2 496.6 315.2 491.7 316 482.6 316.1 478.4 316.5 461 321.1 458.9 321.2 456.8 320.5 454.9 319.1 453 316.5 456.1 313.5 456.8 313.5 459.6 310.7 460.3 310.7 461.6 309.3 462.3 309.3 464.4 307.9 465.1 307.9 465.8 307.2 466.5 307.2 468.6 305.8 470 305.8 470.7 305.1 472.8 305.1 473.5 304.4 475.6 304.4Z" fill="#66cd6d"/>
<path d="M476.3 303.7 490.3 303.7 491 304.4 493.1 304.4 493.8 305.1 495.9 305.1 496.6 305.8 498 305.8 498.7 306.5 499.4 306.5 500.1 307.2 500.8 307.2 501.5 307.9 502.2 307.9 500.8 310.4 499.4 311.9 497.3 313.1 495.2 313.9 491 314.5 478.4 315.2 463.7 318.7 460.3 318.9 458.2 318.4 456.8 317.4 454.7 314.8 456.1 313.5 456.8 313.5 459.6 310.7 460.3 310.7 461.6 309.3 462.3 309.3 464.4 307.9 465.1 307.9 465.8 307.2 466.5 307.2 468.6 305.8 470 305.8 470.7 305.1 472.8 305.1 473.5 304.4 475.6 304.4Z" fill="#7dcc5c"/>
<path d="M476.3 303.7 490.3 303.7 491 304.4 493.1 304.4 493.8 305.1 495.9 305.1 496.6 305.8 498 305.8 498.7 306.5 499.4 306.5 499.8 306.9 498.7 309.3 497.3 310.8 494.9 312.1 491.7 312.9 479.1 313.8 467.9 316.3 463 316.9 461 316.7 459.6 316.2 458.2 315.1 456.9 313.3 459.6 310.7 460.3 310.7 461.6 309.3 462.3 309.3 464.4 307.9 465.1 307.9 465.8 307.2 466.5 307.2 468.6 305.8 470 305.8 470.7 305.1 472.8 305.1 473.5 304.4 475.6 304.4Z" fill="#94ca4a"/>
<path d="M476.3 303.7 490.3 303.7 491 304.4 493.1 304.4 493.8 305.1 495.9 305.1 496.6 305.8 497.2 305.8 496.4 307.9 495.4 309.3 492.4 310.9 488.9 311.6 478.4 312.4 467.2 314.7 463.7 314.8 461.6 314.2 460.6 313.5 459.1 311.2 459.6 310.7 460.3 310.7 461.6 309.3 462.3 309.3 464.4 307.9 465.1 307.9 465.8 307.2 466.5 307.2 468.6 305.8 470 305.8 470.7 305.1 472.8 305.1 473.5 304.4 475.6 304.4Z" fill="#aac73a"/>
<path d="M476.3 303.7 490.3 303.7 491 304.4 493.1 304.4 493.7 305 493.1 307.2 492.6 307.9 490.1 309.3 486.8 309.9 477.7 310.8 469.3 312.4 466.5 312.5 464.4 312.1 463.5 311.4 462.2 309.3 463 308.6 463.7 308.6 464.4 307.9 465.1 307.9 465.8 307.2 466.5 307.2 467.2 306.5 467.9 306.5 468.6 305.8 470 305.8 470.7 305.1 472.8 305.1 473.5 304.4 475.6 304.4Z" fill="#bfc32e"/>
<path d="M476.3 303.7 488.2 303.7 487.9 305.8 487.4 306.5 486.1 307.2 472.5 309.3 470 309.4 468.6 308.9 467.4 306.5 467.9 306.5 468.6 305.8 470 305.8 470.7 305.1 472.8 305.1 473.5 304.4 475.6 304.4Z" fill="#d2bf27"/>
<path d="M480.5 332.2 476.3 333.7 474.3 335.1 473.1 336.5 472.1 338.1 471.5 340 471.4 344.2 472.8 348 474.2 349.7 475.6 350.9 477.4 351.9 479.5 352.6 481.9 352.9 484 352.8 486.1 352.3 488.2 351.3 491 348.9 492.1 347 492.9 344.9 493.2 342.8 493.1 340.7 491.9 337.2 489.4 334.4 487.5 333.3 485.4 332.5 481.2 332.1M478.4 328.8 475.6 329.8 472.8 331.4 470.7 333.3 469 335.8 467.9 338.6 467.6 341.4 467.8 344.9 468.5 347.7 469.9 350.5 471.4 352.4 473.5 354.1 475.8 355.4 478.4 356.3 481.9 356.8 485.4 356.6 488.2 355.9 490.3 355 492.6 353.3 494.5 351.1 495.9 348.6 496.7 346.3 497.2 343.5 497.2 340.7 496.5 337.9 495.2 335.1 493.8 333.2 492.1 331.6 489.9 330.2 487.5 329.2 484.7 328.5 481.9 328.3 479.1 328.7M516.8 368 515.9 365.9 514 363.8 511.6 362.4 509.1 361.6 506.3 361.4 503.6 361.7 500.8 362.7 498.2 364.5 496.8 366.5 496.3 368.6 496.5 371.4 497.7 373.5 499.4 375.2 501.5 376.4 504.3 377.3 507.3 377.5M477.7 326.6 473.8 328.1 470.7 330.1 468.5 332.3 466.7 335.1 465.7 338.6 465.4 342.1 465.8 346.3 466.8 349.8 468.4 352.6 470.2 354.7 472.8 356.6 475.6 358 481.2 359.2 491.7 359.3 492.4 358.8 496.5 353.3 499 347.7 499.6 344.9 499.8 342.1 499.5 339.3 498.7 336.4 497.3 333.7 495.7 331.6 493.4 329.5 491 328.1 488.2 327 484.7 326.2 481.2 326.1 478.4 326.5M520 362 517 359.6 513.3 357.8 509.1 356.8 502.2 356.4 500.8 355.7 500.3 354.7 500.4 353.3 502.2 344.2 501.8 338.6 500.7 335.1 499.3 332.3 496.9 329.5 494.2 327.4 491 325.8 487.5 324.7 484 324.1 480.5 324.2 477 324.8 473.5 326 470.7 327.6 467.9 329.8 466.4 331.6 464.9 334.4 464 337.2 463.7 340 463.7 344.2 464.2 347.7 465.1 351 466.5 353.8 467.9 355.7 469.8 357.5 474.2 360.1 478.4 361.3 486.1 362.3 488.2 363.1 489.9 365.2 490.4 371.4 491 373.5 492.2 375.6 493.8 377.4 495.9 379.1 500.3 381.2M522.4 355.4 517.5 353.1 508.4 350.8 506.6 349.8 506 347.7 505.2 339.3 504.4 335.8 503 332.3 501.8 330.2 500 328.1 498 326.5 495.2 324.9 491.7 323.5 487.5 322.5 483.3 322 479.8 322.1 476.3 322.8 472.8 324.1 469.3 325.9 466.5 327.9 464.5 330.2 463.4 332.3 462.5 335.1 461.9 338.6 461.8 342.8 462.3 347.7 463.2 351.9 464.4 355.5 465.8 358.1 467.9 360.7 470 362.4 473.6 364.5 474.3 365.2 474.3 365.9 472.8 368.6 472.8 370 473.5 371.5 474.3 372.1 475.6 372.7 477.7 372.3 479.6 370.7 480.5 367.7 481.2 367.9 481.9 369.3 483.2 374.2 484.8 377.7 487.7 381.2 491.3 384M510.6 313.5 507 317.2 504.3 318.7 501.5 319.7 498.7 320.2 495.9 320.4 484.7 319.3 479.1 319.5 475.6 320.3 470.7 321.9 466.5 323.9 463.7 325.7 461.1 328.8 459.9 332.3 459.5 338.6 460 353.3 459.2 356.1 458.2 357 457.5 357.2 456.1 356.9 454.7 355.7 453.6 354 452.5 351.2 451.9 347.7 451.6 343.5 452.6 333 452.6 330.2 451.4 326.7 448.4 322.6M516.8 332.3 517.5 332.2 518.2 332.6 518.5 333.7 518.2 334.4 517.5 334.7 516.7 334.4 516.2 333.7 516.3 333 516.8 332.3M502.2 307.9 500.8 310.4 499.4 311.9 497.3 313.1 495.2 313.9 491 314.5 478.4 315.2 463.7 318.7 460.3 318.9 458.2 318.4 456.8 317.4 454.7 314.8M488.2 303.7 487.9 305.8 487.4 306.5 486.1 307.2 472.5 309.3 470 309.4 468.6 308.9 467.4 306.5" fill="none" stroke="#2a2a2a" stroke-opacity="0.55" stroke-width="0.45"/>
</g>
<circle cx="483.30" cy="344.20" r="38.80" fill="none" stroke="#333" stroke-width="1"/>
<path d="M476.5 305.6 L483.3 299.1 L490.1 305.6 Z" fill="none" stroke="#333" stroke-width="0.9" stroke-linejoin="miter"/>
<path d="M444.8 337.4 L442.1 337.4 Q440.6 337.4 440.6 339.4 L440.6 352.3 Q440.6 354.8 442.4 354.8 L444.8 354.8" fill="none" stroke="#555" stroke-width="0.9"/>
<path d="M521.8 337.4 L524.5 337.4 Q526.0 337.4 526.0 339.4 L526.0 352.3 Q526.0 354.8 524.2 354.8 L521.8 354.8" fill="none" stroke="#555" stroke-width="0.9"/>
<defs><linearGradient id="parg" x1="0" y1="0" x2="0" y2="1"><stop offset="0.000" stop-color="#f9fb15"/><stop offset="0.016" stop-color="#f7f51b"/><stop offset="0.032" stop-color="#f6ef20"/><stop offset="0.048" stop-color="#f5e924"/><stop offset="0.063" stop-color="#f5e327"/><stop offset="0.079" stop-color="#f7dc2a"/><stop offset="0.095" stop-color="#fad62d"/><stop offset="0.111" stop-color="#fccf30"/><stop offset="0.127" stop-color="#fec934"/><stop offset="0.143" stop-color="#fec338"/><stop offset="0.159" stop-color="#febe3c"/><stop offset="0.175" stop-color="#f8ba3d"/><stop offset="0.190" stop-color="#f0ba36"/><stop offset="0.206" stop-color="#e6bb2d"/><stop offset="0.222" stop-color="#dcbd29"/><stop offset="0.238" stop-color="#d1bf27"/><stop offset="0.254" stop-color="#c5c22a"/><stop offset="0.270" stop-color="#b9c431"/><stop offset="0.286" stop-color="#abc739"/><stop offset="0.302" stop-color="#9dc943"/><stop offset="0.317" stop-color="#8fcb4e"/><stop offset="0.333" stop-color="#81cc59"/><stop offset="0.349" stop-color="#72cd64"/><stop offset="0.365" stop-color="#64cd6f"/><stop offset="0.381" stop-color="#57cc7a"/><stop offset="0.397" stop-color="#4acb84"/><stop offset="0.413" stop-color="#3fca8e"/><stop offset="0.429" stop-color="#37c897"/><stop offset="0.444" stop-color="#31c69f"/><stop offset="0.460" stop-color="#2cc4a7"/><stop offset="0.476" stop-color="#24c1ae"/><stop offset="0.492" stop-color="#19bfb6"/><stop offset="0.508" stop-color="#0bbdbd"/><stop offset="0.524" stop-color="#02bac3"/><stop offset="0.540" stop-color="#01b8ca"/><stop offset="0.556" stop-color="#08b5d0"/><stop offset="0.571" stop-color="#12b1d6"/><stop offset="0.587" stop-color="#18addb"/><stop offset="0.603" stop-color="#1ca9df"/><stop offset="0.619" stop-color="#20a5e3"/><stop offset="0.635" stop-color="#23a0e5"/><stop offset="0.651" stop-color="#259be8"/><stop offset="0.667" stop-color="#2797eb"/><stop offset="0.683" stop-color="#2b91ef"/><stop offset="0.698" stop-color="#2d8cf3"/><stop offset="0.714" stop-color="#2e87f7"/><stop offset="0.730" stop-color="#2f81fa"/><stop offset="0.746" stop-color="#327cfc"/><stop offset="0.762" stop-color="#3875fe"/><stop offset="0.778" stop-color="#3e6fff"/><stop offset="0.794" stop-color="#4269fe"/><stop offset="0.810" stop-color="#4563fd"/><stop offset="0.825" stop-color="#465efb"/><stop offset="0.841" stop-color="#4758f8"/><stop offset="0.857" stop-color="#4852f4"/><stop offset="0.873" stop-color="#484df0"/><stop offset="0.889" stop-color="#4747eb"/><stop offset="0.905" stop-color="#4741e5"/><stop offset="0.921" stop-color="#463cde"/><stop offset="0.937" stop-color="#4537d5"/><stop offset="0.952" stop-color="#4332cb"/><stop offset="0.968" stop-color="#422ec0"/><stop offset="0.984" stop-color="#402ab4"/><stop offset="1.000" stop-color="#3e26a8"/></linearGradient></defs>
<rect x="409.3" y="53.0" width="4.6" height="75.8" fill="url(#parg)"/>
<text x="415.3" y="55.0" font-size="5.5" fill="#555">2</text>
<text x="415.3" y="80.3" font-size="5.5" fill="#555">1.5</text>
<text x="415.3" y="105.5" font-size="5.5" fill="#555">1</text>
<text x="415.3" y="130.8" font-size="5.5" fill="#555">0.5</text>
<text x="411.8" y="46.8" font-size="7" fill="#555" text-anchor="middle">[&#956;V]</text>
<rect x="532.3" y="53.5" width="4.6" height="76.8" fill="url(#parg)"/>
<text x="538.3" y="55.5" font-size="5.5" fill="#555">3</text>
<text x="538.3" y="74.7" font-size="5.5" fill="#555">2.5</text>
<text x="538.3" y="93.9" font-size="5.5" fill="#555">2</text>
<text x="538.3" y="113.1" font-size="5.5" fill="#555">1.5</text>
<text x="538.3" y="132.3" font-size="5.5" fill="#555">1</text>
<text x="534.8" y="47.3" font-size="7" fill="#555" text-anchor="middle">[&#956;V]</text>
<rect x="409.3" y="181.0" width="4.6" height="75.3" fill="url(#parg)"/>
<text x="415.3" y="183.0" font-size="5.5" fill="#555">2</text>
<text x="415.3" y="208.1" font-size="5.5" fill="#555">1.5</text>
<text x="415.3" y="233.2" font-size="5.5" fill="#555">1</text>
<text x="415.3" y="258.3" font-size="5.5" fill="#555">0.5</text>
<text x="411.8" y="174.8" font-size="7" fill="#555" text-anchor="middle">[&#956;V]</text>
<rect x="532.3" y="181.0" width="4.6" height="76.2" fill="url(#parg)"/>
<text x="538.3" y="183.0" font-size="5.5" fill="#555">3</text>
<text x="538.3" y="202.1" font-size="5.5" fill="#555">2.5</text>
<text x="538.3" y="221.1" font-size="5.5" fill="#555">2</text>
<text x="538.3" y="240.1" font-size="5.5" fill="#555">1.5</text>
<text x="538.3" y="259.2" font-size="5.5" fill="#555">1</text>
<text x="534.8" y="174.8" font-size="7" fill="#555" text-anchor="middle">[&#956;V]</text>
<rect x="409.3" y="310.8" width="4.6" height="71.7" fill="url(#parg)"/>
<text x="415.3" y="312.8" font-size="5.5" fill="#555">0.5</text>
<text x="415.3" y="348.6" font-size="5.5" fill="#555">0</text>
<text x="415.3" y="384.5" font-size="5.5" fill="#555">-0.5</text>
<text x="411.8" y="304.6" font-size="7" fill="#555" text-anchor="middle">[&#956;V]</text>
<rect x="530.6" y="310.8" width="4.6" height="72.4" fill="url(#parg)"/>
<text x="536.6" y="312.8" font-size="5.5" fill="#555">0.5</text>
<text x="536.6" y="349.0" font-size="5.5" fill="#555">0</text>
<text x="536.6" y="385.2" font-size="5.5" fill="#555">-0.5</text>
<text x="533.1" y="304.6" font-size="7" fill="#555" text-anchor="middle">[&#956;V]</text>
<circle cx="336.4" cy="322.4" r="1.3" fill="#111"/>
<circle cx="343.0" cy="322.8" r="1.3" fill="#111"/>
<circle cx="349.6" cy="323.9" r="1.3" fill="#111"/>
<circle cx="332.2" cy="341.9" r="1.3" fill="#111"/>
<circle cx="340.5" cy="341.4" r="1.3" fill="#111"/>
</svg>
</body></html>
